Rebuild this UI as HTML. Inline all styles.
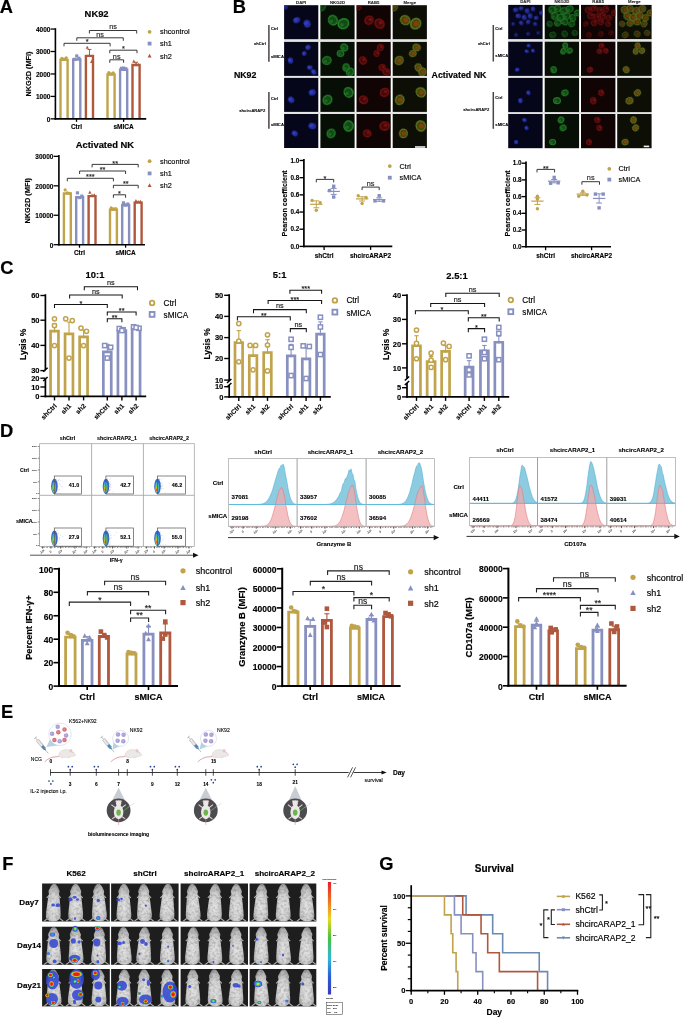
<!DOCTYPE html>
<html><head><meta charset="utf-8"><style>
html,body{margin:0;padding:0;background:#fff;}
svg{display:block;}
text{stroke:currentColor;paint-order:stroke;}
</style></head><body>
<svg width="685" height="1018" viewBox="0 0 685 1018">
<rect width="685" height="1018" fill="#fff"/>
<path d="M60.50,118.85 L60.50,59.88 L67.60,59.88 L67.60,118.85" fill="none" stroke="#C0A34B" stroke-width="2.4" stroke-linejoin="miter"/>
<circle cx="61.85" cy="58.23" r="1.60" fill="#C0A34B"/>
<circle cx="64.05" cy="59.13" r="1.60" fill="#C0A34B"/>
<circle cx="66.25" cy="57.79" r="1.60" fill="#C0A34B"/>
<path d="M73.20,118.85 L73.20,59.44 L80.30,59.44 L80.30,118.85" fill="none" stroke="#8890C0" stroke-width="2.4" stroke-linejoin="miter"/>
<rect x="72.95" y="57.76" width="3.20" height="3.20" fill="#8890C0"/>
<rect x="75.15" y="54.39" width="3.20" height="3.20" fill="#8890C0"/>
<rect x="77.35" y="56.63" width="3.20" height="3.20" fill="#8890C0"/>
<line x1="89.45" y1="49.48" x2="89.45" y2="57.04" stroke="#B0583E" stroke-width="1.0"/>
<line x1="87.45" y1="49.48" x2="91.45" y2="49.48" stroke="#B0583E" stroke-width="1.0"/>
<path d="M85.90,118.85 L85.90,55.84 L93.00,55.84 L93.00,118.85" fill="none" stroke="#B0583E" stroke-width="2.4" stroke-linejoin="miter"/>
<path d="M87.25,45.70 L88.93,48.87 L85.57,48.87 Z" fill="#B0583E"/>
<path d="M89.45,53.78 L91.13,56.95 L87.77,56.95 Z" fill="#B0583E"/>
<path d="M91.65,59.84 L93.33,63.01 L89.97,63.01 Z" fill="#B0583E"/>
<path d="M107.50,118.85 L107.50,74.48 L114.60,74.48 L114.60,118.85" fill="none" stroke="#C0A34B" stroke-width="2.4" stroke-linejoin="miter"/>
<circle cx="108.85" cy="72.60" r="1.60" fill="#C0A34B"/>
<circle cx="111.05" cy="73.95" r="1.60" fill="#C0A34B"/>
<circle cx="113.25" cy="72.83" r="1.60" fill="#C0A34B"/>
<path d="M120.10,118.85 L120.10,69.76 L127.20,69.76 L127.20,118.85" fill="none" stroke="#8890C0" stroke-width="2.4" stroke-linejoin="miter"/>
<rect x="119.85" y="66.74" width="3.20" height="3.20" fill="#8890C0"/>
<rect x="122.05" y="66.51" width="3.20" height="3.20" fill="#8890C0"/>
<rect x="124.25" y="67.19" width="3.20" height="3.20" fill="#8890C0"/>
<line x1="136.05" y1="62.28" x2="136.05" y2="66.25" stroke="#B0583E" stroke-width="1.0"/>
<line x1="134.05" y1="62.28" x2="138.05" y2="62.28" stroke="#B0583E" stroke-width="1.0"/>
<path d="M132.50,118.85 L132.50,65.05 L139.60,65.05 L139.60,118.85" fill="none" stroke="#B0583E" stroke-width="2.4" stroke-linejoin="miter"/>
<path d="M133.85,59.62 L135.53,62.79 L132.17,62.79 Z" fill="#B0583E"/>
<path d="M136.05,62.54 L137.73,65.70 L134.37,65.70 Z" fill="#B0583E"/>
<path d="M138.25,62.76 L139.93,65.93 L136.57,65.93 Z" fill="#B0583E"/>
<line x1="55.40" y1="28.20" x2="55.40" y2="119.65" stroke="#000" stroke-width="1.6"/>
<line x1="50.60" y1="118.85" x2="55.40" y2="118.85" stroke="#000" stroke-width="1.2800000000000002"/>
<text x="50.40" y="121.77" font-size="6.5" font-weight="bold" text-anchor="end" fill="#000" color="#000" stroke-width="0.123" font-family="'Liberation Sans', Arial, sans-serif">0</text>
<line x1="50.60" y1="96.40" x2="55.40" y2="96.40" stroke="#000" stroke-width="1.2800000000000002"/>
<text x="50.40" y="99.32" font-size="6.5" font-weight="bold" text-anchor="end" fill="#000" color="#000" stroke-width="0.123" font-family="'Liberation Sans', Arial, sans-serif">1000</text>
<line x1="50.60" y1="73.95" x2="55.40" y2="73.95" stroke="#000" stroke-width="1.2800000000000002"/>
<text x="50.40" y="76.87" font-size="6.5" font-weight="bold" text-anchor="end" fill="#000" color="#000" stroke-width="0.123" font-family="'Liberation Sans', Arial, sans-serif">2000</text>
<line x1="50.60" y1="51.50" x2="55.40" y2="51.50" stroke="#000" stroke-width="1.2800000000000002"/>
<text x="50.40" y="54.42" font-size="6.5" font-weight="bold" text-anchor="end" fill="#000" color="#000" stroke-width="0.123" font-family="'Liberation Sans', Arial, sans-serif">3000</text>
<line x1="50.60" y1="29.05" x2="55.40" y2="29.05" stroke="#000" stroke-width="1.2800000000000002"/>
<text x="50.40" y="31.97" font-size="6.5" font-weight="bold" text-anchor="end" fill="#000" color="#000" stroke-width="0.123" font-family="'Liberation Sans', Arial, sans-serif">4000</text>
<line x1="54.60" y1="118.85" x2="146.20" y2="118.85" stroke="#000" stroke-width="1.6"/>
<line x1="76.50" y1="118.85" x2="76.50" y2="121.85" stroke="#000" stroke-width="1.2800000000000002"/>
<text x="76.50" y="128.85" font-size="6.5" font-weight="bold" text-anchor="middle" fill="#000" color="#000" stroke-width="0.123" font-family="'Liberation Sans', Arial, sans-serif">Ctrl</text>
<line x1="123.60" y1="118.85" x2="123.60" y2="121.85" stroke="#000" stroke-width="1.2800000000000002"/>
<text x="123.60" y="128.85" font-size="6.5" font-weight="bold" text-anchor="middle" fill="#000" color="#000" stroke-width="0.123" font-family="'Liberation Sans', Arial, sans-serif">sMICA</text>
<path d="M89.40,33.50 L89.40,30.50 L136.70,30.50 L136.70,33.50" fill="none" stroke="#222" stroke-width="0.9"/>
<text x="113.05" y="29.20" font-size="7.3" text-anchor="middle" fill="#222" color="#222" stroke-width="0.139" font-family="'Liberation Sans', Arial, sans-serif">ns</text>
<path d="M76.80,40.80 L76.80,37.80 L123.30,37.80 L123.30,40.80" fill="none" stroke="#222" stroke-width="0.9"/>
<text x="100.05" y="36.50" font-size="7.3" text-anchor="middle" fill="#222" color="#222" stroke-width="0.139" font-family="'Liberation Sans', Arial, sans-serif">ns</text>
<path d="M64.00,46.30 L64.00,43.30 L110.10,43.30 L110.10,46.30" fill="none" stroke="#222" stroke-width="0.9"/>
<text x="87.05" y="44.47" font-size="7.3" text-anchor="middle" fill="#222" color="#222" stroke-width="0.139" font-family="'Liberation Sans', Arial, sans-serif">*</text>
<path d="M109.80,53.20 L109.80,50.20 L137.00,50.20 L137.00,53.20" fill="none" stroke="#222" stroke-width="0.9"/>
<text x="123.40" y="51.37" font-size="7.3" text-anchor="middle" fill="#222" color="#222" stroke-width="0.139" font-family="'Liberation Sans', Arial, sans-serif">*</text>
<path d="M109.80,62.80 L109.80,59.80 L123.60,59.80 L123.60,62.80" fill="none" stroke="#222" stroke-width="0.9"/>
<text x="116.70" y="58.50" font-size="7.3" text-anchor="middle" fill="#222" color="#222" stroke-width="0.139" font-family="'Liberation Sans', Arial, sans-serif">ns</text>
<text x="96.60" y="17.00" font-size="9.4" font-weight="bold" text-anchor="middle" fill="#000" color="#000" stroke-width="0.179" font-family="'Liberation Sans', Arial, sans-serif">NK92</text>
<text x="30.60" y="74.00" font-size="7.3" font-weight="bold" text-anchor="middle" fill="#000" color="#000" stroke-width="0.139" font-family="'Liberation Sans', Arial, sans-serif" transform="rotate(-90 30.60 74.00)">NKG2D (MFI)</text>
<circle cx="149.60" cy="31.80" r="1.90" fill="#C0A34B"/>
<text x="160.00" y="34.43" font-size="7.3" text-anchor="start" fill="#000" color="#000" stroke-width="0.139" font-family="'Liberation Sans', Arial, sans-serif">shcontrol</text>
<rect x="147.70" y="41.70" width="3.80" height="3.80" fill="#8890C0"/>
<text x="160.00" y="46.23" font-size="7.3" text-anchor="start" fill="#000" color="#000" stroke-width="0.139" font-family="'Liberation Sans', Arial, sans-serif">sh1</text>
<path d="M149.60,53.81 L151.59,57.57 L147.60,57.57 Z" fill="#B0583E"/>
<text x="160.00" y="58.53" font-size="7.3" text-anchor="start" fill="#000" color="#000" stroke-width="0.139" font-family="'Liberation Sans', Arial, sans-serif">sh2</text>
<path d="M63.90,244.70 L63.90,193.48 L70.80,193.48 L70.80,244.70" fill="none" stroke="#C0A34B" stroke-width="2.4" stroke-linejoin="miter"/>
<circle cx="65.15" cy="189.92" r="1.60" fill="#C0A34B"/>
<circle cx="67.35" cy="192.87" r="1.60" fill="#C0A34B"/>
<circle cx="69.55" cy="193.46" r="1.60" fill="#C0A34B"/>
<path d="M76.20,244.70 L76.20,197.31 L83.10,197.31 L83.10,244.70" fill="none" stroke="#8890C0" stroke-width="2.4" stroke-linejoin="miter"/>
<rect x="75.85" y="191.27" width="3.20" height="3.20" fill="#8890C0"/>
<rect x="78.05" y="195.98" width="3.20" height="3.20" fill="#8890C0"/>
<rect x="80.25" y="194.51" width="3.20" height="3.20" fill="#8890C0"/>
<path d="M88.60,244.70 L88.60,196.13 L95.50,196.13 L95.50,244.70" fill="none" stroke="#B0583E" stroke-width="2.4" stroke-linejoin="miter"/>
<path d="M89.85,190.52 L91.53,193.69 L88.17,193.69 Z" fill="#B0583E"/>
<path d="M92.05,193.46 L93.73,196.63 L90.37,196.63 Z" fill="#B0583E"/>
<path d="M94.25,193.17 L95.93,196.34 L92.57,196.34 Z" fill="#B0583E"/>
<path d="M110.00,244.70 L110.00,209.68 L116.90,209.68 L116.90,244.70" fill="none" stroke="#C0A34B" stroke-width="2.4" stroke-linejoin="miter"/>
<circle cx="111.25" cy="207.89" r="1.60" fill="#C0A34B"/>
<circle cx="113.45" cy="208.77" r="1.60" fill="#C0A34B"/>
<circle cx="115.65" cy="208.48" r="1.60" fill="#C0A34B"/>
<path d="M122.20,244.70 L122.20,205.26 L129.10,205.26 L129.10,244.70" fill="none" stroke="#8890C0" stroke-width="2.4" stroke-linejoin="miter"/>
<rect x="121.85" y="201.28" width="3.20" height="3.20" fill="#8890C0"/>
<rect x="124.05" y="203.34" width="3.20" height="3.20" fill="#8890C0"/>
<rect x="126.25" y="202.46" width="3.20" height="3.20" fill="#8890C0"/>
<path d="M134.70,244.70 L134.70,202.61 L141.60,202.61 L141.60,244.70" fill="none" stroke="#B0583E" stroke-width="2.4" stroke-linejoin="miter"/>
<path d="M135.95,199.06 L137.63,202.23 L134.27,202.23 Z" fill="#B0583E"/>
<path d="M138.15,199.94 L139.83,203.11 L136.47,203.11 Z" fill="#B0583E"/>
<path d="M140.35,199.65 L142.03,202.82 L138.67,202.82 Z" fill="#B0583E"/>
<line x1="58.90" y1="154.90" x2="58.90" y2="245.50" stroke="#000" stroke-width="1.6"/>
<line x1="53.60" y1="244.70" x2="58.90" y2="244.70" stroke="#000" stroke-width="1.2800000000000002"/>
<text x="53.40" y="247.62" font-size="6.5" font-weight="bold" text-anchor="end" fill="#000" color="#000" stroke-width="0.123" font-family="'Liberation Sans', Arial, sans-serif">0</text>
<line x1="53.60" y1="215.25" x2="58.90" y2="215.25" stroke="#000" stroke-width="1.2800000000000002"/>
<text x="53.40" y="218.18" font-size="6.5" font-weight="bold" text-anchor="end" fill="#000" color="#000" stroke-width="0.123" font-family="'Liberation Sans', Arial, sans-serif">10000</text>
<line x1="53.60" y1="185.80" x2="58.90" y2="185.80" stroke="#000" stroke-width="1.2800000000000002"/>
<text x="53.40" y="188.72" font-size="6.5" font-weight="bold" text-anchor="end" fill="#000" color="#000" stroke-width="0.123" font-family="'Liberation Sans', Arial, sans-serif">20000</text>
<line x1="53.60" y1="156.35" x2="58.90" y2="156.35" stroke="#000" stroke-width="1.2800000000000002"/>
<text x="53.40" y="159.27" font-size="6.5" font-weight="bold" text-anchor="end" fill="#000" color="#000" stroke-width="0.123" font-family="'Liberation Sans', Arial, sans-serif">30000</text>
<line x1="58.10" y1="244.70" x2="145.00" y2="244.70" stroke="#000" stroke-width="1.6"/>
<line x1="79.50" y1="244.70" x2="79.50" y2="247.70" stroke="#000" stroke-width="1.2800000000000002"/>
<text x="79.50" y="255.20" font-size="6.5" font-weight="bold" text-anchor="middle" fill="#000" color="#000" stroke-width="0.123" font-family="'Liberation Sans', Arial, sans-serif">Ctrl</text>
<line x1="125.60" y1="244.70" x2="125.60" y2="247.70" stroke="#000" stroke-width="1.2800000000000002"/>
<text x="125.60" y="255.20" font-size="6.5" font-weight="bold" text-anchor="middle" fill="#000" color="#000" stroke-width="0.123" font-family="'Liberation Sans', Arial, sans-serif">sMICA</text>
<path d="M92.10,167.40 L92.10,164.40 L138.20,164.40 L138.20,167.40" fill="none" stroke="#222" stroke-width="0.9"/>
<text x="115.15" y="165.57" font-size="7.3" text-anchor="middle" fill="#222" color="#222" stroke-width="0.139" font-family="'Liberation Sans', Arial, sans-serif">**</text>
<path d="M79.60,174.00 L79.60,171.00 L125.60,171.00 L125.60,174.00" fill="none" stroke="#222" stroke-width="0.9"/>
<text x="102.60" y="172.17" font-size="7.3" text-anchor="middle" fill="#222" color="#222" stroke-width="0.139" font-family="'Liberation Sans', Arial, sans-serif">**</text>
<path d="M67.30,181.30 L67.30,178.30 L113.40,178.30 L113.40,181.30" fill="none" stroke="#222" stroke-width="0.9"/>
<text x="90.35" y="179.47" font-size="7.3" text-anchor="middle" fill="#222" color="#222" stroke-width="0.139" font-family="'Liberation Sans', Arial, sans-serif">***</text>
<path d="M113.40,188.30 L113.40,185.30 L138.20,185.30 L138.20,188.30" fill="none" stroke="#222" stroke-width="0.9"/>
<text x="125.80" y="186.47" font-size="7.3" text-anchor="middle" fill="#222" color="#222" stroke-width="0.139" font-family="'Liberation Sans', Arial, sans-serif">**</text>
<path d="M113.40,197.80 L113.40,194.80 L125.60,194.80 L125.60,197.80" fill="none" stroke="#222" stroke-width="0.9"/>
<text x="119.50" y="195.97" font-size="7.3" text-anchor="middle" fill="#222" color="#222" stroke-width="0.139" font-family="'Liberation Sans', Arial, sans-serif">*</text>
<text x="104.90" y="148.30" font-size="9.4" font-weight="bold" text-anchor="middle" fill="#000" color="#000" stroke-width="0.179" font-family="'Liberation Sans', Arial, sans-serif">Activated NK</text>
<text x="30.40" y="200.80" font-size="7.4" font-weight="bold" text-anchor="middle" fill="#000" color="#000" stroke-width="0.141" font-family="'Liberation Sans', Arial, sans-serif" transform="rotate(-90 30.40 200.80)">NKG2D (MFI)</text>
<circle cx="149.60" cy="161.20" r="1.90" fill="#C0A34B"/>
<text x="160.00" y="163.83" font-size="7.3" text-anchor="start" fill="#000" color="#000" stroke-width="0.139" font-family="'Liberation Sans', Arial, sans-serif">shcontrol</text>
<rect x="147.70" y="171.50" width="3.80" height="3.80" fill="#8890C0"/>
<text x="160.00" y="176.03" font-size="7.3" text-anchor="start" fill="#000" color="#000" stroke-width="0.139" font-family="'Liberation Sans', Arial, sans-serif">sh1</text>
<path d="M149.60,183.31 L151.59,187.07 L147.60,187.07 Z" fill="#B0583E"/>
<text x="160.00" y="188.03" font-size="7.3" text-anchor="start" fill="#000" color="#000" stroke-width="0.139" font-family="'Liberation Sans', Arial, sans-serif">sh2</text>
<defs><filter id="b1" x="-50%" y="-50%" width="200%" height="200%"><feGaussianBlur stdDeviation="0.6"/></filter></defs>
<rect x="284.10" y="39.20" width="142.80" height="2.70" fill="#e4e4e4"/>
<rect x="284.10" y="75.90" width="142.80" height="2.00" fill="#e4e4e4"/>
<rect x="284.10" y="111.90" width="142.80" height="2.10" fill="#e4e4e4"/>
<rect x="284.10" y="5.20" width="34.20" height="34.00" fill="#06061a"/>
<g clip-path="url(#cp00284)">
<ellipse cx="296.60" cy="20.20" rx="3.57" ry="3.06" transform="rotate(158 296.60 20.20)" fill="#2a36b4" opacity="0.85" filter="url(#b1)"/>
<ellipse cx="295.75" cy="19.86" rx="1.70" ry="1.53" fill="#3e50d8" opacity="0.50" filter="url(#b1)"/>
<ellipse cx="307.10" cy="23.70" rx="3.99" ry="3.42" transform="rotate(66 307.10 23.70)" fill="#2a36b4" opacity="0.85" filter="url(#b1)"/>
<ellipse cx="306.15" cy="23.32" rx="1.90" ry="1.71" fill="#3e50d8" opacity="0.50" filter="url(#b1)"/>
<ellipse cx="285.10" cy="6.70" rx="3.15" ry="2.70" transform="rotate(43 285.10 6.70)" fill="#2a36b4" opacity="0.59" filter="url(#b1)"/>
<ellipse cx="284.35" cy="6.40" rx="1.50" ry="1.35" fill="#3e50d8" opacity="0.35" filter="url(#b1)"/>
</g>
<clipPath id="cp00284"><rect x="284.10" y="5.20" width="34.20" height="34.00"/></clipPath>
<rect x="320.40" y="5.20" width="34.20" height="34.00" fill="#060e06"/>
<g clip-path="url(#cp01320)">
<ellipse cx="332.90" cy="20.20" rx="5.44" ry="4.90" transform="rotate(61 332.90 20.20)" fill="#17561a" opacity="0.85" filter="url(#b1)"/>
<ellipse cx="332.90" cy="20.20" rx="4.79" ry="4.24" transform="rotate(61 332.90 20.20)" fill="none" stroke="#30a030" stroke-width="1.09" opacity="0.80" filter="url(#b1)"/>
<circle cx="331.54" cy="21.29" r="1.63" fill="#2a8a2a" opacity="0.50" filter="url(#b1)"/>
<ellipse cx="343.40" cy="23.70" rx="6.08" ry="5.47" transform="rotate(149 343.40 23.70)" fill="#17561a" opacity="0.85" filter="url(#b1)"/>
<ellipse cx="343.40" cy="23.70" rx="5.35" ry="4.74" transform="rotate(149 343.40 23.70)" fill="none" stroke="#30a030" stroke-width="1.22" opacity="0.80" filter="url(#b1)"/>
<circle cx="341.88" cy="24.92" r="1.82" fill="#2a8a2a" opacity="0.50" filter="url(#b1)"/>
<ellipse cx="321.40" cy="6.70" rx="4.80" ry="4.32" transform="rotate(126 321.40 6.70)" fill="#17561a" opacity="0.59" filter="url(#b1)"/>
<ellipse cx="321.40" cy="6.70" rx="4.22" ry="3.74" transform="rotate(126 321.40 6.70)" fill="none" stroke="#30a030" stroke-width="0.96" opacity="0.56" filter="url(#b1)"/>
<circle cx="320.20" cy="7.66" r="1.44" fill="#2a8a2a" opacity="0.35" filter="url(#b1)"/>
</g>
<clipPath id="cp01320"><rect x="320.40" y="5.20" width="34.20" height="34.00"/></clipPath>
<rect x="356.50" y="5.20" width="34.20" height="34.00" fill="#100404"/>
<g clip-path="url(#cp02356)">
<ellipse cx="369.00" cy="20.20" rx="5.17" ry="4.62" transform="rotate(136 369.00 20.20)" fill="#500a0a" opacity="0.80" filter="url(#b1)"/>
<ellipse cx="369.00" cy="20.20" rx="4.24" ry="3.70" transform="rotate(136 369.00 20.20)" fill="none" stroke="#a01818" stroke-width="1.09" opacity="0.62" filter="url(#b1)"/>
<circle cx="370.09" cy="19.38" r="1.63" fill="#a01818" opacity="0.55" filter="url(#b1)"/>
<ellipse cx="379.50" cy="23.70" rx="5.78" ry="5.17" transform="rotate(44 379.50 23.70)" fill="#500a0a" opacity="0.80" filter="url(#b1)"/>
<ellipse cx="379.50" cy="23.70" rx="4.74" ry="4.13" transform="rotate(44 379.50 23.70)" fill="none" stroke="#a01818" stroke-width="1.22" opacity="0.62" filter="url(#b1)"/>
<circle cx="380.72" cy="22.79" r="1.82" fill="#a01818" opacity="0.55" filter="url(#b1)"/>
<ellipse cx="357.50" cy="6.70" rx="4.56" ry="4.08" transform="rotate(21 357.50 6.70)" fill="#500a0a" opacity="0.56" filter="url(#b1)"/>
<ellipse cx="357.50" cy="6.70" rx="3.74" ry="3.26" transform="rotate(21 357.50 6.70)" fill="none" stroke="#a01818" stroke-width="0.96" opacity="0.43" filter="url(#b1)"/>
<circle cx="358.46" cy="5.98" r="1.44" fill="#a01818" opacity="0.39" filter="url(#b1)"/>
</g>
<clipPath id="cp02356"><rect x="356.50" y="5.20" width="34.20" height="34.00"/></clipPath>
<rect x="392.70" y="5.20" width="34.20" height="34.00" fill="#0d0f07"/>
<g clip-path="url(#cp03392)">
<ellipse cx="405.20" cy="20.20" rx="5.44" ry="4.90" transform="rotate(36 405.20 20.20)" fill="#5a4a0e" opacity="0.85" filter="url(#b1)"/>
<ellipse cx="405.20" cy="20.20" rx="4.79" ry="4.24" transform="rotate(36 405.20 20.20)" fill="none" stroke="#5a9a28" stroke-width="1.09" opacity="0.80" filter="url(#b1)"/>
<circle cx="405.74" cy="20.20" r="2.45" fill="#a04412" opacity="0.55" filter="url(#b1)"/>
<ellipse cx="415.70" cy="23.70" rx="6.08" ry="5.47" transform="rotate(124 415.70 23.70)" fill="#5a4a0e" opacity="0.85" filter="url(#b1)"/>
<ellipse cx="415.70" cy="23.70" rx="5.35" ry="4.74" transform="rotate(124 415.70 23.70)" fill="none" stroke="#5a9a28" stroke-width="1.22" opacity="0.80" filter="url(#b1)"/>
<circle cx="416.31" cy="23.70" r="2.74" fill="#a04412" opacity="0.55" filter="url(#b1)"/>
<ellipse cx="393.70" cy="6.70" rx="4.80" ry="4.32" transform="rotate(101 393.70 6.70)" fill="#5a4a0e" opacity="0.59" filter="url(#b1)"/>
<ellipse cx="393.70" cy="6.70" rx="4.22" ry="3.74" transform="rotate(101 393.70 6.70)" fill="none" stroke="#5a9a28" stroke-width="0.96" opacity="0.56" filter="url(#b1)"/>
<circle cx="394.18" cy="6.70" r="2.16" fill="#a04412" opacity="0.39" filter="url(#b1)"/>
</g>
<clipPath id="cp03392"><rect x="392.70" y="5.20" width="34.20" height="34.00"/></clipPath>
<rect x="284.10" y="41.90" width="34.20" height="34.00" fill="#06061a"/>
<g clip-path="url(#cp10284)">
<ellipse cx="308.00" cy="47.40" rx="2.73" ry="2.34" transform="rotate(142 308.00 47.40)" fill="#2a36b4" opacity="0.85" filter="url(#b1)"/>
<ellipse cx="307.35" cy="47.14" rx="1.30" ry="1.17" fill="#3e50d8" opacity="0.50" filter="url(#b1)"/>
<ellipse cx="304.20" cy="53.50" rx="2.52" ry="2.16" transform="rotate(105 304.20 53.50)" fill="#2a36b4" opacity="0.85" filter="url(#b1)"/>
<ellipse cx="303.60" cy="53.26" rx="1.20" ry="1.08" fill="#3e50d8" opacity="0.50" filter="url(#b1)"/>
<ellipse cx="290.50" cy="60.50" rx="3.15" ry="2.70" transform="rotate(77 290.50 60.50)" fill="#2a36b4" opacity="0.85" filter="url(#b1)"/>
<ellipse cx="289.75" cy="60.20" rx="1.50" ry="1.35" fill="#3e50d8" opacity="0.50" filter="url(#b1)"/>
<ellipse cx="309.80" cy="67.50" rx="2.73" ry="2.34" transform="rotate(10 309.80 67.50)" fill="#2a36b4" opacity="0.85" filter="url(#b1)"/>
<ellipse cx="309.15" cy="67.24" rx="1.30" ry="1.17" fill="#3e50d8" opacity="0.50" filter="url(#b1)"/>
<ellipse cx="313.80" cy="71.90" rx="2.94" ry="2.52" transform="rotate(53 313.80 71.90)" fill="#2a36b4" opacity="0.85" filter="url(#b1)"/>
<ellipse cx="313.10" cy="71.62" rx="1.40" ry="1.26" fill="#3e50d8" opacity="0.50" filter="url(#b1)"/>
</g>
<clipPath id="cp10284"><rect x="284.10" y="41.90" width="34.20" height="34.00"/></clipPath>
<rect x="320.40" y="41.90" width="34.20" height="34.00" fill="#060e06"/>
<g clip-path="url(#cp11320)">
<ellipse cx="344.30" cy="47.40" rx="4.16" ry="3.74" transform="rotate(45 344.30 47.40)" fill="#17561a" opacity="0.85" filter="url(#b1)"/>
<ellipse cx="344.30" cy="47.40" rx="3.66" ry="3.24" transform="rotate(45 344.30 47.40)" fill="none" stroke="#30a030" stroke-width="0.83" opacity="0.80" filter="url(#b1)"/>
<circle cx="343.26" cy="48.23" r="1.25" fill="#2a8a2a" opacity="0.50" filter="url(#b1)"/>
<ellipse cx="340.50" cy="53.50" rx="3.84" ry="3.46" transform="rotate(8 340.50 53.50)" fill="#17561a" opacity="0.85" filter="url(#b1)"/>
<ellipse cx="340.50" cy="53.50" rx="3.38" ry="3.00" transform="rotate(8 340.50 53.50)" fill="none" stroke="#30a030" stroke-width="0.80" opacity="0.80" filter="url(#b1)"/>
<circle cx="339.54" cy="54.27" r="1.15" fill="#2a8a2a" opacity="0.50" filter="url(#b1)"/>
<ellipse cx="326.80" cy="60.50" rx="4.80" ry="4.32" transform="rotate(160 326.80 60.50)" fill="#17561a" opacity="0.85" filter="url(#b1)"/>
<ellipse cx="326.80" cy="60.50" rx="4.22" ry="3.74" transform="rotate(160 326.80 60.50)" fill="none" stroke="#30a030" stroke-width="0.96" opacity="0.80" filter="url(#b1)"/>
<circle cx="325.60" cy="61.46" r="1.44" fill="#2a8a2a" opacity="0.50" filter="url(#b1)"/>
<ellipse cx="346.10" cy="67.50" rx="4.16" ry="3.74" transform="rotate(93 346.10 67.50)" fill="#17561a" opacity="0.85" filter="url(#b1)"/>
<ellipse cx="346.10" cy="67.50" rx="3.66" ry="3.24" transform="rotate(93 346.10 67.50)" fill="none" stroke="#30a030" stroke-width="0.83" opacity="0.80" filter="url(#b1)"/>
<circle cx="345.06" cy="68.33" r="1.25" fill="#2a8a2a" opacity="0.50" filter="url(#b1)"/>
<ellipse cx="350.10" cy="71.90" rx="4.48" ry="4.03" transform="rotate(136 350.10 71.90)" fill="#17561a" opacity="0.85" filter="url(#b1)"/>
<ellipse cx="350.10" cy="71.90" rx="3.94" ry="3.49" transform="rotate(136 350.10 71.90)" fill="none" stroke="#30a030" stroke-width="0.90" opacity="0.80" filter="url(#b1)"/>
<circle cx="348.98" cy="72.80" r="1.34" fill="#2a8a2a" opacity="0.50" filter="url(#b1)"/>
</g>
<clipPath id="cp11320"><rect x="320.40" y="41.90" width="34.20" height="34.00"/></clipPath>
<rect x="356.50" y="41.90" width="34.20" height="34.00" fill="#100404"/>
<g clip-path="url(#cp12356)">
<ellipse cx="380.40" cy="47.40" rx="3.95" ry="3.54" transform="rotate(121 380.40 47.40)" fill="#500a0a" opacity="0.80" filter="url(#b1)"/>
<ellipse cx="380.40" cy="47.40" rx="3.24" ry="2.83" transform="rotate(121 380.40 47.40)" fill="none" stroke="#a01818" stroke-width="0.83" opacity="0.62" filter="url(#b1)"/>
<circle cx="381.23" cy="46.78" r="1.25" fill="#a01818" opacity="0.55" filter="url(#b1)"/>
<ellipse cx="376.60" cy="53.50" rx="3.65" ry="3.26" transform="rotate(84 376.60 53.50)" fill="#500a0a" opacity="0.80" filter="url(#b1)"/>
<ellipse cx="376.60" cy="53.50" rx="3.00" ry="2.61" transform="rotate(84 376.60 53.50)" fill="none" stroke="#a01818" stroke-width="0.80" opacity="0.62" filter="url(#b1)"/>
<circle cx="377.37" cy="52.92" r="1.15" fill="#a01818" opacity="0.55" filter="url(#b1)"/>
<ellipse cx="362.90" cy="60.50" rx="4.56" ry="4.08" transform="rotate(56 362.90 60.50)" fill="#500a0a" opacity="0.80" filter="url(#b1)"/>
<ellipse cx="362.90" cy="60.50" rx="3.74" ry="3.26" transform="rotate(56 362.90 60.50)" fill="none" stroke="#a01818" stroke-width="0.96" opacity="0.62" filter="url(#b1)"/>
<circle cx="363.86" cy="59.78" r="1.44" fill="#a01818" opacity="0.55" filter="url(#b1)"/>
<ellipse cx="382.20" cy="67.50" rx="3.95" ry="3.54" transform="rotate(169 382.20 67.50)" fill="#500a0a" opacity="0.80" filter="url(#b1)"/>
<ellipse cx="382.20" cy="67.50" rx="3.24" ry="2.83" transform="rotate(169 382.20 67.50)" fill="none" stroke="#a01818" stroke-width="0.83" opacity="0.62" filter="url(#b1)"/>
<circle cx="383.03" cy="66.88" r="1.25" fill="#a01818" opacity="0.55" filter="url(#b1)"/>
<ellipse cx="386.20" cy="71.90" rx="4.26" ry="3.81" transform="rotate(32 386.20 71.90)" fill="#500a0a" opacity="0.80" filter="url(#b1)"/>
<ellipse cx="386.20" cy="71.90" rx="3.49" ry="3.05" transform="rotate(32 386.20 71.90)" fill="none" stroke="#a01818" stroke-width="0.90" opacity="0.62" filter="url(#b1)"/>
<circle cx="387.10" cy="71.23" r="1.34" fill="#a01818" opacity="0.55" filter="url(#b1)"/>
</g>
<clipPath id="cp12356"><rect x="356.50" y="41.90" width="34.20" height="34.00"/></clipPath>
<rect x="392.70" y="41.90" width="34.20" height="34.00" fill="#0d0f07"/>
<g clip-path="url(#cp13392)">
<ellipse cx="416.60" cy="47.40" rx="4.16" ry="3.74" transform="rotate(20 416.60 47.40)" fill="#5a4a0e" opacity="0.85" filter="url(#b1)"/>
<ellipse cx="416.60" cy="47.40" rx="3.66" ry="3.24" transform="rotate(20 416.60 47.40)" fill="none" stroke="#5a9a28" stroke-width="0.83" opacity="0.80" filter="url(#b1)"/>
<circle cx="417.02" cy="47.40" r="1.87" fill="#a04412" opacity="0.55" filter="url(#b1)"/>
<ellipse cx="412.80" cy="53.50" rx="3.84" ry="3.46" transform="rotate(163 412.80 53.50)" fill="#5a4a0e" opacity="0.85" filter="url(#b1)"/>
<ellipse cx="412.80" cy="53.50" rx="3.38" ry="3.00" transform="rotate(163 412.80 53.50)" fill="none" stroke="#5a9a28" stroke-width="0.80" opacity="0.80" filter="url(#b1)"/>
<circle cx="413.18" cy="53.50" r="1.73" fill="#a04412" opacity="0.55" filter="url(#b1)"/>
<ellipse cx="399.10" cy="60.50" rx="4.80" ry="4.32" transform="rotate(135 399.10 60.50)" fill="#5a4a0e" opacity="0.85" filter="url(#b1)"/>
<ellipse cx="399.10" cy="60.50" rx="4.22" ry="3.74" transform="rotate(135 399.10 60.50)" fill="none" stroke="#5a9a28" stroke-width="0.96" opacity="0.80" filter="url(#b1)"/>
<circle cx="399.58" cy="60.50" r="2.16" fill="#a04412" opacity="0.55" filter="url(#b1)"/>
<ellipse cx="418.40" cy="67.50" rx="4.16" ry="3.74" transform="rotate(68 418.40 67.50)" fill="#5a4a0e" opacity="0.85" filter="url(#b1)"/>
<ellipse cx="418.40" cy="67.50" rx="3.66" ry="3.24" transform="rotate(68 418.40 67.50)" fill="none" stroke="#5a9a28" stroke-width="0.83" opacity="0.80" filter="url(#b1)"/>
<circle cx="418.82" cy="67.50" r="1.87" fill="#a04412" opacity="0.55" filter="url(#b1)"/>
<ellipse cx="422.40" cy="71.90" rx="4.48" ry="4.03" transform="rotate(111 422.40 71.90)" fill="#5a4a0e" opacity="0.85" filter="url(#b1)"/>
<ellipse cx="422.40" cy="71.90" rx="3.94" ry="3.49" transform="rotate(111 422.40 71.90)" fill="none" stroke="#5a9a28" stroke-width="0.90" opacity="0.80" filter="url(#b1)"/>
<circle cx="422.85" cy="71.90" r="2.02" fill="#a04412" opacity="0.55" filter="url(#b1)"/>
</g>
<clipPath id="cp13392"><rect x="392.70" y="41.90" width="34.20" height="34.00"/></clipPath>
<rect x="284.10" y="77.90" width="34.20" height="34.00" fill="#06061a"/>
<g clip-path="url(#cp20284)">
<ellipse cx="291.10" cy="99.80" rx="3.46" ry="2.97" transform="rotate(47 291.10 99.80)" fill="#2a36b4" opacity="0.85" filter="url(#b1)"/>
<ellipse cx="290.28" cy="99.47" rx="1.65" ry="1.48" fill="#3e50d8" opacity="0.50" filter="url(#b1)"/>
<ellipse cx="312.20" cy="92.40" rx="3.57" ry="3.06" transform="rotate(162 312.20 92.40)" fill="#2a36b4" opacity="0.85" filter="url(#b1)"/>
<ellipse cx="311.35" cy="92.06" rx="1.70" ry="1.53" fill="#3e50d8" opacity="0.50" filter="url(#b1)"/>
</g>
<clipPath id="cp20284"><rect x="284.10" y="77.90" width="34.20" height="34.00"/></clipPath>
<rect x="320.40" y="77.90" width="34.20" height="34.00" fill="#060e06"/>
<g clip-path="url(#cp21320)">
<ellipse cx="327.40" cy="99.80" rx="5.28" ry="4.75" transform="rotate(130 327.40 99.80)" fill="#17561a" opacity="0.85" filter="url(#b1)"/>
<ellipse cx="327.40" cy="99.80" rx="4.65" ry="4.12" transform="rotate(130 327.40 99.80)" fill="none" stroke="#30a030" stroke-width="1.06" opacity="0.80" filter="url(#b1)"/>
<circle cx="326.08" cy="100.86" r="1.58" fill="#2a8a2a" opacity="0.50" filter="url(#b1)"/>
<ellipse cx="348.50" cy="92.40" rx="5.44" ry="4.90" transform="rotate(65 348.50 92.40)" fill="#17561a" opacity="0.85" filter="url(#b1)"/>
<ellipse cx="348.50" cy="92.40" rx="4.79" ry="4.24" transform="rotate(65 348.50 92.40)" fill="none" stroke="#30a030" stroke-width="1.09" opacity="0.80" filter="url(#b1)"/>
<circle cx="347.14" cy="93.49" r="1.63" fill="#2a8a2a" opacity="0.50" filter="url(#b1)"/>
</g>
<clipPath id="cp21320"><rect x="320.40" y="77.90" width="34.20" height="34.00"/></clipPath>
<rect x="356.50" y="77.90" width="34.20" height="34.00" fill="#100404"/>
<g clip-path="url(#cp22356)">
<ellipse cx="363.50" cy="99.80" rx="5.02" ry="4.49" transform="rotate(26 363.50 99.80)" fill="#500a0a" opacity="0.80" filter="url(#b1)"/>
<ellipse cx="363.50" cy="99.80" rx="4.12" ry="3.59" transform="rotate(26 363.50 99.80)" fill="none" stroke="#a01818" stroke-width="1.06" opacity="0.62" filter="url(#b1)"/>
<circle cx="364.56" cy="99.01" r="1.58" fill="#a01818" opacity="0.55" filter="url(#b1)"/>
<ellipse cx="384.60" cy="92.40" rx="5.17" ry="4.62" transform="rotate(141 384.60 92.40)" fill="#500a0a" opacity="0.80" filter="url(#b1)"/>
<ellipse cx="384.60" cy="92.40" rx="4.24" ry="3.70" transform="rotate(141 384.60 92.40)" fill="none" stroke="#a01818" stroke-width="1.09" opacity="0.62" filter="url(#b1)"/>
<circle cx="385.69" cy="91.58" r="1.63" fill="#a01818" opacity="0.55" filter="url(#b1)"/>
</g>
<clipPath id="cp22356"><rect x="356.50" y="77.90" width="34.20" height="34.00"/></clipPath>
<rect x="392.70" y="77.90" width="34.20" height="34.00" fill="#0d0f07"/>
<g clip-path="url(#cp23392)">
<ellipse cx="399.70" cy="99.80" rx="5.28" ry="4.75" transform="rotate(106 399.70 99.80)" fill="#5a4a0e" opacity="0.85" filter="url(#b1)"/>
<ellipse cx="399.70" cy="99.80" rx="4.65" ry="4.12" transform="rotate(106 399.70 99.80)" fill="none" stroke="#5a9a28" stroke-width="1.06" opacity="0.80" filter="url(#b1)"/>
<circle cx="400.23" cy="99.80" r="2.38" fill="#a04412" opacity="0.55" filter="url(#b1)"/>
<ellipse cx="420.80" cy="92.40" rx="5.44" ry="4.90" transform="rotate(40 420.80 92.40)" fill="#5a4a0e" opacity="0.85" filter="url(#b1)"/>
<ellipse cx="420.80" cy="92.40" rx="4.79" ry="4.24" transform="rotate(40 420.80 92.40)" fill="none" stroke="#5a9a28" stroke-width="1.09" opacity="0.80" filter="url(#b1)"/>
<circle cx="421.34" cy="92.40" r="2.45" fill="#a04412" opacity="0.55" filter="url(#b1)"/>
</g>
<clipPath id="cp23392"><rect x="392.70" y="77.90" width="34.20" height="34.00"/></clipPath>
<rect x="284.10" y="114.00" width="34.20" height="34.00" fill="#06061a"/>
<g clip-path="url(#cp30284)">
<ellipse cx="312.20" cy="126.00" rx="3.78" ry="3.24" transform="rotate(13 312.20 126.00)" fill="#2a36b4" opacity="0.85" filter="url(#b1)"/>
<ellipse cx="311.30" cy="125.64" rx="1.80" ry="1.62" fill="#3e50d8" opacity="0.50" filter="url(#b1)"/>
<ellipse cx="294.80" cy="133.40" rx="3.15" ry="2.70" transform="rotate(35 294.80 133.40)" fill="#2a36b4" opacity="0.85" filter="url(#b1)"/>
<ellipse cx="294.05" cy="133.10" rx="1.50" ry="1.35" fill="#3e50d8" opacity="0.50" filter="url(#b1)"/>
</g>
<clipPath id="cp30284"><rect x="284.10" y="114.00" width="34.20" height="34.00"/></clipPath>
<rect x="320.40" y="114.00" width="34.20" height="34.00" fill="#060e06"/>
<g clip-path="url(#cp31320)">
<ellipse cx="348.50" cy="126.00" rx="5.76" ry="5.18" transform="rotate(96 348.50 126.00)" fill="#17561a" opacity="0.85" filter="url(#b1)"/>
<ellipse cx="348.50" cy="126.00" rx="5.07" ry="4.49" transform="rotate(96 348.50 126.00)" fill="none" stroke="#30a030" stroke-width="1.15" opacity="0.80" filter="url(#b1)"/>
<circle cx="347.06" cy="127.15" r="1.73" fill="#2a8a2a" opacity="0.50" filter="url(#b1)"/>
<ellipse cx="331.10" cy="133.40" rx="4.80" ry="4.32" transform="rotate(118 331.10 133.40)" fill="#17561a" opacity="0.85" filter="url(#b1)"/>
<ellipse cx="331.10" cy="133.40" rx="4.22" ry="3.74" transform="rotate(118 331.10 133.40)" fill="none" stroke="#30a030" stroke-width="0.96" opacity="0.80" filter="url(#b1)"/>
<circle cx="329.90" cy="134.36" r="1.44" fill="#2a8a2a" opacity="0.50" filter="url(#b1)"/>
</g>
<clipPath id="cp31320"><rect x="320.40" y="114.00" width="34.20" height="34.00"/></clipPath>
<rect x="356.50" y="114.00" width="34.20" height="34.00" fill="#100404"/>
<g clip-path="url(#cp32356)">
<ellipse cx="384.60" cy="126.00" rx="5.47" ry="4.90" transform="rotate(172 384.60 126.00)" fill="#500a0a" opacity="0.80" filter="url(#b1)"/>
<ellipse cx="384.60" cy="126.00" rx="4.49" ry="3.92" transform="rotate(172 384.60 126.00)" fill="none" stroke="#a01818" stroke-width="1.15" opacity="0.62" filter="url(#b1)"/>
<circle cx="385.75" cy="125.14" r="1.73" fill="#a01818" opacity="0.55" filter="url(#b1)"/>
<ellipse cx="367.20" cy="133.40" rx="4.56" ry="4.08" transform="rotate(14 367.20 133.40)" fill="#500a0a" opacity="0.80" filter="url(#b1)"/>
<ellipse cx="367.20" cy="133.40" rx="3.74" ry="3.26" transform="rotate(14 367.20 133.40)" fill="none" stroke="#a01818" stroke-width="0.96" opacity="0.62" filter="url(#b1)"/>
<circle cx="368.16" cy="132.68" r="1.44" fill="#a01818" opacity="0.55" filter="url(#b1)"/>
</g>
<clipPath id="cp32356"><rect x="356.50" y="114.00" width="34.20" height="34.00"/></clipPath>
<rect x="392.70" y="114.00" width="34.20" height="34.00" fill="#0d0f07"/>
<g clip-path="url(#cp33392)">
<ellipse cx="420.80" cy="126.00" rx="5.76" ry="5.18" transform="rotate(72 420.80 126.00)" fill="#5a4a0e" opacity="0.85" filter="url(#b1)"/>
<ellipse cx="420.80" cy="126.00" rx="5.07" ry="4.49" transform="rotate(72 420.80 126.00)" fill="none" stroke="#5a9a28" stroke-width="1.15" opacity="0.80" filter="url(#b1)"/>
<circle cx="421.38" cy="126.00" r="2.59" fill="#a04412" opacity="0.55" filter="url(#b1)"/>
<ellipse cx="403.40" cy="133.40" rx="4.80" ry="4.32" transform="rotate(94 403.40 133.40)" fill="#5a4a0e" opacity="0.85" filter="url(#b1)"/>
<ellipse cx="403.40" cy="133.40" rx="4.22" ry="3.74" transform="rotate(94 403.40 133.40)" fill="none" stroke="#5a9a28" stroke-width="0.96" opacity="0.80" filter="url(#b1)"/>
<circle cx="403.88" cy="133.40" r="2.16" fill="#a04412" opacity="0.55" filter="url(#b1)"/>
</g>
<clipPath id="cp33392"><rect x="392.70" y="114.00" width="34.20" height="34.00"/></clipPath>
<line x1="415.00" y1="147.00" x2="425.30" y2="147.00" stroke="#f0f0f0" stroke-width="1.6"/>
<rect x="508.20" y="39.10" width="143.40" height="2.60" fill="#e4e4e4"/>
<rect x="508.20" y="75.90" width="143.40" height="2.00" fill="#e4e4e4"/>
<rect x="508.20" y="112.10" width="143.40" height="1.90" fill="#e4e4e4"/>
<rect x="508.20" y="4.90" width="34.40" height="34.20" fill="#06061a"/>
<g clip-path="url(#cp00508)">
<ellipse cx="515.70" cy="9.90" rx="2.73" ry="2.34" transform="rotate(169 515.70 9.90)" fill="#2a36b4" opacity="0.68" filter="url(#b1)"/>
<ellipse cx="515.05" cy="9.64" rx="1.30" ry="1.17" fill="#3e50d8" opacity="0.40" filter="url(#b1)"/>
<ellipse cx="521.20" cy="8.40" rx="2.52" ry="2.16" transform="rotate(167 521.20 8.40)" fill="#2a36b4" opacity="0.68" filter="url(#b1)"/>
<ellipse cx="520.60" cy="8.16" rx="1.20" ry="1.08" fill="#3e50d8" opacity="0.40" filter="url(#b1)"/>
<ellipse cx="527.20" cy="10.90" rx="2.73" ry="2.34" transform="rotate(72 527.20 10.90)" fill="#2a36b4" opacity="0.68" filter="url(#b1)"/>
<ellipse cx="526.55" cy="10.64" rx="1.30" ry="1.17" fill="#3e50d8" opacity="0.40" filter="url(#b1)"/>
<ellipse cx="533.20" cy="8.90" rx="2.62" ry="2.25" transform="rotate(80 533.20 8.90)" fill="#2a36b4" opacity="0.68" filter="url(#b1)"/>
<ellipse cx="532.58" cy="8.65" rx="1.25" ry="1.12" fill="#3e50d8" opacity="0.40" filter="url(#b1)"/>
<ellipse cx="518.20" cy="15.90" rx="2.73" ry="2.34" transform="rotate(4 518.20 15.90)" fill="#2a36b4" opacity="0.68" filter="url(#b1)"/>
<ellipse cx="517.55" cy="15.64" rx="1.30" ry="1.17" fill="#3e50d8" opacity="0.40" filter="url(#b1)"/>
<ellipse cx="524.20" cy="17.40" rx="2.84" ry="2.43" transform="rotate(71 524.20 17.40)" fill="#2a36b4" opacity="0.68" filter="url(#b1)"/>
<ellipse cx="523.53" cy="17.13" rx="1.35" ry="1.22" fill="#3e50d8" opacity="0.40" filter="url(#b1)"/>
<ellipse cx="530.20" cy="15.90" rx="2.73" ry="2.34" transform="rotate(88 530.20 15.90)" fill="#2a36b4" opacity="0.68" filter="url(#b1)"/>
<ellipse cx="529.55" cy="15.64" rx="1.30" ry="1.17" fill="#3e50d8" opacity="0.40" filter="url(#b1)"/>
<ellipse cx="536.20" cy="17.90" rx="2.52" ry="2.16" transform="rotate(164 536.20 17.90)" fill="#2a36b4" opacity="0.68" filter="url(#b1)"/>
<ellipse cx="535.60" cy="17.66" rx="1.20" ry="1.08" fill="#3e50d8" opacity="0.40" filter="url(#b1)"/>
<ellipse cx="541.20" cy="12.90" rx="2.42" ry="2.07" transform="rotate(84 541.20 12.90)" fill="#2a36b4" opacity="0.68" filter="url(#b1)"/>
<ellipse cx="540.62" cy="12.67" rx="1.15" ry="1.03" fill="#3e50d8" opacity="0.40" filter="url(#b1)"/>
<ellipse cx="521.20" cy="22.90" rx="2.52" ry="2.16" transform="rotate(54 521.20 22.90)" fill="#2a36b4" opacity="0.68" filter="url(#b1)"/>
<ellipse cx="520.60" cy="22.66" rx="1.20" ry="1.08" fill="#3e50d8" opacity="0.40" filter="url(#b1)"/>
<ellipse cx="528.20" cy="21.90" rx="2.52" ry="2.16" transform="rotate(116 528.20 21.90)" fill="#2a36b4" opacity="0.68" filter="url(#b1)"/>
<ellipse cx="527.60" cy="21.66" rx="1.20" ry="1.08" fill="#3e50d8" opacity="0.40" filter="url(#b1)"/>
<ellipse cx="535.20" cy="23.90" rx="2.31" ry="1.98" transform="rotate(49 535.20 23.90)" fill="#2a36b4" opacity="0.59" filter="url(#b1)"/>
<ellipse cx="534.65" cy="23.68" rx="1.10" ry="0.99" fill="#3e50d8" opacity="0.35" filter="url(#b1)"/>
<ellipse cx="513.20" cy="23.90" rx="2.10" ry="1.80" transform="rotate(135 513.20 23.90)" fill="#2a36b4" opacity="0.51" filter="url(#b1)"/>
<ellipse cx="512.70" cy="23.70" rx="1.00" ry="0.90" fill="#3e50d8" opacity="0.30" filter="url(#b1)"/>
<ellipse cx="516.20" cy="34.90" rx="2.31" ry="1.98" transform="rotate(73 516.20 34.90)" fill="#2a36b4" opacity="0.42" filter="url(#b1)"/>
<ellipse cx="515.65" cy="34.68" rx="1.10" ry="0.99" fill="#3e50d8" opacity="0.25" filter="url(#b1)"/>
<ellipse cx="528.20" cy="33.90" rx="2.31" ry="1.98" transform="rotate(140 528.20 33.90)" fill="#2a36b4" opacity="0.42" filter="url(#b1)"/>
<ellipse cx="527.65" cy="33.68" rx="1.10" ry="0.99" fill="#3e50d8" opacity="0.25" filter="url(#b1)"/>
<ellipse cx="538.20" cy="32.90" rx="2.10" ry="1.80" transform="rotate(133 538.20 32.90)" fill="#2a36b4" opacity="0.42" filter="url(#b1)"/>
<ellipse cx="537.70" cy="32.70" rx="1.00" ry="0.90" fill="#3e50d8" opacity="0.25" filter="url(#b1)"/>
</g>
<clipPath id="cp00508"><rect x="508.20" y="4.90" width="34.40" height="34.20"/></clipPath>
<rect x="544.70" y="4.90" width="34.40" height="34.20" fill="#060e06"/>
<g clip-path="url(#cp01544)">
<ellipse cx="552.20" cy="9.90" rx="4.16" ry="3.74" transform="rotate(80 552.20 9.90)" fill="#17561a" opacity="0.68" filter="url(#b1)"/>
<ellipse cx="552.20" cy="9.90" rx="3.66" ry="3.24" transform="rotate(80 552.20 9.90)" fill="none" stroke="#30a030" stroke-width="0.83" opacity="0.64" filter="url(#b1)"/>
<circle cx="551.16" cy="10.73" r="1.25" fill="#2a8a2a" opacity="0.40" filter="url(#b1)"/>
<ellipse cx="557.70" cy="8.40" rx="3.84" ry="3.46" transform="rotate(78 557.70 8.40)" fill="#17561a" opacity="0.68" filter="url(#b1)"/>
<ellipse cx="557.70" cy="8.40" rx="3.38" ry="3.00" transform="rotate(78 557.70 8.40)" fill="none" stroke="#30a030" stroke-width="0.80" opacity="0.64" filter="url(#b1)"/>
<circle cx="556.74" cy="9.17" r="1.15" fill="#2a8a2a" opacity="0.40" filter="url(#b1)"/>
<ellipse cx="563.70" cy="10.90" rx="4.16" ry="3.74" transform="rotate(162 563.70 10.90)" fill="#17561a" opacity="0.68" filter="url(#b1)"/>
<ellipse cx="563.70" cy="10.90" rx="3.66" ry="3.24" transform="rotate(162 563.70 10.90)" fill="none" stroke="#30a030" stroke-width="0.83" opacity="0.64" filter="url(#b1)"/>
<circle cx="562.66" cy="11.73" r="1.25" fill="#2a8a2a" opacity="0.40" filter="url(#b1)"/>
<ellipse cx="569.70" cy="8.90" rx="4.00" ry="3.60" transform="rotate(170 569.70 8.90)" fill="#17561a" opacity="0.68" filter="url(#b1)"/>
<ellipse cx="569.70" cy="8.90" rx="3.52" ry="3.12" transform="rotate(170 569.70 8.90)" fill="none" stroke="#30a030" stroke-width="0.80" opacity="0.64" filter="url(#b1)"/>
<circle cx="568.70" cy="9.70" r="1.20" fill="#2a8a2a" opacity="0.40" filter="url(#b1)"/>
<ellipse cx="554.70" cy="15.90" rx="4.16" ry="3.74" transform="rotate(94 554.70 15.90)" fill="#17561a" opacity="0.68" filter="url(#b1)"/>
<ellipse cx="554.70" cy="15.90" rx="3.66" ry="3.24" transform="rotate(94 554.70 15.90)" fill="none" stroke="#30a030" stroke-width="0.83" opacity="0.64" filter="url(#b1)"/>
<circle cx="553.66" cy="16.73" r="1.25" fill="#2a8a2a" opacity="0.40" filter="url(#b1)"/>
<ellipse cx="560.70" cy="17.40" rx="4.32" ry="3.89" transform="rotate(162 560.70 17.40)" fill="#17561a" opacity="0.68" filter="url(#b1)"/>
<ellipse cx="560.70" cy="17.40" rx="3.80" ry="3.37" transform="rotate(162 560.70 17.40)" fill="none" stroke="#30a030" stroke-width="0.86" opacity="0.64" filter="url(#b1)"/>
<circle cx="559.62" cy="18.26" r="1.30" fill="#2a8a2a" opacity="0.40" filter="url(#b1)"/>
<ellipse cx="566.70" cy="15.90" rx="4.16" ry="3.74" transform="rotate(178 566.70 15.90)" fill="#17561a" opacity="0.68" filter="url(#b1)"/>
<ellipse cx="566.70" cy="15.90" rx="3.66" ry="3.24" transform="rotate(178 566.70 15.90)" fill="none" stroke="#30a030" stroke-width="0.83" opacity="0.64" filter="url(#b1)"/>
<circle cx="565.66" cy="16.73" r="1.25" fill="#2a8a2a" opacity="0.40" filter="url(#b1)"/>
<ellipse cx="572.70" cy="17.90" rx="3.84" ry="3.46" transform="rotate(74 572.70 17.90)" fill="#17561a" opacity="0.68" filter="url(#b1)"/>
<ellipse cx="572.70" cy="17.90" rx="3.38" ry="3.00" transform="rotate(74 572.70 17.90)" fill="none" stroke="#30a030" stroke-width="0.80" opacity="0.64" filter="url(#b1)"/>
<circle cx="571.74" cy="18.67" r="1.15" fill="#2a8a2a" opacity="0.40" filter="url(#b1)"/>
<ellipse cx="577.70" cy="12.90" rx="3.68" ry="3.31" transform="rotate(174 577.70 12.90)" fill="#17561a" opacity="0.68" filter="url(#b1)"/>
<ellipse cx="577.70" cy="12.90" rx="3.24" ry="2.87" transform="rotate(174 577.70 12.90)" fill="none" stroke="#30a030" stroke-width="0.80" opacity="0.64" filter="url(#b1)"/>
<circle cx="576.78" cy="13.64" r="1.10" fill="#2a8a2a" opacity="0.40" filter="url(#b1)"/>
<ellipse cx="557.70" cy="22.90" rx="3.84" ry="3.46" transform="rotate(144 557.70 22.90)" fill="#17561a" opacity="0.68" filter="url(#b1)"/>
<ellipse cx="557.70" cy="22.90" rx="3.38" ry="3.00" transform="rotate(144 557.70 22.90)" fill="none" stroke="#30a030" stroke-width="0.80" opacity="0.64" filter="url(#b1)"/>
<circle cx="556.74" cy="23.67" r="1.15" fill="#2a8a2a" opacity="0.40" filter="url(#b1)"/>
<ellipse cx="564.70" cy="21.90" rx="3.84" ry="3.46" transform="rotate(26 564.70 21.90)" fill="#17561a" opacity="0.68" filter="url(#b1)"/>
<ellipse cx="564.70" cy="21.90" rx="3.38" ry="3.00" transform="rotate(26 564.70 21.90)" fill="none" stroke="#30a030" stroke-width="0.80" opacity="0.64" filter="url(#b1)"/>
<circle cx="563.74" cy="22.67" r="1.15" fill="#2a8a2a" opacity="0.40" filter="url(#b1)"/>
<ellipse cx="571.70" cy="23.90" rx="3.52" ry="3.17" transform="rotate(139 571.70 23.90)" fill="#17561a" opacity="0.59" filter="url(#b1)"/>
<ellipse cx="571.70" cy="23.90" rx="3.10" ry="2.75" transform="rotate(139 571.70 23.90)" fill="none" stroke="#30a030" stroke-width="0.80" opacity="0.56" filter="url(#b1)"/>
<circle cx="570.82" cy="24.60" r="1.06" fill="#2a8a2a" opacity="0.35" filter="url(#b1)"/>
<ellipse cx="549.70" cy="23.90" rx="3.20" ry="2.88" transform="rotate(45 549.70 23.90)" fill="#17561a" opacity="0.51" filter="url(#b1)"/>
<ellipse cx="549.70" cy="23.90" rx="2.82" ry="2.50" transform="rotate(45 549.70 23.90)" fill="none" stroke="#30a030" stroke-width="0.80" opacity="0.48" filter="url(#b1)"/>
<circle cx="548.90" cy="24.54" r="0.96" fill="#2a8a2a" opacity="0.30" filter="url(#b1)"/>
<ellipse cx="552.70" cy="34.90" rx="3.52" ry="3.17" transform="rotate(163 552.70 34.90)" fill="#17561a" opacity="0.42" filter="url(#b1)"/>
<ellipse cx="552.70" cy="34.90" rx="3.10" ry="2.75" transform="rotate(163 552.70 34.90)" fill="none" stroke="#30a030" stroke-width="0.80" opacity="0.40" filter="url(#b1)"/>
<circle cx="551.82" cy="35.60" r="1.06" fill="#2a8a2a" opacity="0.25" filter="url(#b1)"/>
<ellipse cx="564.70" cy="33.90" rx="3.52" ry="3.17" transform="rotate(50 564.70 33.90)" fill="#17561a" opacity="0.42" filter="url(#b1)"/>
<ellipse cx="564.70" cy="33.90" rx="3.10" ry="2.75" transform="rotate(50 564.70 33.90)" fill="none" stroke="#30a030" stroke-width="0.80" opacity="0.40" filter="url(#b1)"/>
<circle cx="563.82" cy="34.60" r="1.06" fill="#2a8a2a" opacity="0.25" filter="url(#b1)"/>
<ellipse cx="574.70" cy="32.90" rx="3.20" ry="2.88" transform="rotate(43 574.70 32.90)" fill="#17561a" opacity="0.42" filter="url(#b1)"/>
<ellipse cx="574.70" cy="32.90" rx="2.82" ry="2.50" transform="rotate(43 574.70 32.90)" fill="none" stroke="#30a030" stroke-width="0.80" opacity="0.40" filter="url(#b1)"/>
<circle cx="573.90" cy="33.54" r="0.96" fill="#2a8a2a" opacity="0.25" filter="url(#b1)"/>
</g>
<clipPath id="cp01544"><rect x="544.70" y="4.90" width="34.40" height="34.20"/></clipPath>
<rect x="581.00" y="4.90" width="34.40" height="34.20" fill="#100404"/>
<g clip-path="url(#cp02581)">
<ellipse cx="588.50" cy="9.90" rx="3.95" ry="3.54" transform="rotate(163 588.50 9.90)" fill="#500a0a" opacity="0.64" filter="url(#b1)"/>
<ellipse cx="588.50" cy="9.90" rx="3.24" ry="2.83" transform="rotate(163 588.50 9.90)" fill="none" stroke="#a01818" stroke-width="0.83" opacity="0.50" filter="url(#b1)"/>
<circle cx="589.33" cy="9.28" r="1.25" fill="#a01818" opacity="0.44" filter="url(#b1)"/>
<ellipse cx="594.00" cy="8.40" rx="3.65" ry="3.26" transform="rotate(161 594.00 8.40)" fill="#500a0a" opacity="0.64" filter="url(#b1)"/>
<ellipse cx="594.00" cy="8.40" rx="3.00" ry="2.61" transform="rotate(161 594.00 8.40)" fill="none" stroke="#a01818" stroke-width="0.80" opacity="0.50" filter="url(#b1)"/>
<circle cx="594.77" cy="7.82" r="1.15" fill="#a01818" opacity="0.44" filter="url(#b1)"/>
<ellipse cx="600.00" cy="10.90" rx="3.95" ry="3.54" transform="rotate(65 600.00 10.90)" fill="#500a0a" opacity="0.64" filter="url(#b1)"/>
<ellipse cx="600.00" cy="10.90" rx="3.24" ry="2.83" transform="rotate(65 600.00 10.90)" fill="none" stroke="#a01818" stroke-width="0.83" opacity="0.50" filter="url(#b1)"/>
<circle cx="600.83" cy="10.28" r="1.25" fill="#a01818" opacity="0.44" filter="url(#b1)"/>
<ellipse cx="606.00" cy="8.90" rx="3.80" ry="3.40" transform="rotate(73 606.00 8.90)" fill="#500a0a" opacity="0.64" filter="url(#b1)"/>
<ellipse cx="606.00" cy="8.90" rx="3.12" ry="2.72" transform="rotate(73 606.00 8.90)" fill="none" stroke="#a01818" stroke-width="0.80" opacity="0.50" filter="url(#b1)"/>
<circle cx="606.80" cy="8.30" r="1.20" fill="#a01818" opacity="0.44" filter="url(#b1)"/>
<ellipse cx="591.00" cy="15.90" rx="3.95" ry="3.54" transform="rotate(177 591.00 15.90)" fill="#500a0a" opacity="0.64" filter="url(#b1)"/>
<ellipse cx="591.00" cy="15.90" rx="3.24" ry="2.83" transform="rotate(177 591.00 15.90)" fill="none" stroke="#a01818" stroke-width="0.83" opacity="0.50" filter="url(#b1)"/>
<circle cx="591.83" cy="15.28" r="1.25" fill="#a01818" opacity="0.44" filter="url(#b1)"/>
<ellipse cx="597.00" cy="17.40" rx="4.10" ry="3.67" transform="rotate(65 597.00 17.40)" fill="#500a0a" opacity="0.64" filter="url(#b1)"/>
<ellipse cx="597.00" cy="17.40" rx="3.37" ry="2.94" transform="rotate(65 597.00 17.40)" fill="none" stroke="#a01818" stroke-width="0.86" opacity="0.50" filter="url(#b1)"/>
<circle cx="597.86" cy="16.75" r="1.30" fill="#a01818" opacity="0.44" filter="url(#b1)"/>
<ellipse cx="603.00" cy="15.90" rx="3.95" ry="3.54" transform="rotate(81 603.00 15.90)" fill="#500a0a" opacity="0.64" filter="url(#b1)"/>
<ellipse cx="603.00" cy="15.90" rx="3.24" ry="2.83" transform="rotate(81 603.00 15.90)" fill="none" stroke="#a01818" stroke-width="0.83" opacity="0.50" filter="url(#b1)"/>
<circle cx="603.83" cy="15.28" r="1.25" fill="#a01818" opacity="0.44" filter="url(#b1)"/>
<ellipse cx="609.00" cy="17.90" rx="3.65" ry="3.26" transform="rotate(157 609.00 17.90)" fill="#500a0a" opacity="0.64" filter="url(#b1)"/>
<ellipse cx="609.00" cy="17.90" rx="3.00" ry="2.61" transform="rotate(157 609.00 17.90)" fill="none" stroke="#a01818" stroke-width="0.80" opacity="0.50" filter="url(#b1)"/>
<circle cx="609.77" cy="17.32" r="1.15" fill="#a01818" opacity="0.44" filter="url(#b1)"/>
<ellipse cx="614.00" cy="12.90" rx="3.50" ry="3.13" transform="rotate(77 614.00 12.90)" fill="#500a0a" opacity="0.64" filter="url(#b1)"/>
<ellipse cx="614.00" cy="12.90" rx="2.87" ry="2.50" transform="rotate(77 614.00 12.90)" fill="none" stroke="#a01818" stroke-width="0.80" opacity="0.50" filter="url(#b1)"/>
<circle cx="614.74" cy="12.35" r="1.10" fill="#a01818" opacity="0.44" filter="url(#b1)"/>
<ellipse cx="594.00" cy="22.90" rx="3.65" ry="3.26" transform="rotate(47 594.00 22.90)" fill="#500a0a" opacity="0.64" filter="url(#b1)"/>
<ellipse cx="594.00" cy="22.90" rx="3.00" ry="2.61" transform="rotate(47 594.00 22.90)" fill="none" stroke="#a01818" stroke-width="0.80" opacity="0.50" filter="url(#b1)"/>
<circle cx="594.77" cy="22.32" r="1.15" fill="#a01818" opacity="0.44" filter="url(#b1)"/>
<ellipse cx="601.00" cy="21.90" rx="3.65" ry="3.26" transform="rotate(109 601.00 21.90)" fill="#500a0a" opacity="0.64" filter="url(#b1)"/>
<ellipse cx="601.00" cy="21.90" rx="3.00" ry="2.61" transform="rotate(109 601.00 21.90)" fill="none" stroke="#a01818" stroke-width="0.80" opacity="0.50" filter="url(#b1)"/>
<circle cx="601.77" cy="21.32" r="1.15" fill="#a01818" opacity="0.44" filter="url(#b1)"/>
<ellipse cx="608.00" cy="23.90" rx="3.34" ry="2.99" transform="rotate(42 608.00 23.90)" fill="#500a0a" opacity="0.56" filter="url(#b1)"/>
<ellipse cx="608.00" cy="23.90" rx="2.75" ry="2.39" transform="rotate(42 608.00 23.90)" fill="none" stroke="#a01818" stroke-width="0.80" opacity="0.43" filter="url(#b1)"/>
<circle cx="608.70" cy="23.37" r="1.06" fill="#a01818" opacity="0.39" filter="url(#b1)"/>
<ellipse cx="586.00" cy="23.90" rx="3.04" ry="2.72" transform="rotate(128 586.00 23.90)" fill="#500a0a" opacity="0.48" filter="url(#b1)"/>
<ellipse cx="586.00" cy="23.90" rx="2.50" ry="2.18" transform="rotate(128 586.00 23.90)" fill="none" stroke="#a01818" stroke-width="0.80" opacity="0.37" filter="url(#b1)"/>
<circle cx="586.64" cy="23.42" r="0.96" fill="#a01818" opacity="0.33" filter="url(#b1)"/>
<ellipse cx="589.00" cy="34.90" rx="3.34" ry="2.99" transform="rotate(66 589.00 34.90)" fill="#500a0a" opacity="0.40" filter="url(#b1)"/>
<ellipse cx="589.00" cy="34.90" rx="2.75" ry="2.39" transform="rotate(66 589.00 34.90)" fill="none" stroke="#a01818" stroke-width="0.80" opacity="0.31" filter="url(#b1)"/>
<circle cx="589.70" cy="34.37" r="1.06" fill="#a01818" opacity="0.28" filter="url(#b1)"/>
<ellipse cx="601.00" cy="33.90" rx="3.34" ry="2.99" transform="rotate(133 601.00 33.90)" fill="#500a0a" opacity="0.40" filter="url(#b1)"/>
<ellipse cx="601.00" cy="33.90" rx="2.75" ry="2.39" transform="rotate(133 601.00 33.90)" fill="none" stroke="#a01818" stroke-width="0.80" opacity="0.31" filter="url(#b1)"/>
<circle cx="601.70" cy="33.37" r="1.06" fill="#a01818" opacity="0.28" filter="url(#b1)"/>
<ellipse cx="611.00" cy="32.90" rx="3.04" ry="2.72" transform="rotate(126 611.00 32.90)" fill="#500a0a" opacity="0.40" filter="url(#b1)"/>
<ellipse cx="611.00" cy="32.90" rx="2.50" ry="2.18" transform="rotate(126 611.00 32.90)" fill="none" stroke="#a01818" stroke-width="0.80" opacity="0.31" filter="url(#b1)"/>
<circle cx="611.64" cy="32.42" r="0.96" fill="#a01818" opacity="0.28" filter="url(#b1)"/>
</g>
<clipPath id="cp02581"><rect x="581.00" y="4.90" width="34.40" height="34.20"/></clipPath>
<rect x="617.20" y="4.90" width="34.40" height="34.20" fill="#0d0f07"/>
<g clip-path="url(#cp03617)">
<ellipse cx="624.70" cy="9.90" rx="4.16" ry="3.74" transform="rotate(62 624.70 9.90)" fill="#5a4a0e" opacity="0.68" filter="url(#b1)"/>
<ellipse cx="624.70" cy="9.90" rx="3.66" ry="3.24" transform="rotate(62 624.70 9.90)" fill="none" stroke="#5a9a28" stroke-width="0.83" opacity="0.64" filter="url(#b1)"/>
<circle cx="625.12" cy="9.90" r="1.87" fill="#a04412" opacity="0.44" filter="url(#b1)"/>
<ellipse cx="630.20" cy="8.40" rx="3.84" ry="3.46" transform="rotate(60 630.20 8.40)" fill="#5a4a0e" opacity="0.68" filter="url(#b1)"/>
<ellipse cx="630.20" cy="8.40" rx="3.38" ry="3.00" transform="rotate(60 630.20 8.40)" fill="none" stroke="#5a9a28" stroke-width="0.80" opacity="0.64" filter="url(#b1)"/>
<circle cx="630.58" cy="8.40" r="1.73" fill="#a04412" opacity="0.44" filter="url(#b1)"/>
<ellipse cx="636.20" cy="10.90" rx="4.16" ry="3.74" transform="rotate(145 636.20 10.90)" fill="#5a4a0e" opacity="0.68" filter="url(#b1)"/>
<ellipse cx="636.20" cy="10.90" rx="3.66" ry="3.24" transform="rotate(145 636.20 10.90)" fill="none" stroke="#5a9a28" stroke-width="0.83" opacity="0.64" filter="url(#b1)"/>
<circle cx="636.62" cy="10.90" r="1.87" fill="#a04412" opacity="0.44" filter="url(#b1)"/>
<ellipse cx="642.20" cy="8.90" rx="4.00" ry="3.60" transform="rotate(153 642.20 8.90)" fill="#5a4a0e" opacity="0.68" filter="url(#b1)"/>
<ellipse cx="642.20" cy="8.90" rx="3.52" ry="3.12" transform="rotate(153 642.20 8.90)" fill="none" stroke="#5a9a28" stroke-width="0.80" opacity="0.64" filter="url(#b1)"/>
<circle cx="642.60" cy="8.90" r="1.80" fill="#a04412" opacity="0.44" filter="url(#b1)"/>
<ellipse cx="627.20" cy="15.90" rx="4.16" ry="3.74" transform="rotate(77 627.20 15.90)" fill="#5a4a0e" opacity="0.68" filter="url(#b1)"/>
<ellipse cx="627.20" cy="15.90" rx="3.66" ry="3.24" transform="rotate(77 627.20 15.90)" fill="none" stroke="#5a9a28" stroke-width="0.83" opacity="0.64" filter="url(#b1)"/>
<circle cx="627.62" cy="15.90" r="1.87" fill="#a04412" opacity="0.44" filter="url(#b1)"/>
<ellipse cx="633.20" cy="17.40" rx="4.32" ry="3.89" transform="rotate(144 633.20 17.40)" fill="#5a4a0e" opacity="0.68" filter="url(#b1)"/>
<ellipse cx="633.20" cy="17.40" rx="3.80" ry="3.37" transform="rotate(144 633.20 17.40)" fill="none" stroke="#5a9a28" stroke-width="0.86" opacity="0.64" filter="url(#b1)"/>
<circle cx="633.63" cy="17.40" r="1.94" fill="#a04412" opacity="0.44" filter="url(#b1)"/>
<ellipse cx="639.20" cy="15.90" rx="4.16" ry="3.74" transform="rotate(161 639.20 15.90)" fill="#5a4a0e" opacity="0.68" filter="url(#b1)"/>
<ellipse cx="639.20" cy="15.90" rx="3.66" ry="3.24" transform="rotate(161 639.20 15.90)" fill="none" stroke="#5a9a28" stroke-width="0.83" opacity="0.64" filter="url(#b1)"/>
<circle cx="639.62" cy="15.90" r="1.87" fill="#a04412" opacity="0.44" filter="url(#b1)"/>
<ellipse cx="645.20" cy="17.90" rx="3.84" ry="3.46" transform="rotate(57 645.20 17.90)" fill="#5a4a0e" opacity="0.68" filter="url(#b1)"/>
<ellipse cx="645.20" cy="17.90" rx="3.38" ry="3.00" transform="rotate(57 645.20 17.90)" fill="none" stroke="#5a9a28" stroke-width="0.80" opacity="0.64" filter="url(#b1)"/>
<circle cx="645.58" cy="17.90" r="1.73" fill="#a04412" opacity="0.44" filter="url(#b1)"/>
<ellipse cx="650.20" cy="12.90" rx="3.68" ry="3.31" transform="rotate(157 650.20 12.90)" fill="#5a4a0e" opacity="0.68" filter="url(#b1)"/>
<ellipse cx="650.20" cy="12.90" rx="3.24" ry="2.87" transform="rotate(157 650.20 12.90)" fill="none" stroke="#5a9a28" stroke-width="0.80" opacity="0.64" filter="url(#b1)"/>
<circle cx="650.57" cy="12.90" r="1.66" fill="#a04412" opacity="0.44" filter="url(#b1)"/>
<ellipse cx="630.20" cy="22.90" rx="3.84" ry="3.46" transform="rotate(127 630.20 22.90)" fill="#5a4a0e" opacity="0.68" filter="url(#b1)"/>
<ellipse cx="630.20" cy="22.90" rx="3.38" ry="3.00" transform="rotate(127 630.20 22.90)" fill="none" stroke="#5a9a28" stroke-width="0.80" opacity="0.64" filter="url(#b1)"/>
<circle cx="630.58" cy="22.90" r="1.73" fill="#a04412" opacity="0.44" filter="url(#b1)"/>
<ellipse cx="637.20" cy="21.90" rx="3.84" ry="3.46" transform="rotate(9 637.20 21.90)" fill="#5a4a0e" opacity="0.68" filter="url(#b1)"/>
<ellipse cx="637.20" cy="21.90" rx="3.38" ry="3.00" transform="rotate(9 637.20 21.90)" fill="none" stroke="#5a9a28" stroke-width="0.80" opacity="0.64" filter="url(#b1)"/>
<circle cx="637.58" cy="21.90" r="1.73" fill="#a04412" opacity="0.44" filter="url(#b1)"/>
<ellipse cx="644.20" cy="23.90" rx="3.52" ry="3.17" transform="rotate(122 644.20 23.90)" fill="#5a4a0e" opacity="0.59" filter="url(#b1)"/>
<ellipse cx="644.20" cy="23.90" rx="3.10" ry="2.75" transform="rotate(122 644.20 23.90)" fill="none" stroke="#5a9a28" stroke-width="0.80" opacity="0.56" filter="url(#b1)"/>
<circle cx="644.55" cy="23.90" r="1.58" fill="#a04412" opacity="0.39" filter="url(#b1)"/>
<ellipse cx="622.20" cy="23.90" rx="3.20" ry="2.88" transform="rotate(28 622.20 23.90)" fill="#5a4a0e" opacity="0.51" filter="url(#b1)"/>
<ellipse cx="622.20" cy="23.90" rx="2.82" ry="2.50" transform="rotate(28 622.20 23.90)" fill="none" stroke="#5a9a28" stroke-width="0.80" opacity="0.48" filter="url(#b1)"/>
<circle cx="622.52" cy="23.90" r="1.44" fill="#a04412" opacity="0.33" filter="url(#b1)"/>
<ellipse cx="625.20" cy="34.90" rx="3.52" ry="3.17" transform="rotate(146 625.20 34.90)" fill="#5a4a0e" opacity="0.42" filter="url(#b1)"/>
<ellipse cx="625.20" cy="34.90" rx="3.10" ry="2.75" transform="rotate(146 625.20 34.90)" fill="none" stroke="#5a9a28" stroke-width="0.80" opacity="0.40" filter="url(#b1)"/>
<circle cx="625.55" cy="34.90" r="1.58" fill="#a04412" opacity="0.28" filter="url(#b1)"/>
<ellipse cx="637.20" cy="33.90" rx="3.52" ry="3.17" transform="rotate(33 637.20 33.90)" fill="#5a4a0e" opacity="0.42" filter="url(#b1)"/>
<ellipse cx="637.20" cy="33.90" rx="3.10" ry="2.75" transform="rotate(33 637.20 33.90)" fill="none" stroke="#5a9a28" stroke-width="0.80" opacity="0.40" filter="url(#b1)"/>
<circle cx="637.55" cy="33.90" r="1.58" fill="#a04412" opacity="0.28" filter="url(#b1)"/>
<ellipse cx="647.20" cy="32.90" rx="3.20" ry="2.88" transform="rotate(26 647.20 32.90)" fill="#5a4a0e" opacity="0.42" filter="url(#b1)"/>
<ellipse cx="647.20" cy="32.90" rx="2.82" ry="2.50" transform="rotate(26 647.20 32.90)" fill="none" stroke="#5a9a28" stroke-width="0.80" opacity="0.40" filter="url(#b1)"/>
<circle cx="647.52" cy="32.90" r="1.44" fill="#a04412" opacity="0.28" filter="url(#b1)"/>
</g>
<clipPath id="cp03617"><rect x="617.20" y="4.90" width="34.40" height="34.20"/></clipPath>
<rect x="508.20" y="41.70" width="34.40" height="34.20" fill="#06061a"/>
<g clip-path="url(#cp10508)">
<ellipse cx="528.70" cy="45.70" rx="2.10" ry="1.80" transform="rotate(179 528.70 45.70)" fill="#2a36b4" opacity="0.85" filter="url(#b1)"/>
<ellipse cx="528.20" cy="45.50" rx="1.00" ry="0.90" fill="#3e50d8" opacity="0.50" filter="url(#b1)"/>
<ellipse cx="526.70" cy="51.30" rx="2.10" ry="1.80" transform="rotate(20 526.70 51.30)" fill="#2a36b4" opacity="0.85" filter="url(#b1)"/>
<ellipse cx="526.20" cy="51.10" rx="1.00" ry="0.90" fill="#3e50d8" opacity="0.50" filter="url(#b1)"/>
<ellipse cx="533.00" cy="50.70" rx="2.10" ry="1.80" transform="rotate(63 533.00 50.70)" fill="#2a36b4" opacity="0.85" filter="url(#b1)"/>
<ellipse cx="532.50" cy="50.50" rx="1.00" ry="0.90" fill="#3e50d8" opacity="0.50" filter="url(#b1)"/>
<ellipse cx="517.20" cy="69.70" rx="2.31" ry="1.98" transform="rotate(161 517.20 69.70)" fill="#2a36b4" opacity="0.85" filter="url(#b1)"/>
<ellipse cx="516.65" cy="69.48" rx="1.10" ry="0.99" fill="#3e50d8" opacity="0.50" filter="url(#b1)"/>
</g>
<clipPath id="cp10508"><rect x="508.20" y="41.70" width="34.40" height="34.20"/></clipPath>
<rect x="544.70" y="41.70" width="34.40" height="34.20" fill="#060e06"/>
<g clip-path="url(#cp11544)">
<ellipse cx="565.20" cy="45.70" rx="3.20" ry="2.88" transform="rotate(89 565.20 45.70)" fill="#17561a" opacity="0.85" filter="url(#b1)"/>
<ellipse cx="565.20" cy="45.70" rx="2.82" ry="2.50" transform="rotate(89 565.20 45.70)" fill="none" stroke="#30a030" stroke-width="0.80" opacity="0.80" filter="url(#b1)"/>
<circle cx="564.40" cy="46.34" r="0.96" fill="#2a8a2a" opacity="0.50" filter="url(#b1)"/>
<ellipse cx="563.20" cy="51.30" rx="3.20" ry="2.88" transform="rotate(110 563.20 51.30)" fill="#17561a" opacity="0.85" filter="url(#b1)"/>
<ellipse cx="563.20" cy="51.30" rx="2.82" ry="2.50" transform="rotate(110 563.20 51.30)" fill="none" stroke="#30a030" stroke-width="0.80" opacity="0.80" filter="url(#b1)"/>
<circle cx="562.40" cy="51.94" r="0.96" fill="#2a8a2a" opacity="0.50" filter="url(#b1)"/>
<ellipse cx="569.50" cy="50.70" rx="3.20" ry="2.88" transform="rotate(153 569.50 50.70)" fill="#17561a" opacity="0.85" filter="url(#b1)"/>
<ellipse cx="569.50" cy="50.70" rx="2.82" ry="2.50" transform="rotate(153 569.50 50.70)" fill="none" stroke="#30a030" stroke-width="0.80" opacity="0.80" filter="url(#b1)"/>
<circle cx="568.70" cy="51.34" r="0.96" fill="#2a8a2a" opacity="0.50" filter="url(#b1)"/>
<ellipse cx="553.70" cy="69.70" rx="3.52" ry="3.17" transform="rotate(72 553.70 69.70)" fill="#17561a" opacity="0.85" filter="url(#b1)"/>
<ellipse cx="553.70" cy="69.70" rx="3.10" ry="2.75" transform="rotate(72 553.70 69.70)" fill="none" stroke="#30a030" stroke-width="0.80" opacity="0.80" filter="url(#b1)"/>
<circle cx="552.82" cy="70.40" r="1.06" fill="#2a8a2a" opacity="0.50" filter="url(#b1)"/>
</g>
<clipPath id="cp11544"><rect x="544.70" y="41.70" width="34.40" height="34.20"/></clipPath>
<rect x="581.00" y="41.70" width="34.40" height="34.20" fill="#100404"/>
<g clip-path="url(#cp12581)">
<ellipse cx="601.50" cy="45.70" rx="3.04" ry="2.72" transform="rotate(172 601.50 45.70)" fill="#500a0a" opacity="0.80" filter="url(#b1)"/>
<ellipse cx="601.50" cy="45.70" rx="2.50" ry="2.18" transform="rotate(172 601.50 45.70)" fill="none" stroke="#a01818" stroke-width="0.80" opacity="0.62" filter="url(#b1)"/>
<circle cx="602.14" cy="45.22" r="0.96" fill="#a01818" opacity="0.55" filter="url(#b1)"/>
<ellipse cx="599.50" cy="51.30" rx="3.04" ry="2.72" transform="rotate(14 599.50 51.30)" fill="#500a0a" opacity="0.80" filter="url(#b1)"/>
<ellipse cx="599.50" cy="51.30" rx="2.50" ry="2.18" transform="rotate(14 599.50 51.30)" fill="none" stroke="#a01818" stroke-width="0.80" opacity="0.62" filter="url(#b1)"/>
<circle cx="600.14" cy="50.82" r="0.96" fill="#a01818" opacity="0.55" filter="url(#b1)"/>
<ellipse cx="605.80" cy="50.70" rx="3.04" ry="2.72" transform="rotate(56 605.80 50.70)" fill="#500a0a" opacity="0.80" filter="url(#b1)"/>
<ellipse cx="605.80" cy="50.70" rx="2.50" ry="2.18" transform="rotate(56 605.80 50.70)" fill="none" stroke="#a01818" stroke-width="0.80" opacity="0.62" filter="url(#b1)"/>
<circle cx="606.44" cy="50.22" r="0.96" fill="#a01818" opacity="0.55" filter="url(#b1)"/>
<ellipse cx="590.00" cy="69.70" rx="3.34" ry="2.99" transform="rotate(155 590.00 69.70)" fill="#500a0a" opacity="0.80" filter="url(#b1)"/>
<ellipse cx="590.00" cy="69.70" rx="2.75" ry="2.39" transform="rotate(155 590.00 69.70)" fill="none" stroke="#a01818" stroke-width="0.80" opacity="0.62" filter="url(#b1)"/>
<circle cx="590.70" cy="69.17" r="1.06" fill="#a01818" opacity="0.55" filter="url(#b1)"/>
</g>
<clipPath id="cp12581"><rect x="581.00" y="41.70" width="34.40" height="34.20"/></clipPath>
<rect x="617.20" y="41.70" width="34.40" height="34.20" fill="#0d0f07"/>
<g clip-path="url(#cp13617)">
<ellipse cx="637.70" cy="45.70" rx="3.20" ry="2.88" transform="rotate(72 637.70 45.70)" fill="#5a4a0e" opacity="0.85" filter="url(#b1)"/>
<ellipse cx="637.70" cy="45.70" rx="2.82" ry="2.50" transform="rotate(72 637.70 45.70)" fill="none" stroke="#5a9a28" stroke-width="0.80" opacity="0.80" filter="url(#b1)"/>
<circle cx="638.02" cy="45.70" r="1.44" fill="#a04412" opacity="0.55" filter="url(#b1)"/>
<ellipse cx="635.70" cy="51.30" rx="3.20" ry="2.88" transform="rotate(93 635.70 51.30)" fill="#5a4a0e" opacity="0.85" filter="url(#b1)"/>
<ellipse cx="635.70" cy="51.30" rx="2.82" ry="2.50" transform="rotate(93 635.70 51.30)" fill="none" stroke="#5a9a28" stroke-width="0.80" opacity="0.80" filter="url(#b1)"/>
<circle cx="636.02" cy="51.30" r="1.44" fill="#a04412" opacity="0.55" filter="url(#b1)"/>
<ellipse cx="642.00" cy="50.70" rx="3.20" ry="2.88" transform="rotate(136 642.00 50.70)" fill="#5a4a0e" opacity="0.85" filter="url(#b1)"/>
<ellipse cx="642.00" cy="50.70" rx="2.82" ry="2.50" transform="rotate(136 642.00 50.70)" fill="none" stroke="#5a9a28" stroke-width="0.80" opacity="0.80" filter="url(#b1)"/>
<circle cx="642.32" cy="50.70" r="1.44" fill="#a04412" opacity="0.55" filter="url(#b1)"/>
<ellipse cx="626.20" cy="69.70" rx="3.52" ry="3.17" transform="rotate(54 626.20 69.70)" fill="#5a4a0e" opacity="0.85" filter="url(#b1)"/>
<ellipse cx="626.20" cy="69.70" rx="3.10" ry="2.75" transform="rotate(54 626.20 69.70)" fill="none" stroke="#5a9a28" stroke-width="0.80" opacity="0.80" filter="url(#b1)"/>
<circle cx="626.55" cy="69.70" r="1.58" fill="#a04412" opacity="0.55" filter="url(#b1)"/>
</g>
<clipPath id="cp13617"><rect x="617.20" y="41.70" width="34.40" height="34.20"/></clipPath>
<rect x="508.20" y="77.90" width="34.40" height="34.20" fill="#06061a"/>
<g clip-path="url(#cp20508)">
<ellipse cx="528.40" cy="92.80" rx="2.42" ry="2.07" transform="rotate(68 528.40 92.80)" fill="#2a36b4" opacity="0.85" filter="url(#b1)"/>
<ellipse cx="527.82" cy="92.57" rx="1.15" ry="1.03" fill="#3e50d8" opacity="0.50" filter="url(#b1)"/>
<ellipse cx="520.50" cy="100.70" rx="2.62" ry="2.25" transform="rotate(90 520.50 100.70)" fill="#2a36b4" opacity="0.85" filter="url(#b1)"/>
<ellipse cx="519.88" cy="100.45" rx="1.25" ry="1.12" fill="#3e50d8" opacity="0.50" filter="url(#b1)"/>
</g>
<clipPath id="cp20508"><rect x="508.20" y="77.90" width="34.40" height="34.20"/></clipPath>
<rect x="544.70" y="77.90" width="34.40" height="34.20" fill="#060e06"/>
<g clip-path="url(#cp21544)">
<ellipse cx="564.90" cy="92.80" rx="3.68" ry="3.31" transform="rotate(159 564.90 92.80)" fill="#17561a" opacity="0.85" filter="url(#b1)"/>
<ellipse cx="564.90" cy="92.80" rx="3.24" ry="2.87" transform="rotate(159 564.90 92.80)" fill="none" stroke="#30a030" stroke-width="0.80" opacity="0.80" filter="url(#b1)"/>
<circle cx="563.98" cy="93.54" r="1.10" fill="#2a8a2a" opacity="0.50" filter="url(#b1)"/>
<ellipse cx="557.00" cy="100.70" rx="4.00" ry="3.60" transform="rotate(1 557.00 100.70)" fill="#17561a" opacity="0.85" filter="url(#b1)"/>
<ellipse cx="557.00" cy="100.70" rx="3.52" ry="3.12" transform="rotate(1 557.00 100.70)" fill="none" stroke="#30a030" stroke-width="0.80" opacity="0.80" filter="url(#b1)"/>
<circle cx="556.00" cy="101.50" r="1.20" fill="#2a8a2a" opacity="0.50" filter="url(#b1)"/>
</g>
<clipPath id="cp21544"><rect x="544.70" y="77.90" width="34.40" height="34.20"/></clipPath>
<rect x="581.00" y="77.90" width="34.40" height="34.20" fill="#100404"/>
<g clip-path="url(#cp22581)">
<ellipse cx="601.20" cy="92.80" rx="3.50" ry="3.13" transform="rotate(62 601.20 92.80)" fill="#500a0a" opacity="0.80" filter="url(#b1)"/>
<ellipse cx="601.20" cy="92.80" rx="2.87" ry="2.50" transform="rotate(62 601.20 92.80)" fill="none" stroke="#a01818" stroke-width="0.80" opacity="0.62" filter="url(#b1)"/>
<circle cx="601.94" cy="92.25" r="1.10" fill="#a01818" opacity="0.55" filter="url(#b1)"/>
<ellipse cx="593.30" cy="100.70" rx="3.80" ry="3.40" transform="rotate(84 593.30 100.70)" fill="#500a0a" opacity="0.80" filter="url(#b1)"/>
<ellipse cx="593.30" cy="100.70" rx="3.12" ry="2.72" transform="rotate(84 593.30 100.70)" fill="none" stroke="#a01818" stroke-width="0.80" opacity="0.62" filter="url(#b1)"/>
<circle cx="594.10" cy="100.10" r="1.20" fill="#a01818" opacity="0.55" filter="url(#b1)"/>
</g>
<clipPath id="cp22581"><rect x="581.00" y="77.90" width="34.40" height="34.20"/></clipPath>
<rect x="617.20" y="77.90" width="34.40" height="34.20" fill="#0d0f07"/>
<g clip-path="url(#cp23617)">
<ellipse cx="637.40" cy="92.80" rx="3.68" ry="3.31" transform="rotate(141 637.40 92.80)" fill="#5a4a0e" opacity="0.85" filter="url(#b1)"/>
<ellipse cx="637.40" cy="92.80" rx="3.24" ry="2.87" transform="rotate(141 637.40 92.80)" fill="none" stroke="#5a9a28" stroke-width="0.80" opacity="0.80" filter="url(#b1)"/>
<circle cx="637.77" cy="92.80" r="1.66" fill="#a04412" opacity="0.55" filter="url(#b1)"/>
<ellipse cx="629.50" cy="100.70" rx="4.00" ry="3.60" transform="rotate(163 629.50 100.70)" fill="#5a4a0e" opacity="0.85" filter="url(#b1)"/>
<ellipse cx="629.50" cy="100.70" rx="3.52" ry="3.12" transform="rotate(163 629.50 100.70)" fill="none" stroke="#5a9a28" stroke-width="0.80" opacity="0.80" filter="url(#b1)"/>
<circle cx="629.90" cy="100.70" r="1.80" fill="#a04412" opacity="0.55" filter="url(#b1)"/>
</g>
<clipPath id="cp23617"><rect x="617.20" y="77.90" width="34.40" height="34.20"/></clipPath>
<rect x="508.20" y="114.00" width="34.40" height="34.20" fill="#06061a"/>
<g clip-path="url(#cp30508)">
<ellipse cx="524.50" cy="120.00" rx="2.31" ry="1.98" transform="rotate(26 524.50 120.00)" fill="#2a36b4" opacity="0.85" filter="url(#b1)"/>
<ellipse cx="523.95" cy="119.78" rx="1.10" ry="0.99" fill="#3e50d8" opacity="0.50" filter="url(#b1)"/>
<ellipse cx="526.60" cy="127.90" rx="2.31" ry="1.98" transform="rotate(58 526.60 127.90)" fill="#2a36b4" opacity="0.85" filter="url(#b1)"/>
<ellipse cx="526.05" cy="127.68" rx="1.10" ry="0.99" fill="#3e50d8" opacity="0.50" filter="url(#b1)"/>
<ellipse cx="516.10" cy="142.10" rx="2.31" ry="1.98" transform="rotate(91 516.10 142.10)" fill="#2a36b4" opacity="0.85" filter="url(#b1)"/>
<ellipse cx="515.55" cy="141.88" rx="1.10" ry="0.99" fill="#3e50d8" opacity="0.50" filter="url(#b1)"/>
</g>
<clipPath id="cp30508"><rect x="508.20" y="114.00" width="34.40" height="34.20"/></clipPath>
<rect x="544.70" y="114.00" width="34.40" height="34.20" fill="#060e06"/>
<g clip-path="url(#cp31544)">
<ellipse cx="561.00" cy="120.00" rx="3.52" ry="3.17" transform="rotate(117 561.00 120.00)" fill="#17561a" opacity="0.85" filter="url(#b1)"/>
<ellipse cx="561.00" cy="120.00" rx="3.10" ry="2.75" transform="rotate(117 561.00 120.00)" fill="none" stroke="#30a030" stroke-width="0.80" opacity="0.80" filter="url(#b1)"/>
<circle cx="560.12" cy="120.70" r="1.06" fill="#2a8a2a" opacity="0.50" filter="url(#b1)"/>
<ellipse cx="563.10" cy="127.90" rx="3.52" ry="3.17" transform="rotate(149 563.10 127.90)" fill="#17561a" opacity="0.85" filter="url(#b1)"/>
<ellipse cx="563.10" cy="127.90" rx="3.10" ry="2.75" transform="rotate(149 563.10 127.90)" fill="none" stroke="#30a030" stroke-width="0.80" opacity="0.80" filter="url(#b1)"/>
<circle cx="562.22" cy="128.60" r="1.06" fill="#2a8a2a" opacity="0.50" filter="url(#b1)"/>
<ellipse cx="552.60" cy="142.10" rx="3.52" ry="3.17" transform="rotate(2 552.60 142.10)" fill="#17561a" opacity="0.85" filter="url(#b1)"/>
<ellipse cx="552.60" cy="142.10" rx="3.10" ry="2.75" transform="rotate(2 552.60 142.10)" fill="none" stroke="#30a030" stroke-width="0.80" opacity="0.80" filter="url(#b1)"/>
<circle cx="551.72" cy="142.80" r="1.06" fill="#2a8a2a" opacity="0.50" filter="url(#b1)"/>
</g>
<clipPath id="cp31544"><rect x="544.70" y="114.00" width="34.40" height="34.20"/></clipPath>
<rect x="581.00" y="114.00" width="34.40" height="34.20" fill="#100404"/>
<g clip-path="url(#cp32581)">
<ellipse cx="597.30" cy="120.00" rx="3.34" ry="2.99" transform="rotate(20 597.30 120.00)" fill="#500a0a" opacity="0.80" filter="url(#b1)"/>
<ellipse cx="597.30" cy="120.00" rx="2.75" ry="2.39" transform="rotate(20 597.30 120.00)" fill="none" stroke="#a01818" stroke-width="0.80" opacity="0.62" filter="url(#b1)"/>
<circle cx="598.00" cy="119.47" r="1.06" fill="#a01818" opacity="0.55" filter="url(#b1)"/>
<ellipse cx="599.40" cy="127.90" rx="3.34" ry="2.99" transform="rotate(52 599.40 127.90)" fill="#500a0a" opacity="0.80" filter="url(#b1)"/>
<ellipse cx="599.40" cy="127.90" rx="2.75" ry="2.39" transform="rotate(52 599.40 127.90)" fill="none" stroke="#a01818" stroke-width="0.80" opacity="0.62" filter="url(#b1)"/>
<circle cx="600.10" cy="127.37" r="1.06" fill="#a01818" opacity="0.55" filter="url(#b1)"/>
<ellipse cx="588.90" cy="142.10" rx="3.34" ry="2.99" transform="rotate(85 588.90 142.10)" fill="#500a0a" opacity="0.80" filter="url(#b1)"/>
<ellipse cx="588.90" cy="142.10" rx="2.75" ry="2.39" transform="rotate(85 588.90 142.10)" fill="none" stroke="#a01818" stroke-width="0.80" opacity="0.62" filter="url(#b1)"/>
<circle cx="589.60" cy="141.57" r="1.06" fill="#a01818" opacity="0.55" filter="url(#b1)"/>
</g>
<clipPath id="cp32581"><rect x="581.00" y="114.00" width="34.40" height="34.20"/></clipPath>
<rect x="617.20" y="114.00" width="34.40" height="34.20" fill="#0d0f07"/>
<g clip-path="url(#cp33617)">
<ellipse cx="633.50" cy="120.00" rx="3.52" ry="3.17" transform="rotate(100 633.50 120.00)" fill="#5a4a0e" opacity="0.85" filter="url(#b1)"/>
<ellipse cx="633.50" cy="120.00" rx="3.10" ry="2.75" transform="rotate(100 633.50 120.00)" fill="none" stroke="#5a9a28" stroke-width="0.80" opacity="0.80" filter="url(#b1)"/>
<circle cx="633.85" cy="120.00" r="1.58" fill="#a04412" opacity="0.55" filter="url(#b1)"/>
<ellipse cx="635.60" cy="127.90" rx="3.52" ry="3.17" transform="rotate(132 635.60 127.90)" fill="#5a4a0e" opacity="0.85" filter="url(#b1)"/>
<ellipse cx="635.60" cy="127.90" rx="3.10" ry="2.75" transform="rotate(132 635.60 127.90)" fill="none" stroke="#5a9a28" stroke-width="0.80" opacity="0.80" filter="url(#b1)"/>
<circle cx="635.95" cy="127.90" r="1.58" fill="#a04412" opacity="0.55" filter="url(#b1)"/>
<ellipse cx="625.10" cy="142.10" rx="3.52" ry="3.17" transform="rotate(164 625.10 142.10)" fill="#5a4a0e" opacity="0.85" filter="url(#b1)"/>
<ellipse cx="625.10" cy="142.10" rx="3.10" ry="2.75" transform="rotate(164 625.10 142.10)" fill="none" stroke="#5a9a28" stroke-width="0.80" opacity="0.80" filter="url(#b1)"/>
<circle cx="625.45" cy="142.10" r="1.58" fill="#a04412" opacity="0.55" filter="url(#b1)"/>
</g>
<clipPath id="cp33617"><rect x="617.20" y="114.00" width="34.40" height="34.20"/></clipPath>
<line x1="643.70" y1="146.40" x2="649.20" y2="146.40" stroke="#f0f0f0" stroke-width="1.6"/>
<text x="301.20" y="3.60" font-size="4.3" font-weight="bold" text-anchor="middle" fill="#222" color="#222" stroke-width="0.082" font-family="'Liberation Sans', Arial, sans-serif">DAPI</text>
<text x="337.50" y="3.60" font-size="4.3" font-weight="bold" text-anchor="middle" fill="#222" color="#222" stroke-width="0.082" font-family="'Liberation Sans', Arial, sans-serif">NKG2D</text>
<text x="373.60" y="3.60" font-size="4.3" font-weight="bold" text-anchor="middle" fill="#222" color="#222" stroke-width="0.082" font-family="'Liberation Sans', Arial, sans-serif">RAB5</text>
<text x="409.80" y="3.60" font-size="4.3" font-weight="bold" text-anchor="middle" fill="#222" color="#222" stroke-width="0.082" font-family="'Liberation Sans', Arial, sans-serif">Merge</text>
<text x="525.40" y="3.40" font-size="4.3" font-weight="bold" text-anchor="middle" fill="#222" color="#222" stroke-width="0.082" font-family="'Liberation Sans', Arial, sans-serif">DAPI</text>
<text x="561.90" y="3.40" font-size="4.3" font-weight="bold" text-anchor="middle" fill="#222" color="#222" stroke-width="0.082" font-family="'Liberation Sans', Arial, sans-serif">NKG2D</text>
<text x="598.20" y="3.40" font-size="4.3" font-weight="bold" text-anchor="middle" fill="#222" color="#222" stroke-width="0.082" font-family="'Liberation Sans', Arial, sans-serif">RAB5</text>
<text x="634.40" y="3.40" font-size="4.3" font-weight="bold" text-anchor="middle" fill="#222" color="#222" stroke-width="0.082" font-family="'Liberation Sans', Arial, sans-serif">Merge</text>
<line x1="268.90" y1="25.00" x2="268.90" y2="61.80" stroke="#4a4444" stroke-width="1.5"/>
<text x="270.90" y="29.80" font-size="4.2" font-weight="bold" text-anchor="start" fill="#000" color="#000" stroke-width="0.080" font-family="'Liberation Sans', Arial, sans-serif">Ctrl</text>
<text x="270.90" y="57.70" font-size="4.2" font-weight="bold" text-anchor="start" fill="#000" color="#000" stroke-width="0.080" font-family="'Liberation Sans', Arial, sans-serif">sMICA</text>
<text x="265.80" y="45.00" font-size="4.1" font-weight="bold" text-anchor="end" fill="#000" color="#000" stroke-width="0.078" font-family="'Liberation Sans', Arial, sans-serif">shCtrl</text>
<line x1="268.90" y1="92.10" x2="268.90" y2="128.80" stroke="#4a4444" stroke-width="1.5"/>
<text x="270.90" y="99.60" font-size="4.2" font-weight="bold" text-anchor="start" fill="#000" color="#000" stroke-width="0.080" font-family="'Liberation Sans', Arial, sans-serif">Ctrl</text>
<text x="270.90" y="126.20" font-size="4.2" font-weight="bold" text-anchor="start" fill="#000" color="#000" stroke-width="0.080" font-family="'Liberation Sans', Arial, sans-serif">sMICA</text>
<text x="265.30" y="111.70" font-size="4.1" font-weight="bold" text-anchor="end" fill="#000" color="#000" stroke-width="0.078" font-family="'Liberation Sans', Arial, sans-serif">shcircARAP2</text>
<line x1="493.30" y1="25.00" x2="493.30" y2="61.50" stroke="#4a4444" stroke-width="1.5"/>
<text x="495.30" y="29.60" font-size="4.2" font-weight="bold" text-anchor="start" fill="#000" color="#000" stroke-width="0.080" font-family="'Liberation Sans', Arial, sans-serif">Ctrl</text>
<text x="495.30" y="57.40" font-size="4.2" font-weight="bold" text-anchor="start" fill="#000" color="#000" stroke-width="0.080" font-family="'Liberation Sans', Arial, sans-serif">sMICA</text>
<text x="489.80" y="44.70" font-size="4.1" font-weight="bold" text-anchor="end" fill="#000" color="#000" stroke-width="0.078" font-family="'Liberation Sans', Arial, sans-serif">shCtrl</text>
<line x1="493.30" y1="92.00" x2="493.30" y2="128.80" stroke="#4a4444" stroke-width="1.5"/>
<text x="495.30" y="99.40" font-size="4.2" font-weight="bold" text-anchor="start" fill="#000" color="#000" stroke-width="0.080" font-family="'Liberation Sans', Arial, sans-serif">Ctrl</text>
<text x="495.30" y="126.00" font-size="4.2" font-weight="bold" text-anchor="start" fill="#000" color="#000" stroke-width="0.080" font-family="'Liberation Sans', Arial, sans-serif">sMICA</text>
<text x="489.30" y="111.00" font-size="4.1" font-weight="bold" text-anchor="end" fill="#000" color="#000" stroke-width="0.078" font-family="'Liberation Sans', Arial, sans-serif">shcircARAP2</text>
<text x="233.90" y="77.70" font-size="8.8" font-weight="bold" text-anchor="start" fill="#000" color="#000" stroke-width="0.167" font-family="'Liberation Sans', Arial, sans-serif">NK92</text>
<text x="431.60" y="77.80" font-size="8.8" font-weight="bold" text-anchor="start" fill="#000" color="#000" stroke-width="0.167" font-family="'Liberation Sans', Arial, sans-serif">Activated NK</text>
<circle cx="312.10" cy="200.44" r="1.70" fill="#C0A34B"/>
<circle cx="320.20" cy="202.59" r="1.70" fill="#C0A34B"/>
<circle cx="316.30" cy="210.32" r="1.70" fill="#C0A34B"/>
<line x1="310.10" y1="204.31" x2="322.50" y2="204.31" stroke="#C0A34B" stroke-width="1.2"/>
<line x1="316.30" y1="200.87" x2="316.30" y2="207.75" stroke="#C0A34B" stroke-width="1.0"/>
<line x1="313.30" y1="200.87" x2="319.30" y2="200.87" stroke="#C0A34B" stroke-width="1.0"/>
<line x1="313.30" y1="207.75" x2="319.30" y2="207.75" stroke="#C0A34B" stroke-width="1.0"/>
<rect x="332.00" y="184.57" width="3.40" height="3.40" fill="#8890C0"/>
<rect x="327.80" y="188.87" width="3.40" height="3.40" fill="#8890C0"/>
<rect x="332.00" y="195.31" width="3.40" height="3.40" fill="#8890C0"/>
<line x1="327.50" y1="191.42" x2="339.90" y2="191.42" stroke="#8890C0" stroke-width="1.2"/>
<line x1="333.70" y1="188.42" x2="333.70" y2="194.43" stroke="#8890C0" stroke-width="1.0"/>
<line x1="330.70" y1="188.42" x2="336.70" y2="188.42" stroke="#8890C0" stroke-width="1.0"/>
<line x1="330.70" y1="194.43" x2="336.70" y2="194.43" stroke="#8890C0" stroke-width="1.0"/>
<circle cx="358.20" cy="195.72" r="1.70" fill="#C0A34B"/>
<circle cx="366.10" cy="197.44" r="1.70" fill="#C0A34B"/>
<circle cx="362.10" cy="203.45" r="1.70" fill="#C0A34B"/>
<line x1="355.90" y1="198.90" x2="368.30" y2="198.90" stroke="#C0A34B" stroke-width="1.2"/>
<line x1="362.10" y1="196.75" x2="362.10" y2="201.04" stroke="#C0A34B" stroke-width="1.0"/>
<line x1="359.10" y1="196.75" x2="365.10" y2="196.75" stroke="#C0A34B" stroke-width="1.0"/>
<line x1="359.10" y1="201.04" x2="365.10" y2="201.04" stroke="#C0A34B" stroke-width="1.0"/>
<rect x="377.50" y="194.02" width="3.40" height="3.40" fill="#8890C0"/>
<rect x="373.30" y="199.17" width="3.40" height="3.40" fill="#8890C0"/>
<rect x="381.80" y="199.17" width="3.40" height="3.40" fill="#8890C0"/>
<line x1="373.00" y1="199.58" x2="385.40" y2="199.58" stroke="#8890C0" stroke-width="1.2"/>
<line x1="379.20" y1="197.87" x2="379.20" y2="201.30" stroke="#8890C0" stroke-width="1.0"/>
<line x1="376.20" y1="197.87" x2="382.20" y2="197.87" stroke="#8890C0" stroke-width="1.0"/>
<line x1="376.20" y1="201.30" x2="382.20" y2="201.30" stroke="#8890C0" stroke-width="1.0"/>
<line x1="303.90" y1="158.90" x2="303.90" y2="247.25" stroke="#000" stroke-width="1.7"/>
<line x1="299.50" y1="246.40" x2="303.90" y2="246.40" stroke="#000" stroke-width="1.36"/>
<text x="299.30" y="248.54" font-size="6.3" font-weight="bold" text-anchor="end" fill="#000" color="#000" stroke-width="0.120" font-family="'Liberation Sans', Arial, sans-serif">0.0</text>
<line x1="299.50" y1="229.22" x2="303.90" y2="229.22" stroke="#000" stroke-width="1.36"/>
<text x="299.30" y="231.36" font-size="6.3" font-weight="bold" text-anchor="end" fill="#000" color="#000" stroke-width="0.120" font-family="'Liberation Sans', Arial, sans-serif">0.2</text>
<line x1="299.50" y1="212.04" x2="303.90" y2="212.04" stroke="#000" stroke-width="1.36"/>
<text x="299.30" y="214.18" font-size="6.3" font-weight="bold" text-anchor="end" fill="#000" color="#000" stroke-width="0.120" font-family="'Liberation Sans', Arial, sans-serif">0.4</text>
<line x1="299.50" y1="194.86" x2="303.90" y2="194.86" stroke="#000" stroke-width="1.36"/>
<text x="299.30" y="197.00" font-size="6.3" font-weight="bold" text-anchor="end" fill="#000" color="#000" stroke-width="0.120" font-family="'Liberation Sans', Arial, sans-serif">0.6</text>
<line x1="299.50" y1="177.68" x2="303.90" y2="177.68" stroke="#000" stroke-width="1.36"/>
<text x="299.30" y="179.82" font-size="6.3" font-weight="bold" text-anchor="end" fill="#000" color="#000" stroke-width="0.120" font-family="'Liberation Sans', Arial, sans-serif">0.8</text>
<line x1="299.50" y1="160.50" x2="303.90" y2="160.50" stroke="#000" stroke-width="1.36"/>
<text x="299.30" y="162.64" font-size="6.3" font-weight="bold" text-anchor="end" fill="#000" color="#000" stroke-width="0.120" font-family="'Liberation Sans', Arial, sans-serif">1.0</text>
<line x1="303.10" y1="246.40" x2="392.30" y2="246.40" stroke="#000" stroke-width="1.6"/>
<line x1="324.10" y1="246.40" x2="324.10" y2="249.90" stroke="#000" stroke-width="1.3"/>
<text x="324.10" y="257.50" font-size="6.5" font-weight="bold" text-anchor="middle" fill="#000" color="#000" stroke-width="0.123" font-family="'Liberation Sans', Arial, sans-serif">shCtrl</text>
<line x1="370.60" y1="246.40" x2="370.60" y2="249.90" stroke="#000" stroke-width="1.3"/>
<text x="370.60" y="257.50" font-size="6.5" font-weight="bold" text-anchor="middle" fill="#000" color="#000" stroke-width="0.123" font-family="'Liberation Sans', Arial, sans-serif">shcircARAP2</text>
<path d="M316.30,182.40 L316.30,179.40 L333.70,179.40 L333.70,182.40" fill="none" stroke="#222" stroke-width="0.9"/>
<text x="325.00" y="180.57" font-size="7.3" text-anchor="middle" fill="#222" color="#222" stroke-width="0.139" font-family="'Liberation Sans', Arial, sans-serif">*</text>
<path d="M362.10,190.10 L362.10,187.10 L379.20,187.10 L379.20,190.10" fill="none" stroke="#222" stroke-width="0.9"/>
<text x="370.65" y="185.80" font-size="7.3" text-anchor="middle" fill="#222" color="#222" stroke-width="0.139" font-family="'Liberation Sans', Arial, sans-serif">ns</text>
<circle cx="389.80" cy="166.10" r="1.90" fill="#C0A34B"/>
<text x="399.60" y="168.70" font-size="7.3" text-anchor="start" fill="#000" color="#000" stroke-width="0.139" font-family="'Liberation Sans', Arial, sans-serif">Ctrl</text>
<rect x="387.90" y="175.80" width="3.80" height="3.80" fill="#8890C0"/>
<text x="399.60" y="180.30" font-size="7.3" text-anchor="start" fill="#000" color="#000" stroke-width="0.139" font-family="'Liberation Sans', Arial, sans-serif">sMICA</text>
<text x="287.10" y="203.40" font-size="7.2" font-weight="bold" text-anchor="middle" fill="#000" color="#000" stroke-width="0.137" font-family="'Liberation Sans', Arial, sans-serif" transform="rotate(-90 287.10 203.40)">Pearson coefficient</text>
<circle cx="537.40" cy="196.18" r="1.70" fill="#C0A34B"/>
<circle cx="537.40" cy="199.10" r="1.70" fill="#C0A34B"/>
<circle cx="537.40" cy="208.71" r="1.70" fill="#C0A34B"/>
<line x1="531.20" y1="201.11" x2="543.60" y2="201.11" stroke="#C0A34B" stroke-width="1.2"/>
<line x1="537.40" y1="197.77" x2="537.40" y2="204.45" stroke="#C0A34B" stroke-width="1.0"/>
<line x1="534.40" y1="197.77" x2="540.40" y2="197.77" stroke="#C0A34B" stroke-width="1.0"/>
<line x1="534.40" y1="204.45" x2="540.40" y2="204.45" stroke="#C0A34B" stroke-width="1.0"/>
<rect x="552.50" y="175.69" width="3.40" height="3.40" fill="#8890C0"/>
<rect x="548.90" y="181.54" width="3.40" height="3.40" fill="#8890C0"/>
<rect x="556.50" y="181.12" width="3.40" height="3.40" fill="#8890C0"/>
<line x1="548.00" y1="181.15" x2="560.40" y2="181.15" stroke="#8890C0" stroke-width="1.2"/>
<line x1="554.20" y1="179.48" x2="554.20" y2="182.82" stroke="#8890C0" stroke-width="1.0"/>
<line x1="551.20" y1="179.48" x2="557.20" y2="179.48" stroke="#8890C0" stroke-width="1.0"/>
<line x1="551.20" y1="182.82" x2="557.20" y2="182.82" stroke="#8890C0" stroke-width="1.0"/>
<circle cx="582.80" cy="191.17" r="1.70" fill="#C0A34B"/>
<circle cx="578.70" cy="196.18" r="1.70" fill="#C0A34B"/>
<circle cx="586.90" cy="194.93" r="1.70" fill="#C0A34B"/>
<line x1="576.60" y1="194.09" x2="589.00" y2="194.09" stroke="#C0A34B" stroke-width="1.2"/>
<line x1="582.80" y1="192.84" x2="582.80" y2="195.35" stroke="#C0A34B" stroke-width="1.0"/>
<line x1="579.80" y1="192.84" x2="585.80" y2="192.84" stroke="#C0A34B" stroke-width="1.0"/>
<line x1="579.80" y1="195.35" x2="585.80" y2="195.35" stroke="#C0A34B" stroke-width="1.0"/>
<rect x="593.70" y="192.40" width="3.40" height="3.40" fill="#8890C0"/>
<rect x="601.50" y="192.40" width="3.40" height="3.40" fill="#8890C0"/>
<rect x="597.40" y="206.17" width="3.40" height="3.40" fill="#8890C0"/>
<line x1="592.90" y1="198.44" x2="605.30" y2="198.44" stroke="#8890C0" stroke-width="1.2"/>
<line x1="599.10" y1="193.84" x2="599.10" y2="203.03" stroke="#8890C0" stroke-width="1.0"/>
<line x1="596.10" y1="193.84" x2="602.10" y2="193.84" stroke="#8890C0" stroke-width="1.0"/>
<line x1="596.10" y1="203.03" x2="602.10" y2="203.03" stroke="#8890C0" stroke-width="1.0"/>
<line x1="526.00" y1="161.60" x2="526.00" y2="247.55" stroke="#000" stroke-width="1.7"/>
<line x1="521.60" y1="246.70" x2="526.00" y2="246.70" stroke="#000" stroke-width="1.36"/>
<text x="521.40" y="248.84" font-size="6.3" font-weight="bold" text-anchor="end" fill="#000" color="#000" stroke-width="0.120" font-family="'Liberation Sans', Arial, sans-serif">0.0</text>
<line x1="521.60" y1="230.00" x2="526.00" y2="230.00" stroke="#000" stroke-width="1.36"/>
<text x="521.40" y="232.14" font-size="6.3" font-weight="bold" text-anchor="end" fill="#000" color="#000" stroke-width="0.120" font-family="'Liberation Sans', Arial, sans-serif">0.2</text>
<line x1="521.60" y1="213.30" x2="526.00" y2="213.30" stroke="#000" stroke-width="1.36"/>
<text x="521.40" y="215.44" font-size="6.3" font-weight="bold" text-anchor="end" fill="#000" color="#000" stroke-width="0.120" font-family="'Liberation Sans', Arial, sans-serif">0.4</text>
<line x1="521.60" y1="196.60" x2="526.00" y2="196.60" stroke="#000" stroke-width="1.36"/>
<text x="521.40" y="198.74" font-size="6.3" font-weight="bold" text-anchor="end" fill="#000" color="#000" stroke-width="0.120" font-family="'Liberation Sans', Arial, sans-serif">0.6</text>
<line x1="521.60" y1="179.90" x2="526.00" y2="179.90" stroke="#000" stroke-width="1.36"/>
<text x="521.40" y="182.04" font-size="6.3" font-weight="bold" text-anchor="end" fill="#000" color="#000" stroke-width="0.120" font-family="'Liberation Sans', Arial, sans-serif">0.8</text>
<line x1="521.60" y1="163.20" x2="526.00" y2="163.20" stroke="#000" stroke-width="1.36"/>
<text x="521.40" y="165.34" font-size="6.3" font-weight="bold" text-anchor="end" fill="#000" color="#000" stroke-width="0.120" font-family="'Liberation Sans', Arial, sans-serif">1.0</text>
<line x1="525.20" y1="246.70" x2="611.00" y2="246.70" stroke="#000" stroke-width="1.6"/>
<line x1="545.60" y1="246.70" x2="545.60" y2="250.20" stroke="#000" stroke-width="1.3"/>
<text x="545.60" y="257.80" font-size="6.5" font-weight="bold" text-anchor="middle" fill="#000" color="#000" stroke-width="0.123" font-family="'Liberation Sans', Arial, sans-serif">shCtrl</text>
<line x1="591.60" y1="246.70" x2="591.60" y2="250.20" stroke="#000" stroke-width="1.3"/>
<text x="591.60" y="257.80" font-size="6.5" font-weight="bold" text-anchor="middle" fill="#000" color="#000" stroke-width="0.123" font-family="'Liberation Sans', Arial, sans-serif">shcircARAP2</text>
<path d="M537.00,172.40 L537.00,169.40 L554.60,169.40 L554.60,172.40" fill="none" stroke="#222" stroke-width="0.9"/>
<text x="545.80" y="170.57" font-size="7.3" text-anchor="middle" fill="#222" color="#222" stroke-width="0.139" font-family="'Liberation Sans', Arial, sans-serif">**</text>
<path d="M581.90,184.70 L581.90,181.70 L599.50,181.70 L599.50,184.70" fill="none" stroke="#222" stroke-width="0.9"/>
<text x="590.70" y="180.40" font-size="7.3" text-anchor="middle" fill="#222" color="#222" stroke-width="0.139" font-family="'Liberation Sans', Arial, sans-serif">ns</text>
<circle cx="609.30" cy="168.80" r="1.90" fill="#C0A34B"/>
<text x="618.50" y="171.40" font-size="7.3" text-anchor="start" fill="#000" color="#000" stroke-width="0.139" font-family="'Liberation Sans', Arial, sans-serif">Ctrl</text>
<rect x="607.40" y="177.70" width="3.80" height="3.80" fill="#8890C0"/>
<text x="618.50" y="182.20" font-size="7.3" text-anchor="start" fill="#000" color="#000" stroke-width="0.139" font-family="'Liberation Sans', Arial, sans-serif">sMICA</text>
<text x="509.70" y="203.40" font-size="7.2" font-weight="bold" text-anchor="middle" fill="#000" color="#000" stroke-width="0.137" font-family="'Liberation Sans', Arial, sans-serif" transform="rotate(-90 509.70 203.40)">Pearson coefficient</text>
<line x1="54.50" y1="323.54" x2="54.50" y2="332.50" stroke="#C0A34B" stroke-width="1.1"/>
<line x1="52.30" y1="323.54" x2="56.70" y2="323.54" stroke="#C0A34B" stroke-width="1.1"/>
<path d="M50.55,396.40 L50.55,331.15 L58.45,331.15 L58.45,396.40" fill="none" stroke="#C0A34B" stroke-width="2.7" stroke-linejoin="miter"/>
<circle cx="54.50" cy="318.79" r="2.10" fill="#fff" stroke="#C0A34B" stroke-width="1.5"/>
<circle cx="54.50" cy="325.55" r="2.10" fill="#fff" stroke="#C0A34B" stroke-width="1.5"/>
<circle cx="54.50" cy="345.57" r="2.10" fill="#fff" stroke="#C0A34B" stroke-width="1.5"/>
<line x1="69.00" y1="322.04" x2="69.00" y2="335.25" stroke="#C0A34B" stroke-width="1.1"/>
<line x1="66.80" y1="322.04" x2="71.20" y2="322.04" stroke="#C0A34B" stroke-width="1.1"/>
<path d="M65.05,396.40 L65.05,333.90 L72.95,333.90 L72.95,396.40" fill="none" stroke="#C0A34B" stroke-width="2.7" stroke-linejoin="miter"/>
<circle cx="65.70" cy="318.79" r="2.10" fill="#fff" stroke="#C0A34B" stroke-width="1.5"/>
<circle cx="72.30" cy="320.54" r="2.10" fill="#fff" stroke="#C0A34B" stroke-width="1.5"/>
<circle cx="69.00" cy="358.09" r="2.10" fill="#fff" stroke="#C0A34B" stroke-width="1.5"/>
<line x1="83.60" y1="330.05" x2="83.60" y2="338.26" stroke="#C0A34B" stroke-width="1.1"/>
<line x1="81.40" y1="330.05" x2="85.80" y2="330.05" stroke="#C0A34B" stroke-width="1.1"/>
<path d="M79.65,396.40 L79.65,336.91 L87.55,336.91 L87.55,396.40" fill="none" stroke="#C0A34B" stroke-width="2.7" stroke-linejoin="miter"/>
<circle cx="81.00" cy="328.05" r="2.10" fill="#fff" stroke="#C0A34B" stroke-width="1.5"/>
<circle cx="86.50" cy="331.30" r="2.10" fill="#fff" stroke="#C0A34B" stroke-width="1.5"/>
<circle cx="83.60" cy="345.57" r="2.10" fill="#fff" stroke="#C0A34B" stroke-width="1.5"/>
<line x1="107.30" y1="344.32" x2="107.30" y2="353.28" stroke="#8890C0" stroke-width="1.1"/>
<line x1="105.10" y1="344.32" x2="109.50" y2="344.32" stroke="#8890C0" stroke-width="1.1"/>
<path d="M103.35,396.40 L103.35,351.93 L111.25,351.93 L111.25,396.40" fill="none" stroke="#8890C0" stroke-width="2.7" stroke-linejoin="miter"/>
<rect x="102.60" y="343.47" width="4.20" height="4.20" fill="#fff" stroke="#8890C0" stroke-width="1.5"/>
<rect x="108.50" y="345.22" width="4.20" height="4.20" fill="#fff" stroke="#8890C0" stroke-width="1.5"/>
<rect x="105.20" y="355.99" width="4.20" height="4.20" fill="#fff" stroke="#8890C0" stroke-width="1.5"/>
<line x1="121.90" y1="328.05" x2="121.90" y2="332.00" stroke="#8890C0" stroke-width="1.1"/>
<line x1="119.70" y1="328.05" x2="124.10" y2="328.05" stroke="#8890C0" stroke-width="1.1"/>
<path d="M117.95,396.40 L117.95,330.65 L125.85,330.65 L125.85,396.40" fill="none" stroke="#8890C0" stroke-width="2.7" stroke-linejoin="miter"/>
<rect x="117.20" y="326.45" width="4.20" height="4.20" fill="#fff" stroke="#8890C0" stroke-width="1.5"/>
<rect x="121.00" y="327.70" width="4.20" height="4.20" fill="#fff" stroke="#8890C0" stroke-width="1.5"/>
<rect x="119.80" y="328.45" width="4.20" height="4.20" fill="#fff" stroke="#8890C0" stroke-width="1.5"/>
<line x1="136.10" y1="325.55" x2="136.10" y2="329.50" stroke="#8890C0" stroke-width="1.1"/>
<line x1="133.90" y1="325.55" x2="138.30" y2="325.55" stroke="#8890C0" stroke-width="1.1"/>
<path d="M132.15,396.40 L132.15,328.15 L140.05,328.15 L140.05,396.40" fill="none" stroke="#8890C0" stroke-width="2.7" stroke-linejoin="miter"/>
<rect x="131.50" y="324.70" width="4.20" height="4.20" fill="#fff" stroke="#8890C0" stroke-width="1.5"/>
<rect x="136.90" y="326.20" width="4.20" height="4.20" fill="#fff" stroke="#8890C0" stroke-width="1.5"/>
<rect x="134.00" y="325.45" width="4.20" height="4.20" fill="#fff" stroke="#8890C0" stroke-width="1.5"/>
<line x1="45.40" y1="294.20" x2="45.40" y2="369.80" stroke="#000" stroke-width="1.7"/>
<line x1="45.40" y1="379.00" x2="45.40" y2="397.25" stroke="#000" stroke-width="1.7"/>
<line x1="43.20" y1="371.80" x2="47.60" y2="367.80" stroke="#000" stroke-width="1.53"/>
<line x1="43.20" y1="381.00" x2="47.60" y2="377.00" stroke="#000" stroke-width="1.53"/>
<line x1="40.40" y1="295.50" x2="45.40" y2="295.50" stroke="#000" stroke-width="1.4"/>
<text x="39.50" y="298.20" font-size="7.5" font-weight="bold" text-anchor="end" fill="#000" color="#000" stroke-width="0.142" font-family="'Liberation Sans', Arial, sans-serif">60</text>
<line x1="40.40" y1="320.20" x2="45.40" y2="320.20" stroke="#000" stroke-width="1.4"/>
<text x="39.50" y="322.90" font-size="7.5" font-weight="bold" text-anchor="end" fill="#000" color="#000" stroke-width="0.142" font-family="'Liberation Sans', Arial, sans-serif">50</text>
<line x1="40.40" y1="345.40" x2="45.40" y2="345.40" stroke="#000" stroke-width="1.4"/>
<text x="39.50" y="348.10" font-size="7.5" font-weight="bold" text-anchor="end" fill="#000" color="#000" stroke-width="0.142" font-family="'Liberation Sans', Arial, sans-serif">40</text>
<line x1="40.40" y1="370.60" x2="45.40" y2="370.60" stroke="#000" stroke-width="1.4"/>
<text x="39.50" y="373.30" font-size="7.5" font-weight="bold" text-anchor="end" fill="#000" color="#000" stroke-width="0.142" font-family="'Liberation Sans', Arial, sans-serif">30</text>
<line x1="40.40" y1="378.20" x2="45.40" y2="378.20" stroke="#000" stroke-width="1.4"/>
<text x="39.50" y="380.90" font-size="7.5" font-weight="bold" text-anchor="end" fill="#000" color="#000" stroke-width="0.142" font-family="'Liberation Sans', Arial, sans-serif">20</text>
<line x1="40.40" y1="387.00" x2="45.40" y2="387.00" stroke="#000" stroke-width="1.4"/>
<text x="39.50" y="389.70" font-size="7.5" font-weight="bold" text-anchor="end" fill="#000" color="#000" stroke-width="0.142" font-family="'Liberation Sans', Arial, sans-serif">10</text>
<line x1="40.40" y1="396.40" x2="45.40" y2="396.40" stroke="#000" stroke-width="1.4"/>
<text x="39.50" y="399.10" font-size="7.5" font-weight="bold" text-anchor="end" fill="#000" color="#000" stroke-width="0.142" font-family="'Liberation Sans', Arial, sans-serif">0</text>
<line x1="44.55" y1="396.40" x2="146.20" y2="396.40" stroke="#000" stroke-width="1.7"/>
<line x1="54.50" y1="396.40" x2="54.50" y2="400.40" stroke="#000" stroke-width="1.4"/>
<text x="57.20" y="406.40" font-size="6.6" font-weight="bold" text-anchor="end" fill="#000" color="#000" stroke-width="0.125" font-family="'Liberation Sans', Arial, sans-serif" transform="rotate(-45 57.20 406.40)">shCtrl</text>
<line x1="69.00" y1="396.40" x2="69.00" y2="400.40" stroke="#000" stroke-width="1.4"/>
<text x="71.70" y="406.40" font-size="6.6" font-weight="bold" text-anchor="end" fill="#000" color="#000" stroke-width="0.125" font-family="'Liberation Sans', Arial, sans-serif" transform="rotate(-45 71.70 406.40)">sh1</text>
<line x1="83.60" y1="396.40" x2="83.60" y2="400.40" stroke="#000" stroke-width="1.4"/>
<text x="86.30" y="406.40" font-size="6.6" font-weight="bold" text-anchor="end" fill="#000" color="#000" stroke-width="0.125" font-family="'Liberation Sans', Arial, sans-serif" transform="rotate(-45 86.30 406.40)">sh2</text>
<line x1="107.30" y1="396.40" x2="107.30" y2="400.40" stroke="#000" stroke-width="1.4"/>
<text x="110.00" y="406.40" font-size="6.6" font-weight="bold" text-anchor="end" fill="#000" color="#000" stroke-width="0.125" font-family="'Liberation Sans', Arial, sans-serif" transform="rotate(-45 110.00 406.40)">shCtrl</text>
<line x1="121.90" y1="396.40" x2="121.90" y2="400.40" stroke="#000" stroke-width="1.4"/>
<text x="124.60" y="406.40" font-size="6.6" font-weight="bold" text-anchor="end" fill="#000" color="#000" stroke-width="0.125" font-family="'Liberation Sans', Arial, sans-serif" transform="rotate(-45 124.60 406.40)">sh1</text>
<line x1="136.10" y1="396.40" x2="136.10" y2="400.40" stroke="#000" stroke-width="1.4"/>
<text x="138.80" y="406.40" font-size="6.6" font-weight="bold" text-anchor="end" fill="#000" color="#000" stroke-width="0.125" font-family="'Liberation Sans', Arial, sans-serif" transform="rotate(-45 138.80 406.40)">sh2</text>
<path d="M84.30,290.30 L84.30,286.70 L137.50,286.70 L137.50,290.30" fill="none" stroke="#151515" stroke-width="1.05"/>
<text x="110.90" y="285.40" font-size="7.3" text-anchor="middle" fill="#151515" color="#151515" stroke-width="0.139" font-family="'Liberation Sans', Arial, sans-serif">ns</text>
<path d="M69.60,298.60 L69.60,295.00 L122.20,295.00 L122.20,298.60" fill="none" stroke="#151515" stroke-width="1.05"/>
<text x="95.90" y="293.70" font-size="7.3" text-anchor="middle" fill="#151515" color="#151515" stroke-width="0.139" font-family="'Liberation Sans', Arial, sans-serif">ns</text>
<path d="M54.50,308.10 L54.50,304.50 L107.30,304.50 L107.30,308.10" fill="none" stroke="#151515" stroke-width="1.05"/>
<text x="80.90" y="305.67" font-size="7.3" text-anchor="middle" fill="#151515" color="#151515" stroke-width="0.139" font-family="'Liberation Sans', Arial, sans-serif">*</text>
<path d="M107.30,315.50 L107.30,311.90 L136.10,311.90 L136.10,315.50" fill="none" stroke="#151515" stroke-width="1.05"/>
<text x="121.70" y="313.07" font-size="7.3" text-anchor="middle" fill="#151515" color="#151515" stroke-width="0.139" font-family="'Liberation Sans', Arial, sans-serif">**</text>
<path d="M107.30,322.30 L107.30,318.70 L121.90,318.70 L121.90,322.30" fill="none" stroke="#151515" stroke-width="1.05"/>
<text x="114.60" y="319.87" font-size="7.3" text-anchor="middle" fill="#151515" color="#151515" stroke-width="0.139" font-family="'Liberation Sans', Arial, sans-serif">**</text>
<text x="95.00" y="278.00" font-size="9.4" font-weight="bold" text-anchor="middle" fill="#000" color="#000" stroke-width="0.179" font-family="'Liberation Sans', Arial, sans-serif">10:1</text>
<text x="25.60" y="344.30" font-size="8.5" font-weight="bold" text-anchor="middle" fill="#000" color="#000" stroke-width="0.162" font-family="'Liberation Sans', Arial, sans-serif" transform="rotate(-90 25.60 344.30)">Lysis %</text>
<circle cx="152.10" cy="303.00" r="2.30" fill="#fff" stroke="#C0A34B" stroke-width="1.8"/>
<rect x="149.70" y="312.00" width="4.80" height="4.80" fill="#fff" stroke="#8890C0" stroke-width="1.9"/>
<text x="163.60" y="305.90" font-size="8.2" text-anchor="start" fill="#000" color="#000" stroke-width="0.156" font-family="'Liberation Sans', Arial, sans-serif">Ctrl</text>
<text x="163.60" y="317.80" font-size="8.2" text-anchor="start" fill="#000" color="#000" stroke-width="0.156" font-family="'Liberation Sans', Arial, sans-serif">sMICA</text>
<line x1="238.80" y1="330.60" x2="238.80" y2="343.90" stroke="#C0A34B" stroke-width="1.1"/>
<line x1="236.60" y1="330.60" x2="241.00" y2="330.60" stroke="#C0A34B" stroke-width="1.1"/>
<path d="M235.00,396.90 L235.00,342.55 L242.60,342.55 L242.60,396.90" fill="none" stroke="#C0A34B" stroke-width="2.7" stroke-linejoin="miter"/>
<circle cx="238.80" cy="323.61" r="2.10" fill="#fff" stroke="#C0A34B" stroke-width="1.5"/>
<circle cx="238.80" cy="340.99" r="2.10" fill="#fff" stroke="#C0A34B" stroke-width="1.5"/>
<circle cx="238.80" cy="361.77" r="2.10" fill="#fff" stroke="#C0A34B" stroke-width="1.5"/>
<line x1="253.10" y1="346.50" x2="253.10" y2="357.05" stroke="#C0A34B" stroke-width="1.1"/>
<line x1="250.90" y1="346.50" x2="255.30" y2="346.50" stroke="#C0A34B" stroke-width="1.1"/>
<path d="M249.30,396.90 L249.30,355.70 L256.90,355.70 L256.90,396.90" fill="none" stroke="#C0A34B" stroke-width="2.7" stroke-linejoin="miter"/>
<circle cx="250.10" cy="345.44" r="2.10" fill="#fff" stroke="#C0A34B" stroke-width="1.5"/>
<circle cx="255.60" cy="345.44" r="2.10" fill="#fff" stroke="#C0A34B" stroke-width="1.5"/>
<circle cx="253.10" cy="369.82" r="2.10" fill="#fff" stroke="#C0A34B" stroke-width="1.5"/>
<line x1="267.50" y1="339.72" x2="267.50" y2="353.87" stroke="#C0A34B" stroke-width="1.1"/>
<line x1="265.30" y1="339.72" x2="269.70" y2="339.72" stroke="#C0A34B" stroke-width="1.1"/>
<path d="M263.70,396.90 L263.70,352.52 L271.30,352.52 L271.30,396.90" fill="none" stroke="#C0A34B" stroke-width="2.7" stroke-linejoin="miter"/>
<circle cx="267.50" cy="334.84" r="2.10" fill="#fff" stroke="#C0A34B" stroke-width="1.5"/>
<circle cx="267.50" cy="345.02" r="2.10" fill="#fff" stroke="#C0A34B" stroke-width="1.5"/>
<circle cx="267.50" cy="370.88" r="2.10" fill="#fff" stroke="#C0A34B" stroke-width="1.5"/>
<line x1="291.10" y1="344.38" x2="291.10" y2="357.26" stroke="#8890C0" stroke-width="1.1"/>
<line x1="288.90" y1="344.38" x2="293.30" y2="344.38" stroke="#8890C0" stroke-width="1.1"/>
<path d="M287.30,396.90 L287.30,355.91 L294.90,355.91 L294.90,396.90" fill="none" stroke="#8890C0" stroke-width="2.7" stroke-linejoin="miter"/>
<rect x="289.00" y="337.20" width="4.20" height="4.20" fill="#fff" stroke="#8890C0" stroke-width="1.5"/>
<rect x="289.00" y="345.25" width="4.20" height="4.20" fill="#fff" stroke="#8890C0" stroke-width="1.5"/>
<rect x="289.00" y="373.45" width="4.20" height="4.20" fill="#fff" stroke="#8890C0" stroke-width="1.5"/>
<line x1="306.10" y1="347.56" x2="306.10" y2="360.23" stroke="#8890C0" stroke-width="1.1"/>
<line x1="303.90" y1="347.56" x2="308.30" y2="347.56" stroke="#8890C0" stroke-width="1.1"/>
<path d="M302.30,396.90 L302.30,358.88 L309.90,358.88 L309.90,396.90" fill="none" stroke="#8890C0" stroke-width="2.7" stroke-linejoin="miter"/>
<rect x="301.10" y="343.77" width="4.20" height="4.20" fill="#fff" stroke="#8890C0" stroke-width="1.5"/>
<rect x="307.20" y="344.40" width="4.20" height="4.20" fill="#fff" stroke="#8890C0" stroke-width="1.5"/>
<rect x="304.00" y="376.42" width="4.20" height="4.20" fill="#fff" stroke="#8890C0" stroke-width="1.5"/>
<line x1="320.40" y1="321.91" x2="320.40" y2="335.42" stroke="#8890C0" stroke-width="1.1"/>
<line x1="318.20" y1="321.91" x2="322.60" y2="321.91" stroke="#8890C0" stroke-width="1.1"/>
<path d="M316.60,396.90 L316.60,334.07 L324.20,334.07 L324.20,396.90" fill="none" stroke="#8890C0" stroke-width="2.7" stroke-linejoin="miter"/>
<rect x="318.30" y="315.15" width="4.20" height="4.20" fill="#fff" stroke="#8890C0" stroke-width="1.5"/>
<rect x="318.30" y="324.90" width="4.20" height="4.20" fill="#fff" stroke="#8890C0" stroke-width="1.5"/>
<rect x="318.30" y="352.46" width="4.20" height="4.20" fill="#fff" stroke="#8890C0" stroke-width="1.5"/>
<line x1="229.20" y1="294.20" x2="229.20" y2="381.00" stroke="#000" stroke-width="1.7"/>
<line x1="229.20" y1="385.00" x2="229.20" y2="397.75" stroke="#000" stroke-width="1.7"/>
<line x1="227.00" y1="383.00" x2="231.40" y2="379.00" stroke="#000" stroke-width="1.53"/>
<line x1="227.00" y1="387.00" x2="231.40" y2="383.00" stroke="#000" stroke-width="1.53"/>
<line x1="224.20" y1="295.30" x2="229.20" y2="295.30" stroke="#000" stroke-width="1.4"/>
<text x="223.30" y="298.00" font-size="7.5" font-weight="bold" text-anchor="end" fill="#000" color="#000" stroke-width="0.142" font-family="'Liberation Sans', Arial, sans-serif">50</text>
<line x1="224.20" y1="316.40" x2="229.20" y2="316.40" stroke="#000" stroke-width="1.4"/>
<text x="223.30" y="319.10" font-size="7.5" font-weight="bold" text-anchor="end" fill="#000" color="#000" stroke-width="0.142" font-family="'Liberation Sans', Arial, sans-serif">40</text>
<line x1="224.20" y1="337.60" x2="229.20" y2="337.60" stroke="#000" stroke-width="1.4"/>
<text x="223.30" y="340.30" font-size="7.5" font-weight="bold" text-anchor="end" fill="#000" color="#000" stroke-width="0.142" font-family="'Liberation Sans', Arial, sans-serif">30</text>
<line x1="224.20" y1="358.50" x2="229.20" y2="358.50" stroke="#000" stroke-width="1.4"/>
<text x="223.30" y="361.20" font-size="7.5" font-weight="bold" text-anchor="end" fill="#000" color="#000" stroke-width="0.142" font-family="'Liberation Sans', Arial, sans-serif">20</text>
<line x1="224.20" y1="380.10" x2="229.20" y2="380.10" stroke="#000" stroke-width="1.4"/>
<text x="223.30" y="382.80" font-size="7.5" font-weight="bold" text-anchor="end" fill="#000" color="#000" stroke-width="0.142" font-family="'Liberation Sans', Arial, sans-serif">10</text>
<line x1="224.20" y1="386.70" x2="229.20" y2="386.70" stroke="#000" stroke-width="1.4"/>
<text x="223.30" y="389.40" font-size="7.5" font-weight="bold" text-anchor="end" fill="#000" color="#000" stroke-width="0.142" font-family="'Liberation Sans', Arial, sans-serif">10</text>
<line x1="224.20" y1="396.90" x2="229.20" y2="396.90" stroke="#000" stroke-width="1.4"/>
<text x="223.30" y="399.60" font-size="7.5" font-weight="bold" text-anchor="end" fill="#000" color="#000" stroke-width="0.142" font-family="'Liberation Sans', Arial, sans-serif">0</text>
<line x1="228.35" y1="396.90" x2="330.80" y2="396.90" stroke="#000" stroke-width="1.7"/>
<line x1="238.80" y1="396.90" x2="238.80" y2="400.90" stroke="#000" stroke-width="1.4"/>
<text x="241.50" y="406.90" font-size="6.6" font-weight="bold" text-anchor="end" fill="#000" color="#000" stroke-width="0.125" font-family="'Liberation Sans', Arial, sans-serif" transform="rotate(-45 241.50 406.90)">shCtrl</text>
<line x1="253.10" y1="396.90" x2="253.10" y2="400.90" stroke="#000" stroke-width="1.4"/>
<text x="255.80" y="406.90" font-size="6.6" font-weight="bold" text-anchor="end" fill="#000" color="#000" stroke-width="0.125" font-family="'Liberation Sans', Arial, sans-serif" transform="rotate(-45 255.80 406.90)">sh1</text>
<line x1="267.50" y1="396.90" x2="267.50" y2="400.90" stroke="#000" stroke-width="1.4"/>
<text x="270.20" y="406.90" font-size="6.6" font-weight="bold" text-anchor="end" fill="#000" color="#000" stroke-width="0.125" font-family="'Liberation Sans', Arial, sans-serif" transform="rotate(-45 270.20 406.90)">sh2</text>
<line x1="291.10" y1="396.90" x2="291.10" y2="400.90" stroke="#000" stroke-width="1.4"/>
<text x="293.80" y="406.90" font-size="6.6" font-weight="bold" text-anchor="end" fill="#000" color="#000" stroke-width="0.125" font-family="'Liberation Sans', Arial, sans-serif" transform="rotate(-45 293.80 406.90)">shCtrl</text>
<line x1="306.10" y1="396.90" x2="306.10" y2="400.90" stroke="#000" stroke-width="1.4"/>
<text x="308.80" y="406.90" font-size="6.6" font-weight="bold" text-anchor="end" fill="#000" color="#000" stroke-width="0.125" font-family="'Liberation Sans', Arial, sans-serif" transform="rotate(-45 308.80 406.90)">sh1</text>
<line x1="320.40" y1="396.90" x2="320.40" y2="400.90" stroke="#000" stroke-width="1.4"/>
<text x="323.10" y="406.90" font-size="6.6" font-weight="bold" text-anchor="end" fill="#000" color="#000" stroke-width="0.125" font-family="'Liberation Sans', Arial, sans-serif" transform="rotate(-45 323.10 406.90)">sh2</text>
<path d="M289.90,293.80 L289.90,290.20 L321.60,290.20 L321.60,293.80" fill="none" stroke="#151515" stroke-width="1.05"/>
<text x="305.75" y="291.37" font-size="7.3" text-anchor="middle" fill="#151515" color="#151515" stroke-width="0.139" font-family="'Liberation Sans', Arial, sans-serif">***</text>
<path d="M268.10,304.00 L268.10,300.40 L321.60,300.40 L321.60,304.00" fill="none" stroke="#151515" stroke-width="1.05"/>
<text x="294.85" y="301.57" font-size="7.3" text-anchor="middle" fill="#151515" color="#151515" stroke-width="0.139" font-family="'Liberation Sans', Arial, sans-serif">***</text>
<path d="M253.50,313.20 L253.50,309.60 L306.30,309.60 L306.30,313.20" fill="none" stroke="#151515" stroke-width="1.05"/>
<text x="279.90" y="308.30" font-size="7.3" text-anchor="middle" fill="#151515" color="#151515" stroke-width="0.139" font-family="'Liberation Sans', Arial, sans-serif">ns</text>
<path d="M237.40,320.40 L237.40,316.80 L290.30,316.80 L290.30,320.40" fill="none" stroke="#151515" stroke-width="1.05"/>
<text x="263.85" y="317.97" font-size="7.3" text-anchor="middle" fill="#151515" color="#151515" stroke-width="0.139" font-family="'Liberation Sans', Arial, sans-serif">**</text>
<path d="M290.30,332.20 L290.30,328.60 L306.30,328.60 L306.30,332.20" fill="none" stroke="#151515" stroke-width="1.05"/>
<text x="298.30" y="327.30" font-size="7.3" text-anchor="middle" fill="#151515" color="#151515" stroke-width="0.139" font-family="'Liberation Sans', Arial, sans-serif">ns</text>
<text x="279.60" y="277.50" font-size="9.4" font-weight="bold" text-anchor="middle" fill="#000" color="#000" stroke-width="0.179" font-family="'Liberation Sans', Arial, sans-serif">5:1</text>
<text x="210.20" y="343.90" font-size="8.5" font-weight="bold" text-anchor="middle" fill="#000" color="#000" stroke-width="0.162" font-family="'Liberation Sans', Arial, sans-serif" transform="rotate(-90 210.20 343.90)">Lysis %</text>
<circle cx="334.90" cy="300.40" r="2.30" fill="#fff" stroke="#C0A34B" stroke-width="1.8"/>
<rect x="332.50" y="309.70" width="4.80" height="4.80" fill="#fff" stroke="#8890C0" stroke-width="1.9"/>
<text x="346.40" y="303.30" font-size="8.2" text-anchor="start" fill="#000" color="#000" stroke-width="0.156" font-family="'Liberation Sans', Arial, sans-serif">Ctrl</text>
<text x="346.40" y="315.50" font-size="8.2" text-anchor="start" fill="#000" color="#000" stroke-width="0.156" font-family="'Liberation Sans', Arial, sans-serif">sMICA</text>
<line x1="416.50" y1="335.73" x2="416.50" y2="347.10" stroke="#C0A34B" stroke-width="1.1"/>
<line x1="414.30" y1="335.73" x2="418.70" y2="335.73" stroke="#C0A34B" stroke-width="1.1"/>
<path d="M412.55,396.90 L412.55,345.75 L420.45,345.75 L420.45,396.90" fill="none" stroke="#C0A34B" stroke-width="2.7" stroke-linejoin="miter"/>
<circle cx="416.50" cy="330.06" r="2.10" fill="#fff" stroke="#C0A34B" stroke-width="1.5"/>
<circle cx="416.50" cy="343.32" r="2.10" fill="#fff" stroke="#C0A34B" stroke-width="1.5"/>
<circle cx="416.50" cy="358.74" r="2.10" fill="#fff" stroke="#C0A34B" stroke-width="1.5"/>
<line x1="431.10" y1="356.57" x2="431.10" y2="362.89" stroke="#C0A34B" stroke-width="1.1"/>
<line x1="428.90" y1="356.57" x2="433.30" y2="356.57" stroke="#C0A34B" stroke-width="1.1"/>
<path d="M427.15,396.90 L427.15,361.54 L435.05,361.54 L435.05,396.90" fill="none" stroke="#C0A34B" stroke-width="2.7" stroke-linejoin="miter"/>
<circle cx="431.10" cy="353.20" r="2.10" fill="#fff" stroke="#C0A34B" stroke-width="1.5"/>
<circle cx="431.10" cy="360.19" r="2.10" fill="#fff" stroke="#C0A34B" stroke-width="1.5"/>
<circle cx="431.10" cy="367.42" r="2.10" fill="#fff" stroke="#C0A34B" stroke-width="1.5"/>
<line x1="445.60" y1="345.73" x2="445.60" y2="352.77" stroke="#C0A34B" stroke-width="1.1"/>
<line x1="443.40" y1="345.73" x2="447.80" y2="345.73" stroke="#C0A34B" stroke-width="1.1"/>
<path d="M441.65,396.90 L441.65,351.42 L449.55,351.42 L449.55,396.90" fill="none" stroke="#C0A34B" stroke-width="2.7" stroke-linejoin="miter"/>
<circle cx="443.40" cy="343.08" r="2.10" fill="#fff" stroke="#C0A34B" stroke-width="1.5"/>
<circle cx="449.10" cy="346.45" r="2.10" fill="#fff" stroke="#C0A34B" stroke-width="1.5"/>
<circle cx="445.60" cy="359.71" r="2.10" fill="#fff" stroke="#C0A34B" stroke-width="1.5"/>
<line x1="469.10" y1="360.67" x2="469.10" y2="368.43" stroke="#8890C0" stroke-width="1.1"/>
<line x1="466.90" y1="360.67" x2="471.30" y2="360.67" stroke="#8890C0" stroke-width="1.1"/>
<path d="M465.15,396.90 L465.15,367.08 L473.05,367.08 L473.05,396.90" fill="none" stroke="#8890C0" stroke-width="2.7" stroke-linejoin="miter"/>
<rect x="467.00" y="353.75" width="4.20" height="4.20" fill="#fff" stroke="#8890C0" stroke-width="1.5"/>
<rect x="467.00" y="367.73" width="4.20" height="4.20" fill="#fff" stroke="#8890C0" stroke-width="1.5"/>
<rect x="467.00" y="372.79" width="4.20" height="4.20" fill="#fff" stroke="#8890C0" stroke-width="1.5"/>
<line x1="484.40" y1="345.49" x2="484.40" y2="352.28" stroke="#8890C0" stroke-width="1.1"/>
<line x1="482.20" y1="345.49" x2="486.60" y2="345.49" stroke="#8890C0" stroke-width="1.1"/>
<path d="M480.45,396.90 L480.45,350.93 L488.35,350.93 L488.35,396.90" fill="none" stroke="#8890C0" stroke-width="2.7" stroke-linejoin="miter"/>
<rect x="482.30" y="337.12" width="4.20" height="4.20" fill="#fff" stroke="#8890C0" stroke-width="1.5"/>
<rect x="482.30" y="350.38" width="4.20" height="4.20" fill="#fff" stroke="#8890C0" stroke-width="1.5"/>
<rect x="482.30" y="356.64" width="4.20" height="4.20" fill="#fff" stroke="#8890C0" stroke-width="1.5"/>
<line x1="498.80" y1="336.09" x2="498.80" y2="343.61" stroke="#8890C0" stroke-width="1.1"/>
<line x1="496.60" y1="336.09" x2="501.00" y2="336.09" stroke="#8890C0" stroke-width="1.1"/>
<path d="M494.85,396.90 L494.85,342.26 L502.75,342.26 L502.75,396.90" fill="none" stroke="#8890C0" stroke-width="2.7" stroke-linejoin="miter"/>
<rect x="496.70" y="325.31" width="4.20" height="4.20" fill="#fff" stroke="#8890C0" stroke-width="1.5"/>
<rect x="496.70" y="331.34" width="4.20" height="4.20" fill="#fff" stroke="#8890C0" stroke-width="1.5"/>
<rect x="496.70" y="357.61" width="4.20" height="4.20" fill="#fff" stroke="#8890C0" stroke-width="1.5"/>
<line x1="407.00" y1="294.20" x2="407.00" y2="378.50" stroke="#000" stroke-width="1.7"/>
<line x1="407.00" y1="383.00" x2="407.00" y2="397.75" stroke="#000" stroke-width="1.7"/>
<line x1="404.80" y1="380.50" x2="409.20" y2="376.50" stroke="#000" stroke-width="1.53"/>
<line x1="404.80" y1="385.00" x2="409.20" y2="381.00" stroke="#000" stroke-width="1.53"/>
<line x1="402.00" y1="295.30" x2="407.00" y2="295.30" stroke="#000" stroke-width="1.4"/>
<text x="401.10" y="298.00" font-size="7.5" font-weight="bold" text-anchor="end" fill="#000" color="#000" stroke-width="0.142" font-family="'Liberation Sans', Arial, sans-serif">40</text>
<line x1="402.00" y1="319.40" x2="407.00" y2="319.40" stroke="#000" stroke-width="1.4"/>
<text x="401.10" y="322.10" font-size="7.5" font-weight="bold" text-anchor="end" fill="#000" color="#000" stroke-width="0.142" font-family="'Liberation Sans', Arial, sans-serif">30</text>
<line x1="402.00" y1="343.80" x2="407.00" y2="343.80" stroke="#000" stroke-width="1.4"/>
<text x="401.10" y="346.50" font-size="7.5" font-weight="bold" text-anchor="end" fill="#000" color="#000" stroke-width="0.142" font-family="'Liberation Sans', Arial, sans-serif">20</text>
<line x1="402.00" y1="367.90" x2="407.00" y2="367.90" stroke="#000" stroke-width="1.4"/>
<text x="401.10" y="370.60" font-size="7.5" font-weight="bold" text-anchor="end" fill="#000" color="#000" stroke-width="0.142" font-family="'Liberation Sans', Arial, sans-serif">10</text>
<line x1="402.00" y1="387.70" x2="407.00" y2="387.70" stroke="#000" stroke-width="1.4"/>
<text x="401.10" y="390.40" font-size="7.5" font-weight="bold" text-anchor="end" fill="#000" color="#000" stroke-width="0.142" font-family="'Liberation Sans', Arial, sans-serif">5</text>
<line x1="402.00" y1="396.90" x2="407.00" y2="396.90" stroke="#000" stroke-width="1.4"/>
<text x="401.10" y="399.60" font-size="7.5" font-weight="bold" text-anchor="end" fill="#000" color="#000" stroke-width="0.142" font-family="'Liberation Sans', Arial, sans-serif">0</text>
<line x1="406.15" y1="396.90" x2="509.20" y2="396.90" stroke="#000" stroke-width="1.7"/>
<line x1="416.50" y1="396.90" x2="416.50" y2="400.90" stroke="#000" stroke-width="1.4"/>
<text x="419.20" y="406.90" font-size="6.6" font-weight="bold" text-anchor="end" fill="#000" color="#000" stroke-width="0.125" font-family="'Liberation Sans', Arial, sans-serif" transform="rotate(-45 419.20 406.90)">shCtrl</text>
<line x1="431.10" y1="396.90" x2="431.10" y2="400.90" stroke="#000" stroke-width="1.4"/>
<text x="433.80" y="406.90" font-size="6.6" font-weight="bold" text-anchor="end" fill="#000" color="#000" stroke-width="0.125" font-family="'Liberation Sans', Arial, sans-serif" transform="rotate(-45 433.80 406.90)">sh1</text>
<line x1="445.60" y1="396.90" x2="445.60" y2="400.90" stroke="#000" stroke-width="1.4"/>
<text x="448.30" y="406.90" font-size="6.6" font-weight="bold" text-anchor="end" fill="#000" color="#000" stroke-width="0.125" font-family="'Liberation Sans', Arial, sans-serif" transform="rotate(-45 448.30 406.90)">sh2</text>
<line x1="469.10" y1="396.90" x2="469.10" y2="400.90" stroke="#000" stroke-width="1.4"/>
<text x="471.80" y="406.90" font-size="6.6" font-weight="bold" text-anchor="end" fill="#000" color="#000" stroke-width="0.125" font-family="'Liberation Sans', Arial, sans-serif" transform="rotate(-45 471.80 406.90)">shCtrl</text>
<line x1="484.40" y1="396.90" x2="484.40" y2="400.90" stroke="#000" stroke-width="1.4"/>
<text x="487.10" y="406.90" font-size="6.6" font-weight="bold" text-anchor="end" fill="#000" color="#000" stroke-width="0.125" font-family="'Liberation Sans', Arial, sans-serif" transform="rotate(-45 487.10 406.90)">sh1</text>
<line x1="498.80" y1="396.90" x2="498.80" y2="400.90" stroke="#000" stroke-width="1.4"/>
<text x="501.50" y="406.90" font-size="6.6" font-weight="bold" text-anchor="end" fill="#000" color="#000" stroke-width="0.125" font-family="'Liberation Sans', Arial, sans-serif" transform="rotate(-45 501.50 406.90)">sh2</text>
<path d="M445.80,296.90 L445.80,293.30 L499.20,293.30 L499.20,296.90" fill="none" stroke="#151515" stroke-width="1.05"/>
<text x="472.50" y="292.00" font-size="7.3" text-anchor="middle" fill="#151515" color="#151515" stroke-width="0.139" font-family="'Liberation Sans', Arial, sans-serif">ns</text>
<path d="M430.70,307.10 L430.70,303.50 L484.60,303.50 L484.60,307.10" fill="none" stroke="#151515" stroke-width="1.05"/>
<text x="457.65" y="302.20" font-size="7.3" text-anchor="middle" fill="#151515" color="#151515" stroke-width="0.139" font-family="'Liberation Sans', Arial, sans-serif">ns</text>
<path d="M415.40,314.30 L415.40,310.70 L468.30,310.70 L468.30,314.30" fill="none" stroke="#151515" stroke-width="1.05"/>
<text x="441.85" y="311.87" font-size="7.3" text-anchor="middle" fill="#151515" color="#151515" stroke-width="0.139" font-family="'Liberation Sans', Arial, sans-serif">*</text>
<path d="M468.30,321.40 L468.30,317.80 L499.20,317.80 L499.20,321.40" fill="none" stroke="#151515" stroke-width="1.05"/>
<text x="483.75" y="318.97" font-size="7.3" text-anchor="middle" fill="#151515" color="#151515" stroke-width="0.139" font-family="'Liberation Sans', Arial, sans-serif">**</text>
<path d="M468.30,332.20 L468.30,328.60 L484.60,328.60 L484.60,332.20" fill="none" stroke="#151515" stroke-width="1.05"/>
<text x="476.45" y="329.77" font-size="7.3" text-anchor="middle" fill="#151515" color="#151515" stroke-width="0.139" font-family="'Liberation Sans', Arial, sans-serif">*</text>
<text x="457.00" y="278.60" font-size="9.4" font-weight="bold" text-anchor="middle" fill="#000" color="#000" stroke-width="0.179" font-family="'Liberation Sans', Arial, sans-serif">2.5:1</text>
<text x="388.60" y="344.40" font-size="8.5" font-weight="bold" text-anchor="middle" fill="#000" color="#000" stroke-width="0.162" font-family="'Liberation Sans', Arial, sans-serif" transform="rotate(-90 388.60 344.40)">Lysis %</text>
<circle cx="510.80" cy="300.00" r="2.30" fill="#fff" stroke="#C0A34B" stroke-width="1.8"/>
<rect x="508.40" y="309.30" width="4.80" height="4.80" fill="#fff" stroke="#8890C0" stroke-width="1.9"/>
<text x="522.30" y="302.90" font-size="8.2" text-anchor="start" fill="#000" color="#000" stroke-width="0.156" font-family="'Liberation Sans', Arial, sans-serif">Ctrl</text>
<text x="522.30" y="315.10" font-size="8.2" text-anchor="start" fill="#000" color="#000" stroke-width="0.156" font-family="'Liberation Sans', Arial, sans-serif">sMICA</text>
<defs><filter id="b2" x="-50%" y="-50%" width="200%" height="200%"><feGaussianBlur stdDeviation="0.55"/></filter><filter id="b3" x="-20%" y="-20%" width="140%" height="140%"><feGaussianBlur stdDeviation="0.25"/></filter></defs>
<rect x="39.60" y="443.70" width="154.70" height="102.80" fill="none" stroke="#a8a8a8" stroke-width="0.8"/>
<line x1="91.60" y1="443.70" x2="91.60" y2="546.50" stroke="#a8a8a8" stroke-width="0.9"/>
<line x1="143.40" y1="443.70" x2="143.40" y2="546.50" stroke="#a8a8a8" stroke-width="0.9"/>
<line x1="39.60" y1="495.30" x2="194.30" y2="495.30" stroke="#a8a8a8" stroke-width="0.9"/>
<circle cx="57.41" cy="487.20" r="0.35" fill="#3a6ad0" opacity="0.55"/>
<circle cx="58.87" cy="489.66" r="0.35" fill="#3a6ad0" opacity="0.55"/>
<circle cx="57.65" cy="481.67" r="0.35" fill="#3a6ad0" opacity="0.55"/>
<circle cx="54.63" cy="488.98" r="0.35" fill="#3a6ad0" opacity="0.55"/>
<circle cx="58.59" cy="479.77" r="0.35" fill="#3a6ad0" opacity="0.55"/>
<circle cx="55.02" cy="485.92" r="0.35" fill="#3a6ad0" opacity="0.55"/>
<circle cx="55.47" cy="484.19" r="0.35" fill="#3a6ad0" opacity="0.55"/>
<circle cx="59.67" cy="489.79" r="0.35" fill="#3a6ad0" opacity="0.55"/>
<circle cx="62.09" cy="481.26" r="0.35" fill="#3a6ad0" opacity="0.55"/>
<circle cx="59.30" cy="479.86" r="0.35" fill="#3a6ad0" opacity="0.55"/>
<circle cx="56.31" cy="479.92" r="0.35" fill="#3a6ad0" opacity="0.55"/>
<circle cx="59.21" cy="483.19" r="0.35" fill="#3a6ad0" opacity="0.55"/>
<circle cx="55.85" cy="486.99" r="0.35" fill="#3a6ad0" opacity="0.55"/>
<circle cx="54.66" cy="484.30" r="0.35" fill="#3a6ad0" opacity="0.55"/>
<circle cx="61.53" cy="486.34" r="0.35" fill="#3a6ad0" opacity="0.55"/>
<circle cx="58.74" cy="480.43" r="0.35" fill="#3a6ad0" opacity="0.55"/>
<circle cx="54.78" cy="485.25" r="0.35" fill="#3a6ad0" opacity="0.55"/>
<circle cx="60.17" cy="493.39" r="0.35" fill="#3a6ad0" opacity="0.55"/>
<circle cx="55.01" cy="481.04" r="0.35" fill="#3a6ad0" opacity="0.55"/>
<circle cx="57.57" cy="483.43" r="0.35" fill="#3a6ad0" opacity="0.55"/>
<circle cx="58.13" cy="480.39" r="0.35" fill="#3a6ad0" opacity="0.55"/>
<circle cx="54.43" cy="489.89" r="0.35" fill="#3a6ad0" opacity="0.55"/>
<circle cx="57.34" cy="490.69" r="0.35" fill="#3a6ad0" opacity="0.55"/>
<circle cx="60.16" cy="484.96" r="0.35" fill="#3a6ad0" opacity="0.55"/>
<circle cx="55.00" cy="481.37" r="0.35" fill="#3a6ad0" opacity="0.55"/>
<circle cx="62.76" cy="486.78" r="0.35" fill="#3a6ad0" opacity="0.55"/>
<circle cx="56.86" cy="485.87" r="0.35" fill="#3a6ad0" opacity="0.55"/>
<circle cx="55.76" cy="479.40" r="0.35" fill="#3a6ad0" opacity="0.55"/>
<circle cx="57.54" cy="482.84" r="0.35" fill="#3a6ad0" opacity="0.55"/>
<circle cx="56.96" cy="485.27" r="0.35" fill="#3a6ad0" opacity="0.55"/>
<circle cx="55.97" cy="478.93" r="0.35" fill="#3a6ad0" opacity="0.55"/>
<circle cx="58.07" cy="484.42" r="0.35" fill="#3a6ad0" opacity="0.55"/>
<circle cx="57.36" cy="484.52" r="0.35" fill="#3a6ad0" opacity="0.55"/>
<circle cx="56.22" cy="487.74" r="0.35" fill="#3a6ad0" opacity="0.55"/>
<circle cx="56.76" cy="490.72" r="0.35" fill="#3a6ad0" opacity="0.55"/>
<circle cx="55.61" cy="490.76" r="0.35" fill="#3a6ad0" opacity="0.55"/>
<circle cx="57.95" cy="486.34" r="0.35" fill="#3a6ad0" opacity="0.55"/>
<circle cx="57.44" cy="492.23" r="0.35" fill="#3a6ad0" opacity="0.55"/>
<circle cx="54.71" cy="479.54" r="0.35" fill="#3a6ad0" opacity="0.55"/>
<circle cx="60.94" cy="480.77" r="0.35" fill="#3a6ad0" opacity="0.55"/>
<ellipse cx="54.40" cy="486.35" rx="3.3" ry="7.54" fill="#3b66c8" filter="url(#b2)"/>
<ellipse cx="54.00" cy="487.51" rx="2.0" ry="5.80" fill="#3ab6d0" filter="url(#b2)"/>
<ellipse cx="53.80" cy="488.53" rx="1.3" ry="4.06" fill="#8cc43a" filter="url(#b2)"/>
<ellipse cx="53.70" cy="489.25" rx="0.9" ry="2.61" fill="#e8b020" filter="url(#b2)"/>
<ellipse cx="53.60" cy="489.98" rx="0.5" ry="1.30" fill="#e05020" filter="url(#b2)"/>
<rect x="54.30" y="476.00" width="27.30" height="18.00" fill="none" stroke="#555" stroke-width="0.7"/>
<text x="73.90" y="486.90" font-size="5.4" font-weight="bold" text-anchor="middle" fill="#000" color="#000" stroke-width="0.103" font-family="'Liberation Sans', Arial, sans-serif">41.0</text>
<circle cx="110.12" cy="481.97" r="0.35" fill="#3a6ad0" opacity="0.55"/>
<circle cx="110.64" cy="489.72" r="0.35" fill="#3a6ad0" opacity="0.55"/>
<circle cx="109.49" cy="483.68" r="0.35" fill="#3a6ad0" opacity="0.55"/>
<circle cx="106.10" cy="481.59" r="0.35" fill="#3a6ad0" opacity="0.55"/>
<circle cx="106.64" cy="480.88" r="0.35" fill="#3a6ad0" opacity="0.55"/>
<circle cx="106.43" cy="487.01" r="0.35" fill="#3a6ad0" opacity="0.55"/>
<circle cx="106.02" cy="486.82" r="0.35" fill="#3a6ad0" opacity="0.55"/>
<circle cx="106.21" cy="482.61" r="0.35" fill="#3a6ad0" opacity="0.55"/>
<circle cx="107.03" cy="479.88" r="0.35" fill="#3a6ad0" opacity="0.55"/>
<circle cx="113.65" cy="493.13" r="0.35" fill="#3a6ad0" opacity="0.55"/>
<circle cx="109.94" cy="479.30" r="0.35" fill="#3a6ad0" opacity="0.55"/>
<circle cx="106.64" cy="487.80" r="0.35" fill="#3a6ad0" opacity="0.55"/>
<circle cx="106.70" cy="493.16" r="0.35" fill="#3a6ad0" opacity="0.55"/>
<circle cx="109.28" cy="490.22" r="0.35" fill="#3a6ad0" opacity="0.55"/>
<circle cx="109.46" cy="490.05" r="0.35" fill="#3a6ad0" opacity="0.55"/>
<circle cx="107.42" cy="490.09" r="0.35" fill="#3a6ad0" opacity="0.55"/>
<circle cx="106.69" cy="489.19" r="0.35" fill="#3a6ad0" opacity="0.55"/>
<circle cx="109.48" cy="493.27" r="0.35" fill="#3a6ad0" opacity="0.55"/>
<circle cx="108.13" cy="483.82" r="0.35" fill="#3a6ad0" opacity="0.55"/>
<circle cx="109.48" cy="490.77" r="0.35" fill="#3a6ad0" opacity="0.55"/>
<circle cx="112.34" cy="491.76" r="0.35" fill="#3a6ad0" opacity="0.55"/>
<circle cx="106.30" cy="488.53" r="0.35" fill="#3a6ad0" opacity="0.55"/>
<circle cx="106.90" cy="479.34" r="0.35" fill="#3a6ad0" opacity="0.55"/>
<circle cx="110.96" cy="487.17" r="0.35" fill="#3a6ad0" opacity="0.55"/>
<circle cx="108.30" cy="488.98" r="0.35" fill="#3a6ad0" opacity="0.55"/>
<circle cx="110.18" cy="484.65" r="0.35" fill="#3a6ad0" opacity="0.55"/>
<circle cx="110.58" cy="485.91" r="0.35" fill="#3a6ad0" opacity="0.55"/>
<circle cx="110.17" cy="484.63" r="0.35" fill="#3a6ad0" opacity="0.55"/>
<circle cx="108.33" cy="481.46" r="0.35" fill="#3a6ad0" opacity="0.55"/>
<circle cx="106.51" cy="487.29" r="0.35" fill="#3a6ad0" opacity="0.55"/>
<circle cx="107.88" cy="482.90" r="0.35" fill="#3a6ad0" opacity="0.55"/>
<circle cx="109.57" cy="483.33" r="0.35" fill="#3a6ad0" opacity="0.55"/>
<circle cx="108.43" cy="485.86" r="0.35" fill="#3a6ad0" opacity="0.55"/>
<circle cx="108.44" cy="481.75" r="0.35" fill="#3a6ad0" opacity="0.55"/>
<circle cx="109.17" cy="486.14" r="0.35" fill="#3a6ad0" opacity="0.55"/>
<circle cx="106.42" cy="493.15" r="0.35" fill="#3a6ad0" opacity="0.55"/>
<circle cx="110.80" cy="478.63" r="0.35" fill="#3a6ad0" opacity="0.55"/>
<circle cx="107.35" cy="484.57" r="0.35" fill="#3a6ad0" opacity="0.55"/>
<circle cx="107.53" cy="485.95" r="0.35" fill="#3a6ad0" opacity="0.55"/>
<circle cx="107.21" cy="478.65" r="0.35" fill="#3a6ad0" opacity="0.55"/>
<ellipse cx="106.00" cy="486.35" rx="3.3" ry="7.54" fill="#3b66c8" filter="url(#b2)"/>
<ellipse cx="105.60" cy="487.51" rx="2.0" ry="5.80" fill="#3ab6d0" filter="url(#b2)"/>
<ellipse cx="105.40" cy="488.53" rx="1.3" ry="4.06" fill="#8cc43a" filter="url(#b2)"/>
<ellipse cx="105.30" cy="489.25" rx="0.9" ry="2.61" fill="#e8b020" filter="url(#b2)"/>
<ellipse cx="105.20" cy="489.98" rx="0.5" ry="1.30" fill="#e05020" filter="url(#b2)"/>
<rect x="105.90" y="476.00" width="27.60" height="18.00" fill="none" stroke="#555" stroke-width="0.7"/>
<text x="125.50" y="486.90" font-size="5.4" font-weight="bold" text-anchor="middle" fill="#000" color="#000" stroke-width="0.103" font-family="'Liberation Sans', Arial, sans-serif">42.7</text>
<circle cx="164.98" cy="492.74" r="0.35" fill="#3a6ad0" opacity="0.55"/>
<circle cx="159.62" cy="492.31" r="0.35" fill="#3a6ad0" opacity="0.55"/>
<circle cx="160.17" cy="483.40" r="0.35" fill="#3a6ad0" opacity="0.55"/>
<circle cx="161.99" cy="488.91" r="0.35" fill="#3a6ad0" opacity="0.55"/>
<circle cx="160.94" cy="484.75" r="0.35" fill="#3a6ad0" opacity="0.55"/>
<circle cx="160.20" cy="491.19" r="0.35" fill="#3a6ad0" opacity="0.55"/>
<circle cx="160.40" cy="482.59" r="0.35" fill="#3a6ad0" opacity="0.55"/>
<circle cx="158.85" cy="478.45" r="0.35" fill="#3a6ad0" opacity="0.55"/>
<circle cx="161.31" cy="486.83" r="0.35" fill="#3a6ad0" opacity="0.55"/>
<circle cx="158.75" cy="489.52" r="0.35" fill="#3a6ad0" opacity="0.55"/>
<circle cx="158.24" cy="486.52" r="0.35" fill="#3a6ad0" opacity="0.55"/>
<circle cx="157.67" cy="488.75" r="0.35" fill="#3a6ad0" opacity="0.55"/>
<circle cx="162.42" cy="485.60" r="0.35" fill="#3a6ad0" opacity="0.55"/>
<circle cx="162.12" cy="485.07" r="0.35" fill="#3a6ad0" opacity="0.55"/>
<circle cx="157.56" cy="488.65" r="0.35" fill="#3a6ad0" opacity="0.55"/>
<circle cx="158.20" cy="491.52" r="0.35" fill="#3a6ad0" opacity="0.55"/>
<circle cx="169.13" cy="483.33" r="0.35" fill="#3a6ad0" opacity="0.55"/>
<circle cx="158.25" cy="490.83" r="0.35" fill="#3a6ad0" opacity="0.55"/>
<circle cx="161.98" cy="482.42" r="0.35" fill="#3a6ad0" opacity="0.55"/>
<circle cx="161.04" cy="479.80" r="0.35" fill="#3a6ad0" opacity="0.55"/>
<circle cx="157.96" cy="488.21" r="0.35" fill="#3a6ad0" opacity="0.55"/>
<circle cx="163.13" cy="478.66" r="0.35" fill="#3a6ad0" opacity="0.55"/>
<circle cx="159.34" cy="482.12" r="0.35" fill="#3a6ad0" opacity="0.55"/>
<circle cx="157.95" cy="482.71" r="0.35" fill="#3a6ad0" opacity="0.55"/>
<circle cx="161.32" cy="486.14" r="0.35" fill="#3a6ad0" opacity="0.55"/>
<circle cx="158.44" cy="479.52" r="0.35" fill="#3a6ad0" opacity="0.55"/>
<circle cx="163.54" cy="488.21" r="0.35" fill="#3a6ad0" opacity="0.55"/>
<circle cx="157.53" cy="480.16" r="0.35" fill="#3a6ad0" opacity="0.55"/>
<circle cx="160.37" cy="484.96" r="0.35" fill="#3a6ad0" opacity="0.55"/>
<circle cx="159.60" cy="479.59" r="0.35" fill="#3a6ad0" opacity="0.55"/>
<circle cx="158.11" cy="490.22" r="0.35" fill="#3a6ad0" opacity="0.55"/>
<circle cx="161.15" cy="488.66" r="0.35" fill="#3a6ad0" opacity="0.55"/>
<circle cx="158.10" cy="479.78" r="0.35" fill="#3a6ad0" opacity="0.55"/>
<circle cx="159.33" cy="489.52" r="0.35" fill="#3a6ad0" opacity="0.55"/>
<circle cx="159.84" cy="479.02" r="0.35" fill="#3a6ad0" opacity="0.55"/>
<circle cx="158.96" cy="482.85" r="0.35" fill="#3a6ad0" opacity="0.55"/>
<circle cx="161.36" cy="483.68" r="0.35" fill="#3a6ad0" opacity="0.55"/>
<circle cx="157.60" cy="484.65" r="0.35" fill="#3a6ad0" opacity="0.55"/>
<circle cx="158.33" cy="485.81" r="0.35" fill="#3a6ad0" opacity="0.55"/>
<circle cx="159.52" cy="479.38" r="0.35" fill="#3a6ad0" opacity="0.55"/>
<ellipse cx="157.50" cy="486.35" rx="3.3" ry="7.54" fill="#3b66c8" filter="url(#b2)"/>
<ellipse cx="157.10" cy="487.51" rx="2.0" ry="5.80" fill="#3ab6d0" filter="url(#b2)"/>
<ellipse cx="156.90" cy="488.53" rx="1.3" ry="4.06" fill="#8cc43a" filter="url(#b2)"/>
<ellipse cx="156.80" cy="489.25" rx="0.9" ry="2.61" fill="#e8b020" filter="url(#b2)"/>
<ellipse cx="156.70" cy="489.98" rx="0.5" ry="1.30" fill="#e05020" filter="url(#b2)"/>
<rect x="157.40" y="476.00" width="28.20" height="18.00" fill="none" stroke="#555" stroke-width="0.7"/>
<text x="177.00" y="486.90" font-size="5.4" font-weight="bold" text-anchor="middle" fill="#000" color="#000" stroke-width="0.103" font-family="'Liberation Sans', Arial, sans-serif">46.2</text>
<circle cx="57.45" cy="536.70" r="0.35" fill="#3a6ad0" opacity="0.55"/>
<circle cx="55.87" cy="542.55" r="0.35" fill="#3a6ad0" opacity="0.55"/>
<circle cx="56.71" cy="535.51" r="0.35" fill="#3a6ad0" opacity="0.55"/>
<circle cx="59.90" cy="543.28" r="0.35" fill="#3a6ad0" opacity="0.55"/>
<circle cx="57.23" cy="541.86" r="0.35" fill="#3a6ad0" opacity="0.55"/>
<circle cx="54.77" cy="530.79" r="0.35" fill="#3a6ad0" opacity="0.55"/>
<circle cx="55.37" cy="532.25" r="0.35" fill="#3a6ad0" opacity="0.55"/>
<circle cx="54.42" cy="536.30" r="0.35" fill="#3a6ad0" opacity="0.55"/>
<circle cx="56.32" cy="535.17" r="0.35" fill="#3a6ad0" opacity="0.55"/>
<circle cx="56.17" cy="538.60" r="0.35" fill="#3a6ad0" opacity="0.55"/>
<circle cx="56.25" cy="543.71" r="0.35" fill="#3a6ad0" opacity="0.55"/>
<circle cx="58.73" cy="533.71" r="0.35" fill="#3a6ad0" opacity="0.55"/>
<circle cx="62.80" cy="536.14" r="0.35" fill="#3a6ad0" opacity="0.55"/>
<circle cx="55.33" cy="545.10" r="0.35" fill="#3a6ad0" opacity="0.55"/>
<circle cx="56.12" cy="530.98" r="0.35" fill="#3a6ad0" opacity="0.55"/>
<circle cx="54.44" cy="541.03" r="0.35" fill="#3a6ad0" opacity="0.55"/>
<circle cx="58.96" cy="540.85" r="0.35" fill="#3a6ad0" opacity="0.55"/>
<circle cx="59.50" cy="537.15" r="0.35" fill="#3a6ad0" opacity="0.55"/>
<circle cx="55.48" cy="536.59" r="0.35" fill="#3a6ad0" opacity="0.55"/>
<circle cx="54.86" cy="532.51" r="0.35" fill="#3a6ad0" opacity="0.55"/>
<circle cx="55.67" cy="539.30" r="0.35" fill="#3a6ad0" opacity="0.55"/>
<circle cx="56.30" cy="545.22" r="0.35" fill="#3a6ad0" opacity="0.55"/>
<circle cx="60.31" cy="535.44" r="0.35" fill="#3a6ad0" opacity="0.55"/>
<circle cx="54.53" cy="537.40" r="0.35" fill="#3a6ad0" opacity="0.55"/>
<circle cx="55.52" cy="536.87" r="0.35" fill="#3a6ad0" opacity="0.55"/>
<circle cx="55.84" cy="539.91" r="0.35" fill="#3a6ad0" opacity="0.55"/>
<circle cx="55.66" cy="533.59" r="0.35" fill="#3a6ad0" opacity="0.55"/>
<circle cx="55.33" cy="544.28" r="0.35" fill="#3a6ad0" opacity="0.55"/>
<circle cx="57.31" cy="530.87" r="0.35" fill="#3a6ad0" opacity="0.55"/>
<circle cx="59.42" cy="538.98" r="0.35" fill="#3a6ad0" opacity="0.55"/>
<circle cx="56.46" cy="541.47" r="0.35" fill="#3a6ad0" opacity="0.55"/>
<circle cx="55.63" cy="536.08" r="0.35" fill="#3a6ad0" opacity="0.55"/>
<circle cx="55.10" cy="538.62" r="0.35" fill="#3a6ad0" opacity="0.55"/>
<circle cx="55.85" cy="543.20" r="0.35" fill="#3a6ad0" opacity="0.55"/>
<circle cx="57.93" cy="533.55" r="0.35" fill="#3a6ad0" opacity="0.55"/>
<circle cx="59.17" cy="538.24" r="0.35" fill="#3a6ad0" opacity="0.55"/>
<circle cx="56.37" cy="545.72" r="0.35" fill="#3a6ad0" opacity="0.55"/>
<circle cx="57.20" cy="534.58" r="0.35" fill="#3a6ad0" opacity="0.55"/>
<circle cx="55.78" cy="544.54" r="0.35" fill="#3a6ad0" opacity="0.55"/>
<circle cx="56.85" cy="538.74" r="0.35" fill="#3a6ad0" opacity="0.55"/>
<ellipse cx="54.40" cy="538.30" rx="3.3" ry="7.80" fill="#3b66c8" filter="url(#b2)"/>
<ellipse cx="54.00" cy="539.50" rx="2.0" ry="6.00" fill="#3ab6d0" filter="url(#b2)"/>
<ellipse cx="53.80" cy="540.55" rx="1.3" ry="4.20" fill="#8cc43a" filter="url(#b2)"/>
<ellipse cx="53.70" cy="541.30" rx="0.9" ry="2.70" fill="#e8b020" filter="url(#b2)"/>
<ellipse cx="53.60" cy="542.05" rx="0.5" ry="1.35" fill="#e05020" filter="url(#b2)"/>
<rect x="54.30" y="528.00" width="27.30" height="18.20" fill="none" stroke="#555" stroke-width="0.7"/>
<text x="73.90" y="539.00" font-size="5.4" font-weight="bold" text-anchor="middle" fill="#000" color="#000" stroke-width="0.103" font-family="'Liberation Sans', Arial, sans-serif">27.9</text>
<circle cx="109.92" cy="531.24" r="0.35" fill="#3a6ad0" opacity="0.55"/>
<circle cx="107.21" cy="538.47" r="0.35" fill="#3a6ad0" opacity="0.55"/>
<circle cx="110.25" cy="542.89" r="0.35" fill="#3a6ad0" opacity="0.55"/>
<circle cx="106.21" cy="537.74" r="0.35" fill="#3a6ad0" opacity="0.55"/>
<circle cx="109.89" cy="544.32" r="0.35" fill="#3a6ad0" opacity="0.55"/>
<circle cx="110.14" cy="541.02" r="0.35" fill="#3a6ad0" opacity="0.55"/>
<circle cx="110.91" cy="534.88" r="0.35" fill="#3a6ad0" opacity="0.55"/>
<circle cx="109.14" cy="545.14" r="0.35" fill="#3a6ad0" opacity="0.55"/>
<circle cx="114.23" cy="535.50" r="0.35" fill="#3a6ad0" opacity="0.55"/>
<circle cx="106.92" cy="536.10" r="0.35" fill="#3a6ad0" opacity="0.55"/>
<circle cx="106.31" cy="537.48" r="0.35" fill="#3a6ad0" opacity="0.55"/>
<circle cx="106.47" cy="544.86" r="0.35" fill="#3a6ad0" opacity="0.55"/>
<circle cx="106.87" cy="545.33" r="0.35" fill="#3a6ad0" opacity="0.55"/>
<circle cx="108.22" cy="538.49" r="0.35" fill="#3a6ad0" opacity="0.55"/>
<circle cx="111.73" cy="537.62" r="0.35" fill="#3a6ad0" opacity="0.55"/>
<circle cx="108.25" cy="535.72" r="0.35" fill="#3a6ad0" opacity="0.55"/>
<circle cx="110.72" cy="538.60" r="0.35" fill="#3a6ad0" opacity="0.55"/>
<circle cx="106.01" cy="541.42" r="0.35" fill="#3a6ad0" opacity="0.55"/>
<circle cx="116.56" cy="532.57" r="0.35" fill="#3a6ad0" opacity="0.55"/>
<circle cx="106.16" cy="534.65" r="0.35" fill="#3a6ad0" opacity="0.55"/>
<circle cx="106.92" cy="541.25" r="0.35" fill="#3a6ad0" opacity="0.55"/>
<circle cx="108.12" cy="544.69" r="0.35" fill="#3a6ad0" opacity="0.55"/>
<circle cx="106.33" cy="532.47" r="0.35" fill="#3a6ad0" opacity="0.55"/>
<circle cx="109.22" cy="539.71" r="0.35" fill="#3a6ad0" opacity="0.55"/>
<circle cx="111.99" cy="545.79" r="0.35" fill="#3a6ad0" opacity="0.55"/>
<circle cx="107.62" cy="542.50" r="0.35" fill="#3a6ad0" opacity="0.55"/>
<circle cx="109.05" cy="530.36" r="0.35" fill="#3a6ad0" opacity="0.55"/>
<circle cx="107.93" cy="539.54" r="0.35" fill="#3a6ad0" opacity="0.55"/>
<circle cx="110.04" cy="533.54" r="0.35" fill="#3a6ad0" opacity="0.55"/>
<circle cx="108.00" cy="541.55" r="0.35" fill="#3a6ad0" opacity="0.55"/>
<circle cx="108.46" cy="530.62" r="0.35" fill="#3a6ad0" opacity="0.55"/>
<circle cx="107.50" cy="533.86" r="0.35" fill="#3a6ad0" opacity="0.55"/>
<circle cx="107.78" cy="544.21" r="0.35" fill="#3a6ad0" opacity="0.55"/>
<circle cx="107.63" cy="544.86" r="0.35" fill="#3a6ad0" opacity="0.55"/>
<circle cx="106.58" cy="536.99" r="0.35" fill="#3a6ad0" opacity="0.55"/>
<circle cx="107.91" cy="538.75" r="0.35" fill="#3a6ad0" opacity="0.55"/>
<circle cx="107.89" cy="543.74" r="0.35" fill="#3a6ad0" opacity="0.55"/>
<circle cx="110.84" cy="535.66" r="0.35" fill="#3a6ad0" opacity="0.55"/>
<circle cx="108.49" cy="542.45" r="0.35" fill="#3a6ad0" opacity="0.55"/>
<circle cx="108.24" cy="541.55" r="0.35" fill="#3a6ad0" opacity="0.55"/>
<ellipse cx="106.00" cy="538.30" rx="3.3" ry="7.80" fill="#3b66c8" filter="url(#b2)"/>
<ellipse cx="105.60" cy="539.50" rx="2.0" ry="6.00" fill="#3ab6d0" filter="url(#b2)"/>
<ellipse cx="105.40" cy="540.55" rx="1.3" ry="4.20" fill="#8cc43a" filter="url(#b2)"/>
<ellipse cx="105.30" cy="541.30" rx="0.9" ry="2.70" fill="#e8b020" filter="url(#b2)"/>
<ellipse cx="105.20" cy="542.05" rx="0.5" ry="1.35" fill="#e05020" filter="url(#b2)"/>
<rect x="105.90" y="528.00" width="27.60" height="18.20" fill="none" stroke="#555" stroke-width="0.7"/>
<text x="125.50" y="539.00" font-size="5.4" font-weight="bold" text-anchor="middle" fill="#000" color="#000" stroke-width="0.103" font-family="'Liberation Sans', Arial, sans-serif">52.1</text>
<circle cx="162.12" cy="535.30" r="0.35" fill="#3a6ad0" opacity="0.55"/>
<circle cx="158.25" cy="543.55" r="0.35" fill="#3a6ad0" opacity="0.55"/>
<circle cx="160.59" cy="541.48" r="0.35" fill="#3a6ad0" opacity="0.55"/>
<circle cx="157.71" cy="533.04" r="0.35" fill="#3a6ad0" opacity="0.55"/>
<circle cx="159.08" cy="537.01" r="0.35" fill="#3a6ad0" opacity="0.55"/>
<circle cx="161.54" cy="535.38" r="0.35" fill="#3a6ad0" opacity="0.55"/>
<circle cx="159.61" cy="543.24" r="0.35" fill="#3a6ad0" opacity="0.55"/>
<circle cx="160.23" cy="531.53" r="0.35" fill="#3a6ad0" opacity="0.55"/>
<circle cx="163.02" cy="544.62" r="0.35" fill="#3a6ad0" opacity="0.55"/>
<circle cx="159.64" cy="534.98" r="0.35" fill="#3a6ad0" opacity="0.55"/>
<circle cx="159.19" cy="532.53" r="0.35" fill="#3a6ad0" opacity="0.55"/>
<circle cx="160.28" cy="545.51" r="0.35" fill="#3a6ad0" opacity="0.55"/>
<circle cx="164.09" cy="537.78" r="0.35" fill="#3a6ad0" opacity="0.55"/>
<circle cx="160.15" cy="544.37" r="0.35" fill="#3a6ad0" opacity="0.55"/>
<circle cx="165.22" cy="544.03" r="0.35" fill="#3a6ad0" opacity="0.55"/>
<circle cx="158.13" cy="539.13" r="0.35" fill="#3a6ad0" opacity="0.55"/>
<circle cx="159.33" cy="536.01" r="0.35" fill="#3a6ad0" opacity="0.55"/>
<circle cx="159.58" cy="543.22" r="0.35" fill="#3a6ad0" opacity="0.55"/>
<circle cx="157.84" cy="543.10" r="0.35" fill="#3a6ad0" opacity="0.55"/>
<circle cx="158.48" cy="532.95" r="0.35" fill="#3a6ad0" opacity="0.55"/>
<circle cx="160.20" cy="536.41" r="0.35" fill="#3a6ad0" opacity="0.55"/>
<circle cx="159.45" cy="538.29" r="0.35" fill="#3a6ad0" opacity="0.55"/>
<circle cx="158.10" cy="534.36" r="0.35" fill="#3a6ad0" opacity="0.55"/>
<circle cx="158.03" cy="530.56" r="0.35" fill="#3a6ad0" opacity="0.55"/>
<circle cx="162.17" cy="540.19" r="0.35" fill="#3a6ad0" opacity="0.55"/>
<circle cx="158.20" cy="540.08" r="0.35" fill="#3a6ad0" opacity="0.55"/>
<circle cx="159.26" cy="544.01" r="0.35" fill="#3a6ad0" opacity="0.55"/>
<circle cx="161.95" cy="542.10" r="0.35" fill="#3a6ad0" opacity="0.55"/>
<circle cx="160.00" cy="533.04" r="0.35" fill="#3a6ad0" opacity="0.55"/>
<circle cx="160.40" cy="537.92" r="0.35" fill="#3a6ad0" opacity="0.55"/>
<circle cx="163.36" cy="539.03" r="0.35" fill="#3a6ad0" opacity="0.55"/>
<circle cx="158.55" cy="537.63" r="0.35" fill="#3a6ad0" opacity="0.55"/>
<circle cx="158.09" cy="539.69" r="0.35" fill="#3a6ad0" opacity="0.55"/>
<circle cx="160.83" cy="533.64" r="0.35" fill="#3a6ad0" opacity="0.55"/>
<circle cx="160.73" cy="543.00" r="0.35" fill="#3a6ad0" opacity="0.55"/>
<circle cx="159.93" cy="534.84" r="0.35" fill="#3a6ad0" opacity="0.55"/>
<circle cx="160.01" cy="540.38" r="0.35" fill="#3a6ad0" opacity="0.55"/>
<circle cx="158.09" cy="535.77" r="0.35" fill="#3a6ad0" opacity="0.55"/>
<circle cx="160.86" cy="542.51" r="0.35" fill="#3a6ad0" opacity="0.55"/>
<circle cx="158.64" cy="541.36" r="0.35" fill="#3a6ad0" opacity="0.55"/>
<ellipse cx="157.50" cy="538.30" rx="3.3" ry="7.80" fill="#3b66c8" filter="url(#b2)"/>
<ellipse cx="157.10" cy="539.50" rx="2.0" ry="6.00" fill="#3ab6d0" filter="url(#b2)"/>
<ellipse cx="156.90" cy="540.55" rx="1.3" ry="4.20" fill="#8cc43a" filter="url(#b2)"/>
<ellipse cx="156.80" cy="541.30" rx="0.9" ry="2.70" fill="#e8b020" filter="url(#b2)"/>
<ellipse cx="156.70" cy="542.05" rx="0.5" ry="1.35" fill="#e05020" filter="url(#b2)"/>
<rect x="157.40" y="528.00" width="28.20" height="18.20" fill="none" stroke="#555" stroke-width="0.7"/>
<text x="177.00" y="539.00" font-size="5.4" font-weight="bold" text-anchor="middle" fill="#000" color="#000" stroke-width="0.103" font-family="'Liberation Sans', Arial, sans-serif">55.0</text>
<line x1="39.40" y1="446.50" x2="39.40" y2="493.50" stroke="#777" stroke-width="0.5" stroke-dasharray="0.8,0.8"/>
<line x1="37.80" y1="493.50" x2="39.40" y2="493.50" stroke="#444" stroke-width="0.6"/>
<text x="37.40" y="494.40" font-size="2.4" text-anchor="end" fill="#333" color="#333" stroke-width="0.046" font-family="'Liberation Sans', Arial, sans-serif">0</text>
<line x1="37.80" y1="481.75" x2="39.40" y2="481.75" stroke="#444" stroke-width="0.6"/>
<text x="37.40" y="482.65" font-size="2.4" text-anchor="end" fill="#333" color="#333" stroke-width="0.046" font-family="'Liberation Sans', Arial, sans-serif">50K</text>
<line x1="37.80" y1="470.00" x2="39.40" y2="470.00" stroke="#444" stroke-width="0.6"/>
<text x="37.40" y="470.90" font-size="2.4" text-anchor="end" fill="#333" color="#333" stroke-width="0.046" font-family="'Liberation Sans', Arial, sans-serif">100K</text>
<line x1="37.80" y1="458.25" x2="39.40" y2="458.25" stroke="#444" stroke-width="0.6"/>
<text x="37.40" y="459.15" font-size="2.4" text-anchor="end" fill="#333" color="#333" stroke-width="0.046" font-family="'Liberation Sans', Arial, sans-serif">150K</text>
<line x1="37.80" y1="446.50" x2="39.40" y2="446.50" stroke="#444" stroke-width="0.6"/>
<text x="37.40" y="447.40" font-size="2.4" text-anchor="end" fill="#333" color="#333" stroke-width="0.046" font-family="'Liberation Sans', Arial, sans-serif">200K</text>
<line x1="39.40" y1="498.50" x2="39.40" y2="545.50" stroke="#777" stroke-width="0.5" stroke-dasharray="0.8,0.8"/>
<line x1="37.80" y1="545.50" x2="39.40" y2="545.50" stroke="#444" stroke-width="0.6"/>
<text x="37.40" y="546.40" font-size="2.4" text-anchor="end" fill="#333" color="#333" stroke-width="0.046" font-family="'Liberation Sans', Arial, sans-serif">0</text>
<line x1="37.80" y1="533.75" x2="39.40" y2="533.75" stroke="#444" stroke-width="0.6"/>
<text x="37.40" y="534.65" font-size="2.4" text-anchor="end" fill="#333" color="#333" stroke-width="0.046" font-family="'Liberation Sans', Arial, sans-serif">50K</text>
<line x1="37.80" y1="522.00" x2="39.40" y2="522.00" stroke="#444" stroke-width="0.6"/>
<text x="37.40" y="522.90" font-size="2.4" text-anchor="end" fill="#333" color="#333" stroke-width="0.046" font-family="'Liberation Sans', Arial, sans-serif">100K</text>
<line x1="37.80" y1="510.25" x2="39.40" y2="510.25" stroke="#444" stroke-width="0.6"/>
<text x="37.40" y="511.15" font-size="2.4" text-anchor="end" fill="#333" color="#333" stroke-width="0.046" font-family="'Liberation Sans', Arial, sans-serif">150K</text>
<line x1="37.80" y1="498.50" x2="39.40" y2="498.50" stroke="#444" stroke-width="0.6"/>
<text x="37.40" y="499.40" font-size="2.4" text-anchor="end" fill="#333" color="#333" stroke-width="0.046" font-family="'Liberation Sans', Arial, sans-serif">200K</text>
<line x1="41.10" y1="547.40" x2="90.10" y2="547.40" stroke="#444" stroke-width="0.7" stroke-dasharray="0.6,1.0"/>
<line x1="42.57" y1="546.60" x2="42.57" y2="548.60" stroke="#222" stroke-width="0.7"/>
<text x="42.57" y="552.60" font-size="3.0" text-anchor="middle" fill="#222" color="#222" stroke-width="0.057" font-family="'Liberation Sans', Arial, sans-serif" transform="rotate(-30 42.57 552.60)">-10³</text>
<line x1="50.90" y1="546.60" x2="50.90" y2="548.60" stroke="#222" stroke-width="0.7"/>
<text x="50.90" y="552.60" font-size="3.0" text-anchor="middle" fill="#222" color="#222" stroke-width="0.057" font-family="'Liberation Sans', Arial, sans-serif" transform="rotate(-30 50.90 552.60)">0</text>
<line x1="60.70" y1="546.60" x2="60.70" y2="548.60" stroke="#222" stroke-width="0.7"/>
<text x="60.70" y="552.60" font-size="3.0" text-anchor="middle" fill="#222" color="#222" stroke-width="0.057" font-family="'Liberation Sans', Arial, sans-serif" transform="rotate(-30 60.70 552.60)">10³</text>
<line x1="74.91" y1="546.60" x2="74.91" y2="548.60" stroke="#222" stroke-width="0.7"/>
<text x="74.91" y="552.60" font-size="3.0" text-anchor="middle" fill="#222" color="#222" stroke-width="0.057" font-family="'Liberation Sans', Arial, sans-serif" transform="rotate(-30 74.91 552.60)">10⁴</text>
<line x1="86.18" y1="546.60" x2="86.18" y2="548.60" stroke="#222" stroke-width="0.7"/>
<text x="86.18" y="552.60" font-size="3.0" text-anchor="middle" fill="#222" color="#222" stroke-width="0.057" font-family="'Liberation Sans', Arial, sans-serif" transform="rotate(-30 86.18 552.60)">10⁵</text>
<line x1="43.55" y1="546.60" x2="43.55" y2="547.80" stroke="#444" stroke-width="0.45"/>
<line x1="47.23" y1="546.60" x2="47.23" y2="547.80" stroke="#444" stroke-width="0.45"/>
<line x1="50.90" y1="546.60" x2="50.90" y2="547.80" stroke="#444" stroke-width="0.45"/>
<line x1="54.57" y1="546.60" x2="54.57" y2="547.80" stroke="#444" stroke-width="0.45"/>
<line x1="58.25" y1="546.60" x2="58.25" y2="547.80" stroke="#444" stroke-width="0.45"/>
<line x1="61.92" y1="546.60" x2="61.92" y2="547.80" stroke="#444" stroke-width="0.45"/>
<line x1="65.60" y1="546.60" x2="65.60" y2="547.80" stroke="#444" stroke-width="0.45"/>
<line x1="69.28" y1="546.60" x2="69.28" y2="547.80" stroke="#444" stroke-width="0.45"/>
<line x1="72.95" y1="546.60" x2="72.95" y2="547.80" stroke="#444" stroke-width="0.45"/>
<line x1="76.62" y1="546.60" x2="76.62" y2="547.80" stroke="#444" stroke-width="0.45"/>
<line x1="80.30" y1="546.60" x2="80.30" y2="547.80" stroke="#444" stroke-width="0.45"/>
<line x1="83.97" y1="546.60" x2="83.97" y2="547.80" stroke="#444" stroke-width="0.45"/>
<line x1="93.10" y1="547.40" x2="141.90" y2="547.40" stroke="#444" stroke-width="0.7" stroke-dasharray="0.6,1.0"/>
<line x1="94.56" y1="546.60" x2="94.56" y2="548.60" stroke="#222" stroke-width="0.7"/>
<text x="94.56" y="552.60" font-size="3.0" text-anchor="middle" fill="#222" color="#222" stroke-width="0.057" font-family="'Liberation Sans', Arial, sans-serif" transform="rotate(-30 94.56 552.60)">-10³</text>
<line x1="102.86" y1="546.60" x2="102.86" y2="548.60" stroke="#222" stroke-width="0.7"/>
<text x="102.86" y="552.60" font-size="3.0" text-anchor="middle" fill="#222" color="#222" stroke-width="0.057" font-family="'Liberation Sans', Arial, sans-serif" transform="rotate(-30 102.86 552.60)">0</text>
<line x1="112.62" y1="546.60" x2="112.62" y2="548.60" stroke="#222" stroke-width="0.7"/>
<text x="112.62" y="552.60" font-size="3.0" text-anchor="middle" fill="#222" color="#222" stroke-width="0.057" font-family="'Liberation Sans', Arial, sans-serif" transform="rotate(-30 112.62 552.60)">10³</text>
<line x1="126.77" y1="546.60" x2="126.77" y2="548.60" stroke="#222" stroke-width="0.7"/>
<text x="126.77" y="552.60" font-size="3.0" text-anchor="middle" fill="#222" color="#222" stroke-width="0.057" font-family="'Liberation Sans', Arial, sans-serif" transform="rotate(-30 126.77 552.60)">10⁴</text>
<line x1="138.00" y1="546.60" x2="138.00" y2="548.60" stroke="#222" stroke-width="0.7"/>
<text x="138.00" y="552.60" font-size="3.0" text-anchor="middle" fill="#222" color="#222" stroke-width="0.057" font-family="'Liberation Sans', Arial, sans-serif" transform="rotate(-30 138.00 552.60)">10⁵</text>
<line x1="95.54" y1="546.60" x2="95.54" y2="547.80" stroke="#444" stroke-width="0.45"/>
<line x1="99.20" y1="546.60" x2="99.20" y2="547.80" stroke="#444" stroke-width="0.45"/>
<line x1="102.86" y1="546.60" x2="102.86" y2="547.80" stroke="#444" stroke-width="0.45"/>
<line x1="106.52" y1="546.60" x2="106.52" y2="547.80" stroke="#444" stroke-width="0.45"/>
<line x1="110.18" y1="546.60" x2="110.18" y2="547.80" stroke="#444" stroke-width="0.45"/>
<line x1="113.84" y1="546.60" x2="113.84" y2="547.80" stroke="#444" stroke-width="0.45"/>
<line x1="117.50" y1="546.60" x2="117.50" y2="547.80" stroke="#444" stroke-width="0.45"/>
<line x1="121.16" y1="546.60" x2="121.16" y2="547.80" stroke="#444" stroke-width="0.45"/>
<line x1="124.82" y1="546.60" x2="124.82" y2="547.80" stroke="#444" stroke-width="0.45"/>
<line x1="128.48" y1="546.60" x2="128.48" y2="547.80" stroke="#444" stroke-width="0.45"/>
<line x1="132.14" y1="546.60" x2="132.14" y2="547.80" stroke="#444" stroke-width="0.45"/>
<line x1="135.80" y1="546.60" x2="135.80" y2="547.80" stroke="#444" stroke-width="0.45"/>
<line x1="144.90" y1="547.40" x2="192.80" y2="547.40" stroke="#444" stroke-width="0.7" stroke-dasharray="0.6,1.0"/>
<line x1="146.34" y1="546.60" x2="146.34" y2="548.60" stroke="#222" stroke-width="0.7"/>
<text x="146.34" y="552.60" font-size="3.0" text-anchor="middle" fill="#222" color="#222" stroke-width="0.057" font-family="'Liberation Sans', Arial, sans-serif" transform="rotate(-30 146.34 552.60)">-10³</text>
<line x1="154.48" y1="546.60" x2="154.48" y2="548.60" stroke="#222" stroke-width="0.7"/>
<text x="154.48" y="552.60" font-size="3.0" text-anchor="middle" fill="#222" color="#222" stroke-width="0.057" font-family="'Liberation Sans', Arial, sans-serif" transform="rotate(-30 154.48 552.60)">0</text>
<line x1="164.06" y1="546.60" x2="164.06" y2="548.60" stroke="#222" stroke-width="0.7"/>
<text x="164.06" y="552.60" font-size="3.0" text-anchor="middle" fill="#222" color="#222" stroke-width="0.057" font-family="'Liberation Sans', Arial, sans-serif" transform="rotate(-30 164.06 552.60)">10³</text>
<line x1="177.95" y1="546.60" x2="177.95" y2="548.60" stroke="#222" stroke-width="0.7"/>
<text x="177.95" y="552.60" font-size="3.0" text-anchor="middle" fill="#222" color="#222" stroke-width="0.057" font-family="'Liberation Sans', Arial, sans-serif" transform="rotate(-30 177.95 552.60)">10⁴</text>
<line x1="188.97" y1="546.60" x2="188.97" y2="548.60" stroke="#222" stroke-width="0.7"/>
<text x="188.97" y="552.60" font-size="3.0" text-anchor="middle" fill="#222" color="#222" stroke-width="0.057" font-family="'Liberation Sans', Arial, sans-serif" transform="rotate(-30 188.97 552.60)">10⁵</text>
<line x1="147.30" y1="546.60" x2="147.30" y2="547.80" stroke="#444" stroke-width="0.45"/>
<line x1="150.89" y1="546.60" x2="150.89" y2="547.80" stroke="#444" stroke-width="0.45"/>
<line x1="154.48" y1="546.60" x2="154.48" y2="547.80" stroke="#444" stroke-width="0.45"/>
<line x1="158.07" y1="546.60" x2="158.07" y2="547.80" stroke="#444" stroke-width="0.45"/>
<line x1="161.67" y1="546.60" x2="161.67" y2="547.80" stroke="#444" stroke-width="0.45"/>
<line x1="165.26" y1="546.60" x2="165.26" y2="547.80" stroke="#444" stroke-width="0.45"/>
<line x1="168.85" y1="546.60" x2="168.85" y2="547.80" stroke="#444" stroke-width="0.45"/>
<line x1="172.44" y1="546.60" x2="172.44" y2="547.80" stroke="#444" stroke-width="0.45"/>
<line x1="176.04" y1="546.60" x2="176.04" y2="547.80" stroke="#444" stroke-width="0.45"/>
<line x1="179.63" y1="546.60" x2="179.63" y2="547.80" stroke="#444" stroke-width="0.45"/>
<line x1="183.22" y1="546.60" x2="183.22" y2="547.80" stroke="#444" stroke-width="0.45"/>
<line x1="186.81" y1="546.60" x2="186.81" y2="547.80" stroke="#444" stroke-width="0.45"/>
<line x1="30.00" y1="555.20" x2="194.00" y2="555.20" stroke="#555" stroke-width="1.0"/>
<path d="M198.5,555.2 L193,552.7 L193,557.7 Z" fill="#111"/>
<text x="116.20" y="562.40" font-size="5.2" font-weight="bold" text-anchor="middle" fill="#000" color="#000" stroke-width="0.099" font-family="'Liberation Sans', Arial, sans-serif">IFN-γ</text>
<text x="67.40" y="440.30" font-size="5.35" font-weight="bold" text-anchor="middle" fill="#000" color="#000" stroke-width="0.102" font-family="'Liberation Sans', Arial, sans-serif">shCtrl</text>
<text x="117.00" y="440.30" font-size="5.35" font-weight="bold" text-anchor="middle" fill="#000" color="#000" stroke-width="0.102" font-family="'Liberation Sans', Arial, sans-serif">shcircARAP2_1</text>
<text x="169.10" y="440.30" font-size="5.35" font-weight="bold" text-anchor="middle" fill="#000" color="#000" stroke-width="0.102" font-family="'Liberation Sans', Arial, sans-serif">shcircARAP2_2</text>
<text x="24.50" y="471.60" font-size="5.2" font-weight="bold" text-anchor="middle" fill="#000" color="#000" stroke-width="0.099" font-family="'Liberation Sans', Arial, sans-serif">Ctrl</text>
<text x="24.30" y="523.00" font-size="5.4" font-weight="bold" text-anchor="middle" fill="#000" color="#000" stroke-width="0.103" font-family="'Liberation Sans', Arial, sans-serif">sMICA</text>
<path d="M229.00,504.50 L229.00,504.50 L229.97,504.50 L230.93,504.50 L231.90,504.50 L232.86,504.50 L233.83,504.50 L234.79,504.50 L235.76,504.50 L236.73,504.50 L237.69,504.50 L238.66,504.50 L239.62,504.50 L240.59,504.50 L241.55,504.50 L242.52,504.50 L243.49,504.50 L244.45,504.50 L245.42,504.50 L246.38,504.50 L247.35,504.50 L248.31,504.50 L249.28,504.50 L250.25,504.50 L251.21,504.50 L252.18,504.50 L253.14,504.49 L254.11,504.49 L255.07,504.48 L256.04,504.47 L257.01,504.44 L257.97,504.41 L258.94,504.36 L259.90,504.27 L260.87,504.15 L261.83,503.97 L262.80,503.71 L263.77,503.35 L264.73,502.85 L265.70,502.18 L266.66,501.31 L267.63,500.19 L268.59,498.79 L269.56,497.08 L270.53,495.03 L271.49,492.65 L272.46,490.26 L273.42,487.02 L274.39,483.44 L275.35,480.16 L276.32,476.76 L277.29,474.07 L278.25,470.42 L279.22,468.45 L280.18,467.51 L281.15,465.34 L282.11,465.71 L283.08,464.10 L284.05,466.56 L285.01,471.94 L285.98,477.06 L286.94,481.91 L287.91,487.92 L288.87,492.57 L289.84,496.19 L290.81,499.11 L291.77,501.19 L292.74,502.57 L293.70,503.43 L294.67,503.94 L295.63,504.22 L296.60,504.37 L296.60,504.50 Z" fill="#8ccbe0" stroke="#4fb3d6" stroke-width="0.6" stroke-linejoin="round"/>
<path d="M229.00,526.40 L229.00,526.40 L229.97,526.40 L230.93,526.40 L231.90,526.40 L232.86,526.40 L233.83,526.40 L234.79,526.40 L235.76,526.40 L236.73,526.40 L237.69,526.40 L238.66,526.40 L239.62,526.40 L240.59,526.40 L241.55,526.40 L242.52,526.40 L243.49,526.40 L244.45,526.40 L245.42,526.40 L246.38,526.40 L247.35,526.40 L248.31,526.40 L249.28,526.40 L250.25,526.40 L251.21,526.40 L252.18,526.40 L253.14,526.40 L254.11,526.40 L255.07,526.40 L256.04,526.40 L257.01,526.40 L257.97,526.39 L258.94,526.39 L259.90,526.38 L260.87,526.36 L261.83,526.32 L262.80,526.25 L263.77,526.14 L264.73,525.96 L265.70,525.67 L266.66,525.23 L267.63,524.58 L268.59,523.65 L269.56,522.37 L270.53,520.67 L271.49,518.48 L272.46,515.78 L273.42,512.34 L274.39,509.02 L275.35,504.71 L276.32,501.17 L277.29,496.96 L278.25,493.65 L279.22,490.36 L280.18,489.01 L281.15,487.51 L282.11,488.04 L283.08,490.90 L284.05,494.07 L285.01,499.36 L285.98,505.79 L286.94,510.83 L287.91,515.57 L288.87,519.25 L289.84,521.95 L290.81,523.79 L291.77,524.95 L292.74,525.64 L293.70,526.03 L294.67,526.23 L295.63,526.32 L296.60,526.37 L296.60,526.40 Z" fill="#f0a8aa" stroke="#e27b80" stroke-width="0.6" fill-opacity="0.72" stroke-linejoin="round"/>
<text x="231.50" y="498.70" font-size="6.1" font-weight="bold" text-anchor="start" fill="#000" color="#000" stroke-width="0.116" font-family="'Liberation Sans', Arial, sans-serif">37081</text>
<text x="231.50" y="519.70" font-size="6.1" font-weight="bold" text-anchor="start" fill="#000" color="#000" stroke-width="0.116" font-family="'Liberation Sans', Arial, sans-serif">29198</text>
<path d="M297.60,504.50 L297.60,504.50 L298.57,504.50 L299.54,504.50 L300.51,504.50 L301.49,504.50 L302.46,504.50 L303.43,504.50 L304.40,504.50 L305.37,504.50 L306.34,504.50 L307.31,504.50 L308.29,504.50 L309.26,504.50 L310.23,504.50 L311.20,504.50 L312.17,504.50 L313.14,504.50 L314.11,504.50 L315.09,504.50 L316.06,504.50 L317.03,504.50 L318.00,504.50 L318.97,504.50 L319.94,504.49 L320.91,504.49 L321.89,504.48 L322.86,504.47 L323.83,504.46 L324.80,504.44 L325.77,504.40 L326.74,504.34 L327.71,504.26 L328.69,504.14 L329.66,503.98 L330.63,503.74 L331.60,503.43 L332.57,503.00 L333.54,502.44 L334.51,501.72 L335.49,500.82 L336.46,499.69 L337.43,498.33 L338.40,496.71 L339.37,494.83 L340.34,492.50 L341.31,491.19 L342.29,486.22 L343.26,483.44 L344.23,482.49 L345.20,478.82 L346.17,478.62 L347.14,476.37 L348.11,474.05 L349.09,469.84 L350.06,472.04 L351.03,468.80 L352.00,472.95 L352.97,474.63 L353.94,479.47 L354.91,481.59 L355.89,488.83 L356.86,493.47 L357.83,497.39 L358.80,500.27 L359.77,502.16 L360.74,503.29 L361.71,503.92 L362.69,504.24 L363.66,504.39 L364.63,504.46 L365.60,504.49 L365.60,504.50 Z" fill="#8ccbe0" stroke="#4fb3d6" stroke-width="0.6" stroke-linejoin="round"/>
<path d="M297.60,526.40 L297.60,526.40 L298.57,526.40 L299.54,526.40 L300.51,526.40 L301.49,526.40 L302.46,526.40 L303.43,526.40 L304.40,526.40 L305.37,526.40 L306.34,526.40 L307.31,526.40 L308.29,526.40 L309.26,526.40 L310.23,526.40 L311.20,526.40 L312.17,526.40 L313.14,526.40 L314.11,526.40 L315.09,526.40 L316.06,526.40 L317.03,526.40 L318.00,526.40 L318.97,526.40 L319.94,526.40 L320.91,526.40 L321.89,526.40 L322.86,526.40 L323.83,526.40 L324.80,526.40 L325.77,526.40 L326.74,526.40 L327.71,526.39 L328.69,526.38 L329.66,526.37 L330.63,526.34 L331.60,526.29 L332.57,526.21 L333.54,526.09 L334.51,525.89 L335.49,525.59 L336.46,525.14 L337.43,524.49 L338.40,523.58 L339.37,522.35 L340.34,520.73 L341.31,518.67 L342.29,516.14 L343.26,512.87 L344.23,509.98 L345.20,505.35 L346.17,501.90 L347.14,498.03 L348.11,493.79 L349.09,491.33 L350.06,488.59 L351.03,486.21 L352.00,485.82 L352.97,485.40 L353.94,489.37 L354.91,494.89 L355.89,501.59 L356.86,508.18 L357.83,513.53 L358.80,518.31 L359.77,521.61 L360.74,523.76 L361.71,525.05 L362.69,525.76 L363.66,526.12 L364.63,526.28 L365.60,526.36 L365.60,526.40 Z" fill="#f0a8aa" stroke="#e27b80" stroke-width="0.6" fill-opacity="0.72" stroke-linejoin="round"/>
<text x="300.10" y="498.70" font-size="6.1" font-weight="bold" text-anchor="start" fill="#000" color="#000" stroke-width="0.116" font-family="'Liberation Sans', Arial, sans-serif">33957</text>
<text x="300.10" y="519.70" font-size="6.1" font-weight="bold" text-anchor="start" fill="#000" color="#000" stroke-width="0.116" font-family="'Liberation Sans', Arial, sans-serif">37602</text>
<path d="M366.60,504.50 L366.60,504.50 L367.56,504.50 L368.52,504.50 L369.48,504.50 L370.45,504.50 L371.41,504.50 L372.37,504.50 L373.33,504.50 L374.29,504.50 L375.25,504.50 L376.21,504.50 L377.18,504.50 L378.14,504.50 L379.10,504.50 L380.06,504.50 L381.02,504.50 L381.98,504.50 L382.94,504.50 L383.91,504.50 L384.87,504.50 L385.83,504.50 L386.79,504.50 L387.75,504.50 L388.71,504.50 L389.67,504.50 L390.64,504.50 L391.60,504.50 L392.56,504.50 L393.52,504.49 L394.48,504.49 L395.44,504.48 L396.40,504.47 L397.37,504.44 L398.33,504.39 L399.29,504.31 L400.25,504.19 L401.21,503.99 L402.17,503.69 L403.13,503.24 L404.10,502.60 L405.06,501.71 L406.02,500.50 L406.98,498.92 L407.94,496.91 L408.90,494.43 L409.86,491.85 L410.83,487.94 L411.79,484.88 L412.75,479.97 L413.71,476.12 L414.67,472.80 L415.63,468.71 L416.59,466.00 L417.56,465.66 L418.52,463.03 L419.48,462.87 L420.44,465.31 L421.40,468.19 L422.36,473.81 L423.32,480.31 L424.29,486.11 L425.25,491.18 L426.21,494.99 L427.17,498.24 L428.13,500.60 L429.09,502.19 L430.05,503.20 L431.02,503.81 L431.98,504.15 L432.94,504.33 L433.90,504.42 L433.90,504.50 Z" fill="#8ccbe0" stroke="#4fb3d6" stroke-width="0.6" stroke-linejoin="round"/>
<path d="M366.60,526.40 L366.60,526.40 L367.56,526.40 L368.52,526.40 L369.48,526.40 L370.45,526.40 L371.41,526.40 L372.37,526.40 L373.33,526.40 L374.29,526.40 L375.25,526.40 L376.21,526.40 L377.18,526.40 L378.14,526.40 L379.10,526.40 L380.06,526.40 L381.02,526.40 L381.98,526.40 L382.94,526.40 L383.91,526.40 L384.87,526.40 L385.83,526.40 L386.79,526.40 L387.75,526.40 L388.71,526.40 L389.67,526.40 L390.64,526.40 L391.60,526.40 L392.56,526.40 L393.52,526.40 L394.48,526.40 L395.44,526.39 L396.40,526.39 L397.37,526.38 L398.33,526.36 L399.29,526.33 L400.25,526.29 L401.21,526.21 L402.17,526.09 L403.13,525.90 L404.10,525.62 L405.06,525.20 L406.02,524.62 L406.98,523.80 L407.94,522.71 L408.90,521.28 L409.86,519.47 L410.83,517.25 L411.79,514.59 L412.75,511.53 L413.71,507.92 L414.67,504.27 L415.63,500.34 L416.59,496.22 L417.56,492.99 L418.52,491.23 L419.48,488.83 L420.44,486.79 L421.40,486.37 L422.36,486.22 L423.32,490.74 L424.29,497.10 L425.25,503.88 L426.21,510.36 L427.17,515.55 L428.13,519.70 L429.09,522.57 L430.05,524.37 L431.02,525.40 L431.98,525.94 L432.94,526.21 L433.90,526.32 L433.90,526.40 Z" fill="#f0a8aa" stroke="#e27b80" stroke-width="0.6" fill-opacity="0.72" stroke-linejoin="round"/>
<text x="369.10" y="498.70" font-size="6.1" font-weight="bold" text-anchor="start" fill="#000" color="#000" stroke-width="0.116" font-family="'Liberation Sans', Arial, sans-serif">30085</text>
<text x="369.10" y="519.70" font-size="6.1" font-weight="bold" text-anchor="start" fill="#000" color="#000" stroke-width="0.116" font-family="'Liberation Sans', Arial, sans-serif">36594</text>
<line x1="228.50" y1="504.50" x2="434.40" y2="504.50" stroke="#58b8da" stroke-width="0.7"/>
<rect x="228.50" y="458.60" width="205.90" height="67.80" fill="none" stroke="#b0b0b0" stroke-width="0.8"/>
<line x1="297.10" y1="458.60" x2="297.10" y2="526.40" stroke="#a0a0a0" stroke-width="1.0"/>
<line x1="366.10" y1="458.60" x2="366.10" y2="526.40" stroke="#a0a0a0" stroke-width="1.0"/>
<line x1="230.00" y1="527.50" x2="295.60" y2="527.50" stroke="#444" stroke-width="0.7" stroke-dasharray="0.6,1.0"/>
<line x1="231.97" y1="526.70" x2="231.97" y2="528.70" stroke="#222" stroke-width="0.7"/>
<text x="231.97" y="532.70" font-size="3.0" text-anchor="middle" fill="#222" color="#222" stroke-width="0.057" font-family="'Liberation Sans', Arial, sans-serif" transform="rotate(-30 231.97 532.70)">-10³</text>
<line x1="243.12" y1="526.70" x2="243.12" y2="528.70" stroke="#222" stroke-width="0.7"/>
<text x="243.12" y="532.70" font-size="3.0" text-anchor="middle" fill="#222" color="#222" stroke-width="0.057" font-family="'Liberation Sans', Arial, sans-serif" transform="rotate(-30 243.12 532.70)">0</text>
<line x1="256.24" y1="526.70" x2="256.24" y2="528.70" stroke="#222" stroke-width="0.7"/>
<text x="256.24" y="532.70" font-size="3.0" text-anchor="middle" fill="#222" color="#222" stroke-width="0.057" font-family="'Liberation Sans', Arial, sans-serif" transform="rotate(-30 256.24 532.70)">10³</text>
<line x1="275.26" y1="526.70" x2="275.26" y2="528.70" stroke="#222" stroke-width="0.7"/>
<text x="275.26" y="532.70" font-size="3.0" text-anchor="middle" fill="#222" color="#222" stroke-width="0.057" font-family="'Liberation Sans', Arial, sans-serif" transform="rotate(-30 275.26 532.70)">10⁴</text>
<line x1="290.35" y1="526.70" x2="290.35" y2="528.70" stroke="#222" stroke-width="0.7"/>
<text x="290.35" y="532.70" font-size="3.0" text-anchor="middle" fill="#222" color="#222" stroke-width="0.057" font-family="'Liberation Sans', Arial, sans-serif" transform="rotate(-30 290.35 532.70)">10⁵</text>
<line x1="233.28" y1="526.70" x2="233.28" y2="527.90" stroke="#444" stroke-width="0.45"/>
<line x1="238.20" y1="526.70" x2="238.20" y2="527.90" stroke="#444" stroke-width="0.45"/>
<line x1="243.12" y1="526.70" x2="243.12" y2="527.90" stroke="#444" stroke-width="0.45"/>
<line x1="248.04" y1="526.70" x2="248.04" y2="527.90" stroke="#444" stroke-width="0.45"/>
<line x1="252.96" y1="526.70" x2="252.96" y2="527.90" stroke="#444" stroke-width="0.45"/>
<line x1="257.88" y1="526.70" x2="257.88" y2="527.90" stroke="#444" stroke-width="0.45"/>
<line x1="262.80" y1="526.70" x2="262.80" y2="527.90" stroke="#444" stroke-width="0.45"/>
<line x1="267.72" y1="526.70" x2="267.72" y2="527.90" stroke="#444" stroke-width="0.45"/>
<line x1="272.64" y1="526.70" x2="272.64" y2="527.90" stroke="#444" stroke-width="0.45"/>
<line x1="277.56" y1="526.70" x2="277.56" y2="527.90" stroke="#444" stroke-width="0.45"/>
<line x1="282.48" y1="526.70" x2="282.48" y2="527.90" stroke="#444" stroke-width="0.45"/>
<line x1="287.40" y1="526.70" x2="287.40" y2="527.90" stroke="#444" stroke-width="0.45"/>
<line x1="298.60" y1="527.50" x2="364.60" y2="527.50" stroke="#444" stroke-width="0.7" stroke-dasharray="0.6,1.0"/>
<line x1="300.58" y1="526.70" x2="300.58" y2="528.70" stroke="#222" stroke-width="0.7"/>
<text x="300.58" y="532.70" font-size="3.0" text-anchor="middle" fill="#222" color="#222" stroke-width="0.057" font-family="'Liberation Sans', Arial, sans-serif" transform="rotate(-30 300.58 532.70)">-10³</text>
<line x1="311.80" y1="526.70" x2="311.80" y2="528.70" stroke="#222" stroke-width="0.7"/>
<text x="311.80" y="532.70" font-size="3.0" text-anchor="middle" fill="#222" color="#222" stroke-width="0.057" font-family="'Liberation Sans', Arial, sans-serif" transform="rotate(-30 311.80 532.70)">0</text>
<line x1="325.00" y1="526.70" x2="325.00" y2="528.70" stroke="#222" stroke-width="0.7"/>
<text x="325.00" y="532.70" font-size="3.0" text-anchor="middle" fill="#222" color="#222" stroke-width="0.057" font-family="'Liberation Sans', Arial, sans-serif" transform="rotate(-30 325.00 532.70)">10³</text>
<line x1="344.14" y1="526.70" x2="344.14" y2="528.70" stroke="#222" stroke-width="0.7"/>
<text x="344.14" y="532.70" font-size="3.0" text-anchor="middle" fill="#222" color="#222" stroke-width="0.057" font-family="'Liberation Sans', Arial, sans-serif" transform="rotate(-30 344.14 532.70)">10⁴</text>
<line x1="359.32" y1="526.70" x2="359.32" y2="528.70" stroke="#222" stroke-width="0.7"/>
<text x="359.32" y="532.70" font-size="3.0" text-anchor="middle" fill="#222" color="#222" stroke-width="0.057" font-family="'Liberation Sans', Arial, sans-serif" transform="rotate(-30 359.32 532.70)">10⁵</text>
<line x1="301.90" y1="526.70" x2="301.90" y2="527.90" stroke="#444" stroke-width="0.45"/>
<line x1="306.85" y1="526.70" x2="306.85" y2="527.90" stroke="#444" stroke-width="0.45"/>
<line x1="311.80" y1="526.70" x2="311.80" y2="527.90" stroke="#444" stroke-width="0.45"/>
<line x1="316.75" y1="526.70" x2="316.75" y2="527.90" stroke="#444" stroke-width="0.45"/>
<line x1="321.70" y1="526.70" x2="321.70" y2="527.90" stroke="#444" stroke-width="0.45"/>
<line x1="326.65" y1="526.70" x2="326.65" y2="527.90" stroke="#444" stroke-width="0.45"/>
<line x1="331.60" y1="526.70" x2="331.60" y2="527.90" stroke="#444" stroke-width="0.45"/>
<line x1="336.55" y1="526.70" x2="336.55" y2="527.90" stroke="#444" stroke-width="0.45"/>
<line x1="341.50" y1="526.70" x2="341.50" y2="527.90" stroke="#444" stroke-width="0.45"/>
<line x1="346.45" y1="526.70" x2="346.45" y2="527.90" stroke="#444" stroke-width="0.45"/>
<line x1="351.40" y1="526.70" x2="351.40" y2="527.90" stroke="#444" stroke-width="0.45"/>
<line x1="356.35" y1="526.70" x2="356.35" y2="527.90" stroke="#444" stroke-width="0.45"/>
<line x1="367.60" y1="527.50" x2="432.90" y2="527.50" stroke="#444" stroke-width="0.7" stroke-dasharray="0.6,1.0"/>
<line x1="369.56" y1="526.70" x2="369.56" y2="528.70" stroke="#222" stroke-width="0.7"/>
<text x="369.56" y="532.70" font-size="3.0" text-anchor="middle" fill="#222" color="#222" stroke-width="0.057" font-family="'Liberation Sans', Arial, sans-serif" transform="rotate(-30 369.56 532.70)">-10³</text>
<line x1="380.66" y1="526.70" x2="380.66" y2="528.70" stroke="#222" stroke-width="0.7"/>
<text x="380.66" y="532.70" font-size="3.0" text-anchor="middle" fill="#222" color="#222" stroke-width="0.057" font-family="'Liberation Sans', Arial, sans-serif" transform="rotate(-30 380.66 532.70)">0</text>
<line x1="393.72" y1="526.70" x2="393.72" y2="528.70" stroke="#222" stroke-width="0.7"/>
<text x="393.72" y="532.70" font-size="3.0" text-anchor="middle" fill="#222" color="#222" stroke-width="0.057" font-family="'Liberation Sans', Arial, sans-serif" transform="rotate(-30 393.72 532.70)">10³</text>
<line x1="412.66" y1="526.70" x2="412.66" y2="528.70" stroke="#222" stroke-width="0.7"/>
<text x="412.66" y="532.70" font-size="3.0" text-anchor="middle" fill="#222" color="#222" stroke-width="0.057" font-family="'Liberation Sans', Arial, sans-serif" transform="rotate(-30 412.66 532.70)">10⁴</text>
<line x1="427.68" y1="526.70" x2="427.68" y2="528.70" stroke="#222" stroke-width="0.7"/>
<text x="427.68" y="532.70" font-size="3.0" text-anchor="middle" fill="#222" color="#222" stroke-width="0.057" font-family="'Liberation Sans', Arial, sans-serif" transform="rotate(-30 427.68 532.70)">10⁵</text>
<line x1="370.87" y1="526.70" x2="370.87" y2="527.90" stroke="#444" stroke-width="0.45"/>
<line x1="375.76" y1="526.70" x2="375.76" y2="527.90" stroke="#444" stroke-width="0.45"/>
<line x1="380.66" y1="526.70" x2="380.66" y2="527.90" stroke="#444" stroke-width="0.45"/>
<line x1="385.56" y1="526.70" x2="385.56" y2="527.90" stroke="#444" stroke-width="0.45"/>
<line x1="390.45" y1="526.70" x2="390.45" y2="527.90" stroke="#444" stroke-width="0.45"/>
<line x1="395.35" y1="526.70" x2="395.35" y2="527.90" stroke="#444" stroke-width="0.45"/>
<line x1="400.25" y1="526.70" x2="400.25" y2="527.90" stroke="#444" stroke-width="0.45"/>
<line x1="405.15" y1="526.70" x2="405.15" y2="527.90" stroke="#444" stroke-width="0.45"/>
<line x1="410.05" y1="526.70" x2="410.05" y2="527.90" stroke="#444" stroke-width="0.45"/>
<line x1="414.94" y1="526.70" x2="414.94" y2="527.90" stroke="#444" stroke-width="0.45"/>
<line x1="419.84" y1="526.70" x2="419.84" y2="527.90" stroke="#444" stroke-width="0.45"/>
<line x1="424.74" y1="526.70" x2="424.74" y2="527.90" stroke="#444" stroke-width="0.45"/>
<line x1="228.00" y1="537.60" x2="435.20" y2="537.60" stroke="#333" stroke-width="1.0"/>
<path d="M439.20,537.60 L433.70,535.00 L433.70,540.20 Z" fill="#111"/>
<text x="333.90" y="545.60" font-size="6.0" font-weight="bold" text-anchor="middle" fill="#000" color="#000" stroke-width="0.114" font-family="'Liberation Sans', Arial, sans-serif">Granzyme B</text>
<text x="263.10" y="454.20" font-size="6.1" font-weight="bold" text-anchor="middle" fill="#000" color="#000" stroke-width="0.116" font-family="'Liberation Sans', Arial, sans-serif">shCtrl</text>
<text x="330.40" y="454.20" font-size="6.1" font-weight="bold" text-anchor="middle" fill="#000" color="#000" stroke-width="0.116" font-family="'Liberation Sans', Arial, sans-serif">shcircARAP2_1</text>
<text x="400.40" y="454.20" font-size="6.1" font-weight="bold" text-anchor="middle" fill="#000" color="#000" stroke-width="0.116" font-family="'Liberation Sans', Arial, sans-serif">shcircARAP2_2</text>
<text x="218.00" y="485.00" font-size="6.1" font-weight="bold" text-anchor="middle" fill="#000" color="#000" stroke-width="0.116" font-family="'Liberation Sans', Arial, sans-serif">Ctrl</text>
<text x="217.80" y="517.50" font-size="6.1" font-weight="bold" text-anchor="middle" fill="#000" color="#000" stroke-width="0.116" font-family="'Liberation Sans', Arial, sans-serif">sMICA</text>
<path d="M470.10,503.40 L470.10,503.40 L471.06,503.40 L472.01,503.40 L472.97,503.40 L473.92,503.40 L474.88,503.40 L475.83,503.40 L476.79,503.40 L477.75,503.40 L478.70,503.40 L479.66,503.40 L480.61,503.40 L481.57,503.40 L482.52,503.40 L483.48,503.40 L484.44,503.40 L485.39,503.40 L486.35,503.40 L487.30,503.40 L488.26,503.40 L489.21,503.40 L490.17,503.40 L491.13,503.40 L492.08,503.40 L493.04,503.40 L493.99,503.40 L494.95,503.40 L495.90,503.40 L496.86,503.40 L497.82,503.40 L498.77,503.40 L499.73,503.40 L500.68,503.40 L501.64,503.40 L502.59,503.40 L503.55,503.40 L504.51,503.40 L505.46,503.40 L506.42,503.40 L507.37,503.40 L508.33,503.40 L509.28,503.39 L510.24,503.38 L511.20,503.33 L512.15,503.21 L513.11,502.93 L514.06,502.31 L515.02,501.08 L515.97,498.90 L516.93,495.41 L517.89,490.78 L518.84,484.48 L519.80,476.91 L520.75,471.59 L521.71,465.66 L522.66,465.54 L523.62,466.84 L524.58,467.80 L525.53,471.30 L526.49,475.20 L527.44,478.84 L528.40,482.83 L529.35,487.19 L530.31,490.34 L531.27,493.82 L532.22,496.47 L533.18,498.55 L534.13,500.12 L535.09,501.25 L536.04,502.04 L537.00,502.57 L537.00,503.40 Z" fill="#8ccbe0" stroke="#4fb3d6" stroke-width="0.6" stroke-linejoin="round"/>
<path d="M470.10,525.80 L470.10,525.80 L471.06,525.80 L472.01,525.80 L472.97,525.80 L473.92,525.80 L474.88,525.80 L475.83,525.80 L476.79,525.80 L477.75,525.80 L478.70,525.80 L479.66,525.80 L480.61,525.80 L481.57,525.80 L482.52,525.80 L483.48,525.80 L484.44,525.80 L485.39,525.80 L486.35,525.80 L487.30,525.80 L488.26,525.80 L489.21,525.80 L490.17,525.80 L491.13,525.80 L492.08,525.80 L493.04,525.80 L493.99,525.80 L494.95,525.80 L495.90,525.80 L496.86,525.80 L497.82,525.80 L498.77,525.80 L499.73,525.80 L500.68,525.80 L501.64,525.80 L502.59,525.80 L503.55,525.80 L504.51,525.80 L505.46,525.80 L506.42,525.80 L507.37,525.80 L508.33,525.79 L509.28,525.77 L510.24,525.71 L511.20,525.51 L512.15,524.99 L513.11,523.82 L514.06,521.47 L515.02,517.38 L515.97,511.28 L516.93,503.16 L517.89,494.69 L518.84,488.31 L519.80,485.45 L520.75,486.29 L521.71,488.69 L522.66,493.56 L523.62,498.97 L524.58,504.45 L525.53,510.05 L526.49,514.79 L527.44,518.54 L528.40,521.28 L529.35,523.14 L530.31,524.32 L531.27,525.02 L532.22,525.41 L533.18,525.62 L534.13,525.72 L535.09,525.77 L536.04,525.79 L537.00,525.80 L537.00,525.80 Z" fill="#f0a8aa" stroke="#e27b80" stroke-width="0.6" fill-opacity="0.72" stroke-linejoin="round"/>
<text x="472.60" y="500.70" font-size="6.1" font-weight="bold" text-anchor="start" fill="#000" color="#000" stroke-width="0.116" font-family="'Liberation Sans', Arial, sans-serif">44411</text>
<text x="472.60" y="522.10" font-size="6.1" font-weight="bold" text-anchor="start" fill="#000" color="#000" stroke-width="0.116" font-family="'Liberation Sans', Arial, sans-serif">26669</text>
<path d="M538.00,503.40 L538.00,503.40 L538.98,503.40 L539.95,503.40 L540.93,503.40 L541.90,503.40 L542.88,503.40 L543.85,503.40 L544.83,503.40 L545.81,503.40 L546.78,503.40 L547.76,503.40 L548.73,503.40 L549.71,503.40 L550.68,503.40 L551.66,503.40 L552.64,503.40 L553.61,503.40 L554.59,503.40 L555.56,503.40 L556.54,503.40 L557.51,503.40 L558.49,503.40 L559.47,503.40 L560.44,503.40 L561.42,503.40 L562.39,503.40 L563.37,503.40 L564.34,503.40 L565.32,503.40 L566.30,503.40 L567.27,503.40 L568.25,503.40 L569.22,503.40 L570.20,503.40 L571.17,503.40 L572.15,503.40 L573.13,503.40 L574.10,503.40 L575.08,503.40 L576.05,503.40 L577.03,503.40 L578.00,503.39 L578.98,503.38 L579.96,503.33 L580.93,503.19 L581.91,502.84 L582.88,502.01 L583.86,500.33 L584.83,497.28 L585.81,492.43 L586.79,486.19 L587.76,478.04 L588.74,470.97 L589.71,464.69 L590.69,461.37 L591.66,462.29 L592.64,465.07 L593.62,467.94 L594.59,472.91 L595.57,477.06 L596.54,482.35 L597.52,487.42 L598.49,491.12 L599.47,494.51 L600.45,497.21 L601.42,499.25 L602.40,500.72 L603.37,501.73 L604.35,502.40 L605.32,502.83 L606.30,503.08 L606.30,503.40 Z" fill="#8ccbe0" stroke="#4fb3d6" stroke-width="0.6" stroke-linejoin="round"/>
<path d="M538.00,525.80 L538.00,525.80 L538.98,525.80 L539.95,525.80 L540.93,525.80 L541.90,525.80 L542.88,525.80 L543.85,525.80 L544.83,525.80 L545.81,525.80 L546.78,525.80 L547.76,525.80 L548.73,525.80 L549.71,525.80 L550.68,525.80 L551.66,525.80 L552.64,525.80 L553.61,525.80 L554.59,525.80 L555.56,525.80 L556.54,525.80 L557.51,525.80 L558.49,525.80 L559.47,525.80 L560.44,525.80 L561.42,525.80 L562.39,525.80 L563.37,525.80 L564.34,525.80 L565.32,525.80 L566.30,525.80 L567.27,525.80 L568.25,525.80 L569.22,525.80 L570.20,525.80 L571.17,525.80 L572.15,525.80 L573.13,525.80 L574.10,525.80 L575.08,525.80 L576.05,525.80 L577.03,525.80 L578.00,525.79 L578.98,525.78 L579.96,525.73 L580.93,525.60 L581.91,525.25 L582.88,524.44 L583.86,522.79 L584.83,519.81 L585.81,515.07 L586.79,508.44 L587.76,500.37 L588.74,494.04 L589.71,486.55 L590.69,484.98 L591.66,485.82 L592.64,487.98 L593.62,492.98 L594.59,496.97 L595.57,502.41 L596.54,508.12 L597.52,512.13 L598.49,516.16 L599.47,519.22 L600.45,521.51 L601.42,523.12 L602.40,524.20 L603.37,524.89 L604.35,525.30 L605.32,525.54 L606.30,525.67 L606.30,525.80 Z" fill="#f0a8aa" stroke="#e27b80" stroke-width="0.6" fill-opacity="0.72" stroke-linejoin="round"/>
<text x="540.50" y="500.70" font-size="6.1" font-weight="bold" text-anchor="start" fill="#000" color="#000" stroke-width="0.116" font-family="'Liberation Sans', Arial, sans-serif">41572</text>
<text x="540.50" y="522.10" font-size="6.1" font-weight="bold" text-anchor="start" fill="#000" color="#000" stroke-width="0.116" font-family="'Liberation Sans', Arial, sans-serif">38474</text>
<path d="M607.30,503.40 L607.30,503.40 L608.27,503.40 L609.23,503.40 L610.20,503.40 L611.16,503.40 L612.13,503.40 L613.09,503.40 L614.06,503.40 L615.03,503.40 L615.99,503.40 L616.96,503.40 L617.92,503.40 L618.89,503.40 L619.85,503.40 L620.82,503.40 L621.79,503.40 L622.75,503.40 L623.72,503.40 L624.68,503.40 L625.65,503.40 L626.61,503.40 L627.58,503.40 L628.55,503.40 L629.51,503.40 L630.48,503.40 L631.44,503.40 L632.41,503.40 L633.37,503.40 L634.34,503.40 L635.31,503.40 L636.27,503.40 L637.24,503.40 L638.20,503.40 L639.17,503.40 L640.13,503.40 L641.10,503.40 L642.07,503.40 L643.03,503.40 L644.00,503.40 L644.96,503.39 L645.93,503.38 L646.89,503.35 L647.86,503.27 L648.83,503.06 L649.79,502.62 L650.76,501.75 L651.72,500.17 L652.69,497.56 L653.65,493.65 L654.62,488.00 L655.59,481.78 L656.55,475.74 L657.52,470.69 L658.48,465.14 L659.45,463.93 L660.41,465.92 L661.38,466.66 L662.35,472.74 L663.31,475.27 L664.28,480.52 L665.24,484.31 L666.21,488.34 L667.17,492.20 L668.14,495.29 L669.11,497.74 L670.07,499.60 L671.04,500.94 L672.00,501.86 L672.97,502.48 L673.93,502.87 L674.90,503.10 L674.90,503.40 Z" fill="#8ccbe0" stroke="#4fb3d6" stroke-width="0.6" stroke-linejoin="round"/>
<path d="M607.30,525.80 L607.30,525.80 L608.27,525.80 L609.23,525.80 L610.20,525.80 L611.16,525.80 L612.13,525.80 L613.09,525.80 L614.06,525.80 L615.03,525.80 L615.99,525.80 L616.96,525.80 L617.92,525.80 L618.89,525.80 L619.85,525.80 L620.82,525.80 L621.79,525.80 L622.75,525.80 L623.72,525.80 L624.68,525.80 L625.65,525.80 L626.61,525.80 L627.58,525.80 L628.55,525.80 L629.51,525.80 L630.48,525.80 L631.44,525.80 L632.41,525.80 L633.37,525.80 L634.34,525.80 L635.31,525.80 L636.27,525.80 L637.24,525.80 L638.20,525.80 L639.17,525.80 L640.13,525.80 L641.10,525.80 L642.07,525.80 L643.03,525.80 L644.00,525.80 L644.96,525.80 L645.93,525.80 L646.89,525.80 L647.86,525.79 L648.83,525.76 L649.79,525.67 L650.76,525.44 L651.72,524.88 L652.69,523.69 L653.65,521.40 L654.62,517.55 L655.59,511.93 L656.55,503.90 L657.52,496.19 L658.48,490.50 L659.45,485.15 L660.41,485.65 L661.38,487.83 L662.35,489.86 L663.31,494.72 L664.28,501.24 L665.24,506.74 L666.21,512.29 L667.17,516.22 L668.14,519.50 L669.11,521.87 L670.07,523.48 L671.04,524.50 L672.00,525.11 L672.97,525.45 L673.93,525.63 L674.90,525.72 L674.90,525.80 Z" fill="#f0a8aa" stroke="#e27b80" stroke-width="0.6" fill-opacity="0.72" stroke-linejoin="round"/>
<text x="609.80" y="500.70" font-size="6.1" font-weight="bold" text-anchor="start" fill="#000" color="#000" stroke-width="0.116" font-family="'Liberation Sans', Arial, sans-serif">39931</text>
<text x="609.80" y="522.10" font-size="6.1" font-weight="bold" text-anchor="start" fill="#000" color="#000" stroke-width="0.116" font-family="'Liberation Sans', Arial, sans-serif">40614</text>
<line x1="469.60" y1="503.40" x2="675.40" y2="503.40" stroke="#58b8da" stroke-width="0.7"/>
<rect x="469.60" y="457.40" width="205.80" height="68.40" fill="none" stroke="#b0b0b0" stroke-width="0.8"/>
<line x1="537.50" y1="457.40" x2="537.50" y2="525.80" stroke="#a0a0a0" stroke-width="1.0"/>
<line x1="606.80" y1="457.40" x2="606.80" y2="525.80" stroke="#a0a0a0" stroke-width="1.0"/>
<line x1="471.10" y1="526.90" x2="536.00" y2="526.90" stroke="#444" stroke-width="0.7" stroke-dasharray="0.6,1.0"/>
<line x1="473.05" y1="526.10" x2="473.05" y2="528.10" stroke="#222" stroke-width="0.7"/>
<text x="473.05" y="532.10" font-size="3.0" text-anchor="middle" fill="#222" color="#222" stroke-width="0.057" font-family="'Liberation Sans', Arial, sans-serif" transform="rotate(-30 473.05 532.10)">-10³</text>
<line x1="484.08" y1="526.10" x2="484.08" y2="528.10" stroke="#222" stroke-width="0.7"/>
<text x="484.08" y="532.10" font-size="3.0" text-anchor="middle" fill="#222" color="#222" stroke-width="0.057" font-family="'Liberation Sans', Arial, sans-serif" transform="rotate(-30 484.08 532.10)">0</text>
<line x1="497.06" y1="526.10" x2="497.06" y2="528.10" stroke="#222" stroke-width="0.7"/>
<text x="497.06" y="532.10" font-size="3.0" text-anchor="middle" fill="#222" color="#222" stroke-width="0.057" font-family="'Liberation Sans', Arial, sans-serif" transform="rotate(-30 497.06 532.10)">10³</text>
<line x1="515.88" y1="526.10" x2="515.88" y2="528.10" stroke="#222" stroke-width="0.7"/>
<text x="515.88" y="532.10" font-size="3.0" text-anchor="middle" fill="#222" color="#222" stroke-width="0.057" font-family="'Liberation Sans', Arial, sans-serif" transform="rotate(-30 515.88 532.10)">10⁴</text>
<line x1="530.81" y1="526.10" x2="530.81" y2="528.10" stroke="#222" stroke-width="0.7"/>
<text x="530.81" y="532.10" font-size="3.0" text-anchor="middle" fill="#222" color="#222" stroke-width="0.057" font-family="'Liberation Sans', Arial, sans-serif" transform="rotate(-30 530.81 532.10)">10⁵</text>
<line x1="474.35" y1="526.10" x2="474.35" y2="527.30" stroke="#444" stroke-width="0.45"/>
<line x1="479.21" y1="526.10" x2="479.21" y2="527.30" stroke="#444" stroke-width="0.45"/>
<line x1="484.08" y1="526.10" x2="484.08" y2="527.30" stroke="#444" stroke-width="0.45"/>
<line x1="488.95" y1="526.10" x2="488.95" y2="527.30" stroke="#444" stroke-width="0.45"/>
<line x1="493.81" y1="526.10" x2="493.81" y2="527.30" stroke="#444" stroke-width="0.45"/>
<line x1="498.68" y1="526.10" x2="498.68" y2="527.30" stroke="#444" stroke-width="0.45"/>
<line x1="503.55" y1="526.10" x2="503.55" y2="527.30" stroke="#444" stroke-width="0.45"/>
<line x1="508.42" y1="526.10" x2="508.42" y2="527.30" stroke="#444" stroke-width="0.45"/>
<line x1="513.28" y1="526.10" x2="513.28" y2="527.30" stroke="#444" stroke-width="0.45"/>
<line x1="518.15" y1="526.10" x2="518.15" y2="527.30" stroke="#444" stroke-width="0.45"/>
<line x1="523.02" y1="526.10" x2="523.02" y2="527.30" stroke="#444" stroke-width="0.45"/>
<line x1="527.89" y1="526.10" x2="527.89" y2="527.30" stroke="#444" stroke-width="0.45"/>
<line x1="539.00" y1="526.90" x2="605.30" y2="526.90" stroke="#444" stroke-width="0.7" stroke-dasharray="0.6,1.0"/>
<line x1="540.99" y1="526.10" x2="540.99" y2="528.10" stroke="#222" stroke-width="0.7"/>
<text x="540.99" y="532.10" font-size="3.0" text-anchor="middle" fill="#222" color="#222" stroke-width="0.057" font-family="'Liberation Sans', Arial, sans-serif" transform="rotate(-30 540.99 532.10)">-10³</text>
<line x1="552.26" y1="526.10" x2="552.26" y2="528.10" stroke="#222" stroke-width="0.7"/>
<text x="552.26" y="532.10" font-size="3.0" text-anchor="middle" fill="#222" color="#222" stroke-width="0.057" font-family="'Liberation Sans', Arial, sans-serif" transform="rotate(-30 552.26 532.10)">0</text>
<line x1="565.52" y1="526.10" x2="565.52" y2="528.10" stroke="#222" stroke-width="0.7"/>
<text x="565.52" y="532.10" font-size="3.0" text-anchor="middle" fill="#222" color="#222" stroke-width="0.057" font-family="'Liberation Sans', Arial, sans-serif" transform="rotate(-30 565.52 532.10)">10³</text>
<line x1="584.75" y1="526.10" x2="584.75" y2="528.10" stroke="#222" stroke-width="0.7"/>
<text x="584.75" y="532.10" font-size="3.0" text-anchor="middle" fill="#222" color="#222" stroke-width="0.057" font-family="'Liberation Sans', Arial, sans-serif" transform="rotate(-30 584.75 532.10)">10⁴</text>
<line x1="600.00" y1="526.10" x2="600.00" y2="528.10" stroke="#222" stroke-width="0.7"/>
<text x="600.00" y="532.10" font-size="3.0" text-anchor="middle" fill="#222" color="#222" stroke-width="0.057" font-family="'Liberation Sans', Arial, sans-serif" transform="rotate(-30 600.00 532.10)">10⁵</text>
<line x1="542.32" y1="526.10" x2="542.32" y2="527.30" stroke="#444" stroke-width="0.45"/>
<line x1="547.29" y1="526.10" x2="547.29" y2="527.30" stroke="#444" stroke-width="0.45"/>
<line x1="552.26" y1="526.10" x2="552.26" y2="527.30" stroke="#444" stroke-width="0.45"/>
<line x1="557.23" y1="526.10" x2="557.23" y2="527.30" stroke="#444" stroke-width="0.45"/>
<line x1="562.20" y1="526.10" x2="562.20" y2="527.30" stroke="#444" stroke-width="0.45"/>
<line x1="567.18" y1="526.10" x2="567.18" y2="527.30" stroke="#444" stroke-width="0.45"/>
<line x1="572.15" y1="526.10" x2="572.15" y2="527.30" stroke="#444" stroke-width="0.45"/>
<line x1="577.12" y1="526.10" x2="577.12" y2="527.30" stroke="#444" stroke-width="0.45"/>
<line x1="582.10" y1="526.10" x2="582.10" y2="527.30" stroke="#444" stroke-width="0.45"/>
<line x1="587.07" y1="526.10" x2="587.07" y2="527.30" stroke="#444" stroke-width="0.45"/>
<line x1="592.04" y1="526.10" x2="592.04" y2="527.30" stroke="#444" stroke-width="0.45"/>
<line x1="597.01" y1="526.10" x2="597.01" y2="527.30" stroke="#444" stroke-width="0.45"/>
<line x1="608.30" y1="526.90" x2="673.90" y2="526.90" stroke="#444" stroke-width="0.7" stroke-dasharray="0.6,1.0"/>
<line x1="610.27" y1="526.10" x2="610.27" y2="528.10" stroke="#222" stroke-width="0.7"/>
<text x="610.27" y="532.10" font-size="3.0" text-anchor="middle" fill="#222" color="#222" stroke-width="0.057" font-family="'Liberation Sans', Arial, sans-serif" transform="rotate(-30 610.27 532.10)">-10³</text>
<line x1="621.42" y1="526.10" x2="621.42" y2="528.10" stroke="#222" stroke-width="0.7"/>
<text x="621.42" y="532.10" font-size="3.0" text-anchor="middle" fill="#222" color="#222" stroke-width="0.057" font-family="'Liberation Sans', Arial, sans-serif" transform="rotate(-30 621.42 532.10)">0</text>
<line x1="634.54" y1="526.10" x2="634.54" y2="528.10" stroke="#222" stroke-width="0.7"/>
<text x="634.54" y="532.10" font-size="3.0" text-anchor="middle" fill="#222" color="#222" stroke-width="0.057" font-family="'Liberation Sans', Arial, sans-serif" transform="rotate(-30 634.54 532.10)">10³</text>
<line x1="653.56" y1="526.10" x2="653.56" y2="528.10" stroke="#222" stroke-width="0.7"/>
<text x="653.56" y="532.10" font-size="3.0" text-anchor="middle" fill="#222" color="#222" stroke-width="0.057" font-family="'Liberation Sans', Arial, sans-serif" transform="rotate(-30 653.56 532.10)">10⁴</text>
<line x1="668.65" y1="526.10" x2="668.65" y2="528.10" stroke="#222" stroke-width="0.7"/>
<text x="668.65" y="532.10" font-size="3.0" text-anchor="middle" fill="#222" color="#222" stroke-width="0.057" font-family="'Liberation Sans', Arial, sans-serif" transform="rotate(-30 668.65 532.10)">10⁵</text>
<line x1="611.58" y1="526.10" x2="611.58" y2="527.30" stroke="#444" stroke-width="0.45"/>
<line x1="616.50" y1="526.10" x2="616.50" y2="527.30" stroke="#444" stroke-width="0.45"/>
<line x1="621.42" y1="526.10" x2="621.42" y2="527.30" stroke="#444" stroke-width="0.45"/>
<line x1="626.34" y1="526.10" x2="626.34" y2="527.30" stroke="#444" stroke-width="0.45"/>
<line x1="631.26" y1="526.10" x2="631.26" y2="527.30" stroke="#444" stroke-width="0.45"/>
<line x1="636.18" y1="526.10" x2="636.18" y2="527.30" stroke="#444" stroke-width="0.45"/>
<line x1="641.10" y1="526.10" x2="641.10" y2="527.30" stroke="#444" stroke-width="0.45"/>
<line x1="646.02" y1="526.10" x2="646.02" y2="527.30" stroke="#444" stroke-width="0.45"/>
<line x1="650.94" y1="526.10" x2="650.94" y2="527.30" stroke="#444" stroke-width="0.45"/>
<line x1="655.86" y1="526.10" x2="655.86" y2="527.30" stroke="#444" stroke-width="0.45"/>
<line x1="660.78" y1="526.10" x2="660.78" y2="527.30" stroke="#444" stroke-width="0.45"/>
<line x1="665.70" y1="526.10" x2="665.70" y2="527.30" stroke="#444" stroke-width="0.45"/>
<line x1="466.50" y1="536.40" x2="675.80" y2="536.40" stroke="#333" stroke-width="1.0"/>
<path d="M679.80,536.40 L674.30,533.80 L674.30,539.00 Z" fill="#111"/>
<text x="575.20" y="545.60" font-size="6.0" font-weight="bold" text-anchor="middle" fill="#000" color="#000" stroke-width="0.114" font-family="'Liberation Sans', Arial, sans-serif">CD107a</text>
<text x="505.00" y="451.80" font-size="6.1" font-weight="bold" text-anchor="middle" fill="#000" color="#000" stroke-width="0.116" font-family="'Liberation Sans', Arial, sans-serif">shCtrl</text>
<text x="572.50" y="451.80" font-size="6.1" font-weight="bold" text-anchor="middle" fill="#000" color="#000" stroke-width="0.116" font-family="'Liberation Sans', Arial, sans-serif">shcircARAP2_1</text>
<text x="641.10" y="451.80" font-size="6.1" font-weight="bold" text-anchor="middle" fill="#000" color="#000" stroke-width="0.116" font-family="'Liberation Sans', Arial, sans-serif">shcircARAP2_2</text>
<text x="458.70" y="488.90" font-size="6.1" font-weight="bold" text-anchor="middle" fill="#000" color="#000" stroke-width="0.116" font-family="'Liberation Sans', Arial, sans-serif">Ctrl</text>
<text x="458.50" y="517.40" font-size="6.1" font-weight="bold" text-anchor="middle" fill="#000" color="#000" stroke-width="0.116" font-family="'Liberation Sans', Arial, sans-serif">sMICA</text>
<line x1="70.35" y1="634.28" x2="70.35" y2="638.48" stroke="#C0A34B" stroke-width="1.1"/>
<line x1="67.85" y1="634.28" x2="72.85" y2="634.28" stroke="#C0A34B" stroke-width="1.1"/>
<path d="M65.60,686.10 L65.60,637.08 L75.10,637.08 L75.10,686.10" fill="none" stroke="#C0A34B" stroke-width="2.8" stroke-linejoin="miter"/>
<circle cx="67.55" cy="632.75" r="2.30" fill="#C0A34B"/>
<circle cx="70.85" cy="635.10" r="2.30" fill="#C0A34B"/>
<circle cx="73.55" cy="636.27" r="2.30" fill="#C0A34B"/>
<line x1="87.20" y1="636.62" x2="87.20" y2="641.77" stroke="#8890C0" stroke-width="1.1"/>
<line x1="84.70" y1="636.62" x2="89.70" y2="636.62" stroke="#8890C0" stroke-width="1.1"/>
<path d="M82.40,686.10 L82.40,640.37 L92.00,640.37 L92.00,686.10" fill="none" stroke="#8890C0" stroke-width="2.8" stroke-linejoin="miter"/>
<path d="M84.70,633.15 L87.12,637.71 L82.28,637.71 Z" fill="#8890C0"/>
<path d="M89.70,634.91 L92.12,639.47 L87.28,639.47 Z" fill="#8890C0"/>
<path d="M87.20,640.77 L89.62,645.33 L84.78,645.33 Z" fill="#8890C0"/>
<line x1="103.90" y1="633.34" x2="103.90" y2="637.90" stroke="#B0583E" stroke-width="1.1"/>
<line x1="101.40" y1="633.34" x2="106.40" y2="633.34" stroke="#B0583E" stroke-width="1.1"/>
<path d="M99.30,686.10 L99.30,636.50 L108.50,636.50 L108.50,686.10" fill="none" stroke="#B0583E" stroke-width="2.8" stroke-linejoin="miter"/>
<rect x="98.60" y="629.28" width="4.60" height="4.60" fill="#B0583E"/>
<rect x="102.10" y="633.38" width="4.60" height="4.60" fill="#B0583E"/>
<rect x="104.80" y="635.14" width="4.60" height="4.60" fill="#B0583E"/>
<line x1="131.50" y1="652.10" x2="131.50" y2="655.48" stroke="#C0A34B" stroke-width="1.1"/>
<line x1="129.00" y1="652.10" x2="134.00" y2="652.10" stroke="#C0A34B" stroke-width="1.1"/>
<path d="M127.00,686.10 L127.00,654.08 L136.00,654.08 L136.00,686.10" fill="none" stroke="#C0A34B" stroke-width="2.8" stroke-linejoin="miter"/>
<circle cx="128.50" cy="652.10" r="2.30" fill="#C0A34B"/>
<circle cx="131.50" cy="652.68" r="2.30" fill="#C0A34B"/>
<circle cx="134.50" cy="653.27" r="2.30" fill="#C0A34B"/>
<line x1="148.50" y1="626.30" x2="148.50" y2="635.55" stroke="#8890C0" stroke-width="1.1"/>
<line x1="146.00" y1="626.30" x2="151.00" y2="626.30" stroke="#8890C0" stroke-width="1.1"/>
<path d="M143.90,686.10 L143.90,634.15 L153.10,634.15 L153.10,686.10" fill="none" stroke="#8890C0" stroke-width="2.8" stroke-linejoin="miter"/>
<path d="M148.50,623.19 L150.91,627.74 L146.09,627.74 Z" fill="#8890C0"/>
<path d="M145.70,630.81 L148.11,635.36 L143.28,635.36 Z" fill="#8890C0"/>
<path d="M148.50,636.67 L150.91,641.22 L146.09,641.22 Z" fill="#8890C0"/>
<line x1="165.30" y1="623.96" x2="165.30" y2="634.38" stroke="#B0583E" stroke-width="1.1"/>
<line x1="162.80" y1="623.96" x2="167.80" y2="623.96" stroke="#B0583E" stroke-width="1.1"/>
<path d="M160.70,686.10 L160.70,632.98 L169.90,632.98 L169.90,686.10" fill="none" stroke="#B0583E" stroke-width="2.8" stroke-linejoin="miter"/>
<rect x="163.00" y="619.31" width="4.60" height="4.60" fill="#B0583E"/>
<rect x="163.00" y="632.21" width="4.60" height="4.60" fill="#B0583E"/>
<rect x="160.50" y="636.31" width="4.60" height="4.60" fill="#B0583E"/>
<line x1="59.00" y1="567.70" x2="59.00" y2="687.10" stroke="#000" stroke-width="2.0"/>
<line x1="53.50" y1="686.10" x2="59.00" y2="686.10" stroke="#000" stroke-width="1.6"/>
<text x="53.30" y="689.93" font-size="8.5" font-weight="bold" text-anchor="end" fill="#000" color="#000" stroke-width="0.162" font-family="'Liberation Sans', Arial, sans-serif">0</text>
<line x1="53.50" y1="662.65" x2="59.00" y2="662.65" stroke="#000" stroke-width="1.6"/>
<text x="53.30" y="666.48" font-size="8.5" font-weight="bold" text-anchor="end" fill="#000" color="#000" stroke-width="0.162" font-family="'Liberation Sans', Arial, sans-serif">20</text>
<line x1="53.50" y1="639.20" x2="59.00" y2="639.20" stroke="#000" stroke-width="1.6"/>
<text x="53.30" y="643.03" font-size="8.5" font-weight="bold" text-anchor="end" fill="#000" color="#000" stroke-width="0.162" font-family="'Liberation Sans', Arial, sans-serif">40</text>
<line x1="53.50" y1="615.75" x2="59.00" y2="615.75" stroke="#000" stroke-width="1.6"/>
<text x="53.30" y="619.58" font-size="8.5" font-weight="bold" text-anchor="end" fill="#000" color="#000" stroke-width="0.162" font-family="'Liberation Sans', Arial, sans-serif">60</text>
<line x1="53.50" y1="592.30" x2="59.00" y2="592.30" stroke="#000" stroke-width="1.6"/>
<text x="53.30" y="596.13" font-size="8.5" font-weight="bold" text-anchor="end" fill="#000" color="#000" stroke-width="0.162" font-family="'Liberation Sans', Arial, sans-serif">80</text>
<line x1="53.50" y1="568.85" x2="59.00" y2="568.85" stroke="#000" stroke-width="1.6"/>
<text x="53.30" y="572.68" font-size="8.5" font-weight="bold" text-anchor="end" fill="#000" color="#000" stroke-width="0.162" font-family="'Liberation Sans', Arial, sans-serif">100</text>
<line x1="58.00" y1="686.10" x2="178.00" y2="686.10" stroke="#000" stroke-width="2.0"/>
<line x1="87.20" y1="686.10" x2="87.20" y2="690.10" stroke="#000" stroke-width="1.6"/>
<text x="87.20" y="700.30" font-size="9.0" font-weight="bold" text-anchor="middle" fill="#000" color="#000" stroke-width="0.171" font-family="'Liberation Sans', Arial, sans-serif">Ctrl</text>
<line x1="148.50" y1="686.10" x2="148.50" y2="690.10" stroke="#000" stroke-width="1.6"/>
<text x="148.50" y="700.30" font-size="9.0" font-weight="bold" text-anchor="middle" fill="#000" color="#000" stroke-width="0.171" font-family="'Liberation Sans', Arial, sans-serif">sMICA</text>
<path d="M104.60,585.20 L104.60,581.20 L165.60,581.20 L165.60,585.20" fill="none" stroke="#222" stroke-width="1.1"/>
<text x="135.10" y="579.90" font-size="8.6" text-anchor="middle" fill="#222" color="#222" stroke-width="0.163" font-family="'Liberation Sans', Arial, sans-serif">ns</text>
<path d="M87.40,595.60 L87.40,591.60 L148.60,591.60 L148.60,595.60" fill="none" stroke="#222" stroke-width="1.1"/>
<text x="118.00" y="590.30" font-size="8.6" text-anchor="middle" fill="#222" color="#222" stroke-width="0.163" font-family="'Liberation Sans', Arial, sans-serif">ns</text>
<path d="M69.30,606.10 L69.30,602.10 L130.60,602.10 L130.60,606.10" fill="none" stroke="#222" stroke-width="1.1"/>
<text x="99.95" y="602.58" font-size="8.6" text-anchor="middle" fill="#222" color="#222" stroke-width="0.163" font-family="'Liberation Sans', Arial, sans-serif">*</text>
<path d="M130.60,614.20 L130.60,610.20 L165.60,610.20 L165.60,614.20" fill="none" stroke="#222" stroke-width="1.1"/>
<text x="148.10" y="610.68" font-size="8.6" text-anchor="middle" fill="#222" color="#222" stroke-width="0.163" font-family="'Liberation Sans', Arial, sans-serif">**</text>
<path d="M130.60,622.00 L130.60,618.00 L148.60,618.00 L148.60,622.00" fill="none" stroke="#222" stroke-width="1.1"/>
<text x="139.60" y="618.48" font-size="8.6" text-anchor="middle" fill="#222" color="#222" stroke-width="0.163" font-family="'Liberation Sans', Arial, sans-serif">**</text>
<text x="31.90" y="627.50" font-size="9.2" font-weight="bold" text-anchor="middle" fill="#000" color="#000" stroke-width="0.175" font-family="'Liberation Sans', Arial, sans-serif" transform="rotate(-90 31.90 627.50)">Percent IFN-γ+</text>
<circle cx="183.00" cy="570.80" r="2.60" fill="#C0A34B"/>
<text x="195.80" y="574.04" font-size="9.0" text-anchor="start" fill="#000" color="#000" stroke-width="0.171" font-family="'Liberation Sans', Arial, sans-serif">shcontrol</text>
<path d="M183.00,584.94 L185.73,590.09 L180.27,590.09 Z" fill="#8890C0"/>
<text x="195.80" y="591.04" font-size="9.0" text-anchor="start" fill="#000" color="#000" stroke-width="0.171" font-family="'Liberation Sans', Arial, sans-serif">sh1</text>
<rect x="180.40" y="600.00" width="5.20" height="5.20" fill="#B0583E"/>
<text x="195.80" y="605.84" font-size="9.0" text-anchor="start" fill="#000" color="#000" stroke-width="0.171" font-family="'Liberation Sans', Arial, sans-serif">sh2</text>
<path d="M288.70,686.10 L288.70,612.04 L298.00,612.04 L298.00,686.10" fill="none" stroke="#C0A34B" stroke-width="2.8" stroke-linejoin="miter"/>
<circle cx="291.15" cy="607.51" r="2.30" fill="#C0A34B"/>
<circle cx="293.85" cy="611.03" r="2.30" fill="#C0A34B"/>
<circle cx="296.35" cy="611.81" r="2.30" fill="#C0A34B"/>
<line x1="310.20" y1="619.83" x2="310.20" y2="627.71" stroke="#8890C0" stroke-width="1.1"/>
<line x1="307.70" y1="619.83" x2="312.70" y2="619.83" stroke="#8890C0" stroke-width="1.1"/>
<path d="M305.60,686.10 L305.60,626.31 L314.80,626.31 L314.80,686.10" fill="none" stroke="#8890C0" stroke-width="2.8" stroke-linejoin="miter"/>
<path d="M307.60,615.73 L310.01,620.29 L305.18,620.29 Z" fill="#8890C0"/>
<path d="M313.00,616.51 L315.42,621.07 L310.58,621.07 Z" fill="#8890C0"/>
<path d="M310.20,632.35 L312.62,636.90 L307.78,636.90 Z" fill="#8890C0"/>
<line x1="326.90" y1="613.76" x2="326.90" y2="621.84" stroke="#B0583E" stroke-width="1.1"/>
<line x1="324.40" y1="613.76" x2="329.40" y2="613.76" stroke="#B0583E" stroke-width="1.1"/>
<path d="M322.40,686.10 L322.40,620.44 L331.40,620.44 L331.40,686.10" fill="none" stroke="#B0583E" stroke-width="2.8" stroke-linejoin="miter"/>
<rect x="324.60" y="606.38" width="4.60" height="4.60" fill="#B0583E"/>
<rect x="322.60" y="620.26" width="4.60" height="4.60" fill="#B0583E"/>
<rect x="324.60" y="624.76" width="4.60" height="4.60" fill="#B0583E"/>
<path d="M350.40,686.10 L350.40,628.26 L359.20,628.26 L359.20,686.10" fill="none" stroke="#C0A34B" stroke-width="2.8" stroke-linejoin="miter"/>
<circle cx="351.80" cy="625.69" r="2.30" fill="#C0A34B"/>
<circle cx="354.80" cy="626.47" r="2.30" fill="#C0A34B"/>
<circle cx="357.80" cy="627.25" r="2.30" fill="#C0A34B"/>
<line x1="371.40" y1="615.72" x2="371.40" y2="620.87" stroke="#8890C0" stroke-width="1.1"/>
<line x1="368.90" y1="615.72" x2="373.90" y2="615.72" stroke="#8890C0" stroke-width="1.1"/>
<path d="M367.00,686.10 L367.00,619.47 L375.80,619.47 L375.80,686.10" fill="none" stroke="#8890C0" stroke-width="2.8" stroke-linejoin="miter"/>
<path d="M371.40,611.63 L373.81,616.18 L368.98,616.18 Z" fill="#8890C0"/>
<path d="M368.90,616.51 L371.31,621.07 L366.48,621.07 Z" fill="#8890C0"/>
<path d="M373.90,617.88 L376.31,622.44 L371.48,622.44 Z" fill="#8890C0"/>
<line x1="388.00" y1="613.57" x2="388.00" y2="617.93" stroke="#B0583E" stroke-width="1.1"/>
<line x1="385.50" y1="613.57" x2="390.50" y2="613.57" stroke="#B0583E" stroke-width="1.1"/>
<path d="M383.60,686.10 L383.60,616.53 L392.40,616.53 L392.40,686.10" fill="none" stroke="#B0583E" stroke-width="2.8" stroke-linejoin="miter"/>
<rect x="383.20" y="610.68" width="4.60" height="4.60" fill="#B0583E"/>
<rect x="386.20" y="612.05" width="4.60" height="4.60" fill="#B0583E"/>
<rect x="388.70" y="614.01" width="4.60" height="4.60" fill="#B0583E"/>
<line x1="282.20" y1="567.70" x2="282.20" y2="687.10" stroke="#000" stroke-width="2.0"/>
<line x1="276.70" y1="686.10" x2="282.20" y2="686.10" stroke="#000" stroke-width="1.6"/>
<text x="276.50" y="689.93" font-size="8.5" font-weight="bold" text-anchor="end" fill="#000" color="#000" stroke-width="0.162" font-family="'Liberation Sans', Arial, sans-serif">0</text>
<line x1="276.70" y1="666.55" x2="282.20" y2="666.55" stroke="#000" stroke-width="1.6"/>
<text x="276.50" y="670.38" font-size="8.5" font-weight="bold" text-anchor="end" fill="#000" color="#000" stroke-width="0.162" font-family="'Liberation Sans', Arial, sans-serif">10000</text>
<line x1="276.70" y1="647.00" x2="282.20" y2="647.00" stroke="#000" stroke-width="1.6"/>
<text x="276.50" y="650.83" font-size="8.5" font-weight="bold" text-anchor="end" fill="#000" color="#000" stroke-width="0.162" font-family="'Liberation Sans', Arial, sans-serif">20000</text>
<line x1="276.70" y1="627.45" x2="282.20" y2="627.45" stroke="#000" stroke-width="1.6"/>
<text x="276.50" y="631.28" font-size="8.5" font-weight="bold" text-anchor="end" fill="#000" color="#000" stroke-width="0.162" font-family="'Liberation Sans', Arial, sans-serif">30000</text>
<line x1="276.70" y1="607.90" x2="282.20" y2="607.90" stroke="#000" stroke-width="1.6"/>
<text x="276.50" y="611.73" font-size="8.5" font-weight="bold" text-anchor="end" fill="#000" color="#000" stroke-width="0.162" font-family="'Liberation Sans', Arial, sans-serif">40000</text>
<line x1="276.70" y1="588.35" x2="282.20" y2="588.35" stroke="#000" stroke-width="1.6"/>
<text x="276.50" y="592.18" font-size="8.5" font-weight="bold" text-anchor="end" fill="#000" color="#000" stroke-width="0.162" font-family="'Liberation Sans', Arial, sans-serif">50000</text>
<line x1="276.70" y1="568.80" x2="282.20" y2="568.80" stroke="#000" stroke-width="1.6"/>
<text x="276.50" y="572.62" font-size="8.5" font-weight="bold" text-anchor="end" fill="#000" color="#000" stroke-width="0.162" font-family="'Liberation Sans', Arial, sans-serif">60000</text>
<line x1="281.20" y1="686.10" x2="400.60" y2="686.10" stroke="#000" stroke-width="2.0"/>
<line x1="310.20" y1="686.10" x2="310.20" y2="690.10" stroke="#000" stroke-width="1.6"/>
<text x="310.20" y="700.30" font-size="9.0" font-weight="bold" text-anchor="middle" fill="#000" color="#000" stroke-width="0.171" font-family="'Liberation Sans', Arial, sans-serif">Ctrl</text>
<line x1="371.00" y1="686.10" x2="371.00" y2="690.10" stroke="#000" stroke-width="1.6"/>
<text x="371.00" y="700.30" font-size="9.0" font-weight="bold" text-anchor="middle" fill="#000" color="#000" stroke-width="0.171" font-family="'Liberation Sans', Arial, sans-serif">sMICA</text>
<path d="M327.60,574.90 L327.60,570.90 L389.20,570.90 L389.20,574.90" fill="none" stroke="#222" stroke-width="1.1"/>
<text x="358.40" y="569.60" font-size="8.6" text-anchor="middle" fill="#222" color="#222" stroke-width="0.163" font-family="'Liberation Sans', Arial, sans-serif">ns</text>
<path d="M310.30,585.40 L310.30,581.40 L371.60,581.40 L371.60,585.40" fill="none" stroke="#222" stroke-width="1.1"/>
<text x="340.95" y="580.10" font-size="8.6" text-anchor="middle" fill="#222" color="#222" stroke-width="0.163" font-family="'Liberation Sans', Arial, sans-serif">ns</text>
<path d="M293.00,595.50 L293.00,591.50 L353.90,591.50 L353.90,595.50" fill="none" stroke="#222" stroke-width="1.1"/>
<text x="323.45" y="591.98" font-size="8.6" text-anchor="middle" fill="#222" color="#222" stroke-width="0.163" font-family="'Liberation Sans', Arial, sans-serif">*</text>
<path d="M353.90,601.60 L353.90,597.60 L389.20,597.60 L389.20,601.60" fill="none" stroke="#222" stroke-width="1.1"/>
<text x="371.55" y="598.08" font-size="8.6" text-anchor="middle" fill="#222" color="#222" stroke-width="0.163" font-family="'Liberation Sans', Arial, sans-serif">*</text>
<path d="M353.90,609.20 L353.90,605.20 L371.60,605.20 L371.60,609.20" fill="none" stroke="#222" stroke-width="1.1"/>
<text x="362.75" y="603.90" font-size="8.6" text-anchor="middle" fill="#222" color="#222" stroke-width="0.163" font-family="'Liberation Sans', Arial, sans-serif">ns</text>
<text x="245.40" y="627.00" font-size="9.4" font-weight="bold" text-anchor="middle" fill="#000" color="#000" stroke-width="0.179" font-family="'Liberation Sans', Arial, sans-serif" transform="rotate(-90 245.40 627.00)">Granzyme B (MFI)</text>
<circle cx="410.60" cy="571.80" r="2.60" fill="#C0A34B"/>
<text x="424.30" y="575.04" font-size="9.0" text-anchor="start" fill="#000" color="#000" stroke-width="0.171" font-family="'Liberation Sans', Arial, sans-serif">shcontrol</text>
<path d="M410.60,585.24 L413.33,590.39 L407.87,590.39 Z" fill="#8890C0"/>
<text x="424.30" y="591.34" font-size="9.0" text-anchor="start" fill="#000" color="#000" stroke-width="0.171" font-family="'Liberation Sans', Arial, sans-serif">sh1</text>
<rect x="408.00" y="600.70" width="5.20" height="5.20" fill="#B0583E"/>
<text x="424.30" y="606.54" font-size="9.0" text-anchor="start" fill="#000" color="#000" stroke-width="0.171" font-family="'Liberation Sans', Arial, sans-serif">sh2</text>
<line x1="519.80" y1="623.83" x2="519.80" y2="628.10" stroke="#C0A34B" stroke-width="1.1"/>
<line x1="517.30" y1="623.83" x2="522.30" y2="623.83" stroke="#C0A34B" stroke-width="1.1"/>
<path d="M515.50,685.80 L515.50,626.70 L524.10,626.70 L524.10,685.80" fill="none" stroke="#C0A34B" stroke-width="2.8" stroke-linejoin="miter"/>
<circle cx="517.30" cy="621.34" r="2.30" fill="#C0A34B"/>
<circle cx="520.30" cy="625.73" r="2.30" fill="#C0A34B"/>
<circle cx="523.30" cy="626.47" r="2.30" fill="#C0A34B"/>
<line x1="536.50" y1="621.19" x2="536.50" y2="626.63" stroke="#8890C0" stroke-width="1.1"/>
<line x1="534.00" y1="621.19" x2="539.00" y2="621.19" stroke="#8890C0" stroke-width="1.1"/>
<path d="M532.20,685.80 L532.20,625.23 L540.80,625.23 L540.80,685.80" fill="none" stroke="#8890C0" stroke-width="2.8" stroke-linejoin="miter"/>
<path d="M536.50,616.17 L538.91,620.73 L534.09,620.73 Z" fill="#8890C0"/>
<path d="M536.50,621.01 L538.91,625.56 L534.09,625.56 Z" fill="#8890C0"/>
<path d="M534.70,624.67 L537.12,629.22 L532.29,629.22 Z" fill="#8890C0"/>
<line x1="553.20" y1="628.52" x2="553.20" y2="632.34" stroke="#B0583E" stroke-width="1.1"/>
<line x1="550.70" y1="628.52" x2="555.70" y2="628.52" stroke="#B0583E" stroke-width="1.1"/>
<path d="M548.90,685.80 L548.90,630.94 L557.50,630.94 L557.50,685.80" fill="none" stroke="#B0583E" stroke-width="2.8" stroke-linejoin="miter"/>
<rect x="548.40" y="625.63" width="4.60" height="4.60" fill="#B0583E"/>
<rect x="553.40" y="627.10" width="4.60" height="4.60" fill="#B0583E"/>
<rect x="549.40" y="630.03" width="4.60" height="4.60" fill="#B0583E"/>
<line x1="580.75" y1="646.39" x2="580.75" y2="650.07" stroke="#C0A34B" stroke-width="1.1"/>
<line x1="578.25" y1="646.39" x2="583.25" y2="646.39" stroke="#C0A34B" stroke-width="1.1"/>
<path d="M576.40,685.80 L576.40,648.67 L585.10,648.67 L585.10,685.80" fill="none" stroke="#C0A34B" stroke-width="2.8" stroke-linejoin="miter"/>
<circle cx="577.75" cy="644.78" r="2.30" fill="#C0A34B"/>
<circle cx="581.25" cy="646.98" r="2.30" fill="#C0A34B"/>
<circle cx="584.25" cy="647.71" r="2.30" fill="#C0A34B"/>
<line x1="597.40" y1="627.20" x2="597.40" y2="631.46" stroke="#8890C0" stroke-width="1.1"/>
<line x1="594.90" y1="627.20" x2="599.90" y2="627.20" stroke="#8890C0" stroke-width="1.1"/>
<path d="M593.00,685.80 L593.00,630.06 L601.80,630.06 L601.80,685.80" fill="none" stroke="#8890C0" stroke-width="2.8" stroke-linejoin="miter"/>
<path d="M597.40,622.47 L599.82,627.03 L594.99,627.03 Z" fill="#8890C0"/>
<path d="M595.90,626.87 L598.32,631.42 L593.49,631.42 Z" fill="#8890C0"/>
<path d="M597.40,628.33 L599.82,632.89 L594.99,632.89 Z" fill="#8890C0"/>
<line x1="614.20" y1="626.17" x2="614.20" y2="631.17" stroke="#B0583E" stroke-width="1.1"/>
<line x1="611.70" y1="626.17" x2="616.70" y2="626.17" stroke="#B0583E" stroke-width="1.1"/>
<path d="M609.80,685.80 L609.80,629.77 L618.60,629.77 L618.60,685.80" fill="none" stroke="#B0583E" stroke-width="2.8" stroke-linejoin="miter"/>
<rect x="609.10" y="621.24" width="4.60" height="4.60" fill="#B0583E"/>
<rect x="614.70" y="624.17" width="4.60" height="4.60" fill="#B0583E"/>
<rect x="611.90" y="629.59" width="4.60" height="4.60" fill="#B0583E"/>
<line x1="508.40" y1="567.70" x2="508.40" y2="686.80" stroke="#000" stroke-width="2.0"/>
<line x1="502.90" y1="685.80" x2="508.40" y2="685.80" stroke="#000" stroke-width="1.6"/>
<text x="502.70" y="689.62" font-size="8.5" font-weight="bold" text-anchor="end" fill="#000" color="#000" stroke-width="0.162" font-family="'Liberation Sans', Arial, sans-serif">0</text>
<line x1="502.90" y1="656.50" x2="508.40" y2="656.50" stroke="#000" stroke-width="1.6"/>
<text x="502.70" y="660.33" font-size="8.5" font-weight="bold" text-anchor="end" fill="#000" color="#000" stroke-width="0.162" font-family="'Liberation Sans', Arial, sans-serif">20000</text>
<line x1="502.90" y1="627.20" x2="508.40" y2="627.20" stroke="#000" stroke-width="1.6"/>
<text x="502.70" y="631.02" font-size="8.5" font-weight="bold" text-anchor="end" fill="#000" color="#000" stroke-width="0.162" font-family="'Liberation Sans', Arial, sans-serif">40000</text>
<line x1="502.90" y1="597.90" x2="508.40" y2="597.90" stroke="#000" stroke-width="1.6"/>
<text x="502.70" y="601.73" font-size="8.5" font-weight="bold" text-anchor="end" fill="#000" color="#000" stroke-width="0.162" font-family="'Liberation Sans', Arial, sans-serif">60000</text>
<line x1="502.90" y1="568.60" x2="508.40" y2="568.60" stroke="#000" stroke-width="1.6"/>
<text x="502.70" y="572.42" font-size="8.5" font-weight="bold" text-anchor="end" fill="#000" color="#000" stroke-width="0.162" font-family="'Liberation Sans', Arial, sans-serif">80000</text>
<line x1="507.40" y1="685.80" x2="626.60" y2="685.80" stroke="#000" stroke-width="2.0"/>
<line x1="536.50" y1="685.80" x2="536.50" y2="689.80" stroke="#000" stroke-width="1.6"/>
<text x="536.50" y="700.00" font-size="9.0" font-weight="bold" text-anchor="middle" fill="#000" color="#000" stroke-width="0.171" font-family="'Liberation Sans', Arial, sans-serif">Ctrl</text>
<line x1="597.40" y1="685.80" x2="597.40" y2="689.80" stroke="#000" stroke-width="1.6"/>
<text x="597.40" y="700.00" font-size="9.0" font-weight="bold" text-anchor="middle" fill="#000" color="#000" stroke-width="0.171" font-family="'Liberation Sans', Arial, sans-serif">sMICA</text>
<path d="M553.50,581.80 L553.50,577.80 L615.30,577.80 L615.30,581.80" fill="none" stroke="#222" stroke-width="1.1"/>
<text x="584.40" y="576.50" font-size="8.6" text-anchor="middle" fill="#222" color="#222" stroke-width="0.163" font-family="'Liberation Sans', Arial, sans-serif">ns</text>
<path d="M536.50,592.60 L536.50,588.60 L598.00,588.60 L598.00,592.60" fill="none" stroke="#222" stroke-width="1.1"/>
<text x="567.25" y="587.30" font-size="8.6" text-anchor="middle" fill="#222" color="#222" stroke-width="0.163" font-family="'Liberation Sans', Arial, sans-serif">ns</text>
<path d="M518.60,601.60 L518.60,597.60 L580.40,597.60 L580.40,601.60" fill="none" stroke="#222" stroke-width="1.1"/>
<text x="549.50" y="598.08" font-size="8.6" text-anchor="middle" fill="#222" color="#222" stroke-width="0.163" font-family="'Liberation Sans', Arial, sans-serif">****</text>
<path d="M580.40,609.40 L580.40,605.40 L615.30,605.40 L615.30,609.40" fill="none" stroke="#222" stroke-width="1.1"/>
<text x="597.85" y="605.88" font-size="8.6" text-anchor="middle" fill="#222" color="#222" stroke-width="0.163" font-family="'Liberation Sans', Arial, sans-serif">**</text>
<path d="M580.40,616.40 L580.40,612.40 L598.00,612.40 L598.00,616.40" fill="none" stroke="#222" stroke-width="1.1"/>
<text x="589.20" y="612.88" font-size="8.6" text-anchor="middle" fill="#222" color="#222" stroke-width="0.163" font-family="'Liberation Sans', Arial, sans-serif">**</text>
<text x="471.70" y="627.30" font-size="9.5" font-weight="bold" text-anchor="middle" fill="#000" color="#000" stroke-width="0.180" font-family="'Liberation Sans', Arial, sans-serif" transform="rotate(-90 471.70 627.30)">CD107a (MFI)</text>
<circle cx="633.00" cy="577.30" r="2.60" fill="#C0A34B"/>
<text x="646.70" y="580.54" font-size="9.0" text-anchor="start" fill="#000" color="#000" stroke-width="0.171" font-family="'Liberation Sans', Arial, sans-serif">shcontrol</text>
<path d="M633.00,589.94 L635.73,595.09 L630.27,595.09 Z" fill="#8890C0"/>
<text x="646.70" y="596.04" font-size="9.0" text-anchor="start" fill="#000" color="#000" stroke-width="0.171" font-family="'Liberation Sans', Arial, sans-serif">sh1</text>
<rect x="630.40" y="605.80" width="5.20" height="5.20" fill="#B0583E"/>
<text x="646.70" y="611.64" font-size="9.0" text-anchor="start" fill="#000" color="#000" stroke-width="0.171" font-family="'Liberation Sans', Arial, sans-serif">sh2</text>
<defs>
<filter id="bm" x="-20%" y="-20%" width="140%" height="140%"><feGaussianBlur stdDeviation="0.45"/></filter>
<filter id="mtex" x="0" y="0" width="100%" height="100%"><feTurbulence type="fractalNoise" baseFrequency="0.38" numOctaves="2" seed="7" result="n"/><feColorMatrix in="n" type="matrix" values="0 0 0 0 0  0 0 0 0 0  0 0 0 0 0  -1.6 0 0 0 0.95" result="sp"/><feComposite in="sp" in2="SourceAlpha" operator="in"/></filter>
<filter id="bf" x="-60%" y="-60%" width="220%" height="220%"><feGaussianBlur stdDeviation="0.55"/></filter>
<radialGradient id="mg" cx="0.5" cy="0.6" r="0.62"><stop offset="0" stop-color="#e4e4e4"/><stop offset="0.55" stop-color="#d2d2d2"/><stop offset="0.85" stop-color="#b2b2b2"/><stop offset="1" stop-color="#8a8a8a"/></radialGradient>
<linearGradient id="cbar" x1="0" y1="0" x2="0" y2="1">
<stop offset="0" stop-color="#e0202a"/><stop offset="0.18" stop-color="#f07a20"/><stop offset="0.33" stop-color="#e8d820"/><stop offset="0.5" stop-color="#48c040"/><stop offset="0.68" stop-color="#30b8d8"/><stop offset="0.85" stop-color="#2a5ad8"/><stop offset="1" stop-color="#3a3ab8"/></linearGradient>
</defs>
<rect x="42.10" y="883.50" width="67.70" height="38.00" fill="#1e1e1e"/>
<g clip-path="url(#fc00)">
<path d="M59.20,918.02 L63.50,921.42 M48.20,918.02 L43.90,921.42 M58.20,895.34 L60.70,897.99 M49.20,895.34 L46.70,897.99" fill="none" stroke="#b0b0b0" stroke-width="1.1" filter="url(#bm)"/>
<path d="M55.50,884.00 L56.86,885.13 L58.00,887.02 L58.74,888.91 L59.50,890.43 L59.55,891.94 L58.99,893.83 L59.42,896.10 L59.80,899.88 L60.14,904.79 L60.48,909.70 L60.74,914.24 L60.54,917.26 L59.38,919.15 L57.14,920.67 L54.60,921.80 L51.60,921.80 L49.14,920.67 L46.98,919.15 L45.94,917.26 L45.94,914.24 L46.48,909.70 L47.14,904.79 L47.80,899.88 L48.42,896.10 L48.99,893.83 L48.55,891.94 L48.70,890.43 L49.54,888.91 L50.40,887.02 L51.66,885.13 L53.10,884.00 Z" fill="url(#mg)" filter="url(#bm)"/>
<path d="M81.20,918.02 L85.50,921.42 M70.20,918.02 L65.90,921.42 M80.20,895.34 L82.70,897.99 M71.20,895.34 L68.70,897.99" fill="none" stroke="#b0b0b0" stroke-width="1.1" filter="url(#bm)"/>
<path d="M76.90,884.00 L78.30,885.13 L79.50,887.02 L80.30,888.91 L81.10,890.43 L81.20,891.94 L80.70,893.83 L81.20,896.10 L81.70,899.88 L82.20,904.79 L82.70,909.70 L83.10,914.24 L83.00,917.26 L81.90,919.15 L79.70,920.67 L77.20,921.80 L74.20,921.80 L71.70,920.67 L69.50,919.15 L68.40,917.26 L68.30,914.24 L68.70,909.70 L69.20,904.79 L69.70,899.88 L70.20,896.10 L70.70,893.83 L70.20,891.94 L70.30,890.43 L71.10,888.91 L71.90,887.02 L73.10,885.13 L74.50,884.00 Z" fill="url(#mg)" filter="url(#bm)"/>
<path d="M104.50,918.02 L108.80,921.42 M93.50,918.02 L89.20,921.42 M103.50,895.34 L106.00,897.99 M94.50,895.34 L92.00,897.99" fill="none" stroke="#b0b0b0" stroke-width="1.1" filter="url(#bm)"/>
<path d="M99.60,884.00 L101.04,885.13 L102.30,887.02 L103.16,888.91 L104.00,890.43 L104.15,891.94 L103.71,893.83 L104.28,896.10 L104.90,899.88 L105.56,904.79 L106.22,909.70 L106.76,914.24 L106.76,917.26 L105.72,919.15 L103.56,920.67 L101.10,921.80 L98.10,921.80 L95.56,920.67 L93.32,919.15 L92.16,917.26 L91.96,914.24 L92.22,909.70 L92.56,904.79 L92.90,899.88 L93.28,896.10 L93.71,893.83 L93.15,891.94 L93.20,890.43 L93.96,888.91 L94.70,887.02 L95.84,885.13 L97.20,884.00 Z" fill="url(#mg)" filter="url(#bm)"/>
<g filter="url(#mtex)" opacity="0.28">
<path d="M55.50,884.00 L56.86,885.13 L58.00,887.02 L58.74,888.91 L59.50,890.43 L59.55,891.94 L58.99,893.83 L59.42,896.10 L59.80,899.88 L60.14,904.79 L60.48,909.70 L60.74,914.24 L60.54,917.26 L59.38,919.15 L57.14,920.67 L54.60,921.80 L51.60,921.80 L49.14,920.67 L46.98,919.15 L45.94,917.26 L45.94,914.24 L46.48,909.70 L47.14,904.79 L47.80,899.88 L48.42,896.10 L48.99,893.83 L48.55,891.94 L48.70,890.43 L49.54,888.91 L50.40,887.02 L51.66,885.13 L53.10,884.00 Z" fill="#000"/>
<path d="M76.90,884.00 L78.30,885.13 L79.50,887.02 L80.30,888.91 L81.10,890.43 L81.20,891.94 L80.70,893.83 L81.20,896.10 L81.70,899.88 L82.20,904.79 L82.70,909.70 L83.10,914.24 L83.00,917.26 L81.90,919.15 L79.70,920.67 L77.20,921.80 L74.20,921.80 L71.70,920.67 L69.50,919.15 L68.40,917.26 L68.30,914.24 L68.70,909.70 L69.20,904.79 L69.70,899.88 L70.20,896.10 L70.70,893.83 L70.20,891.94 L70.30,890.43 L71.10,888.91 L71.90,887.02 L73.10,885.13 L74.50,884.00 Z" fill="#000"/>
<path d="M99.60,884.00 L101.04,885.13 L102.30,887.02 L103.16,888.91 L104.00,890.43 L104.15,891.94 L103.71,893.83 L104.28,896.10 L104.90,899.88 L105.56,904.79 L106.22,909.70 L106.76,914.24 L106.76,917.26 L105.72,919.15 L103.56,920.67 L101.10,921.80 L98.10,921.80 L95.56,920.67 L93.32,919.15 L92.16,917.26 L91.96,914.24 L92.22,909.70 L92.56,904.79 L92.90,899.88 L93.28,896.10 L93.71,893.83 L93.15,891.94 L93.20,890.43 L93.96,888.91 L94.70,887.02 L95.84,885.13 L97.20,884.00 Z" fill="#000"/>
</g>
</g>
<clipPath id="fc00"><rect x="42.10" y="883.50" width="67.70" height="38.00"/></clipPath>
<rect x="111.10" y="883.50" width="67.50" height="38.00" fill="#1e1e1e"/>
<g clip-path="url(#fc01)">
<path d="M129.40,918.02 L133.70,921.42 M118.40,918.02 L114.10,921.42 M128.40,895.34 L130.90,897.99 M119.40,895.34 L116.90,897.99" fill="none" stroke="#b0b0b0" stroke-width="1.1" filter="url(#bm)"/>
<path d="M125.10,884.00 L126.50,885.13 L127.70,887.02 L128.50,888.91 L129.30,890.43 L129.40,891.94 L128.90,893.83 L129.40,896.10 L129.90,899.88 L130.40,904.79 L130.90,909.70 L131.30,914.24 L131.20,917.26 L130.10,919.15 L127.90,920.67 L125.40,921.80 L122.40,921.80 L119.90,920.67 L117.70,919.15 L116.60,917.26 L116.50,914.24 L116.90,909.70 L117.40,904.79 L117.90,899.88 L118.40,896.10 L118.90,893.83 L118.40,891.94 L118.50,890.43 L119.30,888.91 L120.10,887.02 L121.30,885.13 L122.70,884.00 Z" fill="url(#mg)" filter="url(#bm)"/>
<path d="M149.60,918.02 L153.90,921.42 M138.60,918.02 L134.30,921.42 M148.60,895.34 L151.10,897.99 M139.60,895.34 L137.10,897.99" fill="none" stroke="#b0b0b0" stroke-width="1.1" filter="url(#bm)"/>
<path d="M144.70,884.00 L146.14,885.13 L147.40,887.02 L148.26,888.91 L149.10,890.43 L149.25,891.94 L148.81,893.83 L149.38,896.10 L150.00,899.88 L150.66,904.79 L151.32,909.70 L151.86,914.24 L151.86,917.26 L150.82,919.15 L148.66,920.67 L146.20,921.80 L143.20,921.80 L140.66,920.67 L138.42,919.15 L137.26,917.26 L137.06,914.24 L137.32,909.70 L137.66,904.79 L138.00,899.88 L138.38,896.10 L138.81,893.83 L138.25,891.94 L138.30,890.43 L139.06,888.91 L139.80,887.02 L140.94,885.13 L142.30,884.00 Z" fill="url(#mg)" filter="url(#bm)"/>
<path d="M172.90,918.02 L177.20,921.42 M161.90,918.02 L157.60,921.42 M171.90,895.34 L174.40,897.99 M162.90,895.34 L160.40,897.99" fill="none" stroke="#b0b0b0" stroke-width="1.1" filter="url(#bm)"/>
<path d="M169.20,884.00 L170.56,885.13 L171.70,887.02 L172.44,888.91 L173.20,890.43 L173.25,891.94 L172.69,893.83 L173.12,896.10 L173.50,899.88 L173.84,904.79 L174.18,909.70 L174.44,914.24 L174.24,917.26 L173.08,919.15 L170.84,920.67 L168.30,921.80 L165.30,921.80 L162.84,920.67 L160.68,919.15 L159.64,917.26 L159.64,914.24 L160.18,909.70 L160.84,904.79 L161.50,899.88 L162.12,896.10 L162.69,893.83 L162.25,891.94 L162.40,890.43 L163.24,888.91 L164.10,887.02 L165.36,885.13 L166.80,884.00 Z" fill="url(#mg)" filter="url(#bm)"/>
<g filter="url(#mtex)" opacity="0.28">
<path d="M125.10,884.00 L126.50,885.13 L127.70,887.02 L128.50,888.91 L129.30,890.43 L129.40,891.94 L128.90,893.83 L129.40,896.10 L129.90,899.88 L130.40,904.79 L130.90,909.70 L131.30,914.24 L131.20,917.26 L130.10,919.15 L127.90,920.67 L125.40,921.80 L122.40,921.80 L119.90,920.67 L117.70,919.15 L116.60,917.26 L116.50,914.24 L116.90,909.70 L117.40,904.79 L117.90,899.88 L118.40,896.10 L118.90,893.83 L118.40,891.94 L118.50,890.43 L119.30,888.91 L120.10,887.02 L121.30,885.13 L122.70,884.00 Z" fill="#000"/>
<path d="M144.70,884.00 L146.14,885.13 L147.40,887.02 L148.26,888.91 L149.10,890.43 L149.25,891.94 L148.81,893.83 L149.38,896.10 L150.00,899.88 L150.66,904.79 L151.32,909.70 L151.86,914.24 L151.86,917.26 L150.82,919.15 L148.66,920.67 L146.20,921.80 L143.20,921.80 L140.66,920.67 L138.42,919.15 L137.26,917.26 L137.06,914.24 L137.32,909.70 L137.66,904.79 L138.00,899.88 L138.38,896.10 L138.81,893.83 L138.25,891.94 L138.30,890.43 L139.06,888.91 L139.80,887.02 L140.94,885.13 L142.30,884.00 Z" fill="#000"/>
<path d="M169.20,884.00 L170.56,885.13 L171.70,887.02 L172.44,888.91 L173.20,890.43 L173.25,891.94 L172.69,893.83 L173.12,896.10 L173.50,899.88 L173.84,904.79 L174.18,909.70 L174.44,914.24 L174.24,917.26 L173.08,919.15 L170.84,920.67 L168.30,921.80 L165.30,921.80 L162.84,920.67 L160.68,919.15 L159.64,917.26 L159.64,914.24 L160.18,909.70 L160.84,904.79 L161.50,899.88 L162.12,896.10 L162.69,893.83 L162.25,891.94 L162.40,890.43 L163.24,888.91 L164.10,887.02 L165.36,885.13 L166.80,884.00 Z" fill="#000"/>
</g>
</g>
<clipPath id="fc01"><rect x="111.10" y="883.50" width="67.50" height="38.00"/></clipPath>
<rect x="180.60" y="883.50" width="67.40" height="38.00" fill="#1e1e1e"/>
<g clip-path="url(#fc02)">
<path d="M198.30,918.02 L202.60,921.42 M187.30,918.02 L183.00,921.42 M197.30,895.34 L199.80,897.99 M188.30,895.34 L185.80,897.99" fill="none" stroke="#b0b0b0" stroke-width="1.1" filter="url(#bm)"/>
<path d="M193.40,884.00 L194.84,885.13 L196.10,887.02 L196.96,888.91 L197.80,890.43 L197.95,891.94 L197.51,893.83 L198.08,896.10 L198.70,899.88 L199.36,904.79 L200.02,909.70 L200.56,914.24 L200.56,917.26 L199.52,919.15 L197.36,920.67 L194.90,921.80 L191.90,921.80 L189.36,920.67 L187.12,919.15 L185.96,917.26 L185.76,914.24 L186.02,909.70 L186.36,904.79 L186.70,899.88 L187.08,896.10 L187.51,893.83 L186.95,891.94 L187.00,890.43 L187.76,888.91 L188.50,887.02 L189.64,885.13 L191.00,884.00 Z" fill="url(#mg)" filter="url(#bm)"/>
<path d="M220.30,918.02 L224.60,921.42 M209.30,918.02 L205.00,921.42 M219.30,895.34 L221.80,897.99 M210.30,895.34 L207.80,897.99" fill="none" stroke="#b0b0b0" stroke-width="1.1" filter="url(#bm)"/>
<path d="M216.60,884.00 L217.96,885.13 L219.10,887.02 L219.84,888.91 L220.60,890.43 L220.65,891.94 L220.09,893.83 L220.52,896.10 L220.90,899.88 L221.24,904.79 L221.58,909.70 L221.84,914.24 L221.64,917.26 L220.48,919.15 L218.24,920.67 L215.70,921.80 L212.70,921.80 L210.24,920.67 L208.08,919.15 L207.04,917.26 L207.04,914.24 L207.58,909.70 L208.24,904.79 L208.90,899.88 L209.52,896.10 L210.09,893.83 L209.65,891.94 L209.80,890.43 L210.64,888.91 L211.50,887.02 L212.76,885.13 L214.20,884.00 Z" fill="url(#mg)" filter="url(#bm)"/>
<path d="M241.80,918.02 L246.10,921.42 M230.80,918.02 L226.50,921.42 M240.80,895.34 L243.30,897.99 M231.80,895.34 L229.30,897.99" fill="none" stroke="#b0b0b0" stroke-width="1.1" filter="url(#bm)"/>
<path d="M237.50,884.00 L238.90,885.13 L240.10,887.02 L240.90,888.91 L241.70,890.43 L241.80,891.94 L241.30,893.83 L241.80,896.10 L242.30,899.88 L242.80,904.79 L243.30,909.70 L243.70,914.24 L243.60,917.26 L242.50,919.15 L240.30,920.67 L237.80,921.80 L234.80,921.80 L232.30,920.67 L230.10,919.15 L229.00,917.26 L228.90,914.24 L229.30,909.70 L229.80,904.79 L230.30,899.88 L230.80,896.10 L231.30,893.83 L230.80,891.94 L230.90,890.43 L231.70,888.91 L232.50,887.02 L233.70,885.13 L235.10,884.00 Z" fill="url(#mg)" filter="url(#bm)"/>
<g filter="url(#mtex)" opacity="0.28">
<path d="M193.40,884.00 L194.84,885.13 L196.10,887.02 L196.96,888.91 L197.80,890.43 L197.95,891.94 L197.51,893.83 L198.08,896.10 L198.70,899.88 L199.36,904.79 L200.02,909.70 L200.56,914.24 L200.56,917.26 L199.52,919.15 L197.36,920.67 L194.90,921.80 L191.90,921.80 L189.36,920.67 L187.12,919.15 L185.96,917.26 L185.76,914.24 L186.02,909.70 L186.36,904.79 L186.70,899.88 L187.08,896.10 L187.51,893.83 L186.95,891.94 L187.00,890.43 L187.76,888.91 L188.50,887.02 L189.64,885.13 L191.00,884.00 Z" fill="#000"/>
<path d="M216.60,884.00 L217.96,885.13 L219.10,887.02 L219.84,888.91 L220.60,890.43 L220.65,891.94 L220.09,893.83 L220.52,896.10 L220.90,899.88 L221.24,904.79 L221.58,909.70 L221.84,914.24 L221.64,917.26 L220.48,919.15 L218.24,920.67 L215.70,921.80 L212.70,921.80 L210.24,920.67 L208.08,919.15 L207.04,917.26 L207.04,914.24 L207.58,909.70 L208.24,904.79 L208.90,899.88 L209.52,896.10 L210.09,893.83 L209.65,891.94 L209.80,890.43 L210.64,888.91 L211.50,887.02 L212.76,885.13 L214.20,884.00 Z" fill="#000"/>
<path d="M237.50,884.00 L238.90,885.13 L240.10,887.02 L240.90,888.91 L241.70,890.43 L241.80,891.94 L241.30,893.83 L241.80,896.10 L242.30,899.88 L242.80,904.79 L243.30,909.70 L243.70,914.24 L243.60,917.26 L242.50,919.15 L240.30,920.67 L237.80,921.80 L234.80,921.80 L232.30,920.67 L230.10,919.15 L229.00,917.26 L228.90,914.24 L229.30,909.70 L229.80,904.79 L230.30,899.88 L230.80,896.10 L231.30,893.83 L230.80,891.94 L230.90,890.43 L231.70,888.91 L232.50,887.02 L233.70,885.13 L235.10,884.00 Z" fill="#000"/>
</g>
</g>
<clipPath id="fc02"><rect x="180.60" y="883.50" width="67.40" height="38.00"/></clipPath>
<rect x="249.60" y="883.50" width="66.70" height="38.00" fill="#1e1e1e"/>
<g clip-path="url(#fc03)">
<path d="M266.70,918.02 L271.00,921.42 M255.70,918.02 L251.40,921.42 M265.70,895.34 L268.20,897.99 M256.70,895.34 L254.20,897.99" fill="none" stroke="#b0b0b0" stroke-width="1.1" filter="url(#bm)"/>
<path d="M263.00,884.00 L264.36,885.13 L265.50,887.02 L266.24,888.91 L267.00,890.43 L267.05,891.94 L266.49,893.83 L266.92,896.10 L267.30,899.88 L267.64,904.79 L267.98,909.70 L268.24,914.24 L268.04,917.26 L266.88,919.15 L264.64,920.67 L262.10,921.80 L259.10,921.80 L256.64,920.67 L254.48,919.15 L253.44,917.26 L253.44,914.24 L253.98,909.70 L254.64,904.79 L255.30,899.88 L255.92,896.10 L256.49,893.83 L256.05,891.94 L256.20,890.43 L257.04,888.91 L257.90,887.02 L259.16,885.13 L260.60,884.00 Z" fill="url(#mg)" filter="url(#bm)"/>
<path d="M288.70,918.02 L293.00,921.42 M277.70,918.02 L273.40,921.42 M287.70,895.34 L290.20,897.99 M278.70,895.34 L276.20,897.99" fill="none" stroke="#b0b0b0" stroke-width="1.1" filter="url(#bm)"/>
<path d="M284.40,884.00 L285.80,885.13 L287.00,887.02 L287.80,888.91 L288.60,890.43 L288.70,891.94 L288.20,893.83 L288.70,896.10 L289.20,899.88 L289.70,904.79 L290.20,909.70 L290.60,914.24 L290.50,917.26 L289.40,919.15 L287.20,920.67 L284.70,921.80 L281.70,921.80 L279.20,920.67 L277.00,919.15 L275.90,917.26 L275.80,914.24 L276.20,909.70 L276.70,904.79 L277.20,899.88 L277.70,896.10 L278.20,893.83 L277.70,891.94 L277.80,890.43 L278.60,888.91 L279.40,887.02 L280.60,885.13 L282.00,884.00 Z" fill="url(#mg)" filter="url(#bm)"/>
<path d="M312.00,918.02 L316.30,921.42 M301.00,918.02 L296.70,921.42 M311.00,895.34 L313.50,897.99 M302.00,895.34 L299.50,897.99" fill="none" stroke="#b0b0b0" stroke-width="1.1" filter="url(#bm)"/>
<path d="M307.10,884.00 L308.54,885.13 L309.80,887.02 L310.66,888.91 L311.50,890.43 L311.65,891.94 L311.21,893.83 L311.78,896.10 L312.40,899.88 L313.06,904.79 L313.72,909.70 L314.26,914.24 L314.26,917.26 L313.22,919.15 L311.06,920.67 L308.60,921.80 L305.60,921.80 L303.06,920.67 L300.82,919.15 L299.66,917.26 L299.46,914.24 L299.72,909.70 L300.06,904.79 L300.40,899.88 L300.78,896.10 L301.21,893.83 L300.65,891.94 L300.70,890.43 L301.46,888.91 L302.20,887.02 L303.34,885.13 L304.70,884.00 Z" fill="url(#mg)" filter="url(#bm)"/>
<g filter="url(#mtex)" opacity="0.28">
<path d="M263.00,884.00 L264.36,885.13 L265.50,887.02 L266.24,888.91 L267.00,890.43 L267.05,891.94 L266.49,893.83 L266.92,896.10 L267.30,899.88 L267.64,904.79 L267.98,909.70 L268.24,914.24 L268.04,917.26 L266.88,919.15 L264.64,920.67 L262.10,921.80 L259.10,921.80 L256.64,920.67 L254.48,919.15 L253.44,917.26 L253.44,914.24 L253.98,909.70 L254.64,904.79 L255.30,899.88 L255.92,896.10 L256.49,893.83 L256.05,891.94 L256.20,890.43 L257.04,888.91 L257.90,887.02 L259.16,885.13 L260.60,884.00 Z" fill="#000"/>
<path d="M284.40,884.00 L285.80,885.13 L287.00,887.02 L287.80,888.91 L288.60,890.43 L288.70,891.94 L288.20,893.83 L288.70,896.10 L289.20,899.88 L289.70,904.79 L290.20,909.70 L290.60,914.24 L290.50,917.26 L289.40,919.15 L287.20,920.67 L284.70,921.80 L281.70,921.80 L279.20,920.67 L277.00,919.15 L275.90,917.26 L275.80,914.24 L276.20,909.70 L276.70,904.79 L277.20,899.88 L277.70,896.10 L278.20,893.83 L277.70,891.94 L277.80,890.43 L278.60,888.91 L279.40,887.02 L280.60,885.13 L282.00,884.00 Z" fill="#000"/>
<path d="M307.10,884.00 L308.54,885.13 L309.80,887.02 L310.66,888.91 L311.50,890.43 L311.65,891.94 L311.21,893.83 L311.78,896.10 L312.40,899.88 L313.06,904.79 L313.72,909.70 L314.26,914.24 L314.26,917.26 L313.22,919.15 L311.06,920.67 L308.60,921.80 L305.60,921.80 L303.06,920.67 L300.82,919.15 L299.66,917.26 L299.46,914.24 L299.72,909.70 L300.06,904.79 L300.40,899.88 L300.78,896.10 L301.21,893.83 L300.65,891.94 L300.70,890.43 L301.46,888.91 L302.20,887.02 L303.34,885.13 L304.70,884.00 Z" fill="#000"/>
</g>
</g>
<clipPath id="fc03"><rect x="249.60" y="883.50" width="66.70" height="38.00"/></clipPath>
<rect x="42.10" y="926.70" width="67.70" height="38.10" fill="#1e1e1e"/>
<g clip-path="url(#fc10)">
<path d="M59.20,961.31 L63.50,964.72 M48.20,961.31 L43.90,964.72 M58.20,938.57 L60.70,941.22 M49.20,938.57 L46.70,941.22" fill="none" stroke="#b0b0b0" stroke-width="1.1" filter="url(#bm)"/>
<path d="M54.90,927.20 L56.30,928.34 L57.50,930.23 L58.30,932.13 L59.10,933.64 L59.20,935.16 L58.70,937.05 L59.20,939.33 L59.70,943.12 L60.20,948.04 L60.70,952.97 L61.10,957.52 L61.00,960.55 L59.90,962.45 L57.70,963.96 L55.20,965.10 L52.20,965.10 L49.70,963.96 L47.50,962.45 L46.40,960.55 L46.30,957.52 L46.70,952.97 L47.20,948.04 L47.70,943.12 L48.20,939.33 L48.70,937.05 L48.20,935.16 L48.30,933.64 L49.10,932.13 L49.90,930.23 L51.10,928.34 L52.50,927.20 Z" fill="url(#mg)" filter="url(#bm)"/>
<path d="M81.20,961.31 L85.50,964.72 M70.20,961.31 L65.90,964.72 M80.20,938.57 L82.70,941.22 M71.20,938.57 L68.70,941.22" fill="none" stroke="#b0b0b0" stroke-width="1.1" filter="url(#bm)"/>
<path d="M76.30,927.20 L77.74,928.34 L79.00,930.23 L79.86,932.13 L80.70,933.64 L80.85,935.16 L80.41,937.05 L80.98,939.33 L81.60,943.12 L82.26,948.04 L82.92,952.97 L83.46,957.52 L83.46,960.55 L82.42,962.45 L80.26,963.96 L77.80,965.10 L74.80,965.10 L72.26,963.96 L70.02,962.45 L68.86,960.55 L68.66,957.52 L68.92,952.97 L69.26,948.04 L69.60,943.12 L69.98,939.33 L70.41,937.05 L69.85,935.16 L69.90,933.64 L70.66,932.13 L71.40,930.23 L72.54,928.34 L73.90,927.20 Z" fill="url(#mg)" filter="url(#bm)"/>
<path d="M104.50,961.31 L108.80,964.72 M93.50,961.31 L89.20,964.72 M103.50,938.57 L106.00,941.22 M94.50,938.57 L92.00,941.22" fill="none" stroke="#b0b0b0" stroke-width="1.1" filter="url(#bm)"/>
<path d="M100.80,927.20 L102.16,928.34 L103.30,930.23 L104.04,932.13 L104.80,933.64 L104.85,935.16 L104.29,937.05 L104.72,939.33 L105.10,943.12 L105.44,948.04 L105.78,952.97 L106.04,957.52 L105.84,960.55 L104.68,962.45 L102.44,963.96 L99.90,965.10 L96.90,965.10 L94.44,963.96 L92.28,962.45 L91.24,960.55 L91.24,957.52 L91.78,952.97 L92.44,948.04 L93.10,943.12 L93.72,939.33 L94.29,937.05 L93.85,935.16 L94.00,933.64 L94.84,932.13 L95.70,930.23 L96.96,928.34 L98.40,927.20 Z" fill="url(#mg)" filter="url(#bm)"/>
<g filter="url(#mtex)" opacity="0.28">
<path d="M54.90,927.20 L56.30,928.34 L57.50,930.23 L58.30,932.13 L59.10,933.64 L59.20,935.16 L58.70,937.05 L59.20,939.33 L59.70,943.12 L60.20,948.04 L60.70,952.97 L61.10,957.52 L61.00,960.55 L59.90,962.45 L57.70,963.96 L55.20,965.10 L52.20,965.10 L49.70,963.96 L47.50,962.45 L46.40,960.55 L46.30,957.52 L46.70,952.97 L47.20,948.04 L47.70,943.12 L48.20,939.33 L48.70,937.05 L48.20,935.16 L48.30,933.64 L49.10,932.13 L49.90,930.23 L51.10,928.34 L52.50,927.20 Z" fill="#000"/>
<path d="M76.30,927.20 L77.74,928.34 L79.00,930.23 L79.86,932.13 L80.70,933.64 L80.85,935.16 L80.41,937.05 L80.98,939.33 L81.60,943.12 L82.26,948.04 L82.92,952.97 L83.46,957.52 L83.46,960.55 L82.42,962.45 L80.26,963.96 L77.80,965.10 L74.80,965.10 L72.26,963.96 L70.02,962.45 L68.86,960.55 L68.66,957.52 L68.92,952.97 L69.26,948.04 L69.60,943.12 L69.98,939.33 L70.41,937.05 L69.85,935.16 L69.90,933.64 L70.66,932.13 L71.40,930.23 L72.54,928.34 L73.90,927.20 Z" fill="#000"/>
<path d="M100.80,927.20 L102.16,928.34 L103.30,930.23 L104.04,932.13 L104.80,933.64 L104.85,935.16 L104.29,937.05 L104.72,939.33 L105.10,943.12 L105.44,948.04 L105.78,952.97 L106.04,957.52 L105.84,960.55 L104.68,962.45 L102.44,963.96 L99.90,965.10 L96.90,965.10 L94.44,963.96 L92.28,962.45 L91.24,960.55 L91.24,957.52 L91.78,952.97 L92.44,948.04 L93.10,943.12 L93.72,939.33 L94.29,937.05 L93.85,935.16 L94.00,933.64 L94.84,932.13 L95.70,930.23 L96.96,928.34 L98.40,927.20 Z" fill="#000"/>
</g>
</g>
<clipPath id="fc10"><rect x="42.10" y="926.70" width="67.70" height="38.10"/></clipPath>
<rect x="111.10" y="926.70" width="67.50" height="38.10" fill="#1e1e1e"/>
<g clip-path="url(#fc11)">
<path d="M129.40,961.31 L133.70,964.72 M118.40,961.31 L114.10,964.72 M128.40,938.57 L130.90,941.22 M119.40,938.57 L116.90,941.22" fill="none" stroke="#b0b0b0" stroke-width="1.1" filter="url(#bm)"/>
<path d="M124.50,927.20 L125.94,928.34 L127.20,930.23 L128.06,932.13 L128.90,933.64 L129.05,935.16 L128.61,937.05 L129.18,939.33 L129.80,943.12 L130.46,948.04 L131.12,952.97 L131.66,957.52 L131.66,960.55 L130.62,962.45 L128.46,963.96 L126.00,965.10 L123.00,965.10 L120.46,963.96 L118.22,962.45 L117.06,960.55 L116.86,957.52 L117.12,952.97 L117.46,948.04 L117.80,943.12 L118.18,939.33 L118.61,937.05 L118.05,935.16 L118.10,933.64 L118.86,932.13 L119.60,930.23 L120.74,928.34 L122.10,927.20 Z" fill="url(#mg)" filter="url(#bm)"/>
<path d="M149.60,961.31 L153.90,964.72 M138.60,961.31 L134.30,964.72 M148.60,938.57 L151.10,941.22 M139.60,938.57 L137.10,941.22" fill="none" stroke="#b0b0b0" stroke-width="1.1" filter="url(#bm)"/>
<path d="M145.90,927.20 L147.26,928.34 L148.40,930.23 L149.14,932.13 L149.90,933.64 L149.95,935.16 L149.39,937.05 L149.82,939.33 L150.20,943.12 L150.54,948.04 L150.88,952.97 L151.14,957.52 L150.94,960.55 L149.78,962.45 L147.54,963.96 L145.00,965.10 L142.00,965.10 L139.54,963.96 L137.38,962.45 L136.34,960.55 L136.34,957.52 L136.88,952.97 L137.54,948.04 L138.20,943.12 L138.82,939.33 L139.39,937.05 L138.95,935.16 L139.10,933.64 L139.94,932.13 L140.80,930.23 L142.06,928.34 L143.50,927.20 Z" fill="url(#mg)" filter="url(#bm)"/>
<path d="M172.90,961.31 L177.20,964.72 M161.90,961.31 L157.60,964.72 M171.90,938.57 L174.40,941.22 M162.90,938.57 L160.40,941.22" fill="none" stroke="#b0b0b0" stroke-width="1.1" filter="url(#bm)"/>
<path d="M168.60,927.20 L170.00,928.34 L171.20,930.23 L172.00,932.13 L172.80,933.64 L172.90,935.16 L172.40,937.05 L172.90,939.33 L173.40,943.12 L173.90,948.04 L174.40,952.97 L174.80,957.52 L174.70,960.55 L173.60,962.45 L171.40,963.96 L168.90,965.10 L165.90,965.10 L163.40,963.96 L161.20,962.45 L160.10,960.55 L160.00,957.52 L160.40,952.97 L160.90,948.04 L161.40,943.12 L161.90,939.33 L162.40,937.05 L161.90,935.16 L162.00,933.64 L162.80,932.13 L163.60,930.23 L164.80,928.34 L166.20,927.20 Z" fill="url(#mg)" filter="url(#bm)"/>
<g filter="url(#mtex)" opacity="0.28">
<path d="M124.50,927.20 L125.94,928.34 L127.20,930.23 L128.06,932.13 L128.90,933.64 L129.05,935.16 L128.61,937.05 L129.18,939.33 L129.80,943.12 L130.46,948.04 L131.12,952.97 L131.66,957.52 L131.66,960.55 L130.62,962.45 L128.46,963.96 L126.00,965.10 L123.00,965.10 L120.46,963.96 L118.22,962.45 L117.06,960.55 L116.86,957.52 L117.12,952.97 L117.46,948.04 L117.80,943.12 L118.18,939.33 L118.61,937.05 L118.05,935.16 L118.10,933.64 L118.86,932.13 L119.60,930.23 L120.74,928.34 L122.10,927.20 Z" fill="#000"/>
<path d="M145.90,927.20 L147.26,928.34 L148.40,930.23 L149.14,932.13 L149.90,933.64 L149.95,935.16 L149.39,937.05 L149.82,939.33 L150.20,943.12 L150.54,948.04 L150.88,952.97 L151.14,957.52 L150.94,960.55 L149.78,962.45 L147.54,963.96 L145.00,965.10 L142.00,965.10 L139.54,963.96 L137.38,962.45 L136.34,960.55 L136.34,957.52 L136.88,952.97 L137.54,948.04 L138.20,943.12 L138.82,939.33 L139.39,937.05 L138.95,935.16 L139.10,933.64 L139.94,932.13 L140.80,930.23 L142.06,928.34 L143.50,927.20 Z" fill="#000"/>
<path d="M168.60,927.20 L170.00,928.34 L171.20,930.23 L172.00,932.13 L172.80,933.64 L172.90,935.16 L172.40,937.05 L172.90,939.33 L173.40,943.12 L173.90,948.04 L174.40,952.97 L174.80,957.52 L174.70,960.55 L173.60,962.45 L171.40,963.96 L168.90,965.10 L165.90,965.10 L163.40,963.96 L161.20,962.45 L160.10,960.55 L160.00,957.52 L160.40,952.97 L160.90,948.04 L161.40,943.12 L161.90,939.33 L162.40,937.05 L161.90,935.16 L162.00,933.64 L162.80,932.13 L163.60,930.23 L164.80,928.34 L166.20,927.20 Z" fill="#000"/>
</g>
</g>
<clipPath id="fc11"><rect x="111.10" y="926.70" width="67.50" height="38.10"/></clipPath>
<rect x="180.60" y="926.70" width="67.40" height="38.10" fill="#1e1e1e"/>
<g clip-path="url(#fc12)">
<path d="M198.30,961.31 L202.60,964.72 M187.30,961.31 L183.00,964.72 M197.30,938.57 L199.80,941.22 M188.30,938.57 L185.80,941.22" fill="none" stroke="#b0b0b0" stroke-width="1.1" filter="url(#bm)"/>
<path d="M194.60,927.20 L195.96,928.34 L197.10,930.23 L197.84,932.13 L198.60,933.64 L198.65,935.16 L198.09,937.05 L198.52,939.33 L198.90,943.12 L199.24,948.04 L199.58,952.97 L199.84,957.52 L199.64,960.55 L198.48,962.45 L196.24,963.96 L193.70,965.10 L190.70,965.10 L188.24,963.96 L186.08,962.45 L185.04,960.55 L185.04,957.52 L185.58,952.97 L186.24,948.04 L186.90,943.12 L187.52,939.33 L188.09,937.05 L187.65,935.16 L187.80,933.64 L188.64,932.13 L189.50,930.23 L190.76,928.34 L192.20,927.20 Z" fill="url(#mg)" filter="url(#bm)"/>
<path d="M220.30,961.31 L224.60,964.72 M209.30,961.31 L205.00,964.72 M219.30,938.57 L221.80,941.22 M210.30,938.57 L207.80,941.22" fill="none" stroke="#b0b0b0" stroke-width="1.1" filter="url(#bm)"/>
<path d="M216.00,927.20 L217.40,928.34 L218.60,930.23 L219.40,932.13 L220.20,933.64 L220.30,935.16 L219.80,937.05 L220.30,939.33 L220.80,943.12 L221.30,948.04 L221.80,952.97 L222.20,957.52 L222.10,960.55 L221.00,962.45 L218.80,963.96 L216.30,965.10 L213.30,965.10 L210.80,963.96 L208.60,962.45 L207.50,960.55 L207.40,957.52 L207.80,952.97 L208.30,948.04 L208.80,943.12 L209.30,939.33 L209.80,937.05 L209.30,935.16 L209.40,933.64 L210.20,932.13 L211.00,930.23 L212.20,928.34 L213.60,927.20 Z" fill="url(#mg)" filter="url(#bm)"/>
<path d="M241.80,961.31 L246.10,964.72 M230.80,961.31 L226.50,964.72 M240.80,938.57 L243.30,941.22 M231.80,938.57 L229.30,941.22" fill="none" stroke="#b0b0b0" stroke-width="1.1" filter="url(#bm)"/>
<path d="M236.90,927.20 L238.34,928.34 L239.60,930.23 L240.46,932.13 L241.30,933.64 L241.45,935.16 L241.01,937.05 L241.58,939.33 L242.20,943.12 L242.86,948.04 L243.52,952.97 L244.06,957.52 L244.06,960.55 L243.02,962.45 L240.86,963.96 L238.40,965.10 L235.40,965.10 L232.86,963.96 L230.62,962.45 L229.46,960.55 L229.26,957.52 L229.52,952.97 L229.86,948.04 L230.20,943.12 L230.58,939.33 L231.01,937.05 L230.45,935.16 L230.50,933.64 L231.26,932.13 L232.00,930.23 L233.14,928.34 L234.50,927.20 Z" fill="url(#mg)" filter="url(#bm)"/>
<g filter="url(#mtex)" opacity="0.28">
<path d="M194.60,927.20 L195.96,928.34 L197.10,930.23 L197.84,932.13 L198.60,933.64 L198.65,935.16 L198.09,937.05 L198.52,939.33 L198.90,943.12 L199.24,948.04 L199.58,952.97 L199.84,957.52 L199.64,960.55 L198.48,962.45 L196.24,963.96 L193.70,965.10 L190.70,965.10 L188.24,963.96 L186.08,962.45 L185.04,960.55 L185.04,957.52 L185.58,952.97 L186.24,948.04 L186.90,943.12 L187.52,939.33 L188.09,937.05 L187.65,935.16 L187.80,933.64 L188.64,932.13 L189.50,930.23 L190.76,928.34 L192.20,927.20 Z" fill="#000"/>
<path d="M216.00,927.20 L217.40,928.34 L218.60,930.23 L219.40,932.13 L220.20,933.64 L220.30,935.16 L219.80,937.05 L220.30,939.33 L220.80,943.12 L221.30,948.04 L221.80,952.97 L222.20,957.52 L222.10,960.55 L221.00,962.45 L218.80,963.96 L216.30,965.10 L213.30,965.10 L210.80,963.96 L208.60,962.45 L207.50,960.55 L207.40,957.52 L207.80,952.97 L208.30,948.04 L208.80,943.12 L209.30,939.33 L209.80,937.05 L209.30,935.16 L209.40,933.64 L210.20,932.13 L211.00,930.23 L212.20,928.34 L213.60,927.20 Z" fill="#000"/>
<path d="M236.90,927.20 L238.34,928.34 L239.60,930.23 L240.46,932.13 L241.30,933.64 L241.45,935.16 L241.01,937.05 L241.58,939.33 L242.20,943.12 L242.86,948.04 L243.52,952.97 L244.06,957.52 L244.06,960.55 L243.02,962.45 L240.86,963.96 L238.40,965.10 L235.40,965.10 L232.86,963.96 L230.62,962.45 L229.46,960.55 L229.26,957.52 L229.52,952.97 L229.86,948.04 L230.20,943.12 L230.58,939.33 L231.01,937.05 L230.45,935.16 L230.50,933.64 L231.26,932.13 L232.00,930.23 L233.14,928.34 L234.50,927.20 Z" fill="#000"/>
</g>
</g>
<clipPath id="fc12"><rect x="180.60" y="926.70" width="67.40" height="38.10"/></clipPath>
<rect x="249.60" y="926.70" width="66.70" height="38.10" fill="#1e1e1e"/>
<g clip-path="url(#fc13)">
<path d="M266.70,961.31 L271.00,964.72 M255.70,961.31 L251.40,964.72 M265.70,938.57 L268.20,941.22 M256.70,938.57 L254.20,941.22" fill="none" stroke="#b0b0b0" stroke-width="1.1" filter="url(#bm)"/>
<path d="M262.40,927.20 L263.80,928.34 L265.00,930.23 L265.80,932.13 L266.60,933.64 L266.70,935.16 L266.20,937.05 L266.70,939.33 L267.20,943.12 L267.70,948.04 L268.20,952.97 L268.60,957.52 L268.50,960.55 L267.40,962.45 L265.20,963.96 L262.70,965.10 L259.70,965.10 L257.20,963.96 L255.00,962.45 L253.90,960.55 L253.80,957.52 L254.20,952.97 L254.70,948.04 L255.20,943.12 L255.70,939.33 L256.20,937.05 L255.70,935.16 L255.80,933.64 L256.60,932.13 L257.40,930.23 L258.60,928.34 L260.00,927.20 Z" fill="url(#mg)" filter="url(#bm)"/>
<path d="M288.70,961.31 L293.00,964.72 M277.70,961.31 L273.40,964.72 M287.70,938.57 L290.20,941.22 M278.70,938.57 L276.20,941.22" fill="none" stroke="#b0b0b0" stroke-width="1.1" filter="url(#bm)"/>
<path d="M283.80,927.20 L285.24,928.34 L286.50,930.23 L287.36,932.13 L288.20,933.64 L288.35,935.16 L287.91,937.05 L288.48,939.33 L289.10,943.12 L289.76,948.04 L290.42,952.97 L290.96,957.52 L290.96,960.55 L289.92,962.45 L287.76,963.96 L285.30,965.10 L282.30,965.10 L279.76,963.96 L277.52,962.45 L276.36,960.55 L276.16,957.52 L276.42,952.97 L276.76,948.04 L277.10,943.12 L277.48,939.33 L277.91,937.05 L277.35,935.16 L277.40,933.64 L278.16,932.13 L278.90,930.23 L280.04,928.34 L281.40,927.20 Z" fill="url(#mg)" filter="url(#bm)"/>
<path d="M312.00,961.31 L316.30,964.72 M301.00,961.31 L296.70,964.72 M311.00,938.57 L313.50,941.22 M302.00,938.57 L299.50,941.22" fill="none" stroke="#b0b0b0" stroke-width="1.1" filter="url(#bm)"/>
<path d="M308.30,927.20 L309.66,928.34 L310.80,930.23 L311.54,932.13 L312.30,933.64 L312.35,935.16 L311.79,937.05 L312.22,939.33 L312.60,943.12 L312.94,948.04 L313.28,952.97 L313.54,957.52 L313.34,960.55 L312.18,962.45 L309.94,963.96 L307.40,965.10 L304.40,965.10 L301.94,963.96 L299.78,962.45 L298.74,960.55 L298.74,957.52 L299.28,952.97 L299.94,948.04 L300.60,943.12 L301.22,939.33 L301.79,937.05 L301.35,935.16 L301.50,933.64 L302.34,932.13 L303.20,930.23 L304.46,928.34 L305.90,927.20 Z" fill="url(#mg)" filter="url(#bm)"/>
<g filter="url(#mtex)" opacity="0.28">
<path d="M262.40,927.20 L263.80,928.34 L265.00,930.23 L265.80,932.13 L266.60,933.64 L266.70,935.16 L266.20,937.05 L266.70,939.33 L267.20,943.12 L267.70,948.04 L268.20,952.97 L268.60,957.52 L268.50,960.55 L267.40,962.45 L265.20,963.96 L262.70,965.10 L259.70,965.10 L257.20,963.96 L255.00,962.45 L253.90,960.55 L253.80,957.52 L254.20,952.97 L254.70,948.04 L255.20,943.12 L255.70,939.33 L256.20,937.05 L255.70,935.16 L255.80,933.64 L256.60,932.13 L257.40,930.23 L258.60,928.34 L260.00,927.20 Z" fill="#000"/>
<path d="M283.80,927.20 L285.24,928.34 L286.50,930.23 L287.36,932.13 L288.20,933.64 L288.35,935.16 L287.91,937.05 L288.48,939.33 L289.10,943.12 L289.76,948.04 L290.42,952.97 L290.96,957.52 L290.96,960.55 L289.92,962.45 L287.76,963.96 L285.30,965.10 L282.30,965.10 L279.76,963.96 L277.52,962.45 L276.36,960.55 L276.16,957.52 L276.42,952.97 L276.76,948.04 L277.10,943.12 L277.48,939.33 L277.91,937.05 L277.35,935.16 L277.40,933.64 L278.16,932.13 L278.90,930.23 L280.04,928.34 L281.40,927.20 Z" fill="#000"/>
<path d="M308.30,927.20 L309.66,928.34 L310.80,930.23 L311.54,932.13 L312.30,933.64 L312.35,935.16 L311.79,937.05 L312.22,939.33 L312.60,943.12 L312.94,948.04 L313.28,952.97 L313.54,957.52 L313.34,960.55 L312.18,962.45 L309.94,963.96 L307.40,965.10 L304.40,965.10 L301.94,963.96 L299.78,962.45 L298.74,960.55 L298.74,957.52 L299.28,952.97 L299.94,948.04 L300.60,943.12 L301.22,939.33 L301.79,937.05 L301.35,935.16 L301.50,933.64 L302.34,932.13 L303.20,930.23 L304.46,928.34 L305.90,927.20 Z" fill="#000"/>
</g>
</g>
<clipPath id="fc13"><rect x="249.60" y="926.70" width="66.70" height="38.10"/></clipPath>
<rect x="42.10" y="969.00" width="67.70" height="37.40" fill="#1e1e1e"/>
<g clip-path="url(#fc20)">
<path d="M59.20,1002.98 L63.50,1006.33 M48.20,1002.98 L43.90,1006.33 M58.20,980.66 L60.70,983.26 M49.20,980.66 L46.70,983.26" fill="none" stroke="#b0b0b0" stroke-width="1.1" filter="url(#bm)"/>
<path d="M54.30,969.50 L55.74,970.62 L57.00,972.48 L57.86,974.34 L58.70,975.82 L58.85,977.31 L58.41,979.17 L58.98,981.40 L59.60,985.12 L60.26,989.96 L60.92,994.80 L61.46,999.26 L61.46,1002.24 L60.42,1004.10 L58.26,1005.58 L55.80,1006.70 L52.80,1006.70 L50.26,1005.58 L48.02,1004.10 L46.86,1002.24 L46.66,999.26 L46.92,994.80 L47.26,989.96 L47.60,985.12 L47.98,981.40 L48.41,979.17 L47.85,977.31 L47.90,975.82 L48.66,974.34 L49.40,972.48 L50.54,970.62 L51.90,969.50 Z" fill="url(#mg)" filter="url(#bm)"/>
<path d="M81.20,1002.98 L85.50,1006.33 M70.20,1002.98 L65.90,1006.33 M80.20,980.66 L82.70,983.26 M71.20,980.66 L68.70,983.26" fill="none" stroke="#b0b0b0" stroke-width="1.1" filter="url(#bm)"/>
<path d="M77.50,969.50 L78.86,970.62 L80.00,972.48 L80.74,974.34 L81.50,975.82 L81.55,977.31 L80.99,979.17 L81.42,981.40 L81.80,985.12 L82.14,989.96 L82.48,994.80 L82.74,999.26 L82.54,1002.24 L81.38,1004.10 L79.14,1005.58 L76.60,1006.70 L73.60,1006.70 L71.14,1005.58 L68.98,1004.10 L67.94,1002.24 L67.94,999.26 L68.48,994.80 L69.14,989.96 L69.80,985.12 L70.42,981.40 L70.99,979.17 L70.55,977.31 L70.70,975.82 L71.54,974.34 L72.40,972.48 L73.66,970.62 L75.10,969.50 Z" fill="url(#mg)" filter="url(#bm)"/>
<path d="M104.50,1002.98 L108.80,1006.33 M93.50,1002.98 L89.20,1006.33 M103.50,980.66 L106.00,983.26 M94.50,980.66 L92.00,983.26" fill="none" stroke="#b0b0b0" stroke-width="1.1" filter="url(#bm)"/>
<path d="M100.20,969.50 L101.60,970.62 L102.80,972.48 L103.60,974.34 L104.40,975.82 L104.50,977.31 L104.00,979.17 L104.50,981.40 L105.00,985.12 L105.50,989.96 L106.00,994.80 L106.40,999.26 L106.30,1002.24 L105.20,1004.10 L103.00,1005.58 L100.50,1006.70 L97.50,1006.70 L95.00,1005.58 L92.80,1004.10 L91.70,1002.24 L91.60,999.26 L92.00,994.80 L92.50,989.96 L93.00,985.12 L93.50,981.40 L94.00,979.17 L93.50,977.31 L93.60,975.82 L94.40,974.34 L95.20,972.48 L96.40,970.62 L97.80,969.50 Z" fill="url(#mg)" filter="url(#bm)"/>
<g filter="url(#mtex)" opacity="0.28">
<path d="M54.30,969.50 L55.74,970.62 L57.00,972.48 L57.86,974.34 L58.70,975.82 L58.85,977.31 L58.41,979.17 L58.98,981.40 L59.60,985.12 L60.26,989.96 L60.92,994.80 L61.46,999.26 L61.46,1002.24 L60.42,1004.10 L58.26,1005.58 L55.80,1006.70 L52.80,1006.70 L50.26,1005.58 L48.02,1004.10 L46.86,1002.24 L46.66,999.26 L46.92,994.80 L47.26,989.96 L47.60,985.12 L47.98,981.40 L48.41,979.17 L47.85,977.31 L47.90,975.82 L48.66,974.34 L49.40,972.48 L50.54,970.62 L51.90,969.50 Z" fill="#000"/>
<path d="M77.50,969.50 L78.86,970.62 L80.00,972.48 L80.74,974.34 L81.50,975.82 L81.55,977.31 L80.99,979.17 L81.42,981.40 L81.80,985.12 L82.14,989.96 L82.48,994.80 L82.74,999.26 L82.54,1002.24 L81.38,1004.10 L79.14,1005.58 L76.60,1006.70 L73.60,1006.70 L71.14,1005.58 L68.98,1004.10 L67.94,1002.24 L67.94,999.26 L68.48,994.80 L69.14,989.96 L69.80,985.12 L70.42,981.40 L70.99,979.17 L70.55,977.31 L70.70,975.82 L71.54,974.34 L72.40,972.48 L73.66,970.62 L75.10,969.50 Z" fill="#000"/>
<path d="M100.20,969.50 L101.60,970.62 L102.80,972.48 L103.60,974.34 L104.40,975.82 L104.50,977.31 L104.00,979.17 L104.50,981.40 L105.00,985.12 L105.50,989.96 L106.00,994.80 L106.40,999.26 L106.30,1002.24 L105.20,1004.10 L103.00,1005.58 L100.50,1006.70 L97.50,1006.70 L95.00,1005.58 L92.80,1004.10 L91.70,1002.24 L91.60,999.26 L92.00,994.80 L92.50,989.96 L93.00,985.12 L93.50,981.40 L94.00,979.17 L93.50,977.31 L93.60,975.82 L94.40,974.34 L95.20,972.48 L96.40,970.62 L97.80,969.50 Z" fill="#000"/>
</g>
</g>
<clipPath id="fc20"><rect x="42.10" y="969.00" width="67.70" height="37.40"/></clipPath>
<rect x="111.10" y="969.00" width="67.50" height="37.40" fill="#1e1e1e"/>
<g clip-path="url(#fc21)">
<path d="M129.40,1002.98 L133.70,1006.33 M118.40,1002.98 L114.10,1006.33 M128.40,980.66 L130.90,983.26 M119.40,980.66 L116.90,983.26" fill="none" stroke="#b0b0b0" stroke-width="1.1" filter="url(#bm)"/>
<path d="M125.70,969.50 L127.06,970.62 L128.20,972.48 L128.94,974.34 L129.70,975.82 L129.75,977.31 L129.19,979.17 L129.62,981.40 L130.00,985.12 L130.34,989.96 L130.68,994.80 L130.94,999.26 L130.74,1002.24 L129.58,1004.10 L127.34,1005.58 L124.80,1006.70 L121.80,1006.70 L119.34,1005.58 L117.18,1004.10 L116.14,1002.24 L116.14,999.26 L116.68,994.80 L117.34,989.96 L118.00,985.12 L118.62,981.40 L119.19,979.17 L118.75,977.31 L118.90,975.82 L119.74,974.34 L120.60,972.48 L121.86,970.62 L123.30,969.50 Z" fill="url(#mg)" filter="url(#bm)"/>
<path d="M149.60,1002.98 L153.90,1006.33 M138.60,1002.98 L134.30,1006.33 M148.60,980.66 L151.10,983.26 M139.60,980.66 L137.10,983.26" fill="none" stroke="#b0b0b0" stroke-width="1.1" filter="url(#bm)"/>
<path d="M145.30,969.50 L146.70,970.62 L147.90,972.48 L148.70,974.34 L149.50,975.82 L149.60,977.31 L149.10,979.17 L149.60,981.40 L150.10,985.12 L150.60,989.96 L151.10,994.80 L151.50,999.26 L151.40,1002.24 L150.30,1004.10 L148.10,1005.58 L145.60,1006.70 L142.60,1006.70 L140.10,1005.58 L137.90,1004.10 L136.80,1002.24 L136.70,999.26 L137.10,994.80 L137.60,989.96 L138.10,985.12 L138.60,981.40 L139.10,979.17 L138.60,977.31 L138.70,975.82 L139.50,974.34 L140.30,972.48 L141.50,970.62 L142.90,969.50 Z" fill="url(#mg)" filter="url(#bm)"/>
<path d="M172.90,1002.98 L177.20,1006.33 M161.90,1002.98 L157.60,1006.33 M171.90,980.66 L174.40,983.26 M162.90,980.66 L160.40,983.26" fill="none" stroke="#b0b0b0" stroke-width="1.1" filter="url(#bm)"/>
<path d="M168.00,969.50 L169.44,970.62 L170.70,972.48 L171.56,974.34 L172.40,975.82 L172.55,977.31 L172.11,979.17 L172.68,981.40 L173.30,985.12 L173.96,989.96 L174.62,994.80 L175.16,999.26 L175.16,1002.24 L174.12,1004.10 L171.96,1005.58 L169.50,1006.70 L166.50,1006.70 L163.96,1005.58 L161.72,1004.10 L160.56,1002.24 L160.36,999.26 L160.62,994.80 L160.96,989.96 L161.30,985.12 L161.68,981.40 L162.11,979.17 L161.55,977.31 L161.60,975.82 L162.36,974.34 L163.10,972.48 L164.24,970.62 L165.60,969.50 Z" fill="url(#mg)" filter="url(#bm)"/>
<g filter="url(#mtex)" opacity="0.28">
<path d="M125.70,969.50 L127.06,970.62 L128.20,972.48 L128.94,974.34 L129.70,975.82 L129.75,977.31 L129.19,979.17 L129.62,981.40 L130.00,985.12 L130.34,989.96 L130.68,994.80 L130.94,999.26 L130.74,1002.24 L129.58,1004.10 L127.34,1005.58 L124.80,1006.70 L121.80,1006.70 L119.34,1005.58 L117.18,1004.10 L116.14,1002.24 L116.14,999.26 L116.68,994.80 L117.34,989.96 L118.00,985.12 L118.62,981.40 L119.19,979.17 L118.75,977.31 L118.90,975.82 L119.74,974.34 L120.60,972.48 L121.86,970.62 L123.30,969.50 Z" fill="#000"/>
<path d="M145.30,969.50 L146.70,970.62 L147.90,972.48 L148.70,974.34 L149.50,975.82 L149.60,977.31 L149.10,979.17 L149.60,981.40 L150.10,985.12 L150.60,989.96 L151.10,994.80 L151.50,999.26 L151.40,1002.24 L150.30,1004.10 L148.10,1005.58 L145.60,1006.70 L142.60,1006.70 L140.10,1005.58 L137.90,1004.10 L136.80,1002.24 L136.70,999.26 L137.10,994.80 L137.60,989.96 L138.10,985.12 L138.60,981.40 L139.10,979.17 L138.60,977.31 L138.70,975.82 L139.50,974.34 L140.30,972.48 L141.50,970.62 L142.90,969.50 Z" fill="#000"/>
<path d="M168.00,969.50 L169.44,970.62 L170.70,972.48 L171.56,974.34 L172.40,975.82 L172.55,977.31 L172.11,979.17 L172.68,981.40 L173.30,985.12 L173.96,989.96 L174.62,994.80 L175.16,999.26 L175.16,1002.24 L174.12,1004.10 L171.96,1005.58 L169.50,1006.70 L166.50,1006.70 L163.96,1005.58 L161.72,1004.10 L160.56,1002.24 L160.36,999.26 L160.62,994.80 L160.96,989.96 L161.30,985.12 L161.68,981.40 L162.11,979.17 L161.55,977.31 L161.60,975.82 L162.36,974.34 L163.10,972.48 L164.24,970.62 L165.60,969.50 Z" fill="#000"/>
</g>
</g>
<clipPath id="fc21"><rect x="111.10" y="969.00" width="67.50" height="37.40"/></clipPath>
<rect x="180.60" y="969.00" width="67.40" height="37.40" fill="#1e1e1e"/>
<g clip-path="url(#fc22)">
<path d="M198.30,1002.98 L202.60,1006.33 M187.30,1002.98 L183.00,1006.33 M197.30,980.66 L199.80,983.26 M188.30,980.66 L185.80,983.26" fill="none" stroke="#b0b0b0" stroke-width="1.1" filter="url(#bm)"/>
<path d="M194.00,969.50 L195.40,970.62 L196.60,972.48 L197.40,974.34 L198.20,975.82 L198.30,977.31 L197.80,979.17 L198.30,981.40 L198.80,985.12 L199.30,989.96 L199.80,994.80 L200.20,999.26 L200.10,1002.24 L199.00,1004.10 L196.80,1005.58 L194.30,1006.70 L191.30,1006.70 L188.80,1005.58 L186.60,1004.10 L185.50,1002.24 L185.40,999.26 L185.80,994.80 L186.30,989.96 L186.80,985.12 L187.30,981.40 L187.80,979.17 L187.30,977.31 L187.40,975.82 L188.20,974.34 L189.00,972.48 L190.20,970.62 L191.60,969.50 Z" fill="url(#mg)" filter="url(#bm)"/>
<path d="M220.30,1002.98 L224.60,1006.33 M209.30,1002.98 L205.00,1006.33 M219.30,980.66 L221.80,983.26 M210.30,980.66 L207.80,983.26" fill="none" stroke="#b0b0b0" stroke-width="1.1" filter="url(#bm)"/>
<path d="M215.40,969.50 L216.84,970.62 L218.10,972.48 L218.96,974.34 L219.80,975.82 L219.95,977.31 L219.51,979.17 L220.08,981.40 L220.70,985.12 L221.36,989.96 L222.02,994.80 L222.56,999.26 L222.56,1002.24 L221.52,1004.10 L219.36,1005.58 L216.90,1006.70 L213.90,1006.70 L211.36,1005.58 L209.12,1004.10 L207.96,1002.24 L207.76,999.26 L208.02,994.80 L208.36,989.96 L208.70,985.12 L209.08,981.40 L209.51,979.17 L208.95,977.31 L209.00,975.82 L209.76,974.34 L210.50,972.48 L211.64,970.62 L213.00,969.50 Z" fill="url(#mg)" filter="url(#bm)"/>
<path d="M241.80,1002.98 L246.10,1006.33 M230.80,1002.98 L226.50,1006.33 M240.80,980.66 L243.30,983.26 M231.80,980.66 L229.30,983.26" fill="none" stroke="#b0b0b0" stroke-width="1.1" filter="url(#bm)"/>
<path d="M238.10,969.50 L239.46,970.62 L240.60,972.48 L241.34,974.34 L242.10,975.82 L242.15,977.31 L241.59,979.17 L242.02,981.40 L242.40,985.12 L242.74,989.96 L243.08,994.80 L243.34,999.26 L243.14,1002.24 L241.98,1004.10 L239.74,1005.58 L237.20,1006.70 L234.20,1006.70 L231.74,1005.58 L229.58,1004.10 L228.54,1002.24 L228.54,999.26 L229.08,994.80 L229.74,989.96 L230.40,985.12 L231.02,981.40 L231.59,979.17 L231.15,977.31 L231.30,975.82 L232.14,974.34 L233.00,972.48 L234.26,970.62 L235.70,969.50 Z" fill="url(#mg)" filter="url(#bm)"/>
<g filter="url(#mtex)" opacity="0.28">
<path d="M194.00,969.50 L195.40,970.62 L196.60,972.48 L197.40,974.34 L198.20,975.82 L198.30,977.31 L197.80,979.17 L198.30,981.40 L198.80,985.12 L199.30,989.96 L199.80,994.80 L200.20,999.26 L200.10,1002.24 L199.00,1004.10 L196.80,1005.58 L194.30,1006.70 L191.30,1006.70 L188.80,1005.58 L186.60,1004.10 L185.50,1002.24 L185.40,999.26 L185.80,994.80 L186.30,989.96 L186.80,985.12 L187.30,981.40 L187.80,979.17 L187.30,977.31 L187.40,975.82 L188.20,974.34 L189.00,972.48 L190.20,970.62 L191.60,969.50 Z" fill="#000"/>
<path d="M215.40,969.50 L216.84,970.62 L218.10,972.48 L218.96,974.34 L219.80,975.82 L219.95,977.31 L219.51,979.17 L220.08,981.40 L220.70,985.12 L221.36,989.96 L222.02,994.80 L222.56,999.26 L222.56,1002.24 L221.52,1004.10 L219.36,1005.58 L216.90,1006.70 L213.90,1006.70 L211.36,1005.58 L209.12,1004.10 L207.96,1002.24 L207.76,999.26 L208.02,994.80 L208.36,989.96 L208.70,985.12 L209.08,981.40 L209.51,979.17 L208.95,977.31 L209.00,975.82 L209.76,974.34 L210.50,972.48 L211.64,970.62 L213.00,969.50 Z" fill="#000"/>
<path d="M238.10,969.50 L239.46,970.62 L240.60,972.48 L241.34,974.34 L242.10,975.82 L242.15,977.31 L241.59,979.17 L242.02,981.40 L242.40,985.12 L242.74,989.96 L243.08,994.80 L243.34,999.26 L243.14,1002.24 L241.98,1004.10 L239.74,1005.58 L237.20,1006.70 L234.20,1006.70 L231.74,1005.58 L229.58,1004.10 L228.54,1002.24 L228.54,999.26 L229.08,994.80 L229.74,989.96 L230.40,985.12 L231.02,981.40 L231.59,979.17 L231.15,977.31 L231.30,975.82 L232.14,974.34 L233.00,972.48 L234.26,970.62 L235.70,969.50 Z" fill="#000"/>
</g>
</g>
<clipPath id="fc22"><rect x="180.60" y="969.00" width="67.40" height="37.40"/></clipPath>
<rect x="249.60" y="969.00" width="66.70" height="37.40" fill="#1e1e1e"/>
<g clip-path="url(#fc23)">
<path d="M266.70,1002.98 L271.00,1006.33 M255.70,1002.98 L251.40,1006.33 M265.70,980.66 L268.20,983.26 M256.70,980.66 L254.20,983.26" fill="none" stroke="#b0b0b0" stroke-width="1.1" filter="url(#bm)"/>
<path d="M261.80,969.50 L263.24,970.62 L264.50,972.48 L265.36,974.34 L266.20,975.82 L266.35,977.31 L265.91,979.17 L266.48,981.40 L267.10,985.12 L267.76,989.96 L268.42,994.80 L268.96,999.26 L268.96,1002.24 L267.92,1004.10 L265.76,1005.58 L263.30,1006.70 L260.30,1006.70 L257.76,1005.58 L255.52,1004.10 L254.36,1002.24 L254.16,999.26 L254.42,994.80 L254.76,989.96 L255.10,985.12 L255.48,981.40 L255.91,979.17 L255.35,977.31 L255.40,975.82 L256.16,974.34 L256.90,972.48 L258.04,970.62 L259.40,969.50 Z" fill="url(#mg)" filter="url(#bm)"/>
<path d="M288.70,1002.98 L293.00,1006.33 M277.70,1002.98 L273.40,1006.33 M287.70,980.66 L290.20,983.26 M278.70,980.66 L276.20,983.26" fill="none" stroke="#b0b0b0" stroke-width="1.1" filter="url(#bm)"/>
<path d="M285.00,969.50 L286.36,970.62 L287.50,972.48 L288.24,974.34 L289.00,975.82 L289.05,977.31 L288.49,979.17 L288.92,981.40 L289.30,985.12 L289.64,989.96 L289.98,994.80 L290.24,999.26 L290.04,1002.24 L288.88,1004.10 L286.64,1005.58 L284.10,1006.70 L281.10,1006.70 L278.64,1005.58 L276.48,1004.10 L275.44,1002.24 L275.44,999.26 L275.98,994.80 L276.64,989.96 L277.30,985.12 L277.92,981.40 L278.49,979.17 L278.05,977.31 L278.20,975.82 L279.04,974.34 L279.90,972.48 L281.16,970.62 L282.60,969.50 Z" fill="url(#mg)" filter="url(#bm)"/>
<path d="M312.00,1002.98 L316.30,1006.33 M301.00,1002.98 L296.70,1006.33 M311.00,980.66 L313.50,983.26 M302.00,980.66 L299.50,983.26" fill="none" stroke="#b0b0b0" stroke-width="1.1" filter="url(#bm)"/>
<path d="M307.70,969.50 L309.10,970.62 L310.30,972.48 L311.10,974.34 L311.90,975.82 L312.00,977.31 L311.50,979.17 L312.00,981.40 L312.50,985.12 L313.00,989.96 L313.50,994.80 L313.90,999.26 L313.80,1002.24 L312.70,1004.10 L310.50,1005.58 L308.00,1006.70 L305.00,1006.70 L302.50,1005.58 L300.30,1004.10 L299.20,1002.24 L299.10,999.26 L299.50,994.80 L300.00,989.96 L300.50,985.12 L301.00,981.40 L301.50,979.17 L301.00,977.31 L301.10,975.82 L301.90,974.34 L302.70,972.48 L303.90,970.62 L305.30,969.50 Z" fill="url(#mg)" filter="url(#bm)"/>
<g filter="url(#mtex)" opacity="0.28">
<path d="M261.80,969.50 L263.24,970.62 L264.50,972.48 L265.36,974.34 L266.20,975.82 L266.35,977.31 L265.91,979.17 L266.48,981.40 L267.10,985.12 L267.76,989.96 L268.42,994.80 L268.96,999.26 L268.96,1002.24 L267.92,1004.10 L265.76,1005.58 L263.30,1006.70 L260.30,1006.70 L257.76,1005.58 L255.52,1004.10 L254.36,1002.24 L254.16,999.26 L254.42,994.80 L254.76,989.96 L255.10,985.12 L255.48,981.40 L255.91,979.17 L255.35,977.31 L255.40,975.82 L256.16,974.34 L256.90,972.48 L258.04,970.62 L259.40,969.50 Z" fill="#000"/>
<path d="M285.00,969.50 L286.36,970.62 L287.50,972.48 L288.24,974.34 L289.00,975.82 L289.05,977.31 L288.49,979.17 L288.92,981.40 L289.30,985.12 L289.64,989.96 L289.98,994.80 L290.24,999.26 L290.04,1002.24 L288.88,1004.10 L286.64,1005.58 L284.10,1006.70 L281.10,1006.70 L278.64,1005.58 L276.48,1004.10 L275.44,1002.24 L275.44,999.26 L275.98,994.80 L276.64,989.96 L277.30,985.12 L277.92,981.40 L278.49,979.17 L278.05,977.31 L278.20,975.82 L279.04,974.34 L279.90,972.48 L281.16,970.62 L282.60,969.50 Z" fill="#000"/>
<path d="M307.70,969.50 L309.10,970.62 L310.30,972.48 L311.10,974.34 L311.90,975.82 L312.00,977.31 L311.50,979.17 L312.00,981.40 L312.50,985.12 L313.00,989.96 L313.50,994.80 L313.90,999.26 L313.80,1002.24 L312.70,1004.10 L310.50,1005.58 L308.00,1006.70 L305.00,1006.70 L302.50,1005.58 L300.30,1004.10 L299.20,1002.24 L299.10,999.26 L299.50,994.80 L300.00,989.96 L300.50,985.12 L301.00,981.40 L301.50,979.17 L301.00,977.31 L301.10,975.82 L301.90,974.34 L302.70,972.48 L303.90,970.62 L305.30,969.50 Z" fill="#000"/>
</g>
</g>
<clipPath id="fc23"><rect x="249.60" y="969.00" width="66.70" height="37.40"/></clipPath>
<ellipse cx="53.10" cy="905.00" rx="1.90" ry="1.50" fill="#3646d2" opacity="0.88" filter="url(#bf)"/>
<ellipse cx="57.90" cy="905.20" rx="2.30" ry="1.90" fill="#3646d2" opacity="0.88" filter="url(#bf)"/>
<ellipse cx="70.50" cy="899.40" rx="2.20" ry="1.80" fill="#3646d2" opacity="0.88" filter="url(#bf)"/>
<ellipse cx="74.70" cy="897.30" rx="2.00" ry="1.40" fill="#3646d2" opacity="0.88" filter="url(#bf)"/>
<ellipse cx="77.50" cy="899.50" rx="1.50" ry="1.20" fill="#3646d2" opacity="0.88" filter="url(#bf)"/>
<ellipse cx="98.30" cy="900.50" rx="1.70" ry="1.70" fill="#3646d2" opacity="0.88" filter="url(#bf)"/>
<ellipse cx="98.30" cy="918.00" rx="2.20" ry="2.00" fill="#3646d2" opacity="0.88" filter="url(#bf)"/>
<ellipse cx="98.30" cy="918.00" rx="1.32" ry="1.20" fill="#22a8e0" filter="url(#bf)"/>
<ellipse cx="75.00" cy="918.50" rx="1.00" ry="1.50" fill="#3646d2" opacity="0.88" filter="url(#bf)"/>
<ellipse cx="118.20" cy="899.90" rx="2.00" ry="1.40" fill="#3646d2" opacity="0.88" filter="url(#bf)"/>
<ellipse cx="121.50" cy="898.80" rx="1.40" ry="1.10" fill="#3646d2" opacity="0.88" filter="url(#bf)"/>
<ellipse cx="145.80" cy="905.70" rx="1.10" ry="1.10" fill="#3646d2" opacity="0.88" filter="url(#bf)"/>
<ellipse cx="52.60" cy="934.60" rx="2.60" ry="2.20" fill="#3646d2" opacity="0.88" filter="url(#bf)"/>
<ellipse cx="52.60" cy="934.60" rx="1.56" ry="1.32" fill="#22a8e0" filter="url(#bf)"/>
<ellipse cx="53.70" cy="943.50" rx="4.50" ry="4.60" fill="#3646d2" opacity="0.88" filter="url(#bf)"/>
<ellipse cx="48.40" cy="953.50" rx="1.50" ry="1.50" fill="#3646d2" opacity="0.88" filter="url(#bf)"/>
<ellipse cx="48.40" cy="953.50" rx="0.90" ry="0.90" fill="#22a8e0" filter="url(#bf)"/>
<ellipse cx="54.70" cy="961.40" rx="2.00" ry="1.80" fill="#3646d2" opacity="0.88" filter="url(#bf)"/>
<ellipse cx="75.20" cy="928.80" rx="2.60" ry="3.00" fill="#3646d2" opacity="0.88" filter="url(#bf)"/>
<ellipse cx="75.20" cy="928.80" rx="1.82" ry="2.10" fill="#22a8e0" filter="url(#bf)"/>
<ellipse cx="75.20" cy="928.80" rx="1.30" ry="1.50" fill="#50c840" filter="url(#bf)"/>
<ellipse cx="75.20" cy="928.80" rx="0.78" ry="0.90" fill="#e8e020" filter="url(#bf)"/>
<ellipse cx="73.40" cy="940.90" rx="2.50" ry="2.60" fill="#3646d2" opacity="0.88" filter="url(#bf)"/>
<ellipse cx="79.10" cy="942.00" rx="1.50" ry="1.80" fill="#3646d2" opacity="0.88" filter="url(#bf)"/>
<ellipse cx="74.70" cy="958.30" rx="5.50" ry="3.60" fill="#3646d2" opacity="0.88" filter="url(#bf)"/>
<ellipse cx="74.70" cy="960.30" rx="3.40" ry="2.60" fill="#3646d2" opacity="0.88" filter="url(#bf)"/>
<ellipse cx="74.70" cy="960.30" rx="3.06" ry="2.34" fill="#22a8e0" filter="url(#bf)"/>
<ellipse cx="74.70" cy="960.30" rx="2.72" ry="2.08" fill="#50c840" filter="url(#bf)"/>
<ellipse cx="74.70" cy="960.30" rx="2.45" ry="1.87" fill="#e8d820" filter="url(#bf)"/>
<ellipse cx="74.70" cy="960.30" rx="2.11" ry="1.61" fill="#f07a20" filter="url(#bf)"/>
<ellipse cx="74.70" cy="960.30" rx="1.77" ry="1.35" fill="#ec1c1c" filter="url(#bf)"/>
<ellipse cx="97.30" cy="928.30" rx="2.60" ry="2.60" fill="#3646d2" opacity="0.88" filter="url(#bf)"/>
<ellipse cx="97.30" cy="928.30" rx="2.34" ry="2.34" fill="#22a8e0" filter="url(#bf)"/>
<ellipse cx="97.30" cy="928.30" rx="2.08" ry="2.08" fill="#50c840" filter="url(#bf)"/>
<ellipse cx="97.30" cy="928.30" rx="1.87" ry="1.87" fill="#e8d820" filter="url(#bf)"/>
<ellipse cx="97.30" cy="928.30" rx="1.61" ry="1.61" fill="#f07a20" filter="url(#bf)"/>
<ellipse cx="97.30" cy="928.30" rx="1.35" ry="1.35" fill="#ec1c1c" filter="url(#bf)"/>
<ellipse cx="96.80" cy="942.50" rx="3.50" ry="4.00" fill="#3646d2" opacity="0.88" filter="url(#bf)"/>
<ellipse cx="97.50" cy="955.50" rx="1.00" ry="1.00" fill="#3646d2" opacity="0.88" filter="url(#bf)"/>
<ellipse cx="97.80" cy="961.70" rx="1.50" ry="1.80" fill="#3646d2" opacity="0.88" filter="url(#bf)"/>
<ellipse cx="119.50" cy="943.30" rx="2.30" ry="1.90" fill="#3646d2" opacity="0.88" filter="url(#bf)"/>
<ellipse cx="123.50" cy="942.50" rx="1.50" ry="1.50" fill="#3646d2" opacity="0.88" filter="url(#bf)"/>
<ellipse cx="142.50" cy="941.50" rx="2.50" ry="2.40" fill="#3646d2" opacity="0.88" filter="url(#bf)"/>
<ellipse cx="146.00" cy="944.00" rx="1.90" ry="1.90" fill="#3646d2" opacity="0.88" filter="url(#bf)"/>
<ellipse cx="139.30" cy="953.80" rx="1.10" ry="1.10" fill="#3646d2" opacity="0.88" filter="url(#bf)"/>
<ellipse cx="168.20" cy="946.70" rx="1.10" ry="1.10" fill="#3646d2" opacity="0.88" filter="url(#bf)"/>
<ellipse cx="168.20" cy="961.00" rx="1.00" ry="1.20" fill="#3646d2" opacity="0.88" filter="url(#bf)"/>
<ellipse cx="168.20" cy="961.00" rx="0.60" ry="0.72" fill="#22a8e0" filter="url(#bf)"/>
<ellipse cx="233.00" cy="945.90" rx="0.90" ry="0.90" fill="#3646d2" opacity="0.88" filter="url(#bf)"/>
<ellipse cx="213.40" cy="962.00" rx="1.00" ry="1.20" fill="#3646d2" opacity="0.88" filter="url(#bf)"/>
<ellipse cx="256.70" cy="939.30" rx="1.10" ry="1.50" fill="#3646d2" opacity="0.88" filter="url(#bf)"/>
<ellipse cx="283.00" cy="955.10" rx="1.10" ry="1.40" fill="#3646d2" opacity="0.88" filter="url(#bf)"/>
<ellipse cx="261.00" cy="962.00" rx="0.90" ry="0.90" fill="#3646d2" opacity="0.88" filter="url(#bf)"/>
<ellipse cx="261.00" cy="962.00" rx="0.54" ry="0.54" fill="#22a8e0" filter="url(#bf)"/>
<ellipse cx="52.50" cy="980.00" rx="6.50" ry="9.50" fill="#3646d2" opacity="0.88" filter="url(#bf)"/>
<ellipse cx="50.50" cy="975.00" rx="2.80" ry="2.60" fill="#3646d2" opacity="0.88" filter="url(#bf)"/>
<ellipse cx="50.50" cy="975.00" rx="2.52" ry="2.34" fill="#22a8e0" filter="url(#bf)"/>
<ellipse cx="50.50" cy="975.00" rx="2.24" ry="2.08" fill="#50c840" filter="url(#bf)"/>
<ellipse cx="50.50" cy="975.00" rx="2.02" ry="1.87" fill="#e8d820" filter="url(#bf)"/>
<ellipse cx="50.50" cy="975.00" rx="1.74" ry="1.61" fill="#f07a20" filter="url(#bf)"/>
<ellipse cx="50.50" cy="975.00" rx="1.46" ry="1.35" fill="#ec1c1c" filter="url(#bf)"/>
<ellipse cx="51.60" cy="984.00" rx="2.60" ry="3.40" fill="#3646d2" opacity="0.88" filter="url(#bf)"/>
<ellipse cx="51.60" cy="984.00" rx="2.34" ry="3.06" fill="#22a8e0" filter="url(#bf)"/>
<ellipse cx="51.60" cy="984.00" rx="2.08" ry="2.72" fill="#50c840" filter="url(#bf)"/>
<ellipse cx="51.60" cy="984.00" rx="1.87" ry="2.45" fill="#e8d820" filter="url(#bf)"/>
<ellipse cx="51.60" cy="984.00" rx="1.61" ry="2.11" fill="#f07a20" filter="url(#bf)"/>
<ellipse cx="51.60" cy="984.00" rx="1.35" ry="1.77" fill="#ec1c1c" filter="url(#bf)"/>
<ellipse cx="54.00" cy="977.50" rx="1.50" ry="1.50" fill="#3646d2" opacity="0.88" filter="url(#bf)"/>
<ellipse cx="54.00" cy="977.50" rx="1.05" ry="1.05" fill="#22a8e0" filter="url(#bf)"/>
<ellipse cx="54.00" cy="977.50" rx="0.75" ry="0.75" fill="#50c840" filter="url(#bf)"/>
<ellipse cx="54.00" cy="977.50" rx="0.45" ry="0.45" fill="#e8e020" filter="url(#bf)"/>
<ellipse cx="52.00" cy="999.00" rx="6.00" ry="6.00" fill="#3646d2" opacity="0.88" filter="url(#bf)"/>
<ellipse cx="47.40" cy="995.50" rx="2.20" ry="2.20" fill="#3646d2" opacity="0.88" filter="url(#bf)"/>
<ellipse cx="47.40" cy="995.50" rx="1.98" ry="1.98" fill="#22a8e0" filter="url(#bf)"/>
<ellipse cx="47.40" cy="995.50" rx="1.76" ry="1.76" fill="#50c840" filter="url(#bf)"/>
<ellipse cx="47.40" cy="995.50" rx="1.58" ry="1.58" fill="#e8d820" filter="url(#bf)"/>
<ellipse cx="47.40" cy="995.50" rx="1.36" ry="1.36" fill="#f07a20" filter="url(#bf)"/>
<ellipse cx="47.40" cy="995.50" rx="1.14" ry="1.14" fill="#ec1c1c" filter="url(#bf)"/>
<ellipse cx="53.10" cy="1002.80" rx="2.80" ry="2.40" fill="#3646d2" opacity="0.88" filter="url(#bf)"/>
<ellipse cx="53.10" cy="1002.80" rx="2.52" ry="2.16" fill="#22a8e0" filter="url(#bf)"/>
<ellipse cx="53.10" cy="1002.80" rx="2.24" ry="1.92" fill="#50c840" filter="url(#bf)"/>
<ellipse cx="53.10" cy="1002.80" rx="2.02" ry="1.73" fill="#e8d820" filter="url(#bf)"/>
<ellipse cx="53.10" cy="1002.80" rx="1.74" ry="1.49" fill="#f07a20" filter="url(#bf)"/>
<ellipse cx="53.10" cy="1002.80" rx="1.46" ry="1.25" fill="#ec1c1c" filter="url(#bf)"/>
<ellipse cx="76.50" cy="979.00" rx="7.50" ry="10.00" fill="#3646d2" opacity="0.88" filter="url(#bf)"/>
<ellipse cx="76.50" cy="974.20" rx="6.50" ry="3.40" fill="#3646d2" opacity="0.88" filter="url(#bf)"/>
<ellipse cx="76.50" cy="974.20" rx="5.85" ry="3.06" fill="#22a8e0" filter="url(#bf)"/>
<ellipse cx="76.50" cy="974.20" rx="5.20" ry="2.72" fill="#50c840" filter="url(#bf)"/>
<ellipse cx="76.50" cy="974.20" rx="4.68" ry="2.45" fill="#e8d820" filter="url(#bf)"/>
<ellipse cx="76.50" cy="974.20" rx="4.03" ry="2.11" fill="#f07a20" filter="url(#bf)"/>
<ellipse cx="76.50" cy="974.20" rx="3.38" ry="1.77" fill="#ec1c1c" filter="url(#bf)"/>
<ellipse cx="75.00" cy="981.50" rx="2.20" ry="2.40" fill="#3646d2" opacity="0.88" filter="url(#bf)"/>
<ellipse cx="75.00" cy="981.50" rx="1.54" ry="1.68" fill="#22a8e0" filter="url(#bf)"/>
<ellipse cx="75.00" cy="981.50" rx="1.10" ry="1.20" fill="#50c840" filter="url(#bf)"/>
<ellipse cx="75.00" cy="981.50" rx="0.66" ry="0.72" fill="#e8e020" filter="url(#bf)"/>
<ellipse cx="78.00" cy="981.00" rx="1.60" ry="2.20" fill="#3646d2" opacity="0.88" filter="url(#bf)"/>
<ellipse cx="78.00" cy="981.00" rx="1.44" ry="1.98" fill="#22a8e0" filter="url(#bf)"/>
<ellipse cx="78.00" cy="981.00" rx="1.28" ry="1.76" fill="#50c840" filter="url(#bf)"/>
<ellipse cx="78.00" cy="981.00" rx="1.15" ry="1.58" fill="#e8d820" filter="url(#bf)"/>
<ellipse cx="78.00" cy="981.00" rx="0.99" ry="1.36" fill="#f07a20" filter="url(#bf)"/>
<ellipse cx="78.00" cy="981.00" rx="0.83" ry="1.14" fill="#ec1c1c" filter="url(#bf)"/>
<ellipse cx="78.00" cy="995.00" rx="6.00" ry="5.50" fill="#3646d2" opacity="0.88" filter="url(#bf)"/>
<ellipse cx="80.50" cy="994.40" rx="2.80" ry="2.50" fill="#3646d2" opacity="0.88" filter="url(#bf)"/>
<ellipse cx="80.50" cy="994.40" rx="2.52" ry="2.25" fill="#22a8e0" filter="url(#bf)"/>
<ellipse cx="80.50" cy="994.40" rx="2.24" ry="2.00" fill="#50c840" filter="url(#bf)"/>
<ellipse cx="80.50" cy="994.40" rx="2.02" ry="1.80" fill="#e8d820" filter="url(#bf)"/>
<ellipse cx="80.50" cy="994.40" rx="1.74" ry="1.55" fill="#f07a20" filter="url(#bf)"/>
<ellipse cx="80.50" cy="994.40" rx="1.46" ry="1.30" fill="#ec1c1c" filter="url(#bf)"/>
<ellipse cx="74.50" cy="1002.00" rx="1.60" ry="2.20" fill="#3646d2" opacity="0.88" filter="url(#bf)"/>
<ellipse cx="95.50" cy="974.50" rx="4.50" ry="5.50" fill="#3646d2" opacity="0.88" filter="url(#bf)"/>
<ellipse cx="95.20" cy="972.90" rx="2.80" ry="2.80" fill="#3646d2" opacity="0.88" filter="url(#bf)"/>
<ellipse cx="95.20" cy="972.90" rx="2.52" ry="2.52" fill="#22a8e0" filter="url(#bf)"/>
<ellipse cx="95.20" cy="972.90" rx="2.24" ry="2.24" fill="#50c840" filter="url(#bf)"/>
<ellipse cx="95.20" cy="972.90" rx="2.02" ry="2.02" fill="#e8d820" filter="url(#bf)"/>
<ellipse cx="95.20" cy="972.90" rx="1.74" ry="1.74" fill="#f07a20" filter="url(#bf)"/>
<ellipse cx="95.20" cy="972.90" rx="1.46" ry="1.46" fill="#ec1c1c" filter="url(#bf)"/>
<ellipse cx="98.30" cy="985.50" rx="4.00" ry="4.00" fill="#3646d2" opacity="0.88" filter="url(#bf)"/>
<ellipse cx="98.30" cy="999.50" rx="3.00" ry="3.00" fill="#3646d2" opacity="0.88" filter="url(#bf)"/>
<ellipse cx="122.00" cy="985.80" rx="5.00" ry="5.00" fill="#3646d2" opacity="0.88" filter="url(#bf)"/>
<ellipse cx="119.50" cy="987.10" rx="2.20" ry="2.20" fill="#3646d2" opacity="0.88" filter="url(#bf)"/>
<ellipse cx="119.50" cy="987.10" rx="1.54" ry="1.54" fill="#22a8e0" filter="url(#bf)"/>
<ellipse cx="119.50" cy="987.10" rx="1.10" ry="1.10" fill="#50c840" filter="url(#bf)"/>
<ellipse cx="119.50" cy="987.10" rx="0.66" ry="0.66" fill="#e8e020" filter="url(#bf)"/>
<ellipse cx="122.60" cy="1001.50" rx="6.00" ry="4.50" fill="#3646d2" opacity="0.88" filter="url(#bf)"/>
<ellipse cx="122.60" cy="1003.90" rx="2.30" ry="2.00" fill="#3646d2" opacity="0.88" filter="url(#bf)"/>
<ellipse cx="122.60" cy="1003.90" rx="2.07" ry="1.80" fill="#22a8e0" filter="url(#bf)"/>
<ellipse cx="122.60" cy="1003.90" rx="1.84" ry="1.60" fill="#50c840" filter="url(#bf)"/>
<ellipse cx="122.60" cy="1003.90" rx="1.66" ry="1.44" fill="#e8d820" filter="url(#bf)"/>
<ellipse cx="122.60" cy="1003.90" rx="1.43" ry="1.24" fill="#f07a20" filter="url(#bf)"/>
<ellipse cx="122.60" cy="1003.90" rx="1.20" ry="1.04" fill="#ec1c1c" filter="url(#bf)"/>
<ellipse cx="143.60" cy="979.70" rx="1.50" ry="1.50" fill="#3646d2" opacity="0.88" filter="url(#bf)"/>
<ellipse cx="148.40" cy="982.90" rx="1.60" ry="3.00" fill="#3646d2" opacity="0.88" filter="url(#bf)"/>
<ellipse cx="145.50" cy="999.50" rx="6.50" ry="5.00" fill="#3646d2" opacity="0.88" filter="url(#bf)"/>
<ellipse cx="145.70" cy="1001.30" rx="2.40" ry="2.20" fill="#3646d2" opacity="0.88" filter="url(#bf)"/>
<ellipse cx="145.70" cy="1001.30" rx="2.16" ry="1.98" fill="#22a8e0" filter="url(#bf)"/>
<ellipse cx="145.70" cy="1001.30" rx="1.92" ry="1.76" fill="#50c840" filter="url(#bf)"/>
<ellipse cx="145.70" cy="1001.30" rx="1.73" ry="1.58" fill="#e8d820" filter="url(#bf)"/>
<ellipse cx="145.70" cy="1001.30" rx="1.49" ry="1.36" fill="#f07a20" filter="url(#bf)"/>
<ellipse cx="145.70" cy="1001.30" rx="1.25" ry="1.14" fill="#ec1c1c" filter="url(#bf)"/>
<ellipse cx="139.40" cy="993.40" rx="1.40" ry="1.40" fill="#3646d2" opacity="0.88" filter="url(#bf)"/>
<ellipse cx="139.40" cy="993.40" rx="1.26" ry="1.26" fill="#22a8e0" filter="url(#bf)"/>
<ellipse cx="139.40" cy="993.40" rx="1.12" ry="1.12" fill="#50c840" filter="url(#bf)"/>
<ellipse cx="139.40" cy="993.40" rx="1.01" ry="1.01" fill="#e8d820" filter="url(#bf)"/>
<ellipse cx="139.40" cy="993.40" rx="0.87" ry="0.87" fill="#f07a20" filter="url(#bf)"/>
<ellipse cx="139.40" cy="993.40" rx="0.73" ry="0.73" fill="#ec1c1c" filter="url(#bf)"/>
<ellipse cx="170.00" cy="992.00" rx="7.50" ry="10.50" fill="#3646d2" opacity="0.88" filter="url(#bf)"/>
<ellipse cx="170.40" cy="987.10" rx="3.00" ry="3.00" fill="#3646d2" opacity="0.88" filter="url(#bf)"/>
<ellipse cx="170.40" cy="987.10" rx="2.70" ry="2.70" fill="#22a8e0" filter="url(#bf)"/>
<ellipse cx="170.40" cy="987.10" rx="2.40" ry="2.40" fill="#50c840" filter="url(#bf)"/>
<ellipse cx="170.40" cy="987.10" rx="2.16" ry="2.16" fill="#e8d820" filter="url(#bf)"/>
<ellipse cx="170.40" cy="987.10" rx="1.86" ry="1.86" fill="#f07a20" filter="url(#bf)"/>
<ellipse cx="170.40" cy="987.10" rx="1.56" ry="1.56" fill="#ec1c1c" filter="url(#bf)"/>
<ellipse cx="173.10" cy="994.40" rx="3.20" ry="3.80" fill="#3646d2" opacity="0.88" filter="url(#bf)"/>
<ellipse cx="173.10" cy="994.40" rx="2.88" ry="3.42" fill="#22a8e0" filter="url(#bf)"/>
<ellipse cx="173.10" cy="994.40" rx="2.56" ry="3.04" fill="#50c840" filter="url(#bf)"/>
<ellipse cx="173.10" cy="994.40" rx="2.30" ry="2.74" fill="#e8d820" filter="url(#bf)"/>
<ellipse cx="173.10" cy="994.40" rx="1.98" ry="2.36" fill="#f07a20" filter="url(#bf)"/>
<ellipse cx="173.10" cy="994.40" rx="1.66" ry="1.98" fill="#ec1c1c" filter="url(#bf)"/>
<ellipse cx="162.60" cy="996.00" rx="1.60" ry="1.60" fill="#3646d2" opacity="0.88" filter="url(#bf)"/>
<ellipse cx="162.60" cy="996.00" rx="0.96" ry="0.96" fill="#22a8e0" filter="url(#bf)"/>
<ellipse cx="189.70" cy="986.60" rx="1.50" ry="1.50" fill="#3646d2" opacity="0.88" filter="url(#bf)"/>
<ellipse cx="213.40" cy="1001.10" rx="3.00" ry="2.20" fill="#3646d2" opacity="0.88" filter="url(#bf)"/>
<ellipse cx="213.40" cy="1001.10" rx="2.10" ry="1.54" fill="#22a8e0" filter="url(#bf)"/>
<ellipse cx="213.40" cy="1001.10" rx="1.50" ry="1.10" fill="#50c840" filter="url(#bf)"/>
<ellipse cx="213.40" cy="1001.10" rx="0.90" ry="0.66" fill="#e8e020" filter="url(#bf)"/>
<ellipse cx="235.70" cy="985.30" rx="3.00" ry="2.30" fill="#3646d2" opacity="0.88" filter="url(#bf)"/>
<ellipse cx="239.00" cy="986.00" rx="1.70" ry="1.70" fill="#3646d2" opacity="0.88" filter="url(#bf)"/>
<ellipse cx="258.00" cy="984.00" rx="4.20" ry="3.20" fill="#3646d2" opacity="0.88" filter="url(#bf)"/>
<ellipse cx="258.00" cy="984.00" rx="2.94" ry="2.24" fill="#22a8e0" filter="url(#bf)"/>
<ellipse cx="258.00" cy="984.00" rx="2.10" ry="1.60" fill="#50c840" filter="url(#bf)"/>
<ellipse cx="258.00" cy="984.00" rx="1.26" ry="0.96" fill="#e8e020" filter="url(#bf)"/>
<ellipse cx="259.30" cy="1002.40" rx="2.00" ry="1.60" fill="#3646d2" opacity="0.88" filter="url(#bf)"/>
<ellipse cx="259.30" cy="1002.40" rx="1.40" ry="1.12" fill="#22a8e0" filter="url(#bf)"/>
<ellipse cx="259.30" cy="1002.40" rx="1.00" ry="0.80" fill="#50c840" filter="url(#bf)"/>
<ellipse cx="259.30" cy="1002.40" rx="0.60" ry="0.48" fill="#e8e020" filter="url(#bf)"/>
<ellipse cx="286.90" cy="1001.10" rx="1.60" ry="1.40" fill="#3646d2" opacity="0.88" filter="url(#bf)"/>
<ellipse cx="286.90" cy="1001.10" rx="0.96" ry="0.84" fill="#22a8e0" filter="url(#bf)"/>
<ellipse cx="302.70" cy="984.00" rx="1.50" ry="1.50" fill="#3646d2" opacity="0.88" filter="url(#bf)"/>
<text x="76.20" y="876.40" font-size="8.1" font-weight="bold" text-anchor="middle" fill="#000" color="#000" stroke-width="0.154" font-family="'Liberation Sans', Arial, sans-serif">K562</text>
<text x="145.00" y="876.40" font-size="8.1" font-weight="bold" text-anchor="middle" fill="#000" color="#000" stroke-width="0.154" font-family="'Liberation Sans', Arial, sans-serif">shCtrl</text>
<text x="214.10" y="876.40" font-size="8.1" font-weight="bold" text-anchor="middle" fill="#000" color="#000" stroke-width="0.154" font-family="'Liberation Sans', Arial, sans-serif">shcircARAP2_1</text>
<text x="284.80" y="876.40" font-size="8.1" font-weight="bold" text-anchor="middle" fill="#000" color="#000" stroke-width="0.154" font-family="'Liberation Sans', Arial, sans-serif">shcircARAP2_2</text>
<text x="29.00" y="905.20" font-size="8.1" font-weight="bold" text-anchor="middle" fill="#000" color="#000" stroke-width="0.154" font-family="'Liberation Sans', Arial, sans-serif">Day7</text>
<text x="29.00" y="947.90" font-size="8.1" font-weight="bold" text-anchor="middle" fill="#000" color="#000" stroke-width="0.154" font-family="'Liberation Sans', Arial, sans-serif">Day14</text>
<text x="29.00" y="988.10" font-size="8.1" font-weight="bold" text-anchor="middle" fill="#000" color="#000" stroke-width="0.154" font-family="'Liberation Sans', Arial, sans-serif">Day21</text>
<rect x="327.90" y="882.00" width="3.20" height="112.50" fill="url(#cbar)"/>
<text x="329.50" y="880.00" font-size="2.2" text-anchor="middle" fill="#000" color="#000" stroke-width="0.042" font-family="'Liberation Sans', Arial, sans-serif">Luminescence</text>
<text x="333.00" y="884.00" font-size="2.0" text-anchor="start" fill="#000" color="#000" stroke-width="0.038" font-family="'Liberation Sans', Arial, sans-serif">4e6</text>
<text x="333.00" y="910.00" font-size="2.0" text-anchor="start" fill="#000" color="#000" stroke-width="0.038" font-family="'Liberation Sans', Arial, sans-serif">3e6</text>
<text x="333.00" y="936.00" font-size="2.0" text-anchor="start" fill="#000" color="#000" stroke-width="0.038" font-family="'Liberation Sans', Arial, sans-serif">2e6</text>
<text x="333.00" y="962.00" font-size="2.0" text-anchor="start" fill="#000" color="#000" stroke-width="0.038" font-family="'Liberation Sans', Arial, sans-serif">1e6</text>
<text x="333.00" y="988.00" font-size="2.0" text-anchor="start" fill="#000" color="#000" stroke-width="0.038" font-family="'Liberation Sans', Arial, sans-serif">5e5</text>
<text x="329.50" y="998.50" font-size="2.2" text-anchor="middle" fill="#000" color="#000" stroke-width="0.042" font-family="'Liberation Sans', Arial, sans-serif">Counts</text>
<rect x="326.30" y="1002.50" width="16.00" height="12.00" fill="#fff" stroke="#333" stroke-width="0.5"/>
<text x="327.00" y="1005.50" font-size="2.2" text-anchor="start" fill="#000" color="#000" stroke-width="0.042" font-family="'Liberation Sans', Arial, sans-serif">Color Scale</text>
<text x="327.00" y="1009.00" font-size="2.2" text-anchor="start" fill="#000" color="#000" stroke-width="0.042" font-family="'Liberation Sans', Arial, sans-serif">Min = 2e5</text>
<text x="327.00" y="1012.50" font-size="2.2" text-anchor="start" fill="#000" color="#000" stroke-width="0.042" font-family="'Liberation Sans', Arial, sans-serif">Max = 4e6</text>
<path d="M411.20,895.90 L466.08,895.90 L466.08,914.84 L492.69,914.84 L492.69,933.78 L502.66,933.78 L502.66,952.72 L539.25,952.72 L539.25,971.66 L547.57,971.66 L547.57,990.60" fill="none" stroke="#6B8BB3" stroke-width="1.6" stroke-linejoin="miter"/>
<path d="M411.20,895.90 L462.75,895.90 L462.75,914.84 L481.05,914.84 L481.05,933.78 L487.70,933.78 L487.70,952.72 L499.34,952.72 L499.34,971.66 L537.59,971.66 L537.59,990.60" fill="none" stroke="#B0583E" stroke-width="1.6" stroke-linejoin="miter"/>
<path d="M411.20,895.90 L454.44,895.90 L454.44,914.84 L461.09,914.84 L461.09,933.78 L472.73,933.78 L472.73,952.72 L476.06,952.72 L476.06,971.66 L482.71,971.66 L482.71,990.60" fill="none" stroke="#8890C0" stroke-width="1.6" stroke-linejoin="miter"/>
<path d="M411.20,895.90 L444.46,895.90 L444.46,914.84 L451.11,914.84 L451.11,933.78 L452.77,933.78 L452.77,952.72 L456.10,952.72 L456.10,971.66 L457.76,971.66 L457.76,990.60" fill="none" stroke="#C0A34B" stroke-width="1.6" stroke-linejoin="miter"/>
<line x1="411.20" y1="885.20" x2="411.20" y2="991.60" stroke="#000" stroke-width="1.7"/>
<line x1="405.80" y1="990.60" x2="411.20" y2="990.60" stroke="#000" stroke-width="1.3"/>
<line x1="405.80" y1="943.25" x2="411.20" y2="943.25" stroke="#000" stroke-width="1.3"/>
<line x1="405.80" y1="895.90" x2="411.20" y2="895.90" stroke="#000" stroke-width="1.3"/>
<line x1="407.80" y1="978.76" x2="411.20" y2="978.76" stroke="#000" stroke-width="1.2"/>
<line x1="407.80" y1="966.93" x2="411.20" y2="966.93" stroke="#000" stroke-width="1.2"/>
<line x1="407.80" y1="955.09" x2="411.20" y2="955.09" stroke="#000" stroke-width="1.2"/>
<line x1="407.80" y1="931.41" x2="411.20" y2="931.41" stroke="#000" stroke-width="1.2"/>
<line x1="407.80" y1="919.58" x2="411.20" y2="919.58" stroke="#000" stroke-width="1.2"/>
<line x1="407.80" y1="907.74" x2="411.20" y2="907.74" stroke="#000" stroke-width="1.2"/>
<text x="405.40" y="898.60" font-size="7.5" font-weight="bold" text-anchor="end" fill="#000" color="#000" stroke-width="0.142" font-family="'Liberation Sans', Arial, sans-serif">100</text>
<text x="405.40" y="945.95" font-size="7.5" font-weight="bold" text-anchor="end" fill="#000" color="#000" stroke-width="0.142" font-family="'Liberation Sans', Arial, sans-serif">50</text>
<text x="405.40" y="993.30" font-size="7.5" font-weight="bold" text-anchor="end" fill="#000" color="#000" stroke-width="0.142" font-family="'Liberation Sans', Arial, sans-serif">0</text>
<line x1="410.40" y1="990.60" x2="578.30" y2="990.60" stroke="#000" stroke-width="1.7"/>
<line x1="411.20" y1="990.60" x2="411.20" y2="994.80" stroke="#000" stroke-width="1.3"/>
<text x="411.20" y="1003.50" font-size="7.5" font-weight="bold" text-anchor="middle" fill="#000" color="#000" stroke-width="0.142" font-family="'Liberation Sans', Arial, sans-serif">0</text>
<line x1="444.46" y1="990.60" x2="444.46" y2="994.80" stroke="#000" stroke-width="1.3"/>
<text x="444.46" y="1003.50" font-size="7.5" font-weight="bold" text-anchor="middle" fill="#000" color="#000" stroke-width="0.142" font-family="'Liberation Sans', Arial, sans-serif">20</text>
<line x1="477.72" y1="990.60" x2="477.72" y2="994.80" stroke="#000" stroke-width="1.3"/>
<text x="477.72" y="1003.50" font-size="7.5" font-weight="bold" text-anchor="middle" fill="#000" color="#000" stroke-width="0.142" font-family="'Liberation Sans', Arial, sans-serif">40</text>
<line x1="510.98" y1="990.60" x2="510.98" y2="994.80" stroke="#000" stroke-width="1.3"/>
<text x="510.98" y="1003.50" font-size="7.5" font-weight="bold" text-anchor="middle" fill="#000" color="#000" stroke-width="0.142" font-family="'Liberation Sans', Arial, sans-serif">60</text>
<line x1="544.24" y1="990.60" x2="544.24" y2="994.80" stroke="#000" stroke-width="1.3"/>
<text x="544.24" y="1003.50" font-size="7.5" font-weight="bold" text-anchor="middle" fill="#000" color="#000" stroke-width="0.142" font-family="'Liberation Sans', Arial, sans-serif">80</text>
<line x1="577.50" y1="990.60" x2="577.50" y2="994.80" stroke="#000" stroke-width="1.3"/>
<text x="577.50" y="1003.50" font-size="7.5" font-weight="bold" text-anchor="middle" fill="#000" color="#000" stroke-width="0.142" font-family="'Liberation Sans', Arial, sans-serif">100</text>
<line x1="427.83" y1="990.60" x2="427.83" y2="993.20" stroke="#000" stroke-width="1.1"/>
<line x1="461.09" y1="990.60" x2="461.09" y2="993.20" stroke="#000" stroke-width="1.1"/>
<line x1="494.35" y1="990.60" x2="494.35" y2="993.20" stroke="#000" stroke-width="1.1"/>
<line x1="527.61" y1="990.60" x2="527.61" y2="993.20" stroke="#000" stroke-width="1.1"/>
<line x1="560.87" y1="990.60" x2="560.87" y2="993.20" stroke="#000" stroke-width="1.1"/>
<text x="494.30" y="1014.80" font-size="8.5" font-weight="bold" text-anchor="middle" fill="#000" color="#000" stroke-width="0.162" font-family="'Liberation Sans', Arial, sans-serif">Day</text>
<text x="386.80" y="938.00" font-size="8.5" font-weight="bold" text-anchor="middle" fill="#000" color="#000" stroke-width="0.162" font-family="'Liberation Sans', Arial, sans-serif" transform="rotate(-90 386.80 938.00)">Percent survival</text>
<text x="494.30" y="872.00" font-size="10.0" font-weight="bold" text-anchor="middle" fill="#000" color="#000" stroke-width="0.190" font-family="'Liberation Sans', Arial, sans-serif">Survival</text>
<line x1="556.80" y1="896.40" x2="570.10" y2="896.40" stroke="#C0A34B" stroke-width="1.6"/>
<circle cx="563.40" cy="896.40" r="1.50" fill="#C0A34B"/>
<text x="575.40" y="899.40" font-size="8.6" text-anchor="start" fill="#000" color="#000" stroke-width="0.163" font-family="'Liberation Sans', Arial, sans-serif">K562</text>
<line x1="556.80" y1="909.70" x2="570.10" y2="909.70" stroke="#8890C0" stroke-width="1.6"/>
<rect x="561.90" y="908.20" width="3.00" height="3.00" fill="#8890C0"/>
<text x="575.40" y="912.70" font-size="8.6" text-anchor="start" fill="#000" color="#000" stroke-width="0.163" font-family="'Liberation Sans', Arial, sans-serif">shCtrl</text>
<line x1="556.80" y1="924.30" x2="570.10" y2="924.30" stroke="#B0583E" stroke-width="1.6"/>
<path d="M563.40,922.65 L564.98,925.62 L561.82,925.62 Z" fill="#B0583E"/>
<text x="575.40" y="927.30" font-size="8.6" text-anchor="start" fill="#000" color="#000" stroke-width="0.163" font-family="'Liberation Sans', Arial, sans-serif">shcircARAP2_1</text>
<line x1="556.80" y1="937.80" x2="570.10" y2="937.80" stroke="#6B8BB3" stroke-width="1.6"/>
<path d="M563.40,939.45 L564.98,936.48 L561.82,936.48 Z" fill="#6B8BB3"/>
<text x="575.40" y="940.80" font-size="8.6" text-anchor="start" fill="#000" color="#000" stroke-width="0.163" font-family="'Liberation Sans', Arial, sans-serif">shcircARAP2_2</text>
<path d="M599.20,894.90 L602.40,894.90 L602.40,910.00 L599.20,910.00" fill="none" stroke="#222" stroke-width="1.1"/>
<text x="606.40" y="905.80" font-size="7.5" text-anchor="middle" fill="#000" color="#000" stroke-width="0.142" font-family="'Liberation Sans', Arial, sans-serif">*</text>
<path d="M638.40,894.60 L643.60,894.60 L643.60,924.70 L638.40,924.70" fill="none" stroke="#222" stroke-width="1.1"/>
<text x="648.40" y="910.80" font-size="7.5" text-anchor="middle" fill="#000" color="#000" stroke-width="0.142" font-family="'Liberation Sans', Arial, sans-serif">**</text>
<path d="M645.90,894.60 L650.80,894.60 L650.80,937.60 L645.90,937.60" fill="none" stroke="#222" stroke-width="1.1"/>
<text x="656.60" y="921.30" font-size="7.5" text-anchor="middle" fill="#000" color="#000" stroke-width="0.142" font-family="'Liberation Sans', Arial, sans-serif">**</text>
<path d="M554.90,909.90 L551.30,909.90 L551.30,924.50 L554.90,924.50" fill="none" stroke="#222" stroke-width="1.1"/>
<text x="548.40" y="921.50" font-size="7.5" text-anchor="middle" fill="#000" color="#000" stroke-width="0.142" font-family="'Liberation Sans', Arial, sans-serif">*</text>
<path d="M548.40,909.90 L543.80,909.90 L543.80,937.60 L548.40,937.60" fill="none" stroke="#222" stroke-width="1.1"/>
<text x="540.90" y="928.00" font-size="7.5" text-anchor="middle" fill="#000" color="#000" stroke-width="0.142" font-family="'Liberation Sans', Arial, sans-serif">*</text>
<defs><filter id="be" x="-50%" y="-50%" width="200%" height="200%"><feGaussianBlur stdDeviation="0.3"/></filter></defs>
<line x1="50.40" y1="772.50" x2="383.00" y2="772.50" stroke="#222" stroke-width="0.9"/>
<path d="M386.7,772.5 L381.5,770.6 L381.5,774.4 Z" fill="#111"/>
<path d="M348.6,772.05 L353.6,772.05 L353.6,772.95 L348.6,772.95 Z" fill="#fff"/>
<line x1="347.60" y1="777.30" x2="352.60" y2="767.30" stroke="#222" stroke-width="0.75"/>
<line x1="350.60" y1="777.30" x2="355.60" y2="767.30" stroke="#222" stroke-width="0.75"/>
<line x1="50.50" y1="769.20" x2="50.50" y2="775.70" stroke="#222" stroke-width="0.8"/>
<text x="50.80" y="763.30" font-size="4.8" font-weight="bold" text-anchor="middle" fill="#000" color="#000" stroke-width="0.091" font-family="'Liberation Sans', Arial, sans-serif">0</text>
<line x1="70.20" y1="769.20" x2="70.20" y2="775.70" stroke="#222" stroke-width="0.8"/>
<text x="70.20" y="785.90" font-size="4.8" font-weight="bold" text-anchor="middle" fill="#000" color="#000" stroke-width="0.091" font-family="'Liberation Sans', Arial, sans-serif">3</text>
<line x1="96.30" y1="769.20" x2="96.30" y2="775.70" stroke="#222" stroke-width="0.8"/>
<text x="96.30" y="785.90" font-size="4.8" font-weight="bold" text-anchor="middle" fill="#000" color="#000" stroke-width="0.091" font-family="'Liberation Sans', Arial, sans-serif">6</text>
<line x1="118.60" y1="769.20" x2="118.60" y2="775.70" stroke="#222" stroke-width="0.8"/>
<text x="118.60" y="785.90" font-size="4.8" font-weight="bold" text-anchor="middle" fill="#000" color="#000" stroke-width="0.091" font-family="'Liberation Sans', Arial, sans-serif">7</text>
<line x1="127.30" y1="769.20" x2="127.30" y2="775.70" stroke="#222" stroke-width="0.8"/>
<text x="127.60" y="763.30" font-size="4.8" font-weight="bold" text-anchor="middle" fill="#000" color="#000" stroke-width="0.091" font-family="'Liberation Sans', Arial, sans-serif">8</text>
<line x1="152.40" y1="769.20" x2="152.40" y2="775.70" stroke="#222" stroke-width="0.8"/>
<text x="152.40" y="785.90" font-size="4.8" font-weight="bold" text-anchor="middle" fill="#000" color="#000" stroke-width="0.091" font-family="'Liberation Sans', Arial, sans-serif">9</text>
<line x1="177.30" y1="769.20" x2="177.30" y2="775.70" stroke="#222" stroke-width="0.8"/>
<text x="177.30" y="785.90" font-size="4.8" font-weight="bold" text-anchor="middle" fill="#000" color="#000" stroke-width="0.091" font-family="'Liberation Sans', Arial, sans-serif">12</text>
<line x1="205.80" y1="769.20" x2="205.80" y2="775.70" stroke="#222" stroke-width="0.8"/>
<text x="205.80" y="785.90" font-size="4.8" font-weight="bold" text-anchor="middle" fill="#000" color="#000" stroke-width="0.091" font-family="'Liberation Sans', Arial, sans-serif">14</text>
<line x1="213.30" y1="769.20" x2="213.30" y2="775.70" stroke="#222" stroke-width="0.8"/>
<text x="213.60" y="763.30" font-size="4.8" font-weight="bold" text-anchor="middle" fill="#000" color="#000" stroke-width="0.091" font-family="'Liberation Sans', Arial, sans-serif">15</text>
<line x1="259.20" y1="769.20" x2="259.20" y2="775.70" stroke="#222" stroke-width="0.8"/>
<text x="259.20" y="785.90" font-size="4.8" font-weight="bold" text-anchor="middle" fill="#000" color="#000" stroke-width="0.091" font-family="'Liberation Sans', Arial, sans-serif">18</text>
<line x1="295.20" y1="769.20" x2="295.20" y2="775.70" stroke="#222" stroke-width="0.8"/>
<text x="295.20" y="783.90" font-size="4.8" font-weight="bold" text-anchor="middle" fill="#000" color="#000" stroke-width="0.091" font-family="'Liberation Sans', Arial, sans-serif">21</text>
<circle cx="68.40" cy="766.70" r="0.85" fill="#27408a"/>
<circle cx="72.20" cy="766.70" r="0.85" fill="#27408a"/>
<circle cx="70.30" cy="769.60" r="0.85" fill="#27408a"/>
<circle cx="94.40" cy="766.70" r="0.85" fill="#27408a"/>
<circle cx="98.20" cy="766.70" r="0.85" fill="#27408a"/>
<circle cx="96.30" cy="769.60" r="0.85" fill="#27408a"/>
<circle cx="150.50" cy="766.70" r="0.85" fill="#27408a"/>
<circle cx="154.30" cy="766.70" r="0.85" fill="#27408a"/>
<circle cx="152.40" cy="769.60" r="0.85" fill="#27408a"/>
<circle cx="175.40" cy="766.70" r="0.85" fill="#27408a"/>
<circle cx="179.20" cy="766.70" r="0.85" fill="#27408a"/>
<circle cx="177.30" cy="769.60" r="0.85" fill="#27408a"/>
<circle cx="257.30" cy="766.70" r="0.85" fill="#27408a"/>
<circle cx="261.10" cy="766.70" r="0.85" fill="#27408a"/>
<circle cx="259.20" cy="769.60" r="0.85" fill="#27408a"/>
<circle cx="293.30" cy="764.30" r="0.85" fill="#27408a"/>
<circle cx="297.10" cy="764.30" r="0.85" fill="#27408a"/>
<circle cx="295.20" cy="767.20" r="0.85" fill="#27408a"/>
<circle cx="49.00" cy="781.00" r="0.85" fill="#27408a"/>
<circle cx="52.80" cy="781.00" r="0.85" fill="#27408a"/>
<circle cx="50.90" cy="783.90" r="0.85" fill="#27408a"/>
<circle cx="211.40" cy="779.80" r="0.85" fill="#27408a"/>
<circle cx="215.20" cy="779.80" r="0.85" fill="#27408a"/>
<circle cx="213.30" cy="782.70" r="0.85" fill="#27408a"/>
<text x="30.20" y="792.70" font-size="5.2" text-anchor="start" fill="#000" color="#000" stroke-width="0.099" font-family="'Liberation Sans', Arial, sans-serif">IL-2 injecton i.p.</text>
<text x="30.80" y="761.10" font-size="5.0" text-anchor="start" fill="#000" color="#000" stroke-width="0.095" font-family="'Liberation Sans', Arial, sans-serif">NCG</text>
<g transform="translate(66.00,753.80) scale(0.950)">
<path d="M-7,2.6 C-10,3.6 -13,2.8 -16,4.2 C-18.5,5.4 -20,6.0 -22.5,8.5" fill="none" stroke="#cf7f86" stroke-width="0.75"/>
<path d="M-7.5,2.8 C-8.2,-1 -5,-4.2 0,-4.4 C3.5,-4.5 5.5,-3.5 7,-2.2 L10,0.6 C10.6,1.2 10.2,2.0 9.0,2.2 L5.5,3.0 C3,4.2 -4,4.4 -7.5,2.8 Z" fill="#ece8e6" stroke="#c9c1bf" stroke-width="0.35"/>
<ellipse cx="5.2" cy="-3.1" rx="1.3" ry="1.6" fill="#efc8c8" stroke="#c9b1af" stroke-width="0.3"/>
<circle cx="7.40" cy="-1.00" r="0.35" fill="#b06060"/>
<path d="M-4,3.6 L-4.6,4.6 M2.5,3.5 L3.2,4.5" fill="none" stroke="#e0a0a0" stroke-width="0.5"/>
</g>
<g transform="translate(132.20,753.80) scale(0.950)">
<path d="M-7,2.6 C-10,3.6 -13,2.8 -16,4.2 C-18.5,5.4 -20,6.0 -22.5,8.5" fill="none" stroke="#cf7f86" stroke-width="0.75"/>
<path d="M-7.5,2.8 C-8.2,-1 -5,-4.2 0,-4.4 C3.5,-4.5 5.5,-3.5 7,-2.2 L10,0.6 C10.6,1.2 10.2,2.0 9.0,2.2 L5.5,3.0 C3,4.2 -4,4.4 -7.5,2.8 Z" fill="#ece8e6" stroke="#c9c1bf" stroke-width="0.35"/>
<ellipse cx="5.2" cy="-3.1" rx="1.3" ry="1.6" fill="#efc8c8" stroke="#c9b1af" stroke-width="0.3"/>
<circle cx="7.40" cy="-1.00" r="0.35" fill="#b06060"/>
<path d="M-4,3.6 L-4.6,4.6 M2.5,3.5 L3.2,4.5" fill="none" stroke="#e0a0a0" stroke-width="0.5"/>
</g>
<g transform="translate(219.20,753.80) scale(0.950)">
<path d="M-7,2.6 C-10,3.6 -13,2.8 -16,4.2 C-18.5,5.4 -20,6.0 -22.5,8.5" fill="none" stroke="#cf7f86" stroke-width="0.75"/>
<path d="M-7.5,2.8 C-8.2,-1 -5,-4.2 0,-4.4 C3.5,-4.5 5.5,-3.5 7,-2.2 L10,0.6 C10.6,1.2 10.2,2.0 9.0,2.2 L5.5,3.0 C3,4.2 -4,4.4 -7.5,2.8 Z" fill="#ece8e6" stroke="#c9c1bf" stroke-width="0.35"/>
<ellipse cx="5.2" cy="-3.1" rx="1.3" ry="1.6" fill="#efc8c8" stroke="#c9b1af" stroke-width="0.3"/>
<circle cx="7.40" cy="-1.00" r="0.35" fill="#b06060"/>
<path d="M-4,3.6 L-4.6,4.6 M2.5,3.5 L3.2,4.5" fill="none" stroke="#e0a0a0" stroke-width="0.5"/>
</g>
<path d="M46.50,747.00 L50.20,738.60 L59.00,745.20 Z" fill="#a9cadb" opacity="0.85"/>
<circle cx="60.00" cy="734.30" r="11.10" fill="#fff" stroke="#7aa0c0" stroke-width="0.45" stroke-dasharray="0.6,0.5"/>
<circle cx="57.70" cy="726.70" r="2.25" fill="#aa9ed6" filter="url(#be)"/>
<circle cx="57.40" cy="726.40" r="0.90" fill="#c4baea" opacity="0.7"/>
<circle cx="64.50" cy="729.60" r="2.25" fill="#d8707c" filter="url(#be)"/>
<circle cx="64.20" cy="729.30" r="0.90" fill="#ea9aa2" opacity="0.7"/>
<circle cx="52.10" cy="733.70" r="2.25" fill="#aa9ed6" filter="url(#be)"/>
<circle cx="51.80" cy="733.40" r="0.90" fill="#c4baea" opacity="0.7"/>
<circle cx="58.30" cy="732.30" r="2.25" fill="#d8707c" filter="url(#be)"/>
<circle cx="58.00" cy="732.00" r="0.90" fill="#ea9aa2" opacity="0.7"/>
<circle cx="66.10" cy="735.40" r="2.25" fill="#aa9ed6" filter="url(#be)"/>
<circle cx="65.80" cy="735.10" r="0.90" fill="#c4baea" opacity="0.7"/>
<circle cx="54.40" cy="740.10" r="2.25" fill="#d8707c" filter="url(#be)"/>
<circle cx="54.10" cy="739.80" r="0.90" fill="#ea9aa2" opacity="0.7"/>
<circle cx="59.70" cy="741.30" r="2.25" fill="#aa9ed6" filter="url(#be)"/>
<circle cx="59.40" cy="741.00" r="0.90" fill="#c4baea" opacity="0.7"/>
<circle cx="64.50" cy="740.10" r="2.25" fill="#d8707c" filter="url(#be)"/>
<circle cx="64.20" cy="739.80" r="0.90" fill="#ea9aa2" opacity="0.7"/>
<g transform="translate(35.50,737.80) rotate(50.59)">
<line x1="0.00" y1="0.00" x2="3.00" y2="0.00" stroke="#9a9a9a" stroke-width="0.6"/>
<line x1="0.00" y1="-1.50" x2="0.00" y2="1.50" stroke="#9a9a9a" stroke-width="0.7"/>
<rect x="3.00" y="-1.45" width="11.18" height="2.90" fill="#e8e8ea" stroke="#8e8e92" stroke-width="0.4"/>
<line x1="5.00" y1="-1.45" x2="5.00" y2="-0.50" stroke="#888" stroke-width="0.3"/>
<line x1="6.60" y1="-1.45" x2="6.60" y2="-0.50" stroke="#888" stroke-width="0.3"/>
<line x1="8.20" y1="-1.45" x2="8.20" y2="-0.50" stroke="#888" stroke-width="0.3"/>
<line x1="9.80" y1="-1.45" x2="9.80" y2="-0.50" stroke="#888" stroke-width="0.3"/>
<rect x="10.52" y="-1.30" width="3.66" height="2.60" fill="#4a8ab8"/>
<path d="M14.18,-1.0 L16.26,-0.35 L16.26,0.35 L14.18,1.0 Z" fill="#3a7aa8"/>
<line x1="16.26" y1="0.00" x2="20.32" y2="0.00" stroke="#555" stroke-width="0.35"/>
</g>
<path d="M112.60,749.50 L113.60,741.00 L119.50,746.20 Z" fill="#a9cadb" opacity="0.85"/>
<circle cx="120.60" cy="738.40" r="7.90" fill="#fff" stroke="#7aa0c0" stroke-width="0.45" stroke-dasharray="0.6,0.5"/>
<circle cx="118.00" cy="734.60" r="2.25" fill="#aa9ed6" filter="url(#be)"/>
<circle cx="117.70" cy="734.30" r="0.90" fill="#c4baea" opacity="0.7"/>
<circle cx="123.60" cy="734.80" r="2.25" fill="#aa9ed6" filter="url(#be)"/>
<circle cx="123.30" cy="734.50" r="0.90" fill="#c4baea" opacity="0.7"/>
<circle cx="117.60" cy="740.80" r="2.25" fill="#aa9ed6" filter="url(#be)"/>
<circle cx="117.30" cy="740.50" r="0.90" fill="#c4baea" opacity="0.7"/>
<circle cx="123.30" cy="741.30" r="2.25" fill="#aa9ed6" filter="url(#be)"/>
<circle cx="123.00" cy="741.00" r="0.90" fill="#c4baea" opacity="0.7"/>
<g transform="translate(101.60,737.00) rotate(50.34)">
<line x1="0.00" y1="0.00" x2="3.00" y2="0.00" stroke="#9a9a9a" stroke-width="0.6"/>
<line x1="0.00" y1="-1.50" x2="0.00" y2="1.50" stroke="#9a9a9a" stroke-width="0.7"/>
<rect x="3.00" y="-1.45" width="10.86" height="2.90" fill="#e8e8ea" stroke="#8e8e92" stroke-width="0.4"/>
<line x1="5.00" y1="-1.45" x2="5.00" y2="-0.50" stroke="#888" stroke-width="0.3"/>
<line x1="6.60" y1="-1.45" x2="6.60" y2="-0.50" stroke="#888" stroke-width="0.3"/>
<line x1="8.20" y1="-1.45" x2="8.20" y2="-0.50" stroke="#888" stroke-width="0.3"/>
<line x1="9.80" y1="-1.45" x2="9.80" y2="-0.50" stroke="#888" stroke-width="0.3"/>
<rect x="10.31" y="-1.30" width="3.55" height="2.60" fill="#4a8ab8"/>
<path d="M13.86,-1.0 L15.79,-0.35 L15.79,0.35 L13.86,1.0 Z" fill="#3a7aa8"/>
<line x1="15.79" y1="0.00" x2="19.74" y2="0.00" stroke="#555" stroke-width="0.35"/>
</g>
<path d="M199.60,749.50 L201.40,741.00 L207.30,746.20 Z" fill="#a9cadb" opacity="0.85"/>
<circle cx="208.40" cy="738.40" r="7.90" fill="#fff" stroke="#7aa0c0" stroke-width="0.45" stroke-dasharray="0.6,0.5"/>
<circle cx="205.80" cy="734.60" r="2.25" fill="#aa9ed6" filter="url(#be)"/>
<circle cx="205.50" cy="734.30" r="0.90" fill="#c4baea" opacity="0.7"/>
<circle cx="211.40" cy="734.80" r="2.25" fill="#aa9ed6" filter="url(#be)"/>
<circle cx="211.10" cy="734.50" r="0.90" fill="#c4baea" opacity="0.7"/>
<circle cx="205.40" cy="740.80" r="2.25" fill="#aa9ed6" filter="url(#be)"/>
<circle cx="205.10" cy="740.50" r="0.90" fill="#c4baea" opacity="0.7"/>
<circle cx="211.10" cy="741.30" r="2.25" fill="#aa9ed6" filter="url(#be)"/>
<circle cx="210.80" cy="741.00" r="0.90" fill="#c4baea" opacity="0.7"/>
<g transform="translate(188.50,737.00) rotate(50.34)">
<line x1="0.00" y1="0.00" x2="3.00" y2="0.00" stroke="#9a9a9a" stroke-width="0.6"/>
<line x1="0.00" y1="-1.50" x2="0.00" y2="1.50" stroke="#9a9a9a" stroke-width="0.7"/>
<rect x="3.00" y="-1.45" width="10.86" height="2.90" fill="#e8e8ea" stroke="#8e8e92" stroke-width="0.4"/>
<line x1="5.00" y1="-1.45" x2="5.00" y2="-0.50" stroke="#888" stroke-width="0.3"/>
<line x1="6.60" y1="-1.45" x2="6.60" y2="-0.50" stroke="#888" stroke-width="0.3"/>
<line x1="8.20" y1="-1.45" x2="8.20" y2="-0.50" stroke="#888" stroke-width="0.3"/>
<line x1="9.80" y1="-1.45" x2="9.80" y2="-0.50" stroke="#888" stroke-width="0.3"/>
<rect x="10.31" y="-1.30" width="3.55" height="2.60" fill="#4a8ab8"/>
<path d="M13.86,-1.0 L15.79,-0.35 L15.79,0.35 L13.86,1.0 Z" fill="#3a7aa8"/>
<line x1="15.79" y1="0.00" x2="19.74" y2="0.00" stroke="#555" stroke-width="0.35"/>
</g>
<text x="69.10" y="723.40" font-size="5.1" text-anchor="start" fill="#000" color="#000" stroke-width="0.097" font-family="'Liberation Sans', Arial, sans-serif">K562+NK92</text>
<text x="129.80" y="732.00" font-size="5.1" text-anchor="start" fill="#000" color="#000" stroke-width="0.097" font-family="'Liberation Sans', Arial, sans-serif">NK92</text>
<text x="217.00" y="732.00" font-size="5.1" text-anchor="start" fill="#000" color="#000" stroke-width="0.097" font-family="'Liberation Sans', Arial, sans-serif">NK92</text>
<path d="M118.60,787.70 L125.40,800.90 L111.80,800.90 Z" fill="#c9ccd3"/>
<circle cx="118.60" cy="810.40" r="11.90" fill="#4c4c50"/>
<g transform="translate(118.60,810.40)">
<line x1="0.00" y1="6.50" x2="0.00" y2="14.50" stroke="#d88a8a" stroke-width="0.6"/>
<path d="M-7,-5.5 L-3,-2.5 M7,-5.5 L3,-2.5 M-6.5,8.5 L-3,6 M6.5,8.5 L3,6" fill="none" stroke="#eadede" stroke-width="1.1"/>
<path d="M-7.3,-5.8 L-6.2,-5 M7.3,-5.8 L6.2,-5 M-6.8,8.8 L-5.8,8 M6.8,8.8 L5.8,8" fill="none" stroke="#e0a0a0" stroke-width="0.8"/>
<ellipse cx="-2.1" cy="-9.0" rx="1.1" ry="1.1" fill="#e8c4c4"/>
<ellipse cx="2.1" cy="-9.0" rx="1.1" ry="1.1" fill="#e8c4c4"/>
<ellipse cx="0" cy="-7.2" rx="2.6" ry="3.0" fill="#ece8e6"/>
<ellipse cx="0" cy="1.6" rx="4.8" ry="7.2" fill="#ece8e6"/>
<ellipse cx="0" cy="2.2" rx="2.3" ry="3.1" fill="#6fb34f"/>
<line x1="4.80" y1="0.60" x2="9.00" y2="-2.60" stroke="#5aa84a" stroke-width="0.8"/>
<line x1="9.00" y1="-2.60" x2="15.50" y2="-7.20" stroke="#c8c8c8" stroke-width="0.5"/>
</g>
<path d="M205.80,787.70 L212.60,800.90 L199.00,800.90 Z" fill="#c9ccd3"/>
<circle cx="205.80" cy="810.40" r="11.90" fill="#4c4c50"/>
<g transform="translate(205.80,810.40)">
<line x1="0.00" y1="6.50" x2="0.00" y2="14.50" stroke="#d88a8a" stroke-width="0.6"/>
<path d="M-7,-5.5 L-3,-2.5 M7,-5.5 L3,-2.5 M-6.5,8.5 L-3,6 M6.5,8.5 L3,6" fill="none" stroke="#eadede" stroke-width="1.1"/>
<path d="M-7.3,-5.8 L-6.2,-5 M7.3,-5.8 L6.2,-5 M-6.8,8.8 L-5.8,8 M6.8,8.8 L5.8,8" fill="none" stroke="#e0a0a0" stroke-width="0.8"/>
<ellipse cx="-2.1" cy="-9.0" rx="1.1" ry="1.1" fill="#e8c4c4"/>
<ellipse cx="2.1" cy="-9.0" rx="1.1" ry="1.1" fill="#e8c4c4"/>
<ellipse cx="0" cy="-7.2" rx="2.6" ry="3.0" fill="#ece8e6"/>
<ellipse cx="0" cy="1.6" rx="4.8" ry="7.2" fill="#ece8e6"/>
<ellipse cx="0" cy="2.2" rx="2.3" ry="3.1" fill="#6fb34f"/>
<line x1="4.80" y1="0.60" x2="9.00" y2="-2.60" stroke="#5aa84a" stroke-width="0.8"/>
<line x1="9.00" y1="-2.60" x2="15.50" y2="-7.20" stroke="#c8c8c8" stroke-width="0.5"/>
</g>
<path d="M295.20,786.00 L302.00,800.90 L288.40,800.90 Z" fill="#c9ccd3"/>
<circle cx="295.20" cy="810.40" r="11.90" fill="#4c4c50"/>
<g transform="translate(295.20,810.40)">
<line x1="0.00" y1="6.50" x2="0.00" y2="14.50" stroke="#d88a8a" stroke-width="0.6"/>
<path d="M-7,-5.5 L-3,-2.5 M7,-5.5 L3,-2.5 M-6.5,8.5 L-3,6 M6.5,8.5 L3,6" fill="none" stroke="#eadede" stroke-width="1.1"/>
<path d="M-7.3,-5.8 L-6.2,-5 M7.3,-5.8 L6.2,-5 M-6.8,8.8 L-5.8,8 M6.8,8.8 L5.8,8" fill="none" stroke="#e0a0a0" stroke-width="0.8"/>
<ellipse cx="-2.1" cy="-9.0" rx="1.1" ry="1.1" fill="#e8c4c4"/>
<ellipse cx="2.1" cy="-9.0" rx="1.1" ry="1.1" fill="#e8c4c4"/>
<ellipse cx="0" cy="-7.2" rx="2.6" ry="3.0" fill="#ece8e6"/>
<ellipse cx="0" cy="1.6" rx="4.8" ry="7.2" fill="#ece8e6"/>
<ellipse cx="0" cy="2.2" rx="2.3" ry="3.1" fill="#6fb34f"/>
<line x1="4.80" y1="0.60" x2="9.00" y2="-2.60" stroke="#5aa84a" stroke-width="0.8"/>
<line x1="9.00" y1="-2.60" x2="15.50" y2="-7.20" stroke="#c8c8c8" stroke-width="0.5"/>
</g>
<text x="118.60" y="835.80" font-size="5.0" font-weight="bold" text-anchor="middle" fill="#000" color="#000" stroke-width="0.095" font-family="'Liberation Sans', Arial, sans-serif">bioluminescence imaging</text>
<text x="392.90" y="775.20" font-size="6.6" font-weight="bold" text-anchor="start" fill="#000" color="#000" stroke-width="0.125" font-family="'Liberation Sans', Arial, sans-serif">Day</text>
<text x="364.50" y="782.00" font-size="5.4" text-anchor="start" fill="#000" color="#000" stroke-width="0.103" font-family="'Liberation Sans', Arial, sans-serif">survival</text>
<text x="-0.20" y="13.10" font-size="18.3" font-weight="bold" text-anchor="start" fill="#000" color="#000" stroke-width="0.200" font-family="'Liberation Sans', Arial, sans-serif">A</text>
<text x="232.80" y="13.10" font-size="18.3" font-weight="bold" text-anchor="start" fill="#000" color="#000" stroke-width="0.200" font-family="'Liberation Sans', Arial, sans-serif">B</text>
<text x="0.30" y="273.90" font-size="18.3" font-weight="bold" text-anchor="start" fill="#000" color="#000" stroke-width="0.200" font-family="'Liberation Sans', Arial, sans-serif">C</text>
<text x="-0.10" y="436.90" font-size="18.3" font-weight="bold" text-anchor="start" fill="#000" color="#000" stroke-width="0.200" font-family="'Liberation Sans', Arial, sans-serif">D</text>
<text x="1.10" y="718.20" font-size="18.3" font-weight="bold" text-anchor="start" fill="#000" color="#000" stroke-width="0.200" font-family="'Liberation Sans', Arial, sans-serif">E</text>
<text x="2.20" y="869.70" font-size="18.3" font-weight="bold" text-anchor="start" fill="#000" color="#000" stroke-width="0.200" font-family="'Liberation Sans', Arial, sans-serif">F</text>
<text x="379.20" y="869.60" font-size="18.3" font-weight="bold" text-anchor="start" fill="#000" color="#000" stroke-width="0.200" font-family="'Liberation Sans', Arial, sans-serif">G</text>
</svg></body></html>
